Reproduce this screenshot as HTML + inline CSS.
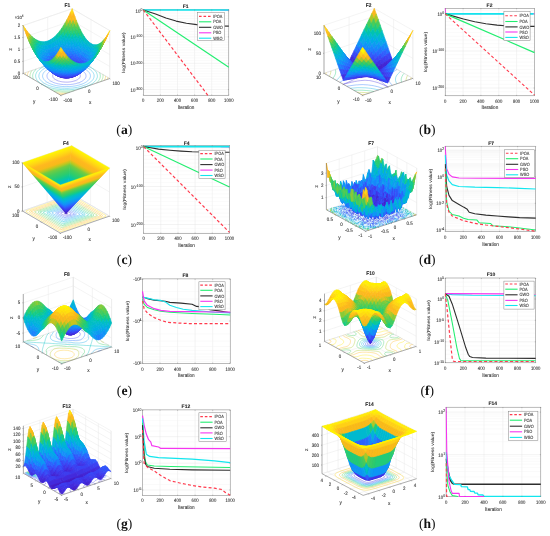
<!DOCTYPE html><html><head><meta charset="utf-8"><title>Figure</title><style>html,body{margin:0;padding:0;background:#fff}svg{display:block;text-rendering:geometricPrecision}.pl text{stroke:#444;stroke-width:.1px}.sf path{fill:currentColor;stroke:currentColor;stroke-width:7;stroke-linejoin:round}</style></head><body><svg width="550" height="536" viewBox="0 0 550 536" font-family="Liberation Sans, Arial, sans-serif"><rect width="550" height="536" fill="#fff"/><filter id="bl" x="-5%" y="-5%" width="110%" height="110%"><feGaussianBlur stdDeviation="6" result="b"/><feComponentTransfer in="b" result="c"><feFuncA type="linear" slope="30"/></feComponentTransfer><feComposite in="c" in2="SourceGraphic" operator="in"/><feGaussianBlur stdDeviation="3"/></filter><g class="pl"><path d="M60.8 95.3L23.2 73.4M23.2 73.4L23.2 25.5M85.3 86.9L47.7 65M47.7 65L47.7 17.1M109.8 78.5L72.2 56.6M72.2 56.6L72.2 8.7M60.8 95.3L23.2 73.4M23.2 73.4L23.2 25.5M109.8 78.5L72.2 56.6M72.2 56.6L72.2 8.7M60.8 95.3L109.8 78.5M109.8 78.5L109.8 30.6M42 84.3L91 67.5M91 67.5L91 19.7M23.2 73.4L72.2 56.6M72.2 56.6L72.2 8.7M60.8 95.3L109.8 78.5M109.8 78.5L109.8 30.6M23.2 73.4L72.2 56.6M72.2 56.6L72.2 8.7M23.2 73.4L72.2 56.6M72.2 56.6L109.8 78.5M23.2 61.4L72.2 44.6M72.2 44.6L109.8 66.5M23.2 49.4L72.2 32.6M72.2 32.6L109.8 54.6M23.2 37.5L72.2 20.7M72.2 20.7L109.8 42.6M23.2 25.5L72.2 8.7M72.2 8.7L109.8 30.6M23.2 73.4L72.2 56.6M72.2 56.6L109.8 78.5M23.2 25.5L72.2 8.7M72.2 8.7L109.8 30.6" stroke="#e2e2e2" stroke-width="0.4"/><g fill="none" stroke-width="4.5" transform="scale(.1)"><path stroke="#5d53ea" d="M722 815l-9 2-11 2-11 1-12 1-8 0-16 0-15-1-13-1-12-2-10-2-10-3-9-2-7-2-10-4-7-4-6-3-6-4-6-4-5-4-4-4-3-5-3-5-1-5-1-6 0-6 2-6 3-6 4-5 5-5 5-4 6-4 5-3 9-5 7-3 8-3 8-2 9-3 10-2 9-2 11-1 11-1 12-1 8 0 16 0 15 1 13 1 12 2 10 2 10 2 9 3 7 2 10 4 7 3 6 4 6 3 6 4 5 5 4 4 3 5 3 5 1 5 1 5 0 6-2 6-3 6-4 5-5 5-5 5-6 4-5 3-9 4-7 3-8 3-8 3-9 2-10 2"/><path stroke="#4f75fd" d="M729 842l-11 1-11 2-11 1-12 0-12 1-8 0-16-1-14 0-14-2-12-1-10-2-13-2-6-1-14-4-9-2-9-3-8-3-8-3-8-4-6-3-7-4-6-3-6-4-5-4-4-4-5-5-4-4-3-5-3-5-2-5-1-5-1-6 0-10 2-7 3-6 3-5 4-5 5-5 5-5 5-5 6-4 6-4 7-3 7-4 7-3 8-3 8-3 8-3 9-2 9-3 9-2 10-2 10-1 11-2 11-1 11-1 12-1 12 0 8 0 16 0 14 1 14 1 12 2 10 1 13 3 6 1 14 3 9 3 9 3 8 3 8 3 8 3 6 4 7 3 6 4 6 4 5 4 4 4 5 4 4 5 3 4 3 5 2 5 1 6 1 5 0 11-2 6-3 6-3 6-4 4-5 6-5 5-5 4-6 4-6 4-7 4-7 3-7 4-8 3-8 3-8 2-9 3-9 2-9 2-10 2-10 2"/><path stroke="#38a0fb" d="M785 852l-9 2-10 2-9 2-10 2-11 1-10 2-11 1-12 1-9 1-14 0-13 0-9 0-16 0-14-1-14-1-13-2-7-1-16-2-11-2-11-2-10-3-9-2-5-2-13-4-8-3-8-3-5-2-10-5-6-3-7-4-6-3-6-4-5-4-5-4-5-4-4-5-4-4-3-5-3-5-3-4-2-6-2-5-1-5 0-6 0-6 1-6 2-5 2-6 3-6 4-6 4-5 5-5 5-4 5-5 6-4 6-4 6-4 7-4 7-3 5-3 10-4 7-3 8-3 9-2 8-3 9-2 9-3 10-2 9-2 10-1 11-2 10-1 11-1 12-1 9-1 14-1 13 0 9 0 16 1 14 1 14 1 13 1 7 1 16 3 11 2 11 2 10 2 9 3 5 1 13 4 8 3 8 3 5 3 10 4 6 4 7 3 6 4 6 4 5 4 5 4 5 4 4 4 4 5 3 4 3 5 3 5 2 5 2 5 1 6 0 5 0 6-1 7-2 5-2 6-3 6-4 5-4 5-5 5-5 5-5 4-6 5-6 4-6 3-7 4-7 4-5 2-10 4-7 3-8 3-9 3-8 2-9 3"/><path stroke="#2bbae9" d="M780 872l-6 1-14 2-10 2-8 1-13 2-12 1-11 0-10 1-14 1-13 0-9 0-16-1-15 0-14-1-13-1-13-2-7-1-16-2-11-2-11-3-10-2-10-2-9-3-9-3-9-3-8-2-8-4-8-3-7-3-7-3-7-4-6-3-6-4-6-4-6-4-5-4-5-4-4-4-4-5-4-4-4-5-3-4-3-5-2-5-2-5-2-6-1-5 0-6 1-11 1-7 2-6 3-6 3-6 4-5 4-5 5-5 5-5 5-4 5-5 6-4 6-4 7-4 6-3 7-4 7-3 7-4 8-3 8-3 8-3 8-2 9-3 8-3 9-2 10-2 9-2 6-1 14-3 10-1 8-1 13-2 12-1 11-1 10 0 14-1 13 0 9 0 16 0 15 1 14 1 13 1 13 1 7 2 16 2 11 2 11 2 10 2 10 3 9 3 9 2 9 3 8 3 8 3 8 3 7 4 7 3 7 3 6 4 6 4 6 4 6 3 5 5 5 4 4 4 4 4 4 5 4 4 3 5 3 5 2 5 2 5 2 5 1 6 0 5-1 12-1 6-2 7-3 5-3 6-4 6-4 5-5 5-5 4-5 5-5 4-6 4-6 4-7 4-6 4-7 4-7 3-7 3-8 3-8 3-8 3-8 3-9 3-8 2-9 2-10 3-9 2"/><path stroke="#26c9cb" d="M853 869l-8 3-9 2-8 3-9 2-9 2-10 2-9 2-7 2-13 2-10 2-8 1-14 1-11 2-11 0-11 1-13 1-7 0-18 0-13 0-13 0-14-1-6 0-9-1-15-1-16-2-12-1-12-2-11-2-11-2-10-2-10-3-10-2-9-3-9-3-9-2-8-3-8-3-8-4-8-3-7-3-7-3-7-4-6-4M910 675l6 4 6 4 6 4 5 4 5 4 5 4 4 4 4 4 4 5 4 5 2 3 4 6 2 5 2 5 2 5 1 6 1 5 1 6 0 6-1 6-1 6-3 6-3 7-4 8-3 5-4 5-5 5-4 5-5 4-6 5-5 4-6 5-6 4-6 3-7 4-7 4-7 3-7 4-7 3-8 3-8 3-8 3M420 843l-6-3-6-4-6-4-5-4-5-4-5-4-4-5-4-4-4-4-4-5-2-4-4-5-2-5-2-5-2-6-1-5-1-6-1-5 0-6 1-6 1-6 3-7 3-7 4-7 3-5 4-6 5-5 4-4 5-5 6-5 5-4 6-4 6-4 6-4 7-4 7-3 7-4 7-3 7-3 8-3 8-3 8-3M477 650l8-3 9-3 8-2 9-3 9-2 10-2 9-2 7-1 13-2 10-2 8-1 14-2 11-1 11-1 11-1 13 0 7-1 18 0 13 0 13 1 14 0 6 1 9 0 15 1 16 2 12 2 12 2 11 2 11 2 10 2 10 2 10 3 9 2 9 3 9 3 8 3 8 3 8 3 8 3 7 4 7 3 7 4 6 3"/><path stroke="#49d486" d="M744 906l-7 1-11 1-12 1-12 1-12 0-9 0-16 1-13 0-14-1-6 0-8 0-7-1-7 0-6-1-10-1-15-1-14-2-12-2-9-1-13-3-6-1-15-3-6-2M994 724l4 8 2 5 1 6 1 5 1 6 0 6 0 7-1 7-2 7-2 6-3 6-3 5-4 6-4 5-3 4-5 6-5 5-5 5M336 794l-4-8-2-5-1-5-1-5-1-6 0-6 0-8 1-6 2-7 2-6 3-6 3-5 4-6 4-6 3-4 5-6 5-4 5-5M586 612l7-1 11-1 12 0 12-1 12-1 9 0 16 0 13 0 14 0 6 1 8 0 7 0 7 1 6 0 10 1 15 2 14 2 12 1 9 2 13 2 6 2 15 3 6 1"/><path stroke="#7cd464" d="M698 922l-13 0-12 1-11 0-15 0-14-1-14-1-15-1-15-1-14-1-12-2-7-1-5 0-12-2M1029 744l1 6 0 6 0 12-1 6-2 6-2 7-3 6-3 6-3 6-4 5-4 6M301 774l-1-6 0-5 0-12 1-6 2-6 2-7 3-7 3-6 3-5 4-6 4-5M632 596l13 0 12 0 11 0 15 0 14 0 14 1 15 1 15 1 14 2 12 1 7 1 5 1 12 2"/><path stroke="#f8c43c" d="M663 934l-10 0-6 0-7 0-9-1-15 0-14-1-13-1-7-1-7-1-9-1M1056 760l-1 7-1 7-1 7-2 6-3 6-3 6-2 5M274 758l1-7 1-7 1-6 2-7 3-6 3-6 2-4M667 585l10 0 6 0 7 0 9 0 15 1 14 1 13 1 7 1 7 0 9 1"/><path stroke="#ffd23b" d="M634 944l-15-1-15 0-14-1M1078 773l-1 7-2 6-2 7M252 745l1-6 2-7 2-6M696 574l15 1 15 1 14 1"/></g><g class="sf" filter="url(#bl)" transform="scale(.1)"><path color="#ffd815" d="M718 167l17-39-13-41-18 39z"/><path color="#ffb81e" d="M700 203l18-36-14-41-17 36z"/><path color="#f8ba1a" d="M683 237l17-34-13-41-18 35z"/><path color="#acc827" d="M665 269l18-32-14-40-17 31z"/><path color="#62cc4a" d="M648 298l17-29-13-41-18 29z"/><path color="#3fcc60" d="M630 325l18-27-14-41-17 27z"/><path color="#2ccc6d" d="M613 349l17-24-13-41-18 25z"/><path color="#19cb85" d="M595 371l18-22-14-40-17 21z"/><path color="#09c7a1" d="M578 391l17-20-13-41-18 20z"/><path color="#05c3b1" d="M560 408l18-17-14-41-17 17z"/><path color="#00bfc2" d="M543 422l17-14-13-41-18 14z"/><path color="#01bcc8" d="M525 434l18-12-14-41-17 12z"/><path color="#02b9cf" d="M508 444l17-10-13-41-18 10zM490 451l18-7-14-41-17 7zM473 456l17-5-13-41-18 5zM455 458l18-2-14-41-17 3z"/><path color="#01bcc8" d="M438 458l17 0-13-40-18-1z"/><path color="#00bfc2" d="M420 456l18 2-14-41-17-2z"/><path color="#05c3b1" d="M403 451l17 5-13-41-18-5z"/><path color="#09c7a1" d="M385 443l18 8-14-41-17-8z"/><path color="#19cb85" d="M368 433l17 10-13-41-18-9z"/><path color="#2ccc6d" d="M350 421l18 12-14-40-17-13z"/><path color="#3fcc60" d="M333 406l17 15-13-41-18-14z"/><path color="#62cc4a" d="M315 389l18 17-14-40-17-18z"/><path color="#acc827" d="M298 370l17 19-13-41-18-19z"/><path color="#f8ba1a" d="M280 347l18 23-14-41-17-22z"/><path color="#ffb81e" d="M263 323l17 24-13-40-18-25z"/><path color="#ffd815" d="M245 296l18 27-14-41-17-27z"/><path color="#ffb81e" d="M731 205l18-39-14-38-17 39z"/><path color="#f8ba1a" d="M714 242l17-37-13-38-18 36z"/><path color="#8aca36" d="M696 276l18-34-14-39-17 34z"/><path color="#55cc51" d="M679 307l17-31-13-39-18 32z"/><path color="#36cc67" d="M661 337l18-30-14-38-17 29z"/><path color="#23cb78" d="M644 363l17-26-13-39-18 27z"/><path color="#09c7a1" d="M626 388l18-25-14-38-17 24z"/><path color="#00bfc2" d="M609 410l17-22-13-39-18 22z"/><path color="#01bcc8" d="M591 429l18-19-14-39-17 20z"/><path color="#03b6d5" d="M574 446l17-17-13-38-18 17z"/><path color="#04b2db" d="M556 461l18-15-14-38-17 14z"/><path color="#05afe2" d="M539 473l17-12-13-39-18 12zM521 482l18-9-14-39-17 10z"/><path color="#06abe7" d="M504 490l17-8-13-38-18 7zM486 494l18-4-14-39-17 5z"/><path color="#05afe2" d="M469 497l17-3-13-38-18 2zM451 497l18 0-14-39-17 0z"/><path color="#04b2db" d="M434 494l17 3-13-39-18-2z"/><path color="#03b6d5" d="M416 489l18 5-14-38-17-5z"/><path color="#01bcc8" d="M399 482l17 7-13-38-18-8z"/><path color="#00bfc2" d="M381 472l18 10-14-39-17-10z"/><path color="#09c7a1" d="M364 459l17 13-13-39-18-12z"/><path color="#23cb78" d="M346 445l18 14-14-38-17-15z"/><path color="#36cc67" d="M329 428l17 17-13-39-18-17z"/><path color="#55cc51" d="M311 408l18 20-14-39-17-19z"/><path color="#8aca36" d="M294 386l17 22-13-38-18-23z"/><path color="#f8ba1a" d="M276 361l18 25-14-39-17-24z"/><path color="#ffb81e" d="M259 334l17 27-13-38-18-27z"/><path color="#f8ba1a" d="M745 241l17-39-13-36-18 39z"/><path color="#8aca36" d="M727 278l18-37-14-36-17 37z"/><path color="#55cc51" d="M710 312l17-34-13-36-18 34z"/><path color="#36cc67" d="M692 343l18-31-14-36-17 31z"/><path color="#19cb85" d="M675 372l17-29-13-36-18 30z"/><path color="#05c3b1" d="M657 399l18-27-14-35-17 26z"/><path color="#01bcc8" d="M640 424l17-25-13-36-18 25z"/><path color="#03b6d5" d="M622 445l18-21-14-36-17 22z"/><path color="#05afe2" d="M605 465l17-20-13-35-18 19z"/><path color="#06abe7" d="M587 482l18-17-14-36-17 17z"/><path color="#09a6eb" d="M570 496l17-14-13-36-18 15z"/><path color="#0ca0ee" d="M552 509l18-13-14-35-17 12z"/><path color="#0e9bf2" d="M535 518l17-9-13-36-18 9zM517 525l18-7-14-36-17 8zM500 530l17-5-13-35-18 4zM482 533l18-3-14-36-17 3z"/><path color="#0ca0ee" d="M465 532l17 1-13-36-18 0z"/><path color="#09a6eb" d="M447 530l18 2-14-35-17-3z"/><path color="#06abe7" d="M430 525l17 5-13-36-18-5z"/><path color="#05afe2" d="M412 518l18 7-14-36-17-7z"/><path color="#03b6d5" d="M395 508l17 10-13-36-18-10z"/><path color="#01bcc8" d="M377 495l18 13-14-36-17-13z"/><path color="#05c3b1" d="M360 481l17 14-13-36-18-14z"/><path color="#19cb85" d="M342 463l18 18-14-36-17-17z"/><path color="#36cc67" d="M325 444l17 19-13-35-18-20z"/><path color="#55cc51" d="M307 422l18 22-14-36-17-22z"/><path color="#8aca36" d="M290 397l17 25-13-36-18-25z"/><path color="#f8ba1a" d="M272 370l18 27-14-36-17-27z"/><path color="#acc827" d="M758 274l18-38-14-34-17 39z"/><path color="#55cc51" d="M741 311l17-37-13-33-18 37z"/><path color="#36cc67" d="M723 345l18-34-14-33-17 34z"/><path color="#19cb85" d="M706 377l17-32-13-33-18 31z"/><path color="#05c3b1" d="M688 406l18-29-14-34-17 29z"/><path color="#02b9cf" d="M671 433l17-27-13-34-18 27z"/><path color="#04b2db" d="M653 457l18-24-14-34-17 25z"/><path color="#06abe7" d="M636 479l17-22-13-33-18 21z"/><path color="#0ca0ee" d="M618 498l18-19-14-34-17 20z"/><path color="#0e9bf2" d="M601 515l17-17-13-33-18 17z"/><path color="#1195f6" d="M583 530l18-15-14-33-17 14z"/><path color="#1490f9" d="M566 542l17-12-13-34-18 13z"/><path color="#1888fb" d="M548 552l18-10-14-33-17 9zM531 559l17-7-13-34-18 7zM513 564l18-5-14-34-17 5zM496 566l17-2-13-34-18 3z"/><path color="#1490f9" d="M478 566l18 0-14-33-17-1z"/><path color="#1195f6" d="M461 563l17 3-13-34-18-2z"/><path color="#0e9bf2" d="M443 558l18 5-14-33-17-5z"/><path color="#0ca0ee" d="M426 551l17 7-13-33-18-7z"/><path color="#06abe7" d="M408 541l18 10-14-33-17-10z"/><path color="#04b2db" d="M391 529l17 12-13-33-18-13z"/><path color="#02b9cf" d="M373 514l18 15-14-34-17-14z"/><path color="#05c3b1" d="M356 497l17 17-13-33-18-18z"/><path color="#19cb85" d="M338 477l18 20-14-34-17-19z"/><path color="#36cc67" d="M321 455l17 22-13-33-18-22z"/><path color="#55cc51" d="M303 431l18 24-14-33-17-25z"/><path color="#acc827" d="M286 404l17 27-13-34-18-27z"/><path color="#62cc4a" d="M772 306l17-39-13-31-18 38z"/><path color="#36cc67" d="M754 342l18-36-14-32-17 37z"/><path color="#19cb85" d="M737 376l17-34-13-31-18 34z"/><path color="#05c3b1" d="M719 408l18-32-14-31-17 32z"/><path color="#02b9cf" d="M702 437l17-29-13-31-18 29z"/><path color="#05afe2" d="M684 464l18-27-14-31-17 27z"/><path color="#09a6eb" d="M667 488l17-24-13-31-18 24z"/><path color="#0e9bf2" d="M649 510l18-22-14-31-17 22z"/><path color="#1490f9" d="M632 529l17-19-13-31-18 19z"/><path color="#1888fb" d="M614 546l18-17-14-31-17 17z"/><path color="#1e7efc" d="M597 561l17-15-13-31-18 15z"/><path color="#2375fd" d="M579 573l18-12-14-31-17 12z"/><path color="#286cfe" d="M562 583l17-10-13-31-18 10zM544 590l18-7-14-31-17 7zM527 595l17-5-13-31-18 5zM509 597l18-2-14-31-17 2z"/><path color="#2375fd" d="M492 597l17 0-13-31-18 0z"/><path color="#1e7efc" d="M474 594l18 3-14-31-17-3z"/><path color="#1888fb" d="M457 589l17 5-13-31-18-5z"/><path color="#1490f9" d="M439 582l18 7-14-31-17-7z"/><path color="#0e9bf2" d="M422 572l17 10-13-31-18-10z"/><path color="#09a6eb" d="M404 560l18 12-14-31-17-12z"/><path color="#05afe2" d="M387 545l17 15-13-31-18-15z"/><path color="#02b9cf" d="M369 528l18 17-14-31-17-17z"/><path color="#05c3b1" d="M352 508l17 20-13-31-18-20z"/><path color="#19cb85" d="M334 486l18 22-14-31-17-22z"/><path color="#36cc67" d="M317 462l17 24-13-31-18-24z"/><path color="#62cc4a" d="M299 435l18 27-14-31-17-27z"/><path color="#3fcc60" d="M785 334l18-39-14-28-17 39z"/><path color="#23cb78" d="M768 371l17-37-13-28-18 36z"/><path color="#05c3b1" d="M750 405l18-34-14-29-17 34z"/><path color="#02b9cf" d="M733 436l17-31-13-29-18 32z"/><path color="#05afe2" d="M715 466l18-30-14-28-17 29z"/><path color="#09a6eb" d="M698 492l17-26-13-29-18 27z"/><path color="#1195f6" d="M680 517l18-25-14-28-17 24z"/><path color="#1888fb" d="M663 539l17-22-13-29-18 22z"/><path color="#1e7efc" d="M645 558l18-19-14-29-17 19z"/><path color="#286cfe" d="M628 575l17-17-13-29-18 17z"/><path color="#2d63fe" d="M610 590l18-15-14-29-17 15z"/><path color="#315bfc" d="M593 602l17-12-13-29-18 12zM575 611l18-9-14-29-17 10z"/><path color="#3452f9" d="M558 619l17-8-13-28-18 7zM540 623l18-4-14-29-17 5z"/><path color="#315bfc" d="M523 626l17-3-13-28-18 2zM505 626l18 0-14-29-17 0z"/><path color="#2d63fe" d="M488 623l17 3-13-29-18-3z"/><path color="#286cfe" d="M470 618l18 5-14-29-17-5z"/><path color="#1e7efc" d="M453 611l17 7-13-29-18-7z"/><path color="#1888fb" d="M435 601l18 10-14-29-17-10z"/><path color="#1195f6" d="M418 588l17 13-13-29-18-12z"/><path color="#09a6eb" d="M400 574l18 14-14-28-17-15z"/><path color="#05afe2" d="M383 557l17 17-13-29-18-17z"/><path color="#02b9cf" d="M365 537l18 20-14-29-17-20z"/><path color="#05c3b1" d="M348 515l17 22-13-29-18-22z"/><path color="#23cb78" d="M330 490l18 25-14-29-17-24z"/><path color="#3fcc60" d="M313 463l17 27-13-28-18-27z"/><path color="#2ccc6d" d="M798 360l18-39-13-26-18 39z"/><path color="#09c7a1" d="M781 397l17-37-13-26-17 37z"/><path color="#01bcc8" d="M763 431l18-34-13-26-18 34z"/><path color="#04b2db" d="M746 462l17-31-13-26-17 31z"/><path color="#09a6eb" d="M728 492l18-30-13-26-18 30z"/><path color="#1195f6" d="M711 518l17-26-13-26-17 26z"/><path color="#1888fb" d="M693 543l18-25-13-26-18 25z"/><path color="#2375fd" d="M676 565l17-22-13-26-17 22z"/><path color="#2d63fe" d="M658 584l18-19-13-26-18 19z"/><path color="#315bfc" d="M641 601l17-17-13-26-17 17z"/><path color="#3452f9" d="M623 616l18-15-13-26-18 15z"/><path color="#384af6" d="M606 628l17-12-13-26-17 12z"/><path color="#3b43f3" d="M588 637l18-9-13-26-18 9zM571 645l17-8-13-26-17 8zM553 649l18-4-13-26-18 4zM536 652l17-3-13-26-17 3z"/><path color="#384af6" d="M518 652l18 0-13-26-18 0z"/><path color="#3452f9" d="M501 649l17 3-13-26-17-3z"/><path color="#315bfc" d="M483 644l18 5-13-26-18-5z"/><path color="#2d63fe" d="M466 637l17 7-13-26-17-7z"/><path color="#2375fd" d="M448 627l18 10-13-26-18-10z"/><path color="#1888fb" d="M431 615l17 12-13-26-17-13z"/><path color="#1195f6" d="M414 600l17 15-13-27-18-14z"/><path color="#09a6eb" d="M396 583l18 17-14-26-17-17z"/><path color="#04b2db" d="M379 563l17 20-13-26-18-20z"/><path color="#01bcc8" d="M361 541l18 22-14-26-17-22z"/><path color="#09c7a1" d="M344 516l17 25-13-26-18-25z"/><path color="#2ccc6d" d="M326 489l18 27-14-26-17-27z"/><path color="#19cb85" d="M812 384l17-39-13-24-18 39z"/><path color="#00bfc2" d="M794 420l18-36-14-24-17 37z"/><path color="#03b6d5" d="M777 455l17-35-13-23-18 34z"/><path color="#06abe7" d="M759 486l18-31-14-24-17 31z"/><path color="#0e9bf2" d="M742 515l17-29-13-24-18 30z"/><path color="#1888fb" d="M724 542l18-27-14-23-17 26z"/><path color="#2375fd" d="M707 566l17-24-13-24-18 25z"/><path color="#2d63fe" d="M689 588l18-22-14-23-17 22z"/><path color="#3452f9" d="M672 608l17-20-13-23-18 19z"/><path color="#384af6" d="M654 625l18-17-14-24-17 17z"/><path color="#3b43f3" d="M637 639l17-14-13-24-18 15z"/><path color="#3d3dee" d="M619 651l18-12-14-23-17 12z"/><path color="#3f37e8" d="M602 661l17-10-13-23-18 9zM584 668l18-7-14-24-17 8zM567 673l17-5-13-23-18 4zM549 675l18-2-14-24-17 3z"/><path color="#3d3dee" d="M532 675l17 0-13-23-18 0z"/><path color="#3b43f3" d="M514 673l18 2-14-23-17-3z"/><path color="#384af6" d="M497 668l17 5-13-24-18-5z"/><path color="#3452f9" d="M479 660l18 8-14-24-17-7z"/><path color="#2d63fe" d="M462 651l17 9-13-23-18-10z"/><path color="#2375fd" d="M444 638l18 13-14-24-17-12z"/><path color="#1888fb" d="M427 624l17 14-13-23-17-15z"/><path color="#0e9bf2" d="M409 606l18 18-13-24-18-17z"/><path color="#06abe7" d="M392 587l17 19-13-23-17-20z"/><path color="#03b6d5" d="M374 565l18 22-13-24-18-22z"/><path color="#00bfc2" d="M357 540l17 25-13-24-17-25z"/><path color="#19cb85" d="M339 513l18 27-13-24-18-27z"/><path color="#09c7a1" d="M825 405l18-39-14-21-17 39z"/><path color="#01bcc8" d="M808 442l17-37-13-21-18 36z"/><path color="#05afe2" d="M790 476l18-34-14-22-17 35z"/><path color="#0ca0ee" d="M773 507l17-31-13-21-18 31z"/><path color="#1490f9" d="M755 537l18-30-14-21-17 29z"/><path color="#1e7efc" d="M738 563l17-26-13-22-18 27z"/><path color="#2d63fe" d="M720 588l18-25-14-21-17 24z"/><path color="#3452f9" d="M703 610l17-22-13-22-18 22z"/><path color="#384af6" d="M685 629l18-19-14-22-17 20z"/><path color="#3d3dee" d="M668 646l17-17-13-21-18 17z"/><path color="#3f37e8" d="M650 661l18-15-14-21-17 14z"/><path color="#4131e3" d="M633 673l17-12-13-22-18 12zM615 682l18-9-14-22-17 10z"/><path color="#432cdd" d="M598 690l17-8-13-21-18 7zM580 694l18-4-14-22-17 5z"/><path color="#4131e3" d="M563 697l17-3-13-21-18 2zM545 697l18 0-14-22-17 0z"/><path color="#3f37e8" d="M528 694l17 3-13-22-18-2z"/><path color="#3d3dee" d="M510 689l18 5-14-21-17-5z"/><path color="#384af6" d="M493 682l17 7-13-21-18-8z"/><path color="#3452f9" d="M475 672l18 10-14-22-17-9z"/><path color="#2d63fe" d="M458 660l17 12-13-21-18-13z"/><path color="#1e7efc" d="M440 645l18 15-14-22-17-14z"/><path color="#1490f9" d="M423 628l17 17-13-21-18-18z"/><path color="#0ca0ee" d="M405 608l18 20-14-22-17-19z"/><path color="#05afe2" d="M388 586l17 22-13-21-18-22z"/><path color="#01bcc8" d="M370 561l18 25-14-21-17-25z"/><path color="#09c7a1" d="M353 534l17 27-13-21-18-27z"/><path color="#05c3b1" d="M839 424l17-39-13-19-18 39z"/><path color="#03b6d5" d="M821 461l18-37-14-19-17 37z"/><path color="#06abe7" d="M804 495l17-34-13-19-18 34z"/><path color="#0e9bf2" d="M786 526l18-31-14-19-17 31z"/><path color="#1888fb" d="M769 555l17-29-13-19-18 30z"/><path color="#286cfe" d="M751 582l18-27-14-18-17 26z"/><path color="#315bfc" d="M734 607l17-25-13-19-18 25z"/><path color="#384af6" d="M716 628l18-21-14-19-17 22z"/><path color="#3d3dee" d="M699 648l17-20-13-18-18 19z"/><path color="#3f37e8" d="M681 665l18-17-14-19-17 17z"/><path color="#4131e3" d="M664 679l17-14-13-19-18 15z"/><path color="#432cdd" d="M646 692l18-13-14-18-17 12z"/><path color="#4327d5" d="M629 701l17-9-13-19-18 9zM611 708l18-7-14-19-17 8zM594 713l17-5-13-18-18 4zM576 716l18-3-14-19-17 3z"/><path color="#432cdd" d="M559 715l17 1-13-19-18 0z"/><path color="#4131e3" d="M541 713l18 2-14-18-17-3z"/><path color="#3f37e8" d="M524 708l17 5-13-19-18-5z"/><path color="#3d3dee" d="M506 701l18 7-14-19-17-7z"/><path color="#384af6" d="M489 691l17 10-13-19-18-10z"/><path color="#315bfc" d="M471 678l18 13-14-19-17-12z"/><path color="#286cfe" d="M454 664l17 14-13-18-18-15z"/><path color="#1888fb" d="M436 646l18 18-14-19-17-17z"/><path color="#0e9bf2" d="M419 627l17 19-13-18-18-20z"/><path color="#06abe7" d="M401 605l18 22-14-19-17-22z"/><path color="#03b6d5" d="M384 580l17 25-13-19-18-25z"/><path color="#05c3b1" d="M366 553l18 27-14-19-17-27z"/><path color="#00bfc2" d="M852 440l18-39-14-16-17 39z"/><path color="#04b2db" d="M835 477l17-37-13-16-18 37z"/><path color="#09a6eb" d="M817 511l18-34-14-16-17 34z"/><path color="#1195f6" d="M800 543l17-32-13-16-18 31z"/><path color="#1e7efc" d="M782 572l18-29-14-17-17 29z"/><path color="#2d63fe" d="M765 599l17-27-13-17-18 27z"/><path color="#3452f9" d="M747 623l18-24-14-17-17 25z"/><path color="#3b43f3" d="M730 645l17-22-13-16-18 21z"/><path color="#3f37e8" d="M712 664l18-19-14-17-17 20z"/><path color="#4131e3" d="M695 681l17-17-13-16-18 17z"/><path color="#432cdd" d="M677 696l18-15-14-16-17 14z"/><path color="#4327d5" d="M660 708l17-12-13-17-18 13z"/><path color="#4423ce" d="M642 718l18-10-14-16-17 9zM625 725l17-7-13-17-18 7zM607 730l18-5-14-17-17 5zM590 732l17-2-13-17-18 3z"/><path color="#4327d5" d="M572 732l18 0-14-16-17-1z"/><path color="#432cdd" d="M555 729l17 3-13-17-18-2z"/><path color="#4131e3" d="M537 724l18 5-14-16-17-5z"/><path color="#3f37e8" d="M520 717l17 7-13-16-18-7z"/><path color="#3b43f3" d="M502 707l18 10-14-16-17-10z"/><path color="#3452f9" d="M485 695l17 12-13-16-18-13z"/><path color="#2d63fe" d="M467 680l18 15-14-17-17-14z"/><path color="#1e7efc" d="M450 663l17 17-13-16-18-18z"/><path color="#1195f6" d="M432 643l18 20-14-17-17-19z"/><path color="#09a6eb" d="M415 621l17 22-13-16-18-22z"/><path color="#04b2db" d="M397 597l18 24-14-16-17-25z"/><path color="#00bfc2" d="M380 570l17 27-13-17-18-27z"/><path color="#01bcc8" d="M866 454l17-39-13-14-18 39z"/><path color="#05afe2" d="M848 491l18-37-14-14-17 37z"/><path color="#0ca0ee" d="M831 525l17-34-13-14-18 34z"/><path color="#1490f9" d="M813 557l18-32-14-14-17 32z"/><path color="#2375fd" d="M796 586l17-29-13-14-18 29z"/><path color="#315bfc" d="M778 613l18-27-14-14-17 27z"/><path color="#384af6" d="M761 637l17-24-13-14-18 24z"/><path color="#3d3dee" d="M743 659l18-22-14-14-17 22z"/><path color="#4131e3" d="M726 678l17-19-13-14-18 19z"/><path color="#432cdd" d="M708 695l18-17-14-14-17 17z"/><path color="#4327d5" d="M691 710l17-15-13-14-18 15z"/><path color="#4423ce" d="M673 722l18-12-14-14-17 12z"/><path color="#441ec7" d="M656 732l17-10-13-14-18 10zM638 739l18-7-14-14-17 7zM621 744l17-5-13-14-18 5zM603 746l18-2-14-14-17 2z"/><path color="#4423ce" d="M586 746l17 0-13-14-18 0z"/><path color="#4327d5" d="M568 743l18 3-14-14-17-3z"/><path color="#432cdd" d="M551 738l17 5-13-14-18-5z"/><path color="#4131e3" d="M533 731l18 7-14-14-17-7z"/><path color="#3d3dee" d="M516 721l17 10-13-14-18-10z"/><path color="#384af6" d="M498 709l18 12-14-14-17-12z"/><path color="#315bfc" d="M481 694l17 15-13-14-18-15z"/><path color="#2375fd" d="M463 677l18 17-14-14-17-17z"/><path color="#1490f9" d="M446 657l17 20-13-14-18-20z"/><path color="#0ca0ee" d="M428 635l18 22-14-14-17-22z"/><path color="#05afe2" d="M411 611l17 24-13-14-18-24z"/><path color="#01bcc8" d="M393 584l18 27-14-14-17-27z"/><path color="#02b9cf" d="M879 466l18-39-14-12-17 39z"/><path color="#05afe2" d="M862 502l17-36-13-12-18 37z"/><path color="#0e9bf2" d="M844 536l18-34-14-11-17 34z"/><path color="#1888fb" d="M827 568l17-32-13-11-18 32z"/><path color="#286cfe" d="M809 597l18-29-14-11-17 29z"/><path color="#315bfc" d="M792 624l17-27-13-11-18 27z"/><path color="#3b43f3" d="M774 648l18-24-14-11-17 24z"/><path color="#3f37e8" d="M757 670l17-22-13-11-18 22z"/><path color="#4131e3" d="M739 690l18-20-14-11-17 19z"/><path color="#4327d5" d="M722 707l17-17-13-12-18 17z"/><path color="#4423ce" d="M704 721l18-14-14-12-17 15z"/><path color="#441ec7" d="M687 733l17-12-13-11-18 12zM669 743l18-10-14-11-17 10z"/><path color="#451abf" d="M652 750l17-7-13-11-18 7zM634 755l18-5-14-11-17 5z"/><path color="#441ec7" d="M617 757l17-2-13-11-18 2zM599 757l18 0-14-11-17 0z"/><path color="#4423ce" d="M582 755l17 2-13-11-18-3z"/><path color="#4327d5" d="M564 750l18 5-14-12-17-5z"/><path color="#4131e3" d="M547 742l17 8-13-12-18-7z"/><path color="#3f37e8" d="M529 732l18 10-14-11-17-10z"/><path color="#3b43f3" d="M512 720l17 12-13-11-18-12z"/><path color="#315bfc" d="M494 705l18 15-14-11-17-15z"/><path color="#286cfe" d="M477 688l17 17-13-11-18-17z"/><path color="#1888fb" d="M459 669l18 19-14-11-17-20z"/><path color="#0e9bf2" d="M442 647l17 22-13-12-18-22z"/><path color="#05afe2" d="M424 622l18 25-14-12-17-24z"/><path color="#02b9cf" d="M407 595l17 27-13-11-18-27zM892 475l18-39-13-9-18 39z"/><path color="#06abe7" d="M875 511l17-36-13-9-17 36z"/><path color="#0e9bf2" d="M857 545l18-34-13-9-18 34z"/><path color="#1888fb" d="M840 577l17-32-13-9-17 32z"/><path color="#286cfe" d="M822 606l18-29-13-9-18 29z"/><path color="#3452f9" d="M805 633l17-27-13-9-17 27z"/><path color="#3b43f3" d="M787 657l18-24-13-9-18 24z"/><path color="#3f37e8" d="M770 679l17-22-13-9-17 22z"/><path color="#432cdd" d="M752 699l18-20-13-9-18 20z"/><path color="#4327d5" d="M735 716l17-17-13-9-17 17z"/><path color="#4423ce" d="M717 730l18-14-13-9-18 14z"/><path color="#441ec7" d="M700 742l17-12-13-9-17 12z"/><path color="#451abf" d="M682 752l18-10-13-9-18 10zM665 759l17-7-13-9-17 7zM648 764l17-5-13-9-18 5zM630 766l18-2-14-9-17 2z"/><path color="#441ec7" d="M613 766l17 0-13-9-18 0z"/><path color="#4423ce" d="M595 764l18 2-14-9-17-2z"/><path color="#4327d5" d="M578 759l17 5-13-9-18-5z"/><path color="#432cdd" d="M560 751l18 8-14-9-17-8z"/><path color="#3f37e8" d="M543 742l17 9-13-9-18-10z"/><path color="#3b43f3" d="M525 729l18 13-14-10-17-12z"/><path color="#3452f9" d="M508 714l17 15-13-9-18-15z"/><path color="#286cfe" d="M490 697l18 17-14-9-17-17z"/><path color="#1888fb" d="M473 678l17 19-13-9-18-19z"/><path color="#0e9bf2" d="M455 656l18 22-14-9-17-22z"/><path color="#06abe7" d="M438 631l17 25-13-9-18-25z"/><path color="#02b9cf" d="M420 604l18 27-14-9-17-27zM906 481l17-38-13-7-18 39z"/><path color="#06abe7" d="M888 518l18-37-14-6-17 36z"/><path color="#0e9bf2" d="M871 552l17-34-13-7-18 34z"/><path color="#1888fb" d="M853 584l18-32-14-7-17 32z"/><path color="#286cfe" d="M836 613l17-29-13-7-18 29z"/><path color="#3452f9" d="M818 640l18-27-14-7-17 27z"/><path color="#3b43f3" d="M801 664l17-24-13-7-18 24z"/><path color="#3f37e8" d="M783 686l18-22-14-7-17 22z"/><path color="#432cdd" d="M766 705l17-19-13-7-18 20z"/><path color="#4327d5" d="M748 722l18-17-14-6-17 17z"/><path color="#4423ce" d="M731 737l17-15-13-6-18 14z"/><path color="#441ec7" d="M713 749l18-12-14-7-17 12z"/><path color="#451abf" d="M696 759l17-10-13-7-18 10zM678 766l18-7-14-7-17 7zM661 771l17-5-13-7-17 5zM643 773l18-2-13-7-18 2z"/><path color="#441ec7" d="M626 773l17 0-13-7-17 0z"/><path color="#4423ce" d="M608 770l18 3-13-7-18-2z"/><path color="#4327d5" d="M591 765l17 5-13-6-17-5z"/><path color="#432cdd" d="M573 758l18 7-13-6-18-8z"/><path color="#3f37e8" d="M556 748l17 10-13-7-17-9z"/><path color="#3b43f3" d="M538 736l18 12-13-6-18-13z"/><path color="#3452f9" d="M521 721l17 15-13-7-17-15z"/><path color="#286cfe" d="M503 704l18 17-13-7-18-17z"/><path color="#1888fb" d="M486 684l17 20-13-7-17-19z"/><path color="#0e9bf2" d="M468 662l18 22-13-6-18-22z"/><path color="#06abe7" d="M451 638l17 24-13-6-17-25z"/><path color="#02b9cf" d="M433 611l18 27-13-7-18-27zM919 486l18-39-14-4-17 38z"/><path color="#05afe2" d="M902 522l17-36-13-5-18 37z"/><path color="#0e9bf2" d="M884 556l18-34-14-4-17 34z"/><path color="#1888fb" d="M867 588l17-32-13-4-18 32z"/><path color="#286cfe" d="M849 617l18-29-14-4-17 29z"/><path color="#315bfc" d="M832 644l17-27-13-4-18 27z"/><path color="#3b43f3" d="M814 668l18-24-14-4-17 24z"/><path color="#3f37e8" d="M797 690l17-22-13-4-18 22z"/><path color="#4131e3" d="M779 709l18-19-14-4-17 19z"/><path color="#4327d5" d="M762 726l17-17-13-4-18 17z"/><path color="#4423ce" d="M744 741l18-15-14-4-17 15z"/><path color="#441ec7" d="M727 753l17-12-13-4-18 12zM709 763l18-10-14-4-17 10z"/><path color="#451abf" d="M692 770l17-7-13-4-18 7zM674 775l18-5-14-4-17 5z"/><path color="#441ec7" d="M657 777l17-2-13-4-18 2zM639 777l18 0-14-4-17 0z"/><path color="#4423ce" d="M622 775l17 2-13-4-18-3z"/><path color="#4327d5" d="M604 770l18 5-14-5-17-5z"/><path color="#4131e3" d="M587 762l17 8-13-5-18-7z"/><path color="#3f37e8" d="M569 752l18 10-14-4-17-10z"/><path color="#3b43f3" d="M552 740l17 12-13-4-18-12z"/><path color="#315bfc" d="M534 725l18 15-14-4-17-15z"/><path color="#286cfe" d="M517 708l17 17-13-4-18-17z"/><path color="#1888fb" d="M499 688l18 20-14-4-17-20z"/><path color="#0e9bf2" d="M482 666l17 22-13-4-18-22z"/><path color="#05afe2" d="M464 642l18 24-14-4-17-24z"/><path color="#02b9cf" d="M447 615l17 27-13-4-18-27z"/><path color="#01bcc8" d="M933 487l17-39-13-1-18 39z"/><path color="#05afe2" d="M915 524l18-37-14-1-17 36z"/><path color="#0ca0ee" d="M898 558l17-34-13-2-18 34z"/><path color="#1490f9" d="M880 590l18-32-14-2-17 32z"/><path color="#2375fd" d="M863 619l17-29-13-2-18 29z"/><path color="#315bfc" d="M845 646l18-27-14-2-17 27z"/><path color="#384af6" d="M828 670l17-24-13-2-18 24z"/><path color="#3d3dee" d="M810 692l18-22-14-2-17 22z"/><path color="#4131e3" d="M793 711l17-19-13-2-18 19z"/><path color="#432cdd" d="M775 728l18-17-14-2-17 17z"/><path color="#4327d5" d="M758 743l17-15-13-2-18 15z"/><path color="#4423ce" d="M740 755l18-12-14-2-17 12z"/><path color="#441ec7" d="M723 765l17-10-13-2-18 10zM705 772l18-7-14-2-17 7zM688 777l17-5-13-2-18 5zM670 779l18-2-14-2-17 2z"/><path color="#4423ce" d="M653 779l17 0-13-2-18 0z"/><path color="#4327d5" d="M635 776l18 3-14-2-17-2z"/><path color="#432cdd" d="M618 771l17 5-13-1-18-5z"/><path color="#4131e3" d="M600 764l18 7-14-1-17-8z"/><path color="#3d3dee" d="M583 754l17 10-13-2-18-10z"/><path color="#384af6" d="M565 742l18 12-14-2-17-12z"/><path color="#315bfc" d="M548 727l17 15-13-2-18-15z"/><path color="#2375fd" d="M530 710l18 17-14-2-17-17z"/><path color="#1490f9" d="M513 690l17 20-13-2-18-20z"/><path color="#0ca0ee" d="M495 668l18 22-14-2-17-22z"/><path color="#05afe2" d="M478 644l17 24-13-2-18-24z"/><path color="#01bcc8" d="M460 617l18 27-14-2-17-27z"/><path color="#00bfc2" d="M946 487l18-39-14 0-17 39z"/><path color="#04b2db" d="M929 523l17-36-13 0-18 37z"/><path color="#09a6eb" d="M911 557l18-34-14 1-17 34z"/><path color="#1195f6" d="M894 589l17-32-13 1-18 32z"/><path color="#1e7efc" d="M876 618l18-29-14 1-17 29z"/><path color="#2d63fe" d="M859 645l17-27-13 1-18 27z"/><path color="#3452f9" d="M841 669l18-24-14 1-17 24z"/><path color="#3b43f3" d="M824 691l17-22-13 1-18 22z"/><path color="#3f37e8" d="M806 711l18-20-14 1-17 19z"/><path color="#4131e3" d="M789 728l17-17-13 0-18 17z"/><path color="#432cdd" d="M771 742l18-14-14 0-17 15z"/><path color="#4327d5" d="M754 754l17-12-13 1-18 12z"/><path color="#4423ce" d="M736 764l18-10-14 1-17 10zM719 771l17-7-13 1-18 7zM701 776l18-5-14 1-17 5zM684 778l17-2-13 1-18 2z"/><path color="#4327d5" d="M666 778l18 0-14 1-17 0z"/><path color="#432cdd" d="M649 776l17 2-13 1-18-3z"/><path color="#4131e3" d="M631 771l18 5-14 0-17-5z"/><path color="#3f37e8" d="M614 763l17 8-13 0-18-7z"/><path color="#3b43f3" d="M596 753l18 10-14 1-17-10z"/><path color="#3452f9" d="M579 741l17 12-13 1-18-12z"/><path color="#2d63fe" d="M561 726l18 15-14 1-17-15z"/><path color="#1e7efc" d="M544 709l17 17-13 1-18-17z"/><path color="#1195f6" d="M526 689l18 20-14 1-17-20z"/><path color="#09a6eb" d="M509 667l17 22-13 1-18-22z"/><path color="#04b2db" d="M491 643l18 24-14 1-17-24z"/><path color="#00bfc2" d="M474 616l17 27-13 1-18-27z"/><path color="#05c3b1" d="M960 483l17-38-13 3-18 39z"/><path color="#03b6d5" d="M942 520l18-37-14 4-17 36z"/><path color="#06abe7" d="M925 554l17-34-13 3-18 34z"/><path color="#0e9bf2" d="M907 586l18-32-14 3-17 32z"/><path color="#1888fb" d="M890 615l17-29-13 3-18 29z"/><path color="#286cfe" d="M872 642l18-27-14 3-17 27z"/><path color="#315bfc" d="M855 666l17-24-13 3-18 24z"/><path color="#384af6" d="M837 688l18-22-14 3-17 22z"/><path color="#3d3dee" d="M820 707l17-19-13 3-18 20z"/><path color="#3f37e8" d="M802 724l18-17-14 4-17 17z"/><path color="#4131e3" d="M785 739l17-15-13 4-18 14z"/><path color="#432cdd" d="M767 751l18-12-14 3-17 12z"/><path color="#4327d5" d="M750 761l17-10-13 3-18 10zM732 768l18-7-14 3-17 7zM715 773l17-5-13 3-18 5zM697 775l18-2-14 3-17 2z"/><path color="#432cdd" d="M680 775l17 0-13 3-18 0z"/><path color="#4131e3" d="M662 772l18 3-14 3-17-2z"/><path color="#3f37e8" d="M645 767l17 5-13 4-18-5z"/><path color="#3d3dee" d="M627 760l18 7-14 4-17-8z"/><path color="#384af6" d="M610 750l17 10-13 3-18-10z"/><path color="#315bfc" d="M592 738l18 12-14 3-17-12z"/><path color="#286cfe" d="M575 723l17 15-13 3-18-15z"/><path color="#1888fb" d="M557 706l18 17-14 3-17-17z"/><path color="#0e9bf2" d="M540 686l17 20-13 3-18-20z"/><path color="#06abe7" d="M522 664l18 22-14 3-17-22z"/><path color="#03b6d5" d="M505 640l17 24-13 3-18-24z"/><path color="#05c3b1" d="M487 613l18 27-14 3-17-27z"/><path color="#09c7a1" d="M973 478l18-39-14 6-17 38z"/><path color="#01bcc8" d="M956 514l17-36-13 5-18 37z"/><path color="#05afe2" d="M938 549l18-35-14 6-17 34z"/><path color="#0ca0ee" d="M921 580l17-31-13 5-18 32z"/><path color="#1490f9" d="M903 609l18-29-14 6-17 29z"/><path color="#1e7efc" d="M886 636l17-27-13 6-18 27z"/><path color="#2d63fe" d="M868 660l18-24-14 6-17 24z"/><path color="#3452f9" d="M851 682l17-22-13 6-18 22z"/><path color="#384af6" d="M833 702l18-20-14 6-17 19z"/><path color="#3d3dee" d="M816 719l17-17-13 5-18 17z"/><path color="#3f37e8" d="M798 733l18-14-14 5-17 15z"/><path color="#4131e3" d="M781 745l17-12-13 6-18 12zM763 755l18-10-14 6-17 10z"/><path color="#432cdd" d="M746 762l17-7-13 6-18 7zM728 767l18-5-14 6-17 5z"/><path color="#4131e3" d="M711 769l17-2-13 6-18 2zM693 769l18 0-14 6-17 0z"/><path color="#3f37e8" d="M676 767l17 2-13 6-18-3z"/><path color="#3d3dee" d="M658 762l18 5-14 5-17-5z"/><path color="#384af6" d="M641 754l17 8-13 5-18-7z"/><path color="#3452f9" d="M623 745l18 9-14 6-17-10z"/><path color="#2d63fe" d="M606 732l17 13-13 5-18-12z"/><path color="#1e7efc" d="M588 717l18 15-14 6-17-15z"/><path color="#1490f9" d="M571 700l17 17-13 6-18-17z"/><path color="#0ca0ee" d="M553 681l18 19-14 6-17-20z"/><path color="#05afe2" d="M536 659l17 22-13 5-18-22z"/><path color="#01bcc8" d="M518 634l18 25-14 5-17-24z"/><path color="#09c7a1" d="M501 607l17 27-13 6-18-27z"/><path color="#19cb85" d="M986 470l18-39-13 8-18 39z"/><path color="#00bfc2" d="M969 506l17-36-13 8-17 36z"/><path color="#03b6d5" d="M951 540l18-34-13 8-18 35z"/><path color="#06abe7" d="M934 572l17-32-13 9-17 31z"/><path color="#0e9bf2" d="M916 601l18-29-13 8-18 29z"/><path color="#1888fb" d="M899 628l17-27-13 8-17 27z"/><path color="#2375fd" d="M881 652l18-24-13 8-18 24z"/><path color="#2d63fe" d="M864 674l17-22-13 8-17 22z"/><path color="#3452f9" d="M847 694l17-20-13 8-18 20z"/><path color="#384af6" d="M829 711l18-17-14 8-17 17z"/><path color="#3b43f3" d="M812 725l17-14-13 8-18 14z"/><path color="#3d3dee" d="M794 737l18-12-14 8-17 12z"/><path color="#3f37e8" d="M777 747l17-10-13 8-18 10zM759 754l18-7-14 8-17 7zM742 759l17-5-13 8-18 5zM724 761l18-2-14 8-17 2z"/><path color="#3d3dee" d="M707 761l17 0-13 8-18 0z"/><path color="#3b43f3" d="M689 759l18 2-14 8-17-2z"/><path color="#384af6" d="M672 754l17 5-13 8-18-5z"/><path color="#3452f9" d="M654 746l18 8-14 8-17-8z"/><path color="#2d63fe" d="M637 736l17 10-13 8-18-9z"/><path color="#2375fd" d="M619 724l18 12-14 9-17-13z"/><path color="#1888fb" d="M602 709l17 15-13 8-18-15z"/><path color="#0e9bf2" d="M584 692l18 17-14 8-17-17z"/><path color="#06abe7" d="M567 673l17 19-13 8-18-19z"/><path color="#03b6d5" d="M549 651l18 22-14 8-17-22z"/><path color="#00bfc2" d="M532 626l17 25-13 8-18-25z"/><path color="#19cb85" d="M514 599l18 27-14 8-17-27z"/><path color="#2ccc6d" d="M1000 459l17-39-13 11-18 39z"/><path color="#09c7a1" d="M982 496l18-37-14 11-17 36z"/><path color="#01bcc8" d="M965 530l17-34-13 10-18 34z"/><path color="#04b2db" d="M947 562l18-32-14 10-17 32z"/><path color="#09a6eb" d="M930 591l17-29-13 10-18 29z"/><path color="#1195f6" d="M912 618l18-27-14 10-17 27z"/><path color="#1888fb" d="M895 642l17-24-13 10-18 24z"/><path color="#2375fd" d="M877 664l18-22-14 10-17 22z"/><path color="#2d63fe" d="M860 683l17-19-13 10-17 20z"/><path color="#315bfc" d="M842 700l18-17-13 11-18 17z"/><path color="#3452f9" d="M825 715l17-15-13 11-17 14z"/><path color="#384af6" d="M807 727l18-12-13 10-18 12z"/><path color="#3b43f3" d="M790 737l17-10-13 10-17 10zM772 744l18-7-13 10-18 7zM755 749l17-5-13 10-17 5zM737 751l18-2-13 10-18 2z"/><path color="#384af6" d="M720 751l17 0-13 10-17 0z"/><path color="#3452f9" d="M702 748l18 3-13 10-18-2z"/><path color="#315bfc" d="M685 743l17 5-13 11-17-5z"/><path color="#2d63fe" d="M667 736l18 7-13 11-18-8z"/><path color="#2375fd" d="M650 726l17 10-13 10-17-10z"/><path color="#1888fb" d="M632 714l18 12-13 10-18-12z"/><path color="#1195f6" d="M615 699l17 15-13 10-17-15z"/><path color="#09a6eb" d="M597 682l18 17-13 10-18-17z"/><path color="#04b2db" d="M580 662l17 20-13 10-17-19z"/><path color="#01bcc8" d="M562 640l18 22-13 11-18-22z"/><path color="#09c7a1" d="M545 616l17 24-13 11-17-25z"/><path color="#2ccc6d" d="M527 589l18 27-13 10-18-27z"/><path color="#3fcc60" d="M1013 446l18-39-14 13-17 39z"/><path color="#23cb78" d="M996 483l17-37-13 13-18 37z"/><path color="#05c3b1" d="M978 517l18-34-14 13-17 34z"/><path color="#02b9cf" d="M961 549l17-32-13 13-18 32z"/><path color="#05afe2" d="M943 578l18-29-14 13-17 29z"/><path color="#09a6eb" d="M926 605l17-27-13 13-18 27z"/><path color="#1195f6" d="M908 629l18-24-14 13-17 24z"/><path color="#1888fb" d="M891 651l17-22-13 13-18 22z"/><path color="#1e7efc" d="M873 670l18-19-14 13-17 19z"/><path color="#286cfe" d="M856 687l17-17-13 13-18 17z"/><path color="#2d63fe" d="M838 702l18-15-14 13-17 15z"/><path color="#315bfc" d="M821 714l17-12-13 13-18 12zM803 724l18-10-14 13-17 10z"/><path color="#3452f9" d="M786 731l17-7-13 13-18 7zM768 736l18-5-14 13-17 5z"/><path color="#315bfc" d="M751 738l17-2-13 13-18 2zM733 738l18 0-14 13-17 0z"/><path color="#2d63fe" d="M716 735l17 3-13 13-18-3z"/><path color="#286cfe" d="M698 730l18 5-14 13-17-5z"/><path color="#1e7efc" d="M681 723l17 7-13 13-18-7z"/><path color="#1888fb" d="M663 713l18 10-14 13-17-10z"/><path color="#1195f6" d="M646 701l17 12-13 13-18-12z"/><path color="#09a6eb" d="M628 686l18 15-14 13-17-15z"/><path color="#05afe2" d="M611 669l17 17-13 13-18-17z"/><path color="#02b9cf" d="M593 649l18 20-14 13-17-20z"/><path color="#05c3b1" d="M576 627l17 22-13 13-18-22z"/><path color="#23cb78" d="M558 603l18 24-14 13-17-24z"/><path color="#3fcc60" d="M541 576l17 27-13 13-18-27z"/><path color="#62cc4a" d="M1027 431l17-39-13 15-18 39z"/><path color="#36cc67" d="M1009 468l18-37-14 15-17 37z"/><path color="#19cb85" d="M992 502l17-34-13 15-18 34z"/><path color="#05c3b1" d="M974 533l18-31-14 15-17 32z"/><path color="#02b9cf" d="M957 563l17-30-13 16-18 29z"/><path color="#05afe2" d="M939 589l18-26-14 15-17 27z"/><path color="#09a6eb" d="M922 614l17-25-13 16-18 24z"/><path color="#0e9bf2" d="M904 635l18-21-14 15-17 22z"/><path color="#1490f9" d="M887 655l17-20-13 16-18 19z"/><path color="#1888fb" d="M869 672l18-17-14 15-17 17z"/><path color="#1e7efc" d="M852 686l17-14-13 15-18 15z"/><path color="#2375fd" d="M834 699l18-13-14 16-17 12z"/><path color="#286cfe" d="M817 708l17-9-13 15-18 10zM799 715l18-7-14 16-17 7zM782 720l17-5-13 16-18 5zM764 723l18-3-14 16-17 2z"/><path color="#2375fd" d="M747 723l17 0-13 15-18 0z"/><path color="#1e7efc" d="M729 720l18 3-14 15-17-3z"/><path color="#1888fb" d="M712 715l17 5-13 15-18-5z"/><path color="#1490f9" d="M694 708l18 7-14 15-17-7z"/><path color="#0e9bf2" d="M677 698l17 10-13 15-18-10z"/><path color="#09a6eb" d="M659 685l18 13-14 15-17-12z"/><path color="#05afe2" d="M642 671l17 14-13 16-18-15z"/><path color="#02b9cf" d="M624 653l18 18-14 15-17-17z"/><path color="#05c3b1" d="M607 634l17 19-13 16-18-20z"/><path color="#19cb85" d="M589 612l18 22-14 15-17-22z"/><path color="#36cc67" d="M572 587l17 25-13 15-18-24z"/><path color="#62cc4a" d="M554 560l18 27-14 16-17-27z"/><path color="#acc827" d="M1040 413l18-39-14 18-17 39z"/><path color="#55cc51" d="M1023 450l17-37-13 18-18 37z"/><path color="#36cc67" d="M1005 484l18-34-14 18-17 34z"/><path color="#19cb85" d="M988 516l17-32-13 18-18 31z"/><path color="#05c3b1" d="M970 545l18-29-14 17-17 30z"/><path color="#02b9cf" d="M953 571l17-26-13 18-18 26z"/><path color="#04b2db" d="M935 596l18-25-14 18-17 25z"/><path color="#06abe7" d="M918 618l17-22-13 18-18 21z"/><path color="#0ca0ee" d="M900 637l18-19-14 17-17 20z"/><path color="#0e9bf2" d="M883 654l17-17-13 18-18 17z"/><path color="#1195f6" d="M865 669l18-15-14 18-17 14z"/><path color="#1490f9" d="M848 681l17-12-13 17-18 13z"/><path color="#1888fb" d="M830 690l18-9-14 18-17 9zM813 698l17-8-13 18-18 7zM795 702l18-4-14 17-17 5zM778 705l17-3-13 18-18 3z"/><path color="#1490f9" d="M760 705l18 0-14 18-17 0z"/><path color="#1195f6" d="M743 702l17 3-13 18-18-3z"/><path color="#0e9bf2" d="M725 697l18 5-14 18-17-5z"/><path color="#0ca0ee" d="M708 690l17 7-13 18-18-7z"/><path color="#06abe7" d="M690 680l18 10-14 18-17-10z"/><path color="#04b2db" d="M673 668l17 12-13 18-18-13z"/><path color="#02b9cf" d="M655 653l18 15-14 17-17-14z"/><path color="#05c3b1" d="M638 636l17 17-13 18-18-18z"/><path color="#19cb85" d="M620 616l18 20-14 17-17-19z"/><path color="#36cc67" d="M603 594l17 22-13 18-18-22z"/><path color="#55cc51" d="M585 569l18 25-14 18-17-25z"/><path color="#acc827" d="M568 543l17 26-13 18-18-27z"/><path color="#f8ba1a" d="M1054 393l17-39-13 20-18 39z"/><path color="#8aca36" d="M1036 430l18-37-14 20-17 37z"/><path color="#55cc51" d="M1019 464l17-34-13 20-18 34z"/><path color="#36cc67" d="M1001 495l18-31-14 20-17 32z"/><path color="#19cb85" d="M984 524l17-29-13 21-18 29z"/><path color="#05c3b1" d="M966 551l18-27-14 21-17 26z"/><path color="#01bcc8" d="M949 576l17-25-13 20-18 25z"/><path color="#03b6d5" d="M931 597l18-21-14 20-17 22z"/><path color="#05afe2" d="M914 617l17-20-13 21-18 19z"/><path color="#06abe7" d="M896 634l18-17-14 20-17 17z"/><path color="#09a6eb" d="M879 648l17-14-13 20-18 15z"/><path color="#0ca0ee" d="M861 661l18-13-14 21-17 12z"/><path color="#0e9bf2" d="M844 670l17-9-13 20-18 9zM826 677l18-7-14 20-17 8zM809 682l17-5-13 21-18 4zM791 685l18-3-14 20-17 3z"/><path color="#0ca0ee" d="M774 684l17 1-13 20-18 0z"/><path color="#09a6eb" d="M756 682l18 2-14 21-17-3z"/><path color="#06abe7" d="M739 677l17 5-13 20-18-5z"/><path color="#05afe2" d="M721 670l18 7-14 20-17-7z"/><path color="#03b6d5" d="M704 660l17 10-13 20-18-10z"/><path color="#01bcc8" d="M686 647l18 13-14 20-17-12z"/><path color="#05c3b1" d="M669 633l17 14-13 21-18-15z"/><path color="#19cb85" d="M651 615l18 18-14 20-17-17z"/><path color="#36cc67" d="M634 596l17 19-13 21-18-20z"/><path color="#55cc51" d="M616 574l18 22-14 20-17-22z"/><path color="#8aca36" d="M599 549l17 25-13 20-18-25z"/><path color="#f8ba1a" d="M581 522l18 27-14 20-17-26z"/><path color="#ffb81e" d="M1067 370l18-39-14 23-17 39z"/><path color="#f8ba1a" d="M1050 407l17-37-13 23-18 37z"/><path color="#8aca36" d="M1032 441l18-34-14 23-17 34z"/><path color="#55cc51" d="M1015 473l17-32-13 23-18 31z"/><path color="#36cc67" d="M997 502l18-29-14 22-17 29z"/><path color="#23cb78" d="M980 529l17-27-13 22-18 27z"/><path color="#09c7a1" d="M962 553l18-24-14 22-17 25z"/><path color="#00bfc2" d="M945 575l17-22-13 23-18 21z"/><path color="#01bcc8" d="M927 594l18-19-14 22-17 20z"/><path color="#03b6d5" d="M910 611l17-17-13 23-18 17z"/><path color="#04b2db" d="M892 626l18-15-14 23-17 14z"/><path color="#05afe2" d="M875 638l17-12-13 22-18 13zM857 648l18-10-14 23-17 9z"/><path color="#06abe7" d="M840 655l17-7-13 22-18 7zM822 660l18-5-14 22-17 5z"/><path color="#05afe2" d="M805 662l17-2-13 22-18 3zM787 662l18 0-14 23-17-1z"/><path color="#04b2db" d="M770 659l17 3-13 22-18-2z"/><path color="#03b6d5" d="M752 654l18 5-14 23-17-5z"/><path color="#01bcc8" d="M735 647l17 7-13 23-18-7z"/><path color="#00bfc2" d="M717 637l18 10-14 23-17-10z"/><path color="#09c7a1" d="M700 625l17 12-13 23-18-13z"/><path color="#23cb78" d="M682 610l18 15-14 22-17-14z"/><path color="#36cc67" d="M665 593l17 17-13 23-18-18z"/><path color="#55cc51" d="M647 573l18 20-14 22-17-19z"/><path color="#8aca36" d="M630 551l17 22-13 23-18-22z"/><path color="#f8ba1a" d="M612 527l18 24-14 23-17-25z"/><path color="#ffb81e" d="M595 500l17 27-13 22-18-27z"/><path color="#ffd815" d="M1081 345l17-39-13 25-18 39z"/><path color="#ffb81e" d="M1063 382l18-37-14 25-17 37z"/><path color="#f8ba1a" d="M1046 416l17-34-13 25-18 34z"/><path color="#acc827" d="M1028 447l18-31-14 25-17 32z"/><path color="#62cc4a" d="M1011 477l17-30-13 26-18 29z"/><path color="#3fcc60" d="M993 503l18-26-14 25-17 27z"/><path color="#2ccc6d" d="M976 528l17-25-13 26-18 24z"/><path color="#19cb85" d="M958 550l18-22-14 25-17 22z"/><path color="#09c7a1" d="M941 569l17-19-13 25-18 19z"/><path color="#05c3b1" d="M923 586l18-17-14 25-17 17z"/><path color="#00bfc2" d="M906 601l17-15-13 25-18 15z"/><path color="#01bcc8" d="M888 613l18-12-14 25-17 12z"/><path color="#02b9cf" d="M871 622l17-9-13 25-18 10zM853 630l18-8-14 26-17 7zM836 634l17-4-13 25-18 5zM818 637l18-3-14 26-17 2z"/><path color="#01bcc8" d="M801 637l17 0-13 25-18 0z"/><path color="#00bfc2" d="M783 634l18 3-14 25-17-3z"/><path color="#05c3b1" d="M766 629l17 5-13 25-18-5z"/><path color="#09c7a1" d="M748 622l18 7-14 25-17-7z"/><path color="#19cb85" d="M731 612l17 10-13 25-18-10z"/><path color="#2ccc6d" d="M713 600l18 12-14 25-17-12z"/><path color="#3fcc60" d="M696 585l17 15-13 25-18-15z"/><path color="#62cc4a" d="M678 568l18 17-14 25-17-17z"/><path color="#acc827" d="M661 548l17 20-13 25-18-20z"/><path color="#f8ba1a" d="M643 526l18 22-14 25-17-22z"/><path color="#ffb81e" d="M626 501l17 25-13 25-18-24z"/><path color="#ffd815" d="M608 474l18 27-14 26-17-27z"/></g><path d="M60.8 95.3L109.8 78.5M60.8 95.3L23.2 73.4M23.2 73.4L23.2 25.5" stroke="#6a6a6a" stroke-width="0.5"/><path d="M60.8 95.3L61.3 96.2M85.3 86.9L85.8 87.8M109.8 78.5L110.3 79.4M60.8 95.3L60.2 96.2M42 84.3L41.4 85.2M23.2 73.4L22.6 74.3M23.2 73.4L22.2 73.4M23.2 61.4L22.2 61.4M23.2 49.4L22.2 49.4M23.2 37.5L22.2 37.5M23.2 25.5L22.2 25.5" stroke="#6a6a6a" stroke-width="0.4"/><text transform="matrix(.90 0 0 1 63.4 101.6)" font-size="4.9" fill="#303030">-100</text><text transform="matrix(.90 0 0 1 87.9 93.2)" font-size="4.9" fill="#303030">0</text><text transform="matrix(.90 0 0 1 112.4 84.8)" font-size="4.9" fill="#303030">100</text><text transform="matrix(.90 0 0 1 57.6 101.2)" font-size="4.9" text-anchor="end" fill="#303030">-100</text><text transform="matrix(.90 0 0 1 38.8 90.2)" font-size="4.9" text-anchor="end" fill="#303030">0</text><text transform="matrix(.90 0 0 1 20 79.3)" font-size="4.9" text-anchor="end" fill="#303030">100</text><text transform="matrix(.90 0 0 1 20.2 74.9)" font-size="4.9" text-anchor="end" fill="#303030">0</text><text transform="matrix(.90 0 0 1 20.2 62.9)" font-size="4.9" text-anchor="end" fill="#303030">0.5</text><text transform="matrix(.90 0 0 1 20.2 50.9)" font-size="4.9" text-anchor="end" fill="#303030">1</text><text transform="matrix(.90 0 0 1 20.2 39)" font-size="4.9" text-anchor="end" fill="#303030">1.5</text><text transform="matrix(.90 0 0 1 20.2 27)" font-size="4.9" text-anchor="end" fill="#303030">2</text><text transform="matrix(.90 0 0 1 90.2 103.5)" font-size="5.300000000000001" text-anchor="middle" fill="#303030">x</text><text transform="matrix(.90 0 0 1 34.2 102.5)" font-size="5.300000000000001" text-anchor="middle" fill="#303030">y</text><text font-size="5.300000000000001" fill="#303030" text-anchor="middle" transform="translate(11.7 49.4) rotate(-90) scale(1 0.9)">z</text><text transform="matrix(.90 0 0 1 67.4 7.2)" font-size="5.4" text-anchor="middle" fill="#222" font-weight="bold">F1</text><text transform="matrix(.90 0 0 1 14.7 18.5)" font-size="4.6000000000000005" fill="#303030">×10<tspan dy="-1.8" font-size="3.5000000000000004">4</tspan></text><path d="M362.6 95.3L324 73.3M324 73.3L324 25.3M387.8 86.9L349.1 64.9M349.1 64.9L349.1 16.8M412.9 78.4L374.3 56.4M374.3 56.4L374.3 8.4M362.6 95.3L324 73.3M324 73.3L324 25.3M412.9 78.4L374.3 56.4M374.3 56.4L374.3 8.4M362.6 95.3L412.9 78.4M412.9 78.4L412.9 30.4M343.3 84.3L393.6 67.4M393.6 67.4L393.6 19.4M324 73.3L374.3 56.4M374.3 56.4L374.3 8.4M362.6 95.3L412.9 78.4M412.9 78.4L412.9 30.4M324 73.3L374.3 56.4M374.3 56.4L374.3 8.4M324 73.3L374.3 56.4M374.3 56.4L412.9 78.4M324 53.3L374.3 36.4M374.3 36.4L412.9 58.4M324 33.3L374.3 16.4M374.3 16.4L412.9 38.4M324 73.3L374.3 56.4M374.3 56.4L412.9 78.4M324 25.3L374.3 8.4M374.3 8.4L412.9 30.4" stroke="#e2e2e2" stroke-width="0.4"/><g fill="none" stroke-width="4.5" transform="scale(.1)"><path stroke="#5e4ee6" d="M3878 869l-22-11-23-10-23-9-24-10-26-8-14-4-14-4-34-7-12-1-30-2-13 0-36 3-16 2-16 2-30 6-29 6-28 7-28 7-27 7M3936 674l-23 10-23 10-22 10-22 10-20 12-9 6-9 6-14 15-4 5-4 13 6 21 5 8 5 7 13 13 14 12 15 13 17 12 17 12M3433 843l23-10 23-9 22-10 22-11 20-11 9-6 9-7 14-14 4-6 4-13-6-21-5-7-5-7-13-14-14-12-15-13-17-12-17-11M3491 649l22 10 23 10 23 9 24 10 26 9 14 4 14 3 34 7 12 1 30 2 13 0 36-2 16-2 16-3 30-5 29-7 28-6 28-7 27-8"/><path stroke="#448afd" d="M3832 884l-18-6-9-3-28-8-30-7-8-2-25-4-30-4-8-1-37-2-8-1-31 1-27 2-9 0-34 4-31 5-11 1-20 4M3971 694l-13 8-7 4-18 12-17 13-4 4-10 11-10 13-6 19 1 18 3 12 10 18 11 14 4 4 8 9M3398 823l13-8 7-4 18-12 17-13 4-3 10-11 10-13 6-20-1-17-3-12-10-19-11-14-4-4-8-9M3537 633l18 6 9 3 28 8 30 7 8 2 25 5 30 4 8 0 37 3 8 0 31-1 27-1 9-1 34-4 31-4 11-2 20-4"/><path stroke="#2abce4" d="M3786 899l-25-5-6-2-33-6-18-3-20-2-29-3-13 0-30-1-20 0-19 0-36 3-7 0-27 3M4006 714l-13 11-17 17-6 8-6 9-6 13-1 5-2 13 0 9 1 8 5 16 8 15M3363 803l13-11 17-17 6-8 6-8 6-13 1-6 2-13 0-9-1-8-5-16-8-15M3583 618l25 6 6 1 33 6 18 3 20 2 29 3 13 1 30 0 20 0 19 0 36-2 7-1 27-3"/><path stroke="#41d390" d="M3740 915l-30-5-44-5-44-3-46 0-38 1M4041 734l-11 13-11 20-6 19-1 20 3 17M3328 783l11-13 11-20 6-19 1-20-3-16M3629 603l30 4 44 5 44 3 46 1 38-2"/><path stroke="#b9d047" d="M3695 930l-36-4-45-2-41-1M4076 754l-8 16-6 19-2 18M3293 763l8-15 6-20 2-18M3674 587l36 4 45 3 41 0"/><path stroke="#ffd939" d="M3649 945l-41-2M4111 774l-5 18M3258 743l5-18M3720 572l41 2"/></g><g class="sf" filter="url(#bl)" transform="scale(.1)"><path color="#fab91b" d="M3737 187l25-48-19-55-25 52z"/><path color="#acc827" d="M3712 236l25-49-19-51-25 53z"/><path color="#48cc59" d="M3687 284l25-48-19-47-25 52z"/><path color="#19cb85" d="M3662 333l25-49-19-43-26 53z"/><path color="#00bfc2" d="M3637 381l25-48-20-39-25 52z"/><path color="#05afe2" d="M3611 430l26-49-20-35-25 53z"/><path color="#1195f6" d="M3586 478l25-48-19-31-25 52z"/><path color="#2375fd" d="M3561 527l25-49-19-27-25 53z"/><path color="#384af6" d="M3536 575l25-48-19-23-25 52z"/><path color="#432cdd" d="M3511 624l25-49-19-19-26 53z"/><path color="#384af6" d="M3486 592l25 32-20-15-25-36z"/><path color="#2375fd" d="M3460 560l26 32-20-19-25-36z"/><path color="#1195f6" d="M3435 529l25 31-19-23-25-35z"/><path color="#05afe2" d="M3410 497l25 32-19-27-25-36z"/><path color="#00bfc2" d="M3385 466l25 31-19-31-25-35z"/><path color="#19cb85" d="M3360 434l25 32-19-35-25-36z"/><path color="#48cc59" d="M3335 403l25 31-19-39-26-35z"/><path color="#acc827" d="M3310 371l25 32-20-43-25-36z"/><path color="#fab91b" d="M3284 339l26 32-20-47-25-36z"/><path color="#ffd017" d="M3259 308l25 31-19-51-25-35z"/><path color="#acc827" d="M3756 238l26-44-20-55-25 48z"/><path color="#48cc59" d="M3731 283l25-45-19-51-25 49z"/><path color="#23cb78" d="M3706 327l25-44-19-47-25 48z"/><path color="#05c3b1" d="M3681 372l25-45-19-43-25 49z"/><path color="#03b6d5" d="M3656 416l25-44-19-39-25 48z"/><path color="#09a6eb" d="M3631 461l25-45-19-35-26 49z"/><path color="#1888fb" d="M3606 505l25-44-20-31-25 48z"/><path color="#2d63fe" d="M3580 550l26-45-20-27-25 49z"/><path color="#3b43f3" d="M3555 594l25-44-19-23-25 48z"/><path color="#432cdd" d="M3530 639l25-45-19-19-25 49z"/><path color="#3b43f3" d="M3505 611l25 28-19-15-25-32z"/><path color="#2d63fe" d="M3480 583l25 28-19-19-26-32z"/><path color="#1888fb" d="M3455 556l25 27-20-23-25-31z"/><path color="#09a6eb" d="M3429 528l26 28-20-27-25-32z"/><path color="#03b6d5" d="M3404 501l25 27-19-31-25-31z"/><path color="#05c3b1" d="M3379 473l25 28-19-35-25-32z"/><path color="#23cb78" d="M3354 446l25 27-19-39-25-31z"/><path color="#48cc59" d="M3329 418l25 28-19-43-25-32z"/><path color="#acc827" d="M3304 390l25 28-19-47-26-32z"/><path color="#fab91b" d="M3279 363l25 27-20-51-25-31z"/><path color="#48cc59" d="M3776 290l25-41-19-55-26 44z"/><path color="#23cb78" d="M3751 330l25-40-20-52-25 45z"/><path color="#05c3b1" d="M3725 370l26-40-20-47-25 44z"/><path color="#02b9cf" d="M3700 411l25-41-19-43-25 45z"/><path color="#06abe7" d="M3675 451l25-40-19-39-25 44z"/><path color="#1195f6" d="M3650 492l25-41-19-35-25 45z"/><path color="#2375fd" d="M3625 532l25-40-19-31-25 44z"/><path color="#315bfc" d="M3600 573l25-41-19-27-26 45z"/><path color="#3d3dee" d="M3575 613l25-40-20-23-25 44z"/><path color="#4327d5" d="M3549 654l26-41-20-19-25 45z"/><path color="#3d3dee" d="M3524 630l25 24-19-15-25-28z"/><path color="#315bfc" d="M3499 606l25 24-19-19-25-28z"/><path color="#2375fd" d="M3474 583l25 23-19-23-25-27z"/><path color="#1195f6" d="M3449 559l25 24-19-27-26-28z"/><path color="#06abe7" d="M3424 536l25 23-20-31-25-27z"/><path color="#02b9cf" d="M3398 512l26 24-20-35-25-28z"/><path color="#05c3b1" d="M3373 489l25 23-19-39-25-27z"/><path color="#23cb78" d="M3348 465l25 24-19-43-25-28z"/><path color="#48cc59" d="M3323 441l25 24-19-47-25-28z"/><path color="#8aca36" d="M3298 418l25 23-19-51-25-27z"/><path color="#19cb85" d="M3795 341l25-37-19-55-25 41z"/><path color="#05c3b1" d="M3770 377l25-36-19-51-25 40z"/><path color="#02b9cf" d="M3745 413l25-36-19-47-26 40z"/><path color="#06abe7" d="M3720 450l25-37-20-43-25 41z"/><path color="#0e9bf2" d="M3694 486l26-36-20-39-25 40z"/><path color="#1888fb" d="M3669 523l25-37-19-35-25 41z"/><path color="#286cfe" d="M3644 559l25-36-19-31-25 40z"/><path color="#384af6" d="M3619 596l25-37-19-27-25 41z"/><path color="#3f37e8" d="M3594 632l25-36-19-23-25 40z"/><path color="#4327d5" d="M3569 669l25-37-19-19-26 41z"/><path color="#3f37e8" d="M3544 649l25 20-20-15-25-24z"/><path color="#384af6" d="M3518 629l26 20-20-19-25-24z"/><path color="#286cfe" d="M3493 610l25 19-19-23-25-23z"/><path color="#1888fb" d="M3468 590l25 20-19-27-25-24z"/><path color="#0e9bf2" d="M3443 571l25 19-19-31-25-23z"/><path color="#06abe7" d="M3418 551l25 20-19-35-26-24z"/><path color="#02b9cf" d="M3393 532l25 19-20-39-25-23z"/><path color="#05c3b1" d="M3368 512l25 20-20-43-25-24z"/><path color="#19cb85" d="M3342 492l26 20-20-47-25-24z"/><path color="#36cc67" d="M3317 473l25 19-19-51-25-23z"/><path color="#00bfc2" d="M3814 392l25-33-19-55-25 37z"/><path color="#03b6d5" d="M3789 424l25-32-19-51-25 36z"/><path color="#06abe7" d="M3764 456l25-32-19-47-25 36z"/><path color="#0e9bf2" d="M3739 489l25-33-19-43-25 37z"/><path color="#1888fb" d="M3714 521l25-32-19-39-26 36z"/><path color="#2375fd" d="M3689 554l25-33-20-35-25 37z"/><path color="#315bfc" d="M3663 586l26-32-20-31-25 36z"/><path color="#3b43f3" d="M3638 619l25-33-19-27-25 37z"/><path color="#4131e3" d="M3613 651l25-32-19-23-25 36z"/><path color="#4423ce" d="M3588 684l25-33-19-19-25 37z"/><path color="#4131e3" d="M3563 668l25 16-19-15-25-20z"/><path color="#3b43f3" d="M3538 652l25 16-19-19-26-20z"/><path color="#315bfc" d="M3513 637l25 15-20-23-25-19z"/><path color="#2375fd" d="M3487 621l26 16-20-27-25-20z"/><path color="#1888fb" d="M3462 606l25 15-19-31-25-19z"/><path color="#0e9bf2" d="M3437 590l25 16-19-35-25-20z"/><path color="#06abe7" d="M3412 575l25 15-19-39-25-19z"/><path color="#03b6d5" d="M3387 559l25 16-19-43-25-20z"/><path color="#00bfc2" d="M3362 543l25 16-19-47-26-20z"/><path color="#09c7a1" d="M3337 528l25 15-20-51-25-19z"/><path color="#05afe2" d="M3834 443l25-29-20-55-25 33z"/><path color="#09a6eb" d="M3808 471l26-28-20-51-25 32z"/><path color="#1195f6" d="M3783 499l25-28-19-47-25 32z"/><path color="#1888fb" d="M3758 528l25-29-19-43-25 33z"/><path color="#2375fd" d="M3733 556l25-28-19-39-25 32z"/><path color="#315bfc" d="M3708 585l25-29-19-35-25 33z"/><path color="#384af6" d="M3683 613l25-28-19-31-26 32z"/><path color="#3d3dee" d="M3658 642l25-29-20-27-25 33z"/><path color="#432cdd" d="M3632 670l26-28-20-23-25 32z"/><path color="#4423ce" d="M3607 699l25-29-19-19-25 33z"/><path color="#432cdd" d="M3582 687l25 12-19-15-25-16z"/><path color="#3d3dee" d="M3557 675l25 12-19-19-25-16z"/><path color="#384af6" d="M3532 664l25 11-19-23-25-15z"/><path color="#315bfc" d="M3507 652l25 12-19-27-26-16z"/><path color="#2375fd" d="M3482 641l25 11-20-31-25-15z"/><path color="#1888fb" d="M3456 629l26 12-20-35-25-16z"/><path color="#1195f6" d="M3431 618l25 11-19-39-25-15z"/><path color="#09a6eb" d="M3406 606l25 12-19-43-25-16z"/><path color="#05afe2" d="M3381 594l25 12-19-47-25-16z"/><path color="#03b6d5" d="M3356 583l25 11-19-51-25-15z"/><path color="#1195f6" d="M3853 494l25-25-19-55-25 29z"/><path color="#1888fb" d="M3828 518l25-24-19-51-26 28z"/><path color="#2375fd" d="M3803 542l25-24-20-47-25 28z"/><path color="#286cfe" d="M3777 567l26-25-20-43-25 29z"/><path color="#315bfc" d="M3752 591l25-24-19-39-25 28z"/><path color="#384af6" d="M3727 616l25-25-19-35-25 29z"/><path color="#3d3dee" d="M3702 640l25-24-19-31-25 28z"/><path color="#4131e3" d="M3677 665l25-25-19-27-25 29z"/><path color="#4327d5" d="M3652 689l25-24-19-23-26 28z"/><path color="#441ec7" d="M3627 714l25-25-20-19-25 29z"/><path color="#4327d5" d="M3601 706l26 8-20-15-25-12z"/><path color="#4131e3" d="M3576 698l25 8-19-19-25-12z"/><path color="#3d3dee" d="M3551 691l25 7-19-23-25-11z"/><path color="#384af6" d="M3526 683l25 8-19-27-25-12z"/><path color="#315bfc" d="M3501 676l25 7-19-31-25-11z"/><path color="#286cfe" d="M3476 668l25 8-19-35-26-12z"/><path color="#2375fd" d="M3451 661l25 7-20-39-25-11z"/><path color="#1888fb" d="M3425 653l26 8-20-43-25-12z"/><path color="#1195f6" d="M3400 646l25 7-19-47-25-12z"/><path color="#0ca0ee" d="M3375 638l25 8-19-52-25-11z"/><path color="#2375fd" d="M3872 545l25-21-19-55-25 25z"/><path color="#2d63fe" d="M3847 565l25-20-19-51-25 24z"/><path color="#315bfc" d="M3822 585l25-20-19-47-25 24z"/><path color="#384af6" d="M3797 606l25-21-19-43-26 25z"/><path color="#3b43f3" d="M3772 626l25-20-20-39-25 24z"/><path color="#3d3dee" d="M3746 647l26-21-20-35-25 25z"/><path color="#4131e3" d="M3721 667l25-20-19-31-25 24z"/><path color="#432cdd" d="M3696 688l25-21-19-27-25 25z"/><path color="#4423ce" d="M3671 708l25-20-19-23-25 24z"/><path color="#441ec7" d="M3646 729l25-21-19-19-25 25z"/><path color="#4423ce" d="M3621 725l25 4-19-15-26-8z"/><path color="#432cdd" d="M3596 721l25 4-20-19-25-8z"/><path color="#4131e3" d="M3570 718l26 3-20-23-25-7z"/><path color="#3d3dee" d="M3545 714l25 4-19-27-25-8z"/><path color="#3b43f3" d="M3520 711l25 3-19-31-25-7z"/><path color="#384af6" d="M3495 707l25 4-19-35-25-8z"/><path color="#315bfc" d="M3470 704l25 3-19-39-25-7z"/><path color="#2d63fe" d="M3445 700l25 4-19-43-26-8z"/><path color="#2375fd" d="M3420 697l25 3-20-47-25-7z"/><path color="#1e7efc" d="M3394 693l26 4-20-51-25-8z"/><path color="#384af6" d="M3892 596l25-17-20-55-25 21z"/><path color="#3b43f3" d="M3866 612l26-16-20-51-25 20z"/><path color="#3d3dee" d="M3841 629l25-17-19-47-25 20z"/><path color="#3f37e8" d="M3816 645l25-16-19-44-25 21z"/><path color="#4131e3" d="M3791 661l25-16-19-39-25 20z"/><path color="#432cdd" d="M3766 678l25-17-19-35-26 21z"/><path color="#4327d5" d="M3741 694l25-16-20-31-25 20z"/><path color="#4423ce" d="M3715 711l26-17-20-27-25 21z"/><path color="#441ec7" d="M3690 727l25-16-19-23-25 20z"/><path color="#451abf" d="M3665 744l25-17-19-19-25 21z"/><path color="#441ec7" d="M3640 744l25 0-19-15-25-4z"/><path color="#4423ce" d="M3615 744l25 0-19-19-25-4z"/><path color="#4327d5" d="M3590 745l25-1-19-23-26-3z"/><path color="#432cdd" d="M3565 745l25 0-20-27-25-4z"/><path color="#4131e3" d="M3539 746l26-1-20-31-25-3z"/><path color="#3f37e8" d="M3514 746l25 0-19-35-25-4z"/><path color="#3d3dee" d="M3489 747l25-1-19-39-25-3z"/><path color="#3b43f3" d="M3464 747l25 0-19-43-25-4z"/><path color="#384af6" d="M3439 748l25-1-19-47-25-3z"/><path color="#3452f9" d="M3414 748l25 0-19-51-26-4z"/><path color="#432cdd" d="M3911 647l25-13-19-55-25 17zM3886 659l25-12-19-51-26 16z"/><path color="#4327d5" d="M3861 672l25-13-20-47-25 17zM3835 684l26-12-20-43-25 16z"/><path color="#4423ce" d="M3810 696l25-12-19-39-25 16zM3785 709l25-13-19-35-25 17z"/><path color="#441ec7" d="M3760 721l25-12-19-31-25 16zM3735 734l25-13-19-27-26 17z"/><path color="#451abf" d="M3710 746l25-12-20-23-25 16zM3684 759l26-13-20-19-25 17zM3659 763l25-4-19-15-25 0z"/><path color="#441ec7" d="M3634 767l25-4-19-19-25 0zM3609 772l25-5-19-23-25 1z"/><path color="#4423ce" d="M3584 776l25-4-19-27-25 0zM3559 781l25-5-19-31-26 1z"/><path color="#4327d5" d="M3534 785l25-4-20-35-25 0zM3508 790l26-5-20-39-25 1z"/><path color="#432cdd" d="M3483 794l25-4-19-43-25 0zM3458 799l25-5-19-47-25 1z"/><path color="#4131e3" d="M3433 803l25-4-19-51-25 0z"/><path color="#384af6" d="M3930 618l25-17-19 33-25 13z"/><path color="#3b43f3" d="M3905 634l25-16-19 29-25 12z"/><path color="#3d3dee" d="M3880 651l25-17-19 25-25 13z"/><path color="#3f37e8" d="M3855 667l25-16-19 21-26 12z"/><path color="#4131e3" d="M3830 683l25-16-20 17-25 12z"/><path color="#432cdd" d="M3804 700l26-17-20 13-25 13z"/><path color="#4327d5" d="M3779 716l25-16-19 9-25 12z"/><path color="#4423ce" d="M3754 733l25-17-19 5-25 13z"/><path color="#441ec7" d="M3729 749l25-16-19 1-25 12z"/><path color="#451abf" d="M3704 766l25-17-19-3-26 13z"/><path color="#441ec7" d="M3679 766l25 0-20-7-25 4z"/><path color="#4423ce" d="M3654 766l25 0-20-3-25 4z"/><path color="#4327d5" d="M3628 767l26-1-20 1-25 5z"/><path color="#432cdd" d="M3603 767l25 0-19 5-25 4z"/><path color="#4131e3" d="M3578 768l25-1-19 9-25 5z"/><path color="#3f37e8" d="M3553 768l25 0-19 13-25 4z"/><path color="#3d3dee" d="M3528 769l25-1-19 17-26 5z"/><path color="#3b43f3" d="M3503 769l25 0-20 21-25 4z"/><path color="#384af6" d="M3477 770l26-1-20 25-25 5z"/><path color="#3452f9" d="M3452 770l25 0-19 29-25 4z"/><path color="#2375fd" d="M3949 589l26-21-20 33-25 17z"/><path color="#2d63fe" d="M3924 609l25-20-19 29-25 16z"/><path color="#315bfc" d="M3899 629l25-20-19 25-25 17z"/><path color="#384af6" d="M3874 650l25-21-19 22-25 16z"/><path color="#3b43f3" d="M3849 670l25-20-19 17-25 16z"/><path color="#3d3dee" d="M3824 691l25-21-19 13-26 17z"/><path color="#4131e3" d="M3799 711l25-20-20 9-25 16z"/><path color="#432cdd" d="M3773 732l26-21-20 5-25 17z"/><path color="#4423ce" d="M3748 752l25-20-19 1-25 16z"/><path color="#441ec7" d="M3723 773l25-21-19-3-25 17z"/><path color="#4423ce" d="M3698 769l25 4-19-7-25 0z"/><path color="#432cdd" d="M3673 765l25 4-19-3-25 0z"/><path color="#4131e3" d="M3648 762l25 3-19 1-26 1z"/><path color="#3d3dee" d="M3623 758l25 4-20 5-25 0z"/><path color="#3b43f3" d="M3597 755l26 3-20 9-25 1z"/><path color="#384af6" d="M3572 751l25 4-19 13-25 0z"/><path color="#315bfc" d="M3547 748l25 3-19 17-25 1z"/><path color="#2d63fe" d="M3522 744l25 4-19 21-25 0z"/><path color="#2375fd" d="M3497 741l25 3-19 25-26 1z"/><path color="#1e7efc" d="M3472 737l25 4-20 29-25 0z"/><path color="#1195f6" d="M3969 560l25-25-19 33-26 21z"/><path color="#1888fb" d="M3944 584l25-24-20 29-25 20z"/><path color="#2375fd" d="M3918 608l26-24-20 25-25 20z"/><path color="#286cfe" d="M3893 633l25-25-19 21-25 21z"/><path color="#315bfc" d="M3868 657l25-24-19 17-25 20z"/><path color="#384af6" d="M3843 682l25-25-19 13-25 21z"/><path color="#3d3dee" d="M3818 706l25-24-19 9-25 20z"/><path color="#4131e3" d="M3793 731l25-25-19 5-26 21z"/><path color="#4327d5" d="M3768 755l25-24-20 1-25 20z"/><path color="#441ec7" d="M3742 780l26-25-20-3-25 21z"/><path color="#4327d5" d="M3717 772l25 8-19-7-25-4z"/><path color="#4131e3" d="M3692 764l25 8-19-3-25-4z"/><path color="#3d3dee" d="M3667 757l25 7-19 1-25-3z"/><path color="#384af6" d="M3642 749l25 8-19 5-25-4z"/><path color="#315bfc" d="M3617 742l25 7-19 9-26-3z"/><path color="#286cfe" d="M3592 734l25 8-20 13-25-4z"/><path color="#2375fd" d="M3566 727l26 7-20 17-25-3z"/><path color="#1888fb" d="M3541 719l25 8-19 21-25-4z"/><path color="#1195f6" d="M3516 711l25 8-19 25-25-3z"/><path color="#0ca0ee" d="M3491 704l25 7-19 30-25-4z"/><path color="#05afe2" d="M3988 531l25-29-19 33-25 25z"/><path color="#09a6eb" d="M3963 559l25-28-19 29-25 24z"/><path color="#1195f6" d="M3938 587l25-28-19 25-26 24z"/><path color="#1888fb" d="M3913 616l25-29-20 21-25 25z"/><path color="#2375fd" d="M3887 644l26-28-20 17-25 24z"/><path color="#315bfc" d="M3862 673l25-29-19 13-25 25z"/><path color="#384af6" d="M3837 701l25-28-19 9-25 24z"/><path color="#3d3dee" d="M3812 730l25-29-19 5-25 25z"/><path color="#432cdd" d="M3787 758l25-28-19 1-25 24z"/><path color="#4423ce" d="M3762 787l25-29-19-3-26 25z"/><path color="#432cdd" d="M3737 775l25 12-20-7-25-8z"/><path color="#3d3dee" d="M3711 763l26 12-20-3-25-8z"/><path color="#384af6" d="M3686 752l25 11-19 1-25-7z"/><path color="#315bfc" d="M3661 740l25 12-19 5-25-8z"/><path color="#2375fd" d="M3636 729l25 11-19 9-25-7z"/><path color="#1888fb" d="M3611 717l25 12-19 13-25-8z"/><path color="#1195f6" d="M3586 706l25 11-19 17-26-7z"/><path color="#09a6eb" d="M3561 694l25 12-20 21-25-8z"/><path color="#05afe2" d="M3535 682l26 12-20 25-25-8z"/><path color="#03b6d5" d="M3510 671l25 11-19 29-25-7z"/><path color="#00bfc2" d="M4007 502l25-33-19 33-25 29z"/><path color="#03b6d5" d="M3982 534l25-32-19 29-25 28z"/><path color="#06abe7" d="M3957 566l25-32-19 25-25 28z"/><path color="#0e9bf2" d="M3932 599l25-33-19 21-25 29z"/><path color="#1888fb" d="M3907 631l25-32-19 17-26 28z"/><path color="#2375fd" d="M3882 664l25-33-20 13-25 29z"/><path color="#315bfc" d="M3856 696l26-32-20 9-25 28z"/><path color="#3b43f3" d="M3831 729l25-33-19 5-25 29z"/><path color="#4131e3" d="M3806 761l25-32-19 1-25 28z"/><path color="#4423ce" d="M3781 794l25-33-19-3-25 29z"/><path color="#4131e3" d="M3756 778l25 16-19-7-25-12z"/><path color="#3b43f3" d="M3731 762l25 16-19-3-26-12z"/><path color="#315bfc" d="M3706 747l25 15-20 1-25-11z"/><path color="#2375fd" d="M3680 731l26 16-20 5-25-12z"/><path color="#1888fb" d="M3655 716l25 15-19 9-25-11z"/><path color="#0e9bf2" d="M3630 700l25 16-19 13-25-12z"/><path color="#06abe7" d="M3605 685l25 15-19 17-25-11z"/><path color="#03b6d5" d="M3580 669l25 16-19 21-25-12z"/><path color="#00bfc2" d="M3555 653l25 16-19 25-26-12z"/><path color="#09c7a1" d="M3530 638l25 15-20 29-25-11z"/><path color="#19cb85" d="M4027 473l25-37-20 33-25 33z"/><path color="#05c3b1" d="M4001 509l26-36-20 29-25 32z"/><path color="#02b9cf" d="M3976 545l25-36-19 25-25 32z"/><path color="#06abe7" d="M3951 582l25-37-19 21-25 33z"/><path color="#0e9bf2" d="M3926 618l25-36-19 17-25 32z"/><path color="#1888fb" d="M3901 655l25-37-19 13-25 33z"/><path color="#286cfe" d="M3876 691l25-36-19 9-26 32z"/><path color="#384af6" d="M3851 728l25-37-20 5-25 33z"/><path color="#3f37e8" d="M3825 764l26-36-20 1-25 32z"/><path color="#4327d5" d="M3800 801l25-37-19-3-25 33z"/><path color="#3f37e8" d="M3775 781l25 20-19-7-25-16z"/><path color="#384af6" d="M3750 761l25 20-19-3-25-16z"/><path color="#286cfe" d="M3725 742l25 19-19 1-25-15z"/><path color="#1888fb" d="M3700 722l25 20-19 5-26-16z"/><path color="#0e9bf2" d="M3675 703l25 19-20 9-25-15z"/><path color="#06abe7" d="M3649 683l26 20-20 13-25-16z"/><path color="#02b9cf" d="M3624 664l25 19-19 17-25-15z"/><path color="#05c3b1" d="M3599 644l25 20-19 21-25-16z"/><path color="#19cb85" d="M3574 624l25 20-19 25-25-16z"/><path color="#36cc67" d="M3549 605l25 19-19 29-25-15z"/><path color="#48cc59" d="M4046 443l25-40-19 33-25 37z"/><path color="#23cb78" d="M4021 484l25-41-19 30-26 36z"/><path color="#05c3b1" d="M3996 524l25-40-20 25-25 36z"/><path color="#02b9cf" d="M3971 565l25-41-20 21-25 37z"/><path color="#06abe7" d="M3945 605l26-40-20 17-25 36z"/><path color="#1195f6" d="M3920 646l25-41-19 13-25 37z"/><path color="#2375fd" d="M3895 686l25-40-19 9-25 36z"/><path color="#315bfc" d="M3870 727l25-41-19 5-25 37z"/><path color="#3d3dee" d="M3845 767l25-40-19 1-26 36z"/><path color="#4327d5" d="M3820 808l25-41-20-3-25 37z"/><path color="#3d3dee" d="M3794 784l26 24-20-7-25-20z"/><path color="#315bfc" d="M3769 760l25 24-19-3-25-20z"/><path color="#2375fd" d="M3744 737l25 23-19 1-25-19z"/><path color="#1195f6" d="M3719 713l25 24-19 5-25-20z"/><path color="#06abe7" d="M3694 690l25 23-19 9-25-19z"/><path color="#02b9cf" d="M3669 666l25 24-19 13-26-20z"/><path color="#05c3b1" d="M3644 643l25 23-20 17-25-19z"/><path color="#23cb78" d="M3618 619l26 24-20 21-25-20z"/><path color="#48cc59" d="M3593 595l25 24-19 25-25-20z"/><path color="#8aca36" d="M3568 572l25 23-19 29-25-19z"/><path color="#acc827" d="M4065 414l25-44-19 33-25 40z"/><path color="#48cc59" d="M4040 459l25-45-19 29-25 41z"/><path color="#23cb78" d="M4015 503l25-44-19 25-25 40z"/><path color="#05c3b1" d="M3990 548l25-45-19 21-25 41z"/><path color="#03b6d5" d="M3965 592l25-44-19 17-26 40z"/><path color="#09a6eb" d="M3940 637l25-45-20 13-25 41z"/><path color="#1888fb" d="M3914 681l26-44-20 9-25 40z"/><path color="#2d63fe" d="M3889 726l25-45-19 5-25 41z"/><path color="#3b43f3" d="M3864 770l25-44-19 1-25 40z"/><path color="#432cdd" d="M3839 815l25-45-19-3-25 41z"/><path color="#3b43f3" d="M3814 787l25 28-19-7-26-24z"/><path color="#2d63fe" d="M3789 759l25 28-20-3-25-24z"/><path color="#1888fb" d="M3763 732l26 27-20 1-25-23z"/><path color="#09a6eb" d="M3738 704l25 28-19 5-25-24z"/><path color="#03b6d5" d="M3713 677l25 27-19 9-25-23z"/><path color="#05c3b1" d="M3688 649l25 28-19 13-25-24z"/><path color="#23cb78" d="M3663 622l25 27-19 17-25-23z"/><path color="#48cc59" d="M3638 594l25 28-19 21-26-24z"/><path color="#acc827" d="M3613 566l25 28-20 25-25-24z"/><path color="#fab91b" d="M3587 539l26 27-20 29-25-23zM4085 385l25-48-20 33-25 44z"/><path color="#acc827" d="M4059 434l26-49-20 29-25 45z"/><path color="#48cc59" d="M4034 482l25-48-19 25-25 44z"/><path color="#19cb85" d="M4009 531l25-49-19 21-25 45z"/><path color="#00bfc2" d="M3984 579l25-48-19 17-25 44z"/><path color="#05afe2" d="M3959 628l25-49-19 13-25 45z"/><path color="#1195f6" d="M3934 676l25-48-19 9-26 44z"/><path color="#2375fd" d="M3909 725l25-49-20 5-25 45z"/><path color="#384af6" d="M3883 773l26-48-20 1-25 44z"/><path color="#432cdd" d="M3858 822l25-49-19-3-25 45z"/><path color="#384af6" d="M3833 790l25 32-19-7-25-28z"/><path color="#2375fd" d="M3808 758l25 32-19-3-25-28z"/><path color="#1195f6" d="M3783 727l25 31-19 1-26-27z"/><path color="#05afe2" d="M3758 695l25 32-20 5-25-28z"/><path color="#00bfc2" d="M3732 664l26 31-20 9-25-27z"/><path color="#19cb85" d="M3707 632l25 32-19 13-25-28z"/><path color="#48cc59" d="M3682 601l25 31-19 17-25-27z"/><path color="#acc827" d="M3657 569l25 32-19 21-25-28z"/><path color="#fab91b" d="M3632 537l25 32-19 25-25-28z"/><path color="#ffd017" d="M3607 506l25 31-19 29-26-27zM4104 356l25-52-19 33-25 48z"/><path color="#fab91b" d="M4079 409l25-53-19 29-26 49z"/><path color="#8aca36" d="M4054 461l25-52-20 25-25 48z"/><path color="#36cc67" d="M4028 514l26-53-20 21-25 49z"/><path color="#09c7a1" d="M4003 566l25-52-19 17-25 48z"/><path color="#03b6d5" d="M3978 619l25-53-19 13-25 49z"/><path color="#0ca0ee" d="M3953 671l25-52-19 9-25 48z"/><path color="#1e7efc" d="M3928 724l25-53-19 5-25 49z"/><path color="#3452f9" d="M3903 776l25-52-19 1-26 48z"/><path color="#4131e3" d="M3878 829l25-53-20-3-25 49z"/><path color="#3452f9" d="M3852 793l26 36-20-7-25-32z"/><path color="#1e7efc" d="M3827 757l25 36-19-3-25-32z"/><path color="#0ca0ee" d="M3802 722l25 35-19 1-25-31z"/><path color="#03b6d5" d="M3777 686l25 36-19 5-25-32z"/><path color="#09c7a1" d="M3752 651l25 35-19 9-26-31z"/><path color="#36cc67" d="M3727 615l25 36-20 13-25-32z"/><path color="#8aca36" d="M3701 580l26 35-20 17-25-31z"/><path color="#fab91b" d="M3676 544l25 36-19 21-25-32z"/><path color="#ffd017" d="M3651 508l25 36-19 25-25-32z"/><path color="#fff700" d="M3626 473l25 35-19 29-25-31z"/></g><path d="M362.6 95.3L412.9 78.4M362.6 95.3L324 73.3M324 73.3L324 25.3" stroke="#6a6a6a" stroke-width="0.5"/><path d="M362.6 95.3L363.1 96.2M387.8 86.9L388.3 87.8M412.9 78.4L413.4 79.3M362.6 95.3L362 96.2M343.3 84.3L342.7 85.2M324 73.3L323.4 74.2M324 73.3L323 73.3M324 53.3L323 53.3M324 33.3L323 33.3" stroke="#6a6a6a" stroke-width="0.4"/><text transform="matrix(.90 0 0 1 365.2 101.6)" font-size="4.9" fill="#303030">-10</text><text transform="matrix(.90 0 0 1 390.4 93.2)" font-size="4.9" fill="#303030">0</text><text transform="matrix(.90 0 0 1 415.5 84.7)" font-size="4.9" fill="#303030">10</text><text transform="matrix(.90 0 0 1 359.4 101.2)" font-size="4.9" text-anchor="end" fill="#303030">-10</text><text transform="matrix(.90 0 0 1 340.1 90.2)" font-size="4.9" text-anchor="end" fill="#303030">0</text><text transform="matrix(.90 0 0 1 320.8 79.2)" font-size="4.9" text-anchor="end" fill="#303030">10</text><text transform="matrix(.90 0 0 1 321 74.8)" font-size="4.9" text-anchor="end" fill="#303030">0</text><text transform="matrix(.90 0 0 1 321 54.8)" font-size="4.9" text-anchor="end" fill="#303030">50</text><text transform="matrix(.90 0 0 1 321 34.8)" font-size="4.9" text-anchor="end" fill="#303030">100</text><text transform="matrix(.90 0 0 1 389.7 103.5)" font-size="5.300000000000001" text-anchor="middle" fill="#303030">x</text><text transform="matrix(.90 0 0 1 338.5 102.5)" font-size="5.300000000000001" text-anchor="middle" fill="#303030">y</text><text font-size="5.300000000000001" fill="#303030" text-anchor="middle" transform="translate(310.9 49.3) rotate(-90) scale(1 0.9)">z</text><text transform="matrix(.90 0 0 1 368.5 6.7)" font-size="5.4" text-anchor="middle" fill="#222" font-weight="bold">F2</text><defs><linearGradient id="p4a" gradientUnits="userSpaceOnUse" x1="66" y1="213.6" x2="45.7" y2="154.8"><stop offset="0%" stop-color="#451abf"/><stop offset="8%" stop-color="#422ee0"/><stop offset="15%" stop-color="#3b45f5"/><stop offset="22%" stop-color="#2b66ff"/><stop offset="30%" stop-color="#148ffa"/><stop offset="40%" stop-color="#05ade6"/><stop offset="50%" stop-color="#00bfc2"/><stop offset="55%" stop-color="#0dc994"/><stop offset="60%" stop-color="#29cc70"/><stop offset="66%" stop-color="#47cc59"/><stop offset="72%" stop-color="#73cc40"/><stop offset="76%" stop-color="#bfc71f"/><stop offset="80%" stop-color="#f7ba1a"/><stop offset="86%" stop-color="#ffb81f"/><stop offset="93%" stop-color="#ffd914"/><stop offset="100%" stop-color="#fff700"/></linearGradient><linearGradient id="p4b" gradientUnits="userSpaceOnUse" x1="66" y1="213.6" x2="97" y2="160.6"><stop offset="0%" stop-color="#451abf"/><stop offset="8%" stop-color="#422ee0"/><stop offset="15%" stop-color="#3b45f5"/><stop offset="22%" stop-color="#2b66ff"/><stop offset="30%" stop-color="#148ffa"/><stop offset="40%" stop-color="#05ade6"/><stop offset="50%" stop-color="#00bfc2"/><stop offset="55%" stop-color="#0dc994"/><stop offset="60%" stop-color="#29cc70"/><stop offset="66%" stop-color="#47cc59"/><stop offset="72%" stop-color="#73cc40"/><stop offset="76%" stop-color="#bfc71f"/><stop offset="80%" stop-color="#f7ba1a"/><stop offset="86%" stop-color="#ffb81f"/><stop offset="93%" stop-color="#ffd914"/><stop offset="100%" stop-color="#fff700"/></linearGradient><linearGradient id="p4c" gradientUnits="userSpaceOnUse" x1="66" y1="213.6" x2="77.1" y2="194.7"><stop offset="0%" stop-color="#451abf"/><stop offset="8%" stop-color="#422ee0"/><stop offset="15%" stop-color="#3b45f5"/><stop offset="22%" stop-color="#2b66ff"/><stop offset="30%" stop-color="#148ffa"/><stop offset="40%" stop-color="#05ade6"/><stop offset="50%" stop-color="#00bfc2"/><stop offset="55%" stop-color="#0dc994"/><stop offset="60%" stop-color="#29cc70"/><stop offset="66%" stop-color="#47cc59"/><stop offset="72%" stop-color="#73cc40"/><stop offset="76%" stop-color="#bfc71f"/><stop offset="80%" stop-color="#f7ba1a"/><stop offset="86%" stop-color="#ffb81f"/><stop offset="93%" stop-color="#ffd914"/><stop offset="100%" stop-color="#fff700"/></linearGradient><linearGradient id="p4d" gradientUnits="userSpaceOnUse" x1="66" y1="213.6" x2="56.6" y2="186.1"><stop offset="0%" stop-color="#451abf"/><stop offset="8%" stop-color="#422ee0"/><stop offset="15%" stop-color="#3b45f5"/><stop offset="22%" stop-color="#2b66ff"/><stop offset="30%" stop-color="#148ffa"/><stop offset="40%" stop-color="#05ade6"/><stop offset="50%" stop-color="#00bfc2"/><stop offset="55%" stop-color="#0dc994"/><stop offset="60%" stop-color="#29cc70"/><stop offset="66%" stop-color="#47cc59"/><stop offset="72%" stop-color="#73cc40"/><stop offset="76%" stop-color="#bfc71f"/><stop offset="80%" stop-color="#f7ba1a"/><stop offset="86%" stop-color="#ffb81f"/><stop offset="93%" stop-color="#ffd914"/><stop offset="100%" stop-color="#fff700"/></linearGradient></defs><path d="M60.3 233.1L22.5 211M22.5 211L22.5 162.8M84.9 224.6L47.1 202.5M47.1 202.5L47.1 154.3M109.5 216.1L71.7 194M71.7 194L71.7 145.8M60.3 233.1L22.5 211M22.5 211L22.5 162.8M109.5 216.1L71.7 194M71.7 194L71.7 145.8M60.3 233.1L109.5 216.1M109.5 216.1L109.5 167.9M41.4 222.1L90.6 205.1M90.6 205.1L90.6 156.8M22.5 211L71.7 194M71.7 194L71.7 145.8M60.3 233.1L109.5 216.1M109.5 216.1L109.5 167.9M22.5 211L71.7 194M71.7 194L71.7 145.8M22.5 211L71.7 194M71.7 194L109.5 216.1M22.5 186.9L71.7 169.9M71.7 169.9L109.5 192M22.5 162.8L71.7 145.8M71.7 145.8L109.5 167.9M22.5 211L71.7 194M71.7 194L109.5 216.1M22.5 162.8L71.7 145.8M71.7 145.8L109.5 167.9" stroke="#e2e2e2" stroke-width="0.4"/><g fill="none" stroke-width="4.5" transform="scale(.1)"><path stroke="#5f4ae0" d="M673 2143l-29-2 3-13 29 2-3 13"/><path stroke="#5a5cf2" d="M661 2159l-15-1-19-11-19-11 2-7 25-8 24-8 15 0 19 11 19 11-2 7-25 8-24 9"/><path stroke="#4f75fd" d="M649 2175l-19-11-19-11-19-11-19-11 25-9 24-8 25-9 24-8 19 11 19 11 19 11 19 11-25 8-24 9-25 8-24 9"/><path stroke="#4091fc" d="M661 2182l-29-2-19-11-19-11-19-11-18-11 3-13 25-8 25-9 24-8 25-9 29 2 19 11 19 11 19 11 18 11-3 13-25 9-25 8-24 9-25 8"/><path stroke="#33a8f5" d="M649 2198l-14-1-19-11-19-11-19-11-19-11-19-11-19-11 2-7 25-8 24-9 25-8 25-9 24-8 25-9 14 1 19 11 19 11 19 11 19 12 19 11 19 11-2 6-25 9-24 8-25 9-25 8-24 9-25 8"/><path stroke="#2bbae9" d="M637 2214l-19-11-19-11-19-11-18-11-19-11-19-11-19-12-19-11 25-8 24-9 25-8 24-8 25-9 25-8 24-9 25-8 19 11 19 11 19 11 18 11 19 11 19 11 19 11 19 11-25 8-24 9-25 8-24 9-25 8-25 9-24 8-25 9"/><path stroke="#28c4d5" d="M650 2221l-29-2-19-11-19-11-19-11-19-11-19-11-19-11-19-11-18-11 3-13 25-8 25-9 24-8 25-9 24-8 25-9 25-8 24-9 29 2 19 11 19 11 19 11 19 11 19 11 19 11 19 11 18 11-3 13-25 9-25 8-24 9-25 8-24 9-25 8-25 9-24 8"/><path stroke="#2dcfb1" d="M638 2237l-15-1-19-11-19-11-18-11-19-11-19-11-19-11-19-11-19-11-19-11-19-11 2-7 25-8 24-9 25-8 25-9 24-8 25-9 24-8 25-9 25-8 24-9 15 1 19 11 19 11 18 11 19 11 19 11 19 12 19 11 19 11 19 11 19 11-2 6-25 9-24 8-25 9-25 8-24 9-25 8-24 9-25 8-25 9-24 8"/><path stroke="#49d486" d="M626 2253l-19-11-19-11-19-11-19-11-19-11-19-11-19-11-18-12-19-11-19-11-19-11-19-11 25-8 24-9 25-8 24-9 25-8 25-9 24-8 25-9 25-8 24-8 25-9 24-8 19 11 19 11 19 11 19 11 19 11 19 11 19 11 18 11 19 11 19 11 19 11 19 11-25 9-24 8-25 9-24 8-25 9-25 8-24 8-25 9-25 8-24 9-25 8-24 9"/><path stroke="#67d470" d="M638 2260l-29-1-19-12-19-11-18-11-19-11-19-11-19-11-19-11-19-11-19-11-19-11-19-11-18-11 3-13 25-9 25-8 24-9 25-8 24-8 25-9 25-8 24-9 25-8 25-9 24-8 25-9 29 2 19 11 19 11 18 11 19 11 19 11 19 11 19 11 19 11 19 11 19 11 19 11 18 11-3 14-25 8-25 8-24 9-25 8-24 9-25 8-25 9-24 8-25 9-25 8-24 9-25 8"/><path stroke="#9dd253" d="M626 2276l-14-1-19-11-19-11-19-11-19-11-19-11-19-11-18-11-19-11-19-11-19-11-19-11-19-11-19-11-19-11 2-7 25-8 24-9 25-8 25-9 24-8 25-9 24-8 25-9 25-8 24-9 25-8 25-9 24-8 25-9 14 1 19 11 19 11 19 11 19 11 19 11 19 11 18 12 19 11 19 11 19 11 19 11 19 11 19 11 19 11-2 6-25 9-24 8-25 9-25 8-24 9-25 8-24 9-25 8-25 9-24 8-25 9-25 8-24 9-25 8"/><path stroke="#f8c43c" d="M614 2292l-19-11-19-11-18-11-19-11-19-11-19-11-19-11-19-11-19-12-19-11-19-11-18-11-19-11-19-11-19-11-19-11 25-8 24-9 25-8 24-9 25-8 25-9 24-8 25-9 25-8 24-9 25-8 24-9 25-8 25-9 24-8 25-9 19 12 19 11 18 11 19 11 19 11 19 11 19 11 19 11 19 11 19 11 19 11 18 11 19 11 19 11 19 11 19 11-25 9-24 8-25 9-24 8-25 9-25 8-24 9-25 8-25 9-24 8-25 9-24 8-25 9-25 8-24 8-25 9"/><path stroke="#ffc53f" d="M627 2299l-29-1-19-11-19-12-19-11-19-11-19-11-19-11-18-11-19-11-19-11-19-11-19-11-19-11-19-11-19-11-19-11-18-11 3-13 25-9 25-8 24-9 25-8 24-9 25-8 25-9 24-8 25-9 25-8 24-8 25-9 24-8 25-9 25-8 24-9 29 2 19 11 19 11 19 11 19 11 19 11 19 11 18 11 19 11 19 11 19 11 19 11 19 11 19 11 19 12 19 11 18 11-3 13-25 8-25 9-24 8-25 9-24 8-25 9-25 8-24 8-25 9-25 8-24 9-25 8-24 9-25 8-25 9-24 8"/><path stroke="#ffe037" d="M615 2315l-15-1-19-11-19-11-18-11-19-11-19-11-19-11-19-11-19-11-19-11-19-11-18-11-19-11-19-11-19-11-19-11-19-11-19-12-19-11 2-6 25-9 24-8 25-9 25-8 24-8 25-9 24-8 25-9 25-8 24-9 25-8 25-9 24-8 25-9 24-8 25-9 25-8 24-9 15 1 19 11 19 11 18 11 19 11 19 11 19 11 19 11 19 12 19 11 19 11 18 11 19 11 19 11 19 11 19 11 19 11 19 11 19 11-2 7-25 8-24 8-25 9-25 8-24 9-25 8-24 9-25 8-25 9-24 8-25 9-25 8-24 9-25 8-24 9-25 8-25 9-24 8"/></g><path fill="url(#p4a)" stroke="url(#p4a)" stroke-width="0.3" d="M66 213.6L71.7 145.8L22.5 162.8z"/><path fill="url(#p4b)" stroke="url(#p4b)" stroke-width="0.3" d="M66 213.6L109.5 167.9L71.7 145.8z"/><path d="M66 213.6L71.7 145.8" stroke="url(#p4a)" stroke-width="0.8"/><path fill="url(#p4c)" stroke="url(#p4c)" stroke-width="0.3" d="M66 213.6L22.5 162.8L60.3 184.9z"/><path fill="url(#p4d)" stroke="url(#p4d)" stroke-width="0.3" d="M66 213.6L60.3 184.9L109.5 167.9z"/><path d="M66 213.6L60.3 184.9" stroke="url(#p4d)" stroke-width="0.8"/><path d="M60.3 233.1L109.5 216.1M60.3 233.1L22.5 211M22.5 211L22.5 162.8" stroke="#6a6a6a" stroke-width="0.5"/><path d="M60.3 233.1L60.8 234M84.9 224.6L85.4 225.5M109.5 216.1L110 217M60.3 233.1L59.7 234M41.4 222.1L40.8 223M22.5 211L21.9 211.9M22.5 211L21.5 211M22.5 186.9L21.5 186.9M22.5 162.8L21.5 162.8" stroke="#6a6a6a" stroke-width="0.4"/><text transform="matrix(.90 0 0 1 62.9 239.4)" font-size="4.9" fill="#303030">-100</text><text transform="matrix(.90 0 0 1 87.5 230.9)" font-size="4.9" fill="#303030">0</text><text transform="matrix(.90 0 0 1 112.1 222.4)" font-size="4.9" fill="#303030">100</text><text transform="matrix(.90 0 0 1 57.1 239)" font-size="4.9" text-anchor="end" fill="#303030">-100</text><text transform="matrix(.90 0 0 1 38.2 228)" font-size="4.9" text-anchor="end" fill="#303030">0</text><text transform="matrix(.90 0 0 1 19.3 216.9)" font-size="4.9" text-anchor="end" fill="#303030">100</text><text transform="matrix(.90 0 0 1 19.5 212.5)" font-size="4.9" text-anchor="end" fill="#303030">0</text><text transform="matrix(.90 0 0 1 19.5 188.4)" font-size="4.9" text-anchor="end" fill="#303030">50</text><text transform="matrix(.90 0 0 1 19.5 164.3)" font-size="4.9" text-anchor="end" fill="#303030">100</text><text transform="matrix(.90 0 0 1 89.8 241.2)" font-size="5.300000000000001" text-anchor="middle" fill="#303030">x</text><text transform="matrix(.90 0 0 1 33.6 240.3)" font-size="5.300000000000001" text-anchor="middle" fill="#303030">y</text><text font-size="5.300000000000001" fill="#303030" text-anchor="middle" transform="translate(11 186.9) rotate(-90) scale(1 0.9)">z</text><text transform="matrix(.90 0 0 1 65.8 145.2)" font-size="5.4" text-anchor="middle" fill="#222" font-weight="bold">F4</text><path d="M365.6 231.2L326.4 209.8M326.4 209.8L326.4 163.1M378.4 227.1L339.2 205.7M339.2 205.7L339.2 159M391.2 223L351.9 201.6M351.9 201.6L351.9 154.9M403.9 218.9L364.7 197.5M364.7 197.5L364.7 150.8M365.6 231.2L326.4 209.8M326.4 209.8L326.4 163.1M416.7 214.8L377.5 193.4M377.5 193.4L377.5 146.7M365.6 231.2L416.7 214.8M416.7 214.8L416.7 168.1M355.8 225.9L406.9 209.4M406.9 209.4L406.9 162.7M346 220.5L397.1 204.1M397.1 204.1L397.1 157.4M336.2 215.2L387.3 198.7M387.3 198.7L387.3 152M365.6 231.2L416.7 214.8M416.7 214.8L416.7 168.1M326.4 209.8L377.5 193.4M377.5 193.4L377.5 146.7M326.4 197.6L377.5 181.2M377.5 181.2L416.7 202.6M326.4 185.4L377.5 169M377.5 169L416.7 190.4M326.4 173.2L377.5 156.8M377.5 156.8L416.7 178.2M326.4 209.8L377.5 193.4M377.5 193.4L416.7 214.8M326.4 163.1L377.5 146.7M377.5 146.7L416.7 168.1" stroke="#e2e2e2" stroke-width="0.4"/><path d="M365.6 231.2L416.7 214.8L377.5 193.4L326.4 209.8z" fill="#c4e9f6" opacity=".55"/><g transform="scale(.1)" stroke-width="6" stroke-linecap="round" fill="none"><path stroke="#27a3f4" d="M3911 2084h0M3892 2209h0M3940 2075h0M3797 1993h0M3703 2278h0M3357 2116h0M4003 2156h0M3748 2019h0M3865 2242h0M3761 2229h0M3456 2165h0M3611 1989h0M3974 2116h0M3659 1984h0M3564 2203h0M3492 2069h0M3614 1994h0M3812 2240h0M3892 2213h0M3512 2203h0M3874 2207h0M3447 2061h0M3855 2017h0M3624 2224h0M3660 2013h0M3351 2074h0M3765 2238h0M3454 2159h0M3787 2009h0M3968 2207h0M3689 2263h0M3469 2180h0M3363 2086h0M3985 2124h0M3505 2119h0M3544 2185h0M3856 2016h0M3733 2209h0M3857 2188h0M3886 2059h0M3996 2099h0M3438 2067h0M3644 2220h0M3384 2088h0M3840 1999h0M3657 2232h0M3732 2014h0M3932 2059h0M3434 2158h0M3593 2221h0M3827 2251h0M3993 2108h0M3704 2242h0M3608 1996h0M3710 2276h0M3440 2173h0M3621 1987h0M3811 2257h0M3369 2085h0M3494 2098h0M3975 2193h0M3444 2067h0M3872 2180h0M3734 1997h0M3651 2007h0M3890 2230h0M3756 1981h0M3649 2278h0M3964 2075h0M3786 2206h0M3643 2000h0M3746 2234h0M3753 2269h0M3453 2164h0M3527 2197h0M3431 2137h0M3941 2201h0M3938 2079h0M3897 2196h0M3742 1998h0M3445 2165h0M3754 2269h0M4055 2112h0M3917 2221h0M3853 2222h0M3640 2264h0M3968 2210h0M3413 2060h0M3768 2243h0M3465 2133h0M3655 1990h0M3904 2171h0M3587 2226h0M3799 2213h0M3976 2067h0M3537 2199h0M3737 2226h0M4047 2160h0M3739 2265h0M3803 1984h0M3793 2255h0M3686 2266h0M3726 2002h0M3689 1970h0M3409 2064h0M3944 2182h0M4060 2155h0M3580 2227h0M3902 2203h0M3626 2252h0M3948 2079h0M3657 2219h0M3749 1972h0M3706 2254h0M3512 2046h0M3729 2271h0M3720 2270h0M3634 2215h0M3771 2018h0M3414 2098h0M3677 1989h0M3606 2193h0M3957 2188h0M4024 2174h0M3662 1990h0M3519 2023h0M3561 2017h0M3407 2112h0M3426 2088h0M3366 2111h0M3554 2197h0M3745 1977h0M3868 2059h0M3346 2104h0M3536 2170h0M3892 2212h0M3855 2071h0M3902 2061h0M3403 2140h0M3662 2010h0M3607 2241h0M3586 2023h0M3876 2035h0M4032 2141h0M3371 2065h0M3949 2075h0M3469 2033h0M3840 2040h0M3439 2075h0M3633 2251h0M3698 1971h0M3890 2218h0M3464 2053h0M3951 2185h0M3701 1975h0M3488 2155h0M3893 2209h0M3756 2273h0M4064 2161h0M3497 2046h0M3421 2063h0M3746 1982h0M3662 1979h0M3724 2259h0M3989 2119h0M3495 2068h0M3628 2001h0M3534 2029h0M3406 2065h0M4060 2134h0M3434 2083h0M3502 2029h0M3587 2225h0M3555 2168h0M4044 2175h0M3944 2124h0M3527 2161h0M3660 1986h0M3947 2119h0M3520 2021h0M3878 2038h0M3674 1973h0M3787 2261h0M3528 2019h0M3816 2005h0M3935 2171h0M3550 2051h0M3827 2013h0M3619 2246h0M4049 2149h0M3640 2004h0M3461 2058h0M3449 2129h0M3879 2222h0M3953 2072h0M3949 2218h0M3628 2244h0M3765 1968h0M3549 2165h0M3438 2159h0M3680 2261h0M3611 2221h0M3909 2057h0M3799 2238h0M3416 2135h0M3962 2187h0M3696 2017h0M3405 2084h0M3411 2102h0M3754 2273h0M3444 2163h0M3782 2235h0M3817 2060h0M3569 2028h0M3670 1988h0M3512 2033h0M3355 2076h0M3911 2227h0M3907 2093h0M3709 1982h0M3892 2190h0M3417 2068h0M3931 2060h0M4008 2162h0M3566 2032h0M3953 2187h0M3832 1988h0M3403 2063h0M3418 2050h0M3800 2255h0M3838 2014h0M3858 2066h0M3959 2213h0M4022 2112h0M3507 2210h0M3457 2047h0M3497 2042h0M3934 2119h0M3960 2203h0M3808 2001h0M3782 1980h0M3850 2052h0M3731 1998h0M3612 2210h0M3442 2145h0M3786 2221h0M3701 1973h0M4080 2136h0M4032 2146h0M3987 2149h0M3708 2268h0M3750 2018h0M3596 2188h0M4043 2178h0M3715 2264h0M3513 2201h0M3977 2079h0M3546 2076h0M4061 2147h0M3646 2236h0M3980 2115h0M3439 2066h0M3424 2072h0M3707 2262h0M3848 2213h0M3524 2170h0M3529 2045h0M4011 2164h0M4004 2124h0M3363 2103h0M3947 2168h0M4032 2184h0M3734 2262h0M3723 1986h0M3601 2253h0M3855 2011h0M3789 2006h0M3596 2004h0M3499 2156h0M3772 2263h0M3666 1972h0M4050 2100h0M3833 2017h0M3864 2238h0M3398 2122h0M3933 2066h0M3642 2013h0M3966 2197h0M3774 2266h0M3817 2007h0M3581 2240h0M3704 2260h0M4013 2119h0M3734 2280h0M3445 2160h0M3869 2034h0M3991 2134h0M3545 2023h0M3798 1984h0M3436 2140h0M3789 2223h0M3632 2243h0M3828 2238h0M3408 2081h0M3728 1984h0M3680 1978h0M3815 2032h0M4058 2166h0M3627 2234h0M3949 2092h0M3999 2079h0M3560 2235h0M3936 2054h0M3370 2083h0M3655 2268h0M3886 2027h0M3979 2076h0M3619 2016h0M3629 2254h0M4011 2120h0M4006 2147h0M3767 2271h0M3409 2119h0M3504 2181h0M3915 2223h0M3926 2046h0M3528 2030h0M3629 2219h0M3861 2236h0M3873 2212h0M3448 2126h0M3472 2134h0M3623 1996h0M3745 1973h0M3370 2120h0M3676 2217h0M3959 2065h0M3635 2265h0M4049 2130h0M3925 2054h0M3543 2018h0M3470 2144h0M3976 2122h0M3672 2261h0M3432 2064h0M3703 1996h0M3385 2065h0M3670 1997h0M4063 2155h0M3826 2047h0M3674 1969h0M3400 2137h0M3796 2245h0M3456 2054h0M3695 1976h0M3791 2226h0M3611 2007h0M3441 2069h0M3665 1992h0M3909 2227h0M3843 2001h0M3855 2223h0M3600 2055h0M3870 2032h0M3749 1971h0M3578 2186h0M3487 2056h0M3515 2176h0M4089 2134h0M4029 2116h0M4030 2182h0M3958 2065h0M4055 2113h0M3428 2146h0M3810 2231h0M3967 2102h0M3360 2092h0M3492 2077h0M3850 2068h0M3406 2096h0M3693 1991h0M3919 2217h0M4001 2156h0M3699 1960h0M3622 2241h0M3537 2025h0M3828 2010h0M3569 2239h0M3752 2267h0M3771 2234h0M3562 2057h0M3988 2085h0M3994 2079h0M3783 1991h0M3624 2231h0M3379 2120h0M3393 2093h0M3423 2124h0M3678 1981h0M3738 2225h0M3940 2195h0M3944 2093h0M3884 2024h0M3566 2023h0M3926 2176h0M3438 2111h0M3974 2073h0M3537 2197h0M3668 2263h0M3925 2114h0M3969 2089h0M3928 2074h0M3777 1974h0M3994 2129h0M3507 2129h0M3513 2190h0M3905 2217h0M4018 2098h0M3648 2266h0M3994 2109h0M3493 2168h0M3654 1996h0M3851 2031h0M3601 2019h0M3973 2200h0M3616 2185h0M3707 1987h0M3797 1988h0M3490 2185h0M3600 2215h0M3791 2239h0M3469 2168h0M3353 2122h0M3709 1960h0M3419 2085h0M3748 1980h0M3765 2236h0M3788 2264h0M3608 2016h0M3515 2191h0M3467 2121h0M3455 2147h0M3671 1989h0M3619 2226h0M3951 2084h0M3916 2168h0M3420 2059h0M3744 1962h0M3601 2215h0M3480 2050h0M4014 2122h0M4012 2122h0M3582 2229h0M3469 2084h0M4014 2142h0M3619 2003h0M3410 2142h0M3961 2071h0M3896 2233h0M3737 1996h0M3882 2082h0M3713 1988h0M3702 2274h0M3874 2210h0M3803 2246h0M3641 2235h0M3366 2080h0M3719 2000h0M3362 2097h0M3386 2108h0M3424 2160h0M3397 2138h0M3590 2188h0M3562 2010h0M3559 2029h0M3503 2162h0M3921 2075h0M3890 2196h0M3934 2063h0M3777 2044h0M4024 2154h0M3558 2065h0M3442 2109h0M3960 2183h0M3847 2044h0M3952 2214h0M3498 2032h0M3393 2072h0M3886 2056h0M3808 2008h0M3813 2216h0M3612 2266h0M3926 2216h0M3557 2011h0M3534 2071h0M3606 2015h0M3804 1997h0M3904 2216h0M3452 2175h0M3959 2123h0M3753 2263h0M3941 2064h0M3710 2234h0M3343 2079h0M3949 2112h0M3579 2174h0M3724 2241h0M3699 2264h0M3860 2246h0M3869 2025h0M3562 2232h0M3521 2175h0M3401 2131h0M3846 1994h0M3850 2233h0M3675 2210h0M3440 2076h0M3400 2120h0M3955 2058h0M3412 2081h0M3457 2067h0M3742 2253h0M3808 2216h0M3416 2108h0M3957 2201h0M3886 2228h0M3739 2266h0M3775 1988h0M3702 2257h0M4011 2102h0M3589 2026h0M4050 2136h0M3463 2062h0M4036 2173h0M3624 2198h0M3874 2036h0M3539 2212h0M3945 2092h0M4085 2138h0M3555 2074h0M3728 2242h0M3453 2093h0M3706 2274h0M3822 2248h0M3615 2233h0M4001 2121h0M3628 2229h0M3511 2195h0M3455 2162h0M3537 2033h0"/><path stroke="#4b5ff8" d="M3885 2058h0M3676 2180h0M3713 2194h0M3911 2080h0M3582 2178h0M3562 2024h0M3833 2109h0M3679 2029h0M3801 2048h0M3686 2017h0M3577 2013h0M3448 2149h0M3729 2193h0M3640 2116h0M3695 2091h0M3770 2192h0M3523 2131h0M3757 2012h0M3829 2039h0M3881 2064h0M3966 2140h0M3935 2155h0M3482 2080h0M3800 2024h0M3508 2156h0M3980 2185h0M3608 2038h0M3833 2101h0M3578 2132h0M3999 2104h0M3973 2114h0M3687 2204h0M3629 2033h0M3715 2163h0M3635 2112h0M3840 2078h0M3809 2075h0M3623 2124h0M3475 2071h0M3656 2011h0M3854 2045h0M3736 2146h0M3751 2185h0M3493 2147h0M3543 2096h0M3566 2121h0M3762 2037h0M3715 2234h0M3655 2231h0M3459 2072h0M3554 2202h0M3737 2261h0M3820 2203h0M3594 2076h0M3662 2007h0M3501 2154h0M3808 2138h0M3634 2125h0M3546 2122h0M3846 2153h0M3919 2106h0M3710 2184h0M3716 2120h0M3842 2089h0M3940 2095h0M3719 2135h0M3699 2079h0M3750 2091h0M3936 2191h0M3590 2004h0M3972 2166h0M3826 2165h0M3592 2061h0M3669 2213h0M3478 2109h0M3939 2185h0M3666 2223h0M3637 2202h0M3969 2146h0M3470 2129h0M3742 2113h0M3611 2019h0M3845 2140h0M3705 2201h0M3773 2147h0M3753 2077h0M3772 2046h0M3643 2066h0M3943 2190h0M3979 2126h0M3829 2218h0M3651 2083h0M3491 2111h0M3939 2124h0M3845 2159h0M3741 2189h0M3468 2126h0M3945 2152h0M3697 2130h0M3552 2080h0M3510 2144h0M3835 2123h0M3876 2222h0M3505 2084h0M3986 2170h0M3929 2070h0M3396 2093h0M3730 2215h0M3686 2149h0M3866 2156h0M3731 2239h0M3431 2141h0M3508 2081h0M3745 2139h0M3819 2230h0M3870 2178h0M3681 2239h0M3494 2159h0M3808 2141h0M3850 2170h0M3610 2240h0M3811 2121h0M3812 2011h0M3881 2210h0M3853 2070h0M3814 2070h0M3713 2067h0M3706 2119h0M3688 2191h0M3945 2080h0M3953 2145h0M3851 2162h0M3741 2238h0M3736 2108h0M3661 2162h0M3679 2044h0M3564 2051h0M3996 2176h0M3604 2193h0M3810 2172h0M3835 2011h0M3545 2090h0M3831 2209h0M3526 2086h0M3738 2000h0M3719 2009h0M3451 2050h0M3666 2108h0M3610 2219h0M3758 2032h0M3622 2247h0M3586 2099h0M3753 2118h0M3815 2131h0M3760 2037h0M3882 2159h0M3683 2214h0M3701 2202h0M3657 2011h0M3886 2082h0M3651 2008h0M3780 2178h0M3802 2211h0M3782 2081h0M3714 2012h0M3601 2136h0M3716 2168h0M3792 2025h0M3755 2132h0M3567 2130h0M3465 2110h0M3823 2173h0M3982 2197h0M3795 2109h0M3462 2044h0M3678 2088h0M3476 2126h0M3782 2068h0M3672 2094h0M3462 2128h0M3460 2094h0M3897 2134h0M3568 2057h0M3666 2044h0M3813 2086h0M3786 2153h0M3682 2073h0M3696 2017h0M3534 2162h0M3729 2155h0M3645 2056h0M3700 2208h0M3593 2025h0M3502 2073h0M3851 2069h0M3544 2040h0M3586 2171h0M3729 2190h0M3658 2221h0M3762 2221h0M3951 2157h0M3726 2235h0M3584 2169h0M3566 2186h0M3571 2050h0M3749 2061h0M3699 2073h0M3543 2187h0M3683 2047h0M3778 2094h0M3696 2018h0M3909 2105h0M3708 2198h0M3790 2179h0M3816 2033h0M3633 2003h0M3793 2098h0M3635 2240h0M3934 2092h0M3981 2161h0M3802 2148h0M3908 2183h0M3893 2094h0M3685 2065h0M3664 2202h0M3394 2093h0M3483 2077h0M3928 2114h0M3814 2045h0M3509 2102h0M3627 2188h0M3593 2076h0M3969 2087h0M3890 2104h0M3648 2010h0M3852 2176h0M3834 2072h0M3532 2136h0M3985 2166h0M3824 2129h0M3785 2207h0M3866 2138h0M3708 2038h0M3588 2130h0M3838 2087h0M3614 2132h0M3718 2031h0M3678 2097h0M3445 2095h0M3764 2187h0M3517 2150h0M3589 2152h0M3731 2175h0M3747 2203h0M3968 2148h0M3613 2077h0M3701 2061h0M3878 2178h0M3686 2188h0M3798 2132h0M3824 2139h0M3755 2066h0M3566 2154h0M3833 2028h0M3545 2124h0M3766 2019h0M3524 2156h0M3861 2195h0M3621 2246h0M3690 2037h0M3911 2188h0M3452 2157h0M3582 2052h0M3619 2203h0M3922 2052h0M3516 2161h0M3562 2118h0M3646 2193h0M3752 2019h0M3675 2085h0M3637 1985h0M3892 2120h0M3753 2235h0M3873 2094h0M3700 2130h0M3888 2056h0M3892 2177h0M3927 2160h0M3870 2168h0M3961 2154h0M3802 2138h0M3701 2146h0M3529 2142h0M3774 2210h0M3728 2118h0M3815 2065h0M3714 2180h0M3780 2150h0M3793 2095h0M3484 2074h0M3728 2215h0M3934 2168h0M3547 2089h0M3604 2191h0M3898 2152h0M3463 2112h0M3678 2127h0M4015 2181h0M3617 2069h0M3439 2112h0M3663 2168h0M3431 2054h0M3418 2128h0M3532 2051h0M3785 2014h0M4000 2165h0M3766 2200h0M3536 2131h0M3969 2139h0M3914 2143h0M3905 2085h0M3721 2232h0M3553 2144h0M3994 2146h0M3808 2078h0M3894 2069h0M3714 2108h0M3517 2166h0M3910 2205h0M3811 2180h0M3751 2158h0M3506 2181h0M3499 2105h0M3522 2028h0M3584 2134h0M3633 2227h0M3756 2201h0M3819 2181h0M3795 2053h0M3962 2159h0M3778 2168h0M3591 2066h0M3846 2044h0M3439 2066h0M3779 2222h0M3874 2160h0M3630 2195h0M3875 2125h0M3624 2045h0M3972 2121h0M3729 2234h0M3853 2189h0M3912 2197h0M3968 2156h0M3967 2134h0M3661 2224h0M3789 2061h0M3589 2089h0M3806 2043h0M3677 2204h0M3737 2132h0M3735 2245h0M3489 2060h0M3489 2111h0M3638 2177h0M3648 2231h0M3768 2160h0M3512 2023h0M3938 2139h0M3604 2103h0M3672 2132h0M3727 2234h0M3967 2147h0M3471 2153h0M3576 2110h0M3767 2173h0M3839 2217h0M3867 2043h0M3660 2141h0M3927 2208h0M3480 2139h0M3643 2082h0M3741 2033h0M3866 2104h0M3587 2090h0M3874 2185h0M3662 2236h0M3869 2128h0M3928 2211h0M3863 2180h0M3613 2123h0M3702 2199h0M3715 2158h0M3735 2205h0M3918 2177h0M3485 2140h0M3674 2242h0M3652 2057h0M3574 2096h0M3606 2082h0M3571 2147h0M3736 2162h0M4009 2146h0M3575 2076h0M3679 1995h0M3592 2090h0M3762 2024h0M3867 2092h0M3758 2089h0M3594 2161h0M3816 2041h0M3652 2123h0M3791 2189h0M3481 2093h0M3943 2090h0M3585 2050h0M3659 2186h0M3424 2064h0M3815 2139h0M3784 2110h0M3961 2152h0M3619 2150h0M3600 2058h0M3862 2077h0M3522 2132h0M3718 2128h0M3710 2163h0M3756 2117h0M3688 2165h0M3719 2042h0M3829 2155h0M3411 2106h0M3535 2110h0M3760 2241h0M3643 2130h0M3629 2209h0M3704 2151h0M3515 2146h0M3696 2150h0M3814 2096h0M3835 2132h0M3878 2177h0M3995 2099h0M3460 2131h0M3449 2087h0M3842 2060h0M3914 2200h0M3841 2072h0M3871 2137h0M3787 2133h0M3470 2105h0M3670 2193h0M3596 2023h0M3804 2096h0M3848 2188h0M3845 2044h0M3506 2123h0M3689 2001h0M3635 2007h0M3489 2105h0M3614 2152h0M4019 2164h0M3774 2096h0M3526 2082h0M3630 2156h0M3771 2063h0M3859 2211h0M3716 2161h0M3674 2095h0M3975 2100h0M3416 2120h0M3691 2236h0M3930 2177h0M3812 2073h0M4031 2144h0M3512 2108h0M3618 2134h0M3534 2124h0M3855 2198h0M3801 2091h0M3804 2100h0M3777 2104h0M3665 1994h0M3564 2090h0M3855 2186h0M3677 2214h0M3775 2044h0M3629 2042h0M3775 2239h0M3827 2045h0M3541 2128h0M3860 2032h0M3664 2136h0M3703 2213h0M3718 2005h0M3910 2183h0M3455 2096h0M3678 2047h0M3832 2028h0M3491 2108h0M3729 2258h0M3563 2192h0M3574 2079h0M3502 2088h0M3759 2007h0M3693 2228h0M3769 2216h0M3569 2119h0M3527 2177h0M4005 2156h0M3528 2097h0M3686 2242h0M3694 2037h0M3658 2036h0M3837 2225h0M3978 2134h0M3824 2179h0M3817 2083h0M3862 2047h0M3608 2053h0M3569 2101h0M3444 2123h0M3725 2240h0M3938 2153h0M3873 2180h0M3613 2184h0M3873 2106h0M3834 2200h0M3894 2093h0M3709 2085h0M3514 2150h0M3491 2124h0M3715 2150h0M3823 2053h0M3734 2228h0M3808 2121h0M3828 2034h0M3928 2195h0M3703 2094h0M3518 2111h0M3471 2125h0M3847 2181h0M3847 2099h0M3877 2218h0M3773 2102h0M3637 2137h0M3925 2188h0M3914 2073h0M3686 2136h0M4000 2133h0M3508 2047h0M3644 2161h0M3562 2073h0M3905 2087h0M3809 2099h0M3958 2104h0M3567 2074h0M3603 2171h0M3730 1993h0M3659 1995h0M3839 2077h0M3748 2179h0M4024 2129h0M3983 2131h0M3730 2212h0M3632 2150h0M3728 2137h0M3783 2202h0M3703 2238h0M3696 2199h0M3643 2223h0M3665 2074h0M3558 2087h0M3624 2052h0M3758 2028h0M3780 2166h0M3512 2128h0M3784 2007h0M3630 2156h0M3604 2147h0M3628 2136h0M3729 2216h0M3458 2131h0M3716 2168h0M3973 2157h0M3705 2248h0M3833 2163h0M3433 2138h0M3604 2098h0M3761 2235h0M4009 2159h0M3852 2041h0M3464 2079h0M3850 2049h0M3446 2088h0M3804 2185h0M3739 2095h0M3714 2062h0M4029 2154h0M3758 2112h0M3423 2092h0M3862 2144h0M3697 2152h0M3860 2141h0M3740 2259h0M3688 2243h0M3431 2115h0M3490 2087h0M3625 2155h0M3512 2135h0M3859 2100h0M4025 2165h0M3710 2058h0M3820 2040h0M3549 2193h0M3983 2125h0M3690 2150h0M4019 2132h0M3877 2115h0M3771 2046h0M3581 2057h0M3700 2029h0M3891 2124h0M3737 2196h0M3465 2051h0M3822 2215h0M3638 2217h0M3844 2194h0M3769 2151h0M3520 2079h0M3628 2125h0M3676 2177h0M3717 2042h0M3755 2206h0M3885 2144h0M3556 2082h0M3597 2059h0M3591 2196h0M3832 2246h0M3503 2130h0M3847 2131h0M3446 2089h0M3461 2075h0M3562 2112h0M3607 2038h0M3974 2107h0M3973 2113h0M3662 2185h0M3805 2227h0M3673 2205h0M3579 2021h0M3903 2105h0M3702 2249h0M3648 2227h0M3982 2181h0M3727 2146h0M3712 2107h0M3543 2057h0M3924 2160h0M3823 2137h0M3905 2204h0M3584 2146h0M3740 2049h0M3942 2180h0M3702 2041h0M3755 2109h0M3473 2130h0M3491 2104h0M3900 2060h0M3820 2204h0M3810 2107h0M3935 2165h0M3827 2097h0M3645 2124h0M3704 2139h0M3711 2212h0M3711 2268h0M3604 2155h0M3667 2010h0M3439 2057h0M3903 2166h0M3433 2124h0M3760 2144h0M3679 2101h0M3791 2190h0M3887 2071h0M3638 2000h0M3763 1993h0M3963 2201h0M3678 2231h0M3742 2216h0M3520 2136h0M3832 2124h0M3669 2206h0M3826 2081h0M3847 2024h0M3454 2112h0M3587 2199h0M3467 2083h0M3707 2139h0M3717 2098h0M3490 2104h0M3597 2113h0M3546 2193h0M3822 2033h0M3897 2169h0M3627 2164h0M3552 2169h0M3853 2201h0M3582 2152h0M3707 2023h0M3720 2220h0M3487 2146h0M3779 2125h0M3673 2018h0M3668 2074h0M3676 1987h0M3508 2087h0M3716 2122h0M3914 2109h0M3910 2104h0M3462 2055h0M3829 2081h0M3984 2176h0M3628 2208h0M3650 1995h0M3512 2132h0M3636 2064h0M3645 2067h0M3665 2006h0M3836 2033h0M3917 2184h0M3874 2073h0M3730 2117h0M3676 2117h0M3891 2053h0M3851 2032h0M3900 2056h0M3734 2235h0M3728 2195h0M3500 2080h0M3528 2166h0M3851 2096h0M3634 2205h0M3425 2077h0M3464 2169h0M3593 2105h0M3867 2099h0M3662 2145h0M3578 2089h0M3890 2100h0M3888 2202h0M3952 2095h0M3977 2148h0M3580 2135h0M3907 2165h0M3525 2132h0M3434 2095h0M3665 2191h0M3930 2107h0M3650 2185h0M3500 2096h0M3800 2216h0M3755 2244h0M3614 2062h0M3443 2127h0M3925 2185h0M3873 2222h0M3608 2051h0M3527 2140h0M3857 2162h0M3595 2165h0M3651 2003h0M3903 2194h0M3710 2048h0M3398 2067h0M3832 2246h0M3733 2191h0M3899 2179h0M3472 2091h0M3749 2036h0M3494 2105h0M3617 2017h0M3755 2069h0M3898 2119h0M3597 2030h0M3731 2145h0M3688 2049h0M3494 2130h0M3709 2255h0M4034 2163h0M3925 2115h0M3722 2174h0M3820 2068h0M3832 2168h0M3658 2100h0M3825 2062h0M3862 2108h0M3980 2180h0M3771 2203h0M3560 2128h0M3720 2010h0M3635 1987h0M3705 2253h0M3559 2174h0M3851 2166h0M3528 2058h0"/><path stroke="#1ac6c8" d="M3394 2158h0M3591 2256h0M4035 2081h0M4089 2140h0M3776 1954h0M4037 2101h0M3593 2263h0M3681 2270h0M3838 1993h0M3732 1956h0M3720 1963h0M3597 2273h0M3896 2025h0M4071 2129h0M4070 2148h0M3965 2059h0M3419 2163h0M3715 1959h0M3511 2228h0M3382 2121h0M3364 2117h0M3776 1981h0M4058 2107h0M3798 1969h0M3769 1988h0M3741 1963h0M3340 2094h0M3453 2184h0M3711 1965h0M3916 2030h0M3970 2055h0M3336 2078h0M3681 1981h0M3727 2284h0M3737 1970h0M3988 2203h0M3549 2231h0M3619 2285h0M4080 2114h0M3470 2177h0M3629 2277h0M4002 2076h0M3334 2100h0M3306 2089h0M3862 1986h0M4059 2117h0M4101 2127h0M3774 1969h0M3785 2269h0M3474 2200h0M3868 2237h0M4081 2133h0M3887 2237h0M3590 2001h0M4034 2174h0M3822 1987h0M3597 1994h0M3655 2285h0M3690 2286h0M3398 2131h0M3528 2239h0M4082 2112h0M3828 1976h0M3708 1982h0M3679 2280h0M3640 2284h0M3920 2053h0M3925 2215h0M3489 2176h0M3531 2210h0M3560 2233h0M3523 2218h0M4077 2145h0M3923 2044h0M3922 2022h0M3600 2263h0M3750 2276h0M3316 2100h0M3524 2211h0M4010 2092h0M3500 2199h0M3803 1975h0M4047 2186h0M3752 1975h0M3914 2015h0M3953 2053h0M3360 2087h0M3405 2151h0M3596 2271h0M3971 2079h0M3612 2249h0M3351 2116h0M3834 1982h0M3811 1990h0M3759 2275h0M3470 2202h0M3857 2000h0M3719 1960h0M4023 2096h0M3363 2119h0M4064 2124h0M3964 2044h0M3454 2152h0M4009 2185h0M3683 2281h0M3733 2278h0M4097 2123h0M3377 2151h0M3323 2119h0M4053 2179h0M3925 2029h0M3742 1956h0M3933 2034h0M3443 2165h0M3713 1959h0M3753 1961h0M3339 2100h0M3716 1956h0M3971 2050h0M3726 1966h0M3362 2078h0M3639 2275h0M4064 2100h0M3739 1953h0M3745 1984h0M3363 2138h0M3784 1973h0M4028 2124h0M3385 2156h0M3970 2062h0M3672 2288h0M4100 2133h0M3779 1970h0M4081 2141h0M3600 2269h0M3487 2216h0M3419 2162h0M3964 2038h0M4023 2186h0M3610 2244h0M4057 2093h0M3865 2245h0M3738 2278h0M3455 2042h0M3843 1990h0M3684 2288h0M3430 2184h0M3767 1950h0M3439 2170h0M4078 2132h0M3406 2147h0M3944 2047h0M4114 2135h0M3620 2262h0M3869 2020h0M3557 2224h0M3941 2044h0M3369 2083h0M3376 2122h0M3341 2117h0M3785 1983h0M4114 2152h0M3330 2100h0M3675 2285h0M3765 1976h0M4105 2145h0M4120 2163h0M3342 2117h0M3807 1970h0M3935 2046h0M3407 2145h0M3658 1972h0M3317 2115h0M3710 1955h0M3955 2045h0M3346 2112h0M3545 2010h0M4037 2082h0M3424 2156h0M3948 2038h0M3950 2214h0M3760 1968h0M3574 2233h0M3899 2017h0M4037 2109h0M3546 2219h0M3587 1997h0M3636 2266h0M3386 2068h0M3736 1965h0M3773 1962h0M4101 2166h0M4073 2105h0M4061 2096h0M3707 1979h0M3632 2271h0M3531 2226h0M3968 2069h0M3894 2009h0M4001 2090h0M3571 2237h0M4006 2087h0M3497 2198h0M3718 1953h0M3316 2082h0M3933 2044h0M3749 2282h0M4113 2160h0M3639 2284h0M3342 2078h0M3530 2238h0M3751 1954h0M3737 1969h0M3635 2262h0M3603 2266h0M3697 1966h0M3767 1961h0M3743 2275h0M3494 2188h0M4025 2121h0M3946 2054h0M3964 2047h0M3866 2004h0M4069 2097h0M3544 2233h0M4089 2134h0M3994 2089h0M3985 2061h0M4051 2129h0M3740 2274h0M4072 2150h0M3690 2279h0M3761 1975h0M3720 2275h0M4064 2132h0M4046 2159h0M3810 1975h0M4076 2115h0M3514 2207h0M3961 2052h0M3987 2087h0M3637 2275h0M4008 2090h0M3383 2139h0"/><path stroke="#5730c6" d="M3739 2083h0M3732 2081h0M3541 2126h0M3589 2118h0M3713 2059h0M3695 2169h0M3696 2125h0M3832 2099h0M3870 2108h0M3628 2198h0M3643 2188h0M3600 2131h0M3856 2180h0M3576 2137h0M3773 2165h0M3899 2131h0M3654 2128h0M3557 2106h0M3802 2199h0M3622 2140h0M3658 2170h0M3803 2160h0M3874 2077h0M3642 2194h0M3686 2127h0M3563 2069h0M3598 2124h0M3801 2163h0M3715 2150h0M3789 2128h0M3598 2130h0M3644 2151h0M3521 2083h0M3758 2056h0M3717 2118h0M3622 2123h0M3834 2097h0M3598 2115h0M3756 2108h0M3819 2120h0M3739 2183h0M3738 2024h0M3784 2076h0M3586 2113h0M3660 2172h0M3493 2116h0M3582 2128h0M3659 2127h0M3595 2088h0M3742 2081h0M3826 2174h0M3653 2092h0M3687 2142h0M3671 2118h0M3657 2145h0M3749 2148h0M3745 2079h0M3746 2196h0M3682 2076h0M3797 2117h0M3705 2176h0M3575 2071h0M3552 2063h0M3650 2166h0M3727 2097h0M3818 2133h0M3661 2065h0M3546 2092h0M3769 2117h0M3827 2119h0M3619 2059h0M3631 2098h0M3754 2145h0M3570 2106h0M3538 2135h0M3634 2056h0M3533 2084h0M3804 2080h0M3659 2194h0M3922 2099h0M3802 2066h0M3736 2103h0M3843 2198h0M3757 2167h0M3868 2180h0M3557 2123h0M3716 2186h0M3626 2031h0M3780 2211h0M3758 2066h0M3641 2151h0M3524 2104h0M3831 2188h0M3557 2147h0M3657 2085h0M3767 2065h0M3537 2145h0M3583 2161h0M3878 2166h0M3702 2020h0M3787 2165h0M3680 2098h0M3865 2172h0M3716 2160h0M3800 2134h0M3575 2184h0M3818 2158h0M3640 2068h0M3753 2226h0M3795 2192h0M3519 2105h0M3726 2075h0M3771 2175h0M3871 2190h0M3875 2122h0M3576 2157h0M3831 2117h0M3761 2172h0M3620 2086h0M3808 2069h0M3706 2049h0M3608 2170h0M3583 2181h0M3865 2156h0M3636 2081h0M3816 2207h0M3736 2061h0M3704 2120h0M3847 2175h0M3697 2068h0M3691 2061h0M3694 2149h0M3663 2119h0M3605 2152h0M3579 2178h0M3634 2184h0M3921 2162h0M3712 2150h0M3714 2038h0M3836 2111h0M3583 2077h0M3677 2174h0M3750 2119h0M3694 2105h0M3627 2090h0M3817 2049h0M3710 2157h0M3744 2116h0M3714 2127h0M3674 2072h0M3883 2180h0M3700 2049h0M3724 2132h0M3891 2150h0M3767 2100h0M3528 2125h0M3778 2107h0M3836 2180h0M3833 2094h0M3561 2121h0M3672 2136h0M3814 2125h0M3813 2062h0M3677 2124h0M3821 2119h0M3559 2068h0M3703 2166h0M3699 2156h0M3665 2160h0M3863 2122h0M3789 2120h0M3495 2107h0M3503 2109h0M3919 2114h0M3664 2109h0M3499 2078h0M3843 2141h0M3686 2076h0M3743 2173h0M3651 2133h0M3500 2091h0M3606 2125h0M3800 2061h0M3785 2091h0M3700 2162h0M3674 2167h0M3680 2217h0M3694 2125h0M3607 2120h0M3819 2099h0M3554 2103h0M3661 2166h0M3758 2159h0M3586 2177h0M3725 2141h0M3691 2058h0M3815 2108h0M3723 2017h0M3933 2131h0"/><path stroke="#5ed167" d="M4054 2096h0M3304 2116h0M3895 2004h0M3774 1951h0M3540 2245h0M4119 2149h0M3743 1952h0M3560 2249h0M3993 2071h0M3348 2140h0M3322 2125h0M3666 2289h0M3777 1964h0M3979 2051h0M3902 2009h0M3652 2290h0M3566 2261h0M3672 2297h0M4074 2114h0M3331 2123h0M3793 1959h0M3944 2028h0M3424 2174h0M3609 2284h0M3962 2045h0M3589 2263h0M3580 2267h0M4133 2134h0M3409 2157h0M3892 2000h0M3865 1994h0M3567 2257h0M3463 2194h0M3986 2057h0M3506 2223h0M3332 2123h0M4103 2118h0M3460 2197h0M3528 2241h0M3324 2116h0M3832 1966h0M4135 2137h0M3315 2083h0M4027 2078h0M4150 2144h0M3310 2102h0M3341 2122h0M3316 2093h0M3614 2266h0M3850 1982h0M3778 1956h0M3276 2100h0M3604 2277h0M3486 2218h0M3650 2289h0M3340 2080h0M3311 2108h0M3673 2295h0M3544 2235h0M3512 2233h0M3353 2146h0M3881 2008h0M3938 2029h0M3331 2109h0M3688 2300h0M3456 2200h0M3314 2106h0M3678 2288h0M3623 2293h0M3767 1944h0M3906 2013h0M3907 2018h0M4107 2123h0M3889 2010h0M3326 2126h0M3816 1971h0M3562 2259h0M3304 2092h0M3680 2289h0M3776 1958h0M3946 2031h0M3843 1990h0M3316 2091h0M3480 2207h0M3304 2105h0M3516 2222h0"/><path stroke="#fcc033" d="M4157 2146h0M3780 1939h0M3304 2109h0M3683 2303h0M3782 1941h0M3355 2146h0M3274 2097h0M4150 2153h0M3772 1939h0M3346 2142h0M3306 2101h0M4144 2149h0M4139 2154h0"/><path stroke="#fff81a" d="M3780 1939h0"/></g><g class="sf" filter="url(#bl)" transform="scale(.1)"><path color="#62cc4a" d="M3772 1617l14-55-11-8-14 38z"/><path color="#36cc67" d="M3757 1655l15-38-11-25-14 29z"/><path color="#05c3b1" d="M3743 1715l14-60-10-34-15-21z"/><path color="#04b2db" d="M3729 1758l14-43-11-115-14 127z"/><path color="#09a6eb" d="M3715 1796l14-38-11-31-14 16z"/><path color="#01bcc8" d="M3701 1737l14 59-11-53-14-48z"/><path color="#0e9bf2" d="M3686 1814l15-77-11-42-14 37z"/><path color="#05afe2" d="M3672 1786l14 28-10-82-15 61z"/><path color="#1888fb" d="M3658 1850l14-64-11 7-14 4z"/><path color="#09a6eb" d="M3644 1811l14 39-11-53-14-51z"/><path color="#0e9bf2" d="M3630 1828l14-17-11-65-14 93z"/><path color="#05afe2" d="M3616 1800l14 28-11 11-14-20z"/><path color="#2375fd" d="M3601 1883l15-83-11 19-15-10z"/><path color="#0e9bf2" d="M3587 1841l14 42-11-74-14 63zM3573 1846l14-5-11 31-14-67z"/><path color="#09a6eb" d="M3559 1839l14 7-11-41-14 49z"/><path color="#06abe7" d="M3545 1826l14 13-11 15-14 9z"/><path color="#286cfe" d="M3530 1918l15-92-11 37-15-48z"/><path color="#09a6eb" d="M3516 1852l14 66-11-103-14 73z"/><path color="#0e9bf2" d="M3502 1871l14-19-11 36-14 14z"/><path color="#05afe2" d="M3488 1837l14 34-11 31-14-1z"/><path color="#06abe7" d="M3474 1850l14-13-11 64-14-96z"/><path color="#1e7efc" d="M3459 1927l15-77-11-45-15 92z"/><path color="#03b6d5" d="M3445 1838l14 89-11-30-14-89z"/><path color="#1195f6" d="M3431 1904l14-66-11-30-14 84z"/><path color="#04b2db" d="M3417 1850l14 54-11-12-14-80z"/><path color="#03b6d5" d="M3403 1853l14-3-11-38-14 80z"/><path color="#0ca0ee" d="M3388 1906l15-53-11 39-14-44zM3374 1905l14 1-10-58-15 33z"/><path color="#01bcc8" d="M3360 1850l14 55-11-24-14-19z"/><path color="#00bfc2" d="M3346 1845l14 5-11 12-14-29z"/><path color="#09c7a1" d="M3332 1836l14 9-11-12-14 17z"/><path color="#0fca91" d="M3317 1831l15 5-11 14-14-39z"/><path color="#2ccc6d" d="M3303 1817l14 14-10-20-15-39z"/><path color="#fab91b" d="M3289 1711l14 106-11-45-14 2z"/><path color="#ffb81e" d="M3275 1702l14 9-11 63-14-143z"/><path color="#2ccc6d" d="M3783 1673l14-66-11-45-14 55z"/><path color="#23cb78" d="M3768 1678l15-5-11-56-15 38z"/><path color="#3fcc60" d="M3754 1654l14 24-11-23-14 60z"/><path color="#06abe7" d="M3740 1786l14-132-11 61-14 43z"/><path color="#03b6d5" d="M3726 1754l14 32-11-28-14 38z"/><path color="#1490f9" d="M3712 1831l14-77-11 42-14-59z"/><path color="#2375fd" d="M3697 1863l15-32-11-94-15 77z"/><path color="#04b2db" d="M3683 1776l14 87-11-49-14-28z"/><path color="#2d63fe" d="M3669 1893l14-117-11 10-14 64z"/><path color="#0ca0ee" d="M3655 1823l14 70-11-43-14-39z"/><path color="#2375fd" d="M3641 1885l14-62-11-12-14 17z"/><path color="#286cfe" d="M3626 1898l15-13-11-57-14-28z"/><path color="#1490f9" d="M3612 1860l14 38-10-98-15 83z"/><path color="#1195f6" d="M3598 1853l14 7-11 23-14-42z"/><path color="#315bfc" d="M3584 1926l14-73-11-12-14 5z"/><path color="#0ca0ee" d="M3570 1848l14 78-11-80-14-7z"/><path color="#3452f9" d="M3555 1941l15-93-11-9-14-13z"/><path color="#315bfc" d="M3541 1943l14-2-10-115-15 92z"/><path color="#0ca0ee" d="M3527 1860l14 83-11-25-14-66z"/><path color="#1888fb" d="M3513 1902l14-42-11-8-14 19z"/><path color="#0e9bf2" d="M3499 1883l14 19-11-31-14-34z"/><path color="#286cfe" d="M3484 1940l15-57-11-46-14 13zM3470 1948l14-8-10-90-15 77zM3456 1953l14-5-11-21-14-89z"/><path color="#0ca0ee" d="M3442 1885l14 68-11-115-14 66z"/><path color="#286cfe" d="M3428 1955l14-70-11 19-14-54z"/><path color="#2d63fe" d="M3414 1969l14-14-11-105-14 3z"/><path color="#286cfe" d="M3399 1967l15 2-11-116-15 53z"/><path color="#04b2db" d="M3385 1876l14 91-11-61-14-1z"/><path color="#01bcc8" d="M3371 1853l14 23-11 29-14-55z"/><path color="#09c7a1" d="M3357 1834l14 19-11-3-14-5z"/><path color="#04b2db" d="M3343 1890l14-56-11 11-14-9zM3328 1897l15-7-11-54-15-5z"/><path color="#2ccc6d" d="M3314 1814l14 83-11-66-14-14z"/><path color="#6fcc42" d="M3300 1768l14 46-11 3-14-106z"/><path color="#fcb81d" d="M3286 1719l14 49-11-57-14-9z"/><path color="#19cb85" d="M3793 1696l15-81-11-8-14 66z"/><path color="#23cb78" d="M3779 1682l14 14-10-23-15 5z"/><path color="#02b9cf" d="M3765 1747l14-65-11-4-14-24zM3751 1754l14-7-11-93-14 132z"/><path color="#05afe2" d="M3737 1780l14-26-11 32-14-32z"/><path color="#04b2db" d="M3722 1770l15 10-11-26-14 77z"/><path color="#286cfe" d="M3708 1877l14-107-10 61-15 32z"/><path color="#1490f9" d="M3694 1847l14 30-11-14-14-87zM3680 1850l14-3-11-71-14 117z"/><path color="#315bfc" d="M3666 1907l14-57-11 43-14-70z"/><path color="#3452f9" d="M3651 1921l15-14-11-84-14 62z"/><path color="#0e9bf2" d="M3637 1846l14 75-10-36-15 13z"/><path color="#286cfe" d="M3623 1901l14-55-11 52-14-38z"/><path color="#1888fb" d="M3609 1878l14 23-11-41-14-7zM3595 1883l14-5-11-25-14 73z"/><path color="#3b43f3" d="M3581 1959l14-76-11 43-14-78z"/><path color="#3452f9" d="M3566 1952l15 7-11-111-15 93z"/><path color="#3b43f3" d="M3552 1972l14-20-11-11-14 2z"/><path color="#3452f9" d="M3538 1955l14 17-11-29-14-83z"/><path color="#384af6" d="M3524 1973l14-18-11-95-14 42z"/><path color="#2375fd" d="M3510 1930l14 43-11-71-14-19z"/><path color="#1195f6" d="M3495 1896l15 34-11-47-15 57zM3481 1905l14-9-11 44-14 8z"/><path color="#2375fd" d="M3467 1945l14-40-11 43-14 5z"/><path color="#3452f9" d="M3453 1984l14-39-11 8-14-68z"/><path color="#1195f6" d="M3439 1915l14 69-11-99-14 70z"/><path color="#09a6eb" d="M3424 1896l15 19-11 40-14 14z"/><path color="#2375fd" d="M3410 1962l14-66-10 73-15-2z"/><path color="#286cfe" d="M3396 1977l14-15-11 5-14-91z"/><path color="#05afe2" d="M3382 1895l14 82-11-101-14-23z"/><path color="#03b6d5" d="M3368 1879l14 16-11-42-14-19z"/><path color="#02b9cf" d="M3353 1875l15 4-11-45-14 56z"/><path color="#03b6d5" d="M3339 1901l14-26-10 15-15 7z"/><path color="#3fcc60" d="M3325 1800l14 101-11-4-14-83z"/><path color="#55cc51" d="M3311 1796l14 4-11 14-14-46z"/><path color="#f8ba1a" d="M3297 1738l14 58-11-28-14-49z"/><path color="#6fcc42" d="M3804 1627l14-43-10 31-15 81z"/><path color="#2ccc6d" d="M3790 1683l14-56-11 69-14-14z"/><path color="#09c7a1" d="M3776 1717l14-34-11-1-14 65z"/><path color="#0ca0ee" d="M3762 1813l14-96-11 30-14 7z"/><path color="#05afe2" d="M3748 1788l14 25-11-59-14 26z"/><path color="#0e9bf2" d="M3733 1826l15-38-11-8-15-10z"/><path color="#1490f9" d="M3719 1846l14-20-11-56-14 107z"/><path color="#384af6" d="M3705 1922l14-76-11 31-14-30z"/><path color="#2d63fe" d="M3691 1903l14 19-11-75-14 3z"/><path color="#1490f9" d="M3677 1860l14 43-11-53-14 57z"/><path color="#1e7efc" d="M3662 1879l15-19-11 47-15 14z"/><path color="#2d63fe" d="M3648 1915l14-36-11 42-14-75z"/><path color="#3452f9" d="M3634 1940l14-25-11-69-14 55z"/><path color="#1195f6" d="M3620 1865l14 75-11-39-14-23z"/><path color="#384af6" d="M3606 1951l14-86-11 13-14 5z"/><path color="#2d63fe" d="M3591 1932l15 19-11-68-14 76z"/><path color="#1195f6" d="M3577 1883l14 49-10 27-15-7z"/><path color="#315bfc" d="M3563 1953l14-70-11 69-14 20z"/><path color="#1e7efc" d="M3549 1914l14 39-11 19-14-17z"/><path color="#2375fd" d="M3535 1928l14-14-11 41-14 18zM3520 1931l15-3-11 45-14-43z"/><path color="#1e7efc" d="M3506 1934l14-3-10-1-15-34zM3492 1938l14-4-11-38-14 9z"/><path color="#2375fd" d="M3478 1945l14-7-11-33-14 40z"/><path color="#3d3dee" d="M3464 2017l14-72-11 0-14 39z"/><path color="#286cfe" d="M3449 1963l15 54-11-33-14-69z"/><path color="#1490f9" d="M3435 1931l14 32-10-48-15-19z"/><path color="#384af6" d="M3421 2017l14-86-11-35-14 66z"/><path color="#06abe7" d="M3407 1900l14 117-11-55-14 15z"/><path color="#1e7efc" d="M3393 1969l14-69-11 77-14-82z"/><path color="#03b6d5" d="M3379 1887l14 82-11-74-14-16z"/><path color="#1490f9" d="M3364 1962l15-75-11-8-15-4z"/><path color="#05afe2" d="M3350 1916l14 46-11-87-14 26z"/><path color="#01bcc8" d="M3336 1886l14 30-11-15-14-101z"/><path color="#48cc59" d="M3322 1805l14 81-11-86-14-4z"/><path color="#acc827" d="M3308 1767l14 38-11-9-14-58z"/><path color="#62cc4a" d="M3815 1640l14-48-11-8-14 43z"/><path color="#00bfc2" d="M3801 1740l14-100-11-13-14 56z"/><path color="#0ca0ee" d="M3787 1818l14-78-11-57-14 34z"/><path color="#02b9cf" d="M3773 1761l14 57-11-101-14 96z"/><path color="#06abe7" d="M3758 1796l15-35-11 52-14-25zM3744 1805l14-9-10-8-15 38z"/><path color="#1490f9" d="M3730 1851l14-46-11 21-14 20z"/><path color="#384af6" d="M3716 1932l14-81-11-5-14 76z"/><path color="#286cfe" d="M3702 1899l14 33-11-10-14-19z"/><path color="#3b43f3" d="M3687 1943l15-44-11 4-14-43zM3673 1948l14-5-10-83-15 19z"/><path color="#1e7efc" d="M3659 1892l14 56-11-69-14 36z"/><path color="#3452f9" d="M3645 1940l14-48-11 23-14 25z"/><path color="#2d63fe" d="M3631 1930l14 10-11 0-14-75z"/><path color="#286cfe" d="M3616 1924l15 6-11-65-14 86z"/><path color="#3f37e8" d="M3602 1989l14-65-10 27-15-19z"/><path color="#4131e3" d="M3588 2006l14-17-11-57-14-49z"/><path color="#2375fd" d="M3574 1921l14 85-11-123-14 70z"/><path color="#3f37e8" d="M3560 2004l14-83-11 32-14-39z"/><path color="#3d3dee" d="M3546 2002l14 2-11-90-14 14z"/><path color="#3452f9" d="M3531 1979l15 23-11-74-15 3z"/><path color="#4131e3" d="M3517 2028l14-49-11-48-14 3z"/><path color="#3452f9" d="M3503 1985l14 43-11-94-14 4zM3489 1991l14-6-11-47-14 7z"/><path color="#1888fb" d="M3475 1936l14 55-11-46-14 72z"/><path color="#1490f9" d="M3460 1931l15 5-11 81-15-54z"/><path color="#1e7efc" d="M3446 1958l14-27-11 32-14-32z"/><path color="#1888fb" d="M3432 1959l14-1-11-27-14 86zM3418 1959l14 0-11 58-14-117z"/><path color="#286cfe" d="M3404 1994l14-35-11-59-14 69z"/><path color="#0e9bf2" d="M3389 1944l15 50-11-25-14-82z"/><path color="#02b9cf" d="M3375 1886l14 58-10-57-15 75z"/><path color="#06abe7" d="M3361 1931l14-45-11 76-14-46z"/><path color="#19cb85" d="M3347 1847l14 84-11-15-14-30z"/><path color="#48cc59" d="M3333 1811l14 36-11 39-14-81z"/><path color="#36cc67" d="M3318 1843l15-32-11-6-14-38z"/><path color="#09c7a1" d="M3826 1728l14-73-11-63-14 48z"/><path color="#05afe2" d="M3812 1788l14-60-11-88-14 100z"/><path color="#00bfc2" d="M3798 1747l14 41-11-48-14 78z"/><path color="#02b9cf" d="M3783 1765l15-18-11 71-14-57z"/><path color="#1490f9" d="M3769 1849l14-84-10-4-15 35z"/><path color="#1888fb" d="M3755 1862l14-13-11-53-14 9zM3741 1865l14-3-11-57-14 46z"/><path color="#3452f9" d="M3727 1921l14-56-11-14-14 81zM3713 1929l14-8-11 11-14-33z"/><path color="#4131e3" d="M3698 1976l15-47-11-30-15 44z"/><path color="#3d3dee" d="M3684 1966l14 10-11-33-14 5z"/><path color="#286cfe" d="M3670 1912l14 54-11-18-14-56z"/><path color="#3d3dee" d="M3656 1971l14-59-11-20-14 48z"/><path color="#4131e3" d="M3642 1995l14-24-11-31-14-10z"/><path color="#3d3dee" d="M3627 1981l15 14-11-65-15-6z"/><path color="#3452f9" d="M3613 1956l14 25-11-57-14 65z"/><path color="#286cfe" d="M3599 1931l14 25-11 33-14 17z"/><path color="#432cdd" d="M3585 2020l14-89-11 75-14-85z"/><path color="#3f37e8" d="M3571 2005l14 15-11-99-14 83z"/><path color="#3b43f3" d="M3556 1998l15 7-11-1-14-2z"/><path color="#315bfc" d="M3542 1974l14 24-10 4-15-23z"/><path color="#2d63fe" d="M3528 1965l14 9-11 5-14 49z"/><path color="#2375fd" d="M3514 1949l14 16-11 63-14-43z"/><path color="#286cfe" d="M3500 1967l14-18-11 36-14 6z"/><path color="#2d63fe" d="M3485 1981l15-14-11 24-14-55z"/><path color="#4131e3" d="M3471 2054l14-73-10-45-15-5z"/><path color="#3452f9" d="M3457 2013l14 41-11-123-14 27z"/><path color="#1888fb" d="M3443 1962l14 51-11-55-14 1z"/><path color="#1e7efc" d="M3429 1971l14-9-11-3-14 0z"/><path color="#315bfc" d="M3414 2021l15-50-11-12-14 35z"/><path color="#1888fb" d="M3400 1975l14 46-10-27-15-50z"/><path color="#04b2db" d="M3386 1915l14 60-11-31-14-58z"/><path color="#0e9bf2" d="M3372 1964l14-49-11-29-14 45z"/><path color="#02b9cf" d="M3358 1907l14 57-11-33-14-84z"/><path color="#00bfc2" d="M3344 1897l14 10-11-60-14-36z"/><path color="#2ccc6d" d="M3329 1852l15 45-11-86-15 32z"/><path color="#05c3b1" d="M3837 1741l14-47-11-39-14 73z"/><path color="#06abe7" d="M3823 1806l14-65-11-13-14 60z"/><path color="#0e9bf2" d="M3809 1834l14-28-11-18-14-41z"/><path color="#286cfe" d="M3794 1887l15-53-11-87-15 18z"/><path color="#1195f6" d="M3780 1849l14 38-11-122-14 84z"/><path color="#2375fd" d="M3766 1883l14-34-11 0-14 13z"/><path color="#3d3dee" d="M3752 1951l14-68-11-21-14 3z"/><path color="#3f37e8" d="M3738 1970l14-19-11-86-14 56z"/><path color="#1888fb" d="M3723 1875l15 95-11-49-14 8z"/><path color="#3b43f3" d="M3709 1956l14-81-10 54-15 47z"/><path color="#3452f9" d="M3695 1942l14 14-11 20-14-10z"/><path color="#2375fd" d="M3681 1904l14 38-11 24-14-54z"/><path color="#1e7efc" d="M3667 1906l14-2-11 8-14 59z"/><path color="#3d3dee" d="M3652 1984l15-78-11 65-14 24zM3638 1986l14-2-10 11-15-14z"/><path color="#3452f9" d="M3624 1967l14 19-11-5-14-25z"/><path color="#286cfe" d="M3610 1938l14 29-11-11-14-25z"/><path color="#4131e3" d="M3596 2017l14-79-11-7-14 89z"/><path color="#286cfe" d="M3582 1949l14 68-11 3-14-15z"/><path color="#3452f9" d="M3567 1978l15-29-11 56-15-7z"/><path color="#384af6" d="M3553 1993l14-15-11 20-14-24z"/><path color="#3b43f3" d="M3539 2011l14-18-11-19-14-9z"/><path color="#2375fd" d="M3525 1962l14 49-11-46-14-16z"/><path color="#3d3dee" d="M3511 2030l14-68-11-13-14 18z"/><path color="#3452f9" d="M3496 2007l15 23-11-63-15 14z"/><path color="#1888fb" d="M3482 1959l14 48-11-26-14 73z"/><path color="#3452f9" d="M3468 2017l14-58-11 95-14-41z"/><path color="#1e7efc" d="M3454 1978l14 39-11-4-14-51z"/><path color="#2d63fe" d="M3440 2010l14-32-11-16-14 9z"/><path color="#384af6" d="M3425 2037l15-27-11-39-15 50z"/><path color="#0e9bf2" d="M3411 1955l14 82-11-16-14-46z"/><path color="#0ca0ee" d="M3397 1953l14 2-11 20-14-60z"/><path color="#03b6d5" d="M3383 1917l14 36-11-38-14 49z"/><path color="#00bfc2" d="M3369 1897l14 20-11 47-14-57z"/><path color="#0fca91" d="M3354 1875l15 22-11 10-14-10z"/><path color="#55cc51" d="M3340 1823l14 52-10 22-15-45z"/><path color="#48cc59" d="M3848 1676l14-37-11 55-14 47z"/><path color="#06abe7" d="M3834 1810l14-134-11 65-14 65z"/><path color="#03b6d5" d="M3819 1781l15 29-11-4-14 28z"/><path color="#1e7efc" d="M3805 1876l14-95-10 53-15 53z"/><path color="#0ca0ee" d="M3791 1832l14 44-11 11-14-38z"/><path color="#3452f9" d="M3777 1924l14-92-11 17-14 34z"/><path color="#2d63fe" d="M3763 1911l14 13-11-41-14 68z"/><path color="#2375fd" d="M3749 1898l14 13-11 40-14 19z"/><path color="#2d63fe" d="M3734 1918l15-20-11 72-15-95z"/><path color="#3d3dee" d="M3720 1974l14-56-11-43-14 81z"/><path color="#432cdd" d="M3706 2006l14-32-11-18-14-14z"/><path color="#3d3dee" d="M3692 1980l14 26-11-64-14-38z"/><path color="#3452f9" d="M3678 1957l14 23-11-76-14 2z"/><path color="#4423ce" d="M3663 2030l15-73-11-51-15 78z"/><path color="#4327d5" d="M3649 2030l14 0-11-46-14 2z"/><path color="#384af6" d="M3635 1980l14 50-11-44-14-19z"/><path color="#3f37e8" d="M3621 2006l14-26-11-13-14-29zM3607 2018l14-12-11-68-14 79z"/><path color="#286cfe" d="M3592 1954l15 64-11-1-14-68z"/><path color="#3b43f3" d="M3578 2005l14-51-10-5-15 29z"/><path color="#3f37e8" d="M3564 2032l14-27-11-27-14 15z"/><path color="#2375fd" d="M3550 1959l14 73-11-39-14 18z"/><path color="#432cdd" d="M3536 2057l14-98-11 52-14-49z"/><path color="#4131e3" d="M3521 2055l15 2-11-95-14 68z"/><path color="#384af6" d="M3507 2017l14 38-10-25-15-23z"/><path color="#3b43f3" d="M3493 2037l14-20-11-10-14-48z"/><path color="#384af6" d="M3479 2028l14 9-11-78-14 58z"/><path color="#3d3dee" d="M3465 2057l14-29-11-11-14-39z"/><path color="#1490f9" d="M3450 1965l15 92-11-79-14 32z"/><path color="#286cfe" d="M3436 2010l14-45-10 45-15 27z"/><path color="#0e9bf2" d="M3422 1960l14 50-11 27-14-82z"/><path color="#06abe7" d="M3408 1941l14 19-11-5-14-2z"/><path color="#04b2db" d="M3394 1932l14 9-11 12-14-36z"/><path color="#09a6eb" d="M3380 1962l14-30-11-15-14-20z"/><path color="#01bcc8" d="M3365 1921l15 41-11-65-15-22z"/><path color="#8aca36" d="M3351 1804l14 117-11-46-14-52z"/><path color="#02b9cf" d="M3859 1776l14-59-11-78-14 37z"/><path color="#06abe7" d="M3845 1819l14-43-11-100-14 134z"/><path color="#02b9cf" d="M3830 1781l15 38-11-9-15-29z"/><path color="#1888fb" d="M3816 1874l14-93-11 0-14 95z"/><path color="#315bfc" d="M3802 1920l14-46-11 2-14-44z"/><path color="#0e9bf2" d="M3788 1849l14 71-11-88-14 92z"/><path color="#286cfe" d="M3774 1910l14-61-11 75-14-13z"/><path color="#3d3dee" d="M3759 1966l15-56-11 1-14-13z"/><path color="#3452f9" d="M3745 1941l14 25-10-68-15 20zM3731 1949l14-8-11-23-14 56z"/><path color="#4327d5" d="M3717 2020l14-71-11 25-14 32z"/><path color="#3f37e8" d="M3703 1995l14 25-11-14-14-26z"/><path color="#2d63fe" d="M3688 1941l15 54-11-15-14-23z"/><path color="#286cfe" d="M3674 1936l14 5-10 16-15 73z"/><path color="#3b43f3" d="M3660 1990l14-54-11 94-14 0z"/><path color="#4131e3" d="M3646 2025l14-35-11 40-14-50z"/><path color="#4327d5" d="M3632 2044l14-19-11-45-14 26zM3617 2046l15-2-11-38-14 12z"/><path color="#2d63fe" d="M3603 1967l14 79-10-28-15-64z"/><path color="#315bfc" d="M3589 1983l14-16-11-13-14 51z"/><path color="#4327d5" d="M3575 2061l14-78-11 22-14 27z"/><path color="#3b43f3" d="M3561 2022l14 39-11-29-14-73z"/><path color="#2d63fe" d="M3547 1984l14 38-11-63-14 98z"/><path color="#432cdd" d="M3532 2068l15-84-11 73-15-2z"/><path color="#2d63fe" d="M3518 2000l14 68-11-13-14-38z"/><path color="#3f37e8" d="M3504 2059l14-59-11 17-14 20z"/><path color="#1e7efc" d="M3490 1981l14 78-11-22-14-9z"/><path color="#3452f9" d="M3476 2028l14-47-11 47-14 29z"/><path color="#3d3dee" d="M3461 2065l15-37-11 29-15-92z"/><path color="#2d63fe" d="M3447 2024l14 41-11-100-14 45z"/><path color="#286cfe" d="M3433 2023l14 1-11-14-14-50z"/><path color="#06abe7" d="M3419 1945l14 78-11-63-14-19z"/><path color="#0ca0ee" d="M3405 1970l14-25-11-4-14-9z"/><path color="#02b9cf" d="M3390 1924l15 46-11-38-14 30zM3376 1936l14-12-10 38-15-41z"/><path color="#0fca91" d="M3362 1898l14 38-11-15-14-117z"/><path color="#19cb85" d="M3870 1732l14-58-11 43-14 59z"/><path color="#09c7a1" d="M3855 1746l15-14-11 44-14 43z"/><path color="#1e7efc" d="M3841 1883l14-137-10 73-15-38z"/><path color="#0ca0ee" d="M3827 1841l14 42-11-102-14 93z"/><path color="#3452f9" d="M3813 1939l14-98-11 33-14 46z"/><path color="#1888fb" d="M3799 1885l14 54-11-19-14-71z"/><path color="#1490f9" d="M3784 1878l15 7-11-36-14 61z"/><path color="#3b43f3" d="M3770 1963l14-85-10 32-15 56z"/><path color="#3f37e8" d="M3756 1983l14-20-11 3-14-25z"/><path color="#3452f9" d="M3742 1956l14 27-11-42-14 8z"/><path color="#4423ce" d="M3728 2033l14-77-11-7-14 71z"/><path color="#3b43f3" d="M3714 1978l14 55-11-13-14-25z"/><path color="#315bfc" d="M3699 1959l15 19-11 17-15-54z"/><path color="#4423ce" d="M3685 2040l14-81-11-18-14-5z"/><path color="#286cfe" d="M3671 1945l14 95-11-104-14 54z"/><path color="#2d63fe" d="M3657 1961l14-16-11 45-14 35z"/><path color="#4131e3" d="M3643 2027l14-66-11 64-14 19zM3628 2039l15-12-11 17-15 2z"/><path color="#3452f9" d="M3614 1990l14 49-11 7-14-79z"/><path color="#3d3dee" d="M3600 2025l14-35-11-23-14 16z"/><path color="#3452f9" d="M3586 2001l14 24-11-42-14 78z"/><path color="#4423ce" d="M3572 2083l14-82-11 60-14-39zM3557 2085l15-2-11-61-14-38z"/><path color="#432cdd" d="M3543 2070l14 15-10-101-15 84zM3529 2074l14-4-11-2-14-68z"/><path color="#315bfc" d="M3515 2017l14 57-11-74-14 59z"/><path color="#286cfe" d="M3501 2000l14 17-11 42-14-78z"/><path color="#2375fd" d="M3486 2001l15-1-11-19-14 47z"/><path color="#3b43f3" d="M3472 2063l14-62-10 27-15 37z"/><path color="#1490f9" d="M3458 1987l14 76-11 2-14-41z"/><path color="#2375fd" d="M3444 2016l14-29-11 37-14-1z"/><path color="#09a6eb" d="M3430 1962l14 54-11 7-14-78z"/><path color="#0e9bf2" d="M3415 1988l15-26-11-17-14 25z"/><path color="#09a6eb" d="M3401 1981l14 7-10-18-15-46z"/><path color="#05c3b1" d="M3387 1912l14 69-11-57-14 12z"/><path color="#62cc4a" d="M3373 1832l14 80-11 24-14-38z"/><path color="#3fcc60" d="M3881 1697l14-39-11 16-14 58z"/><path color="#09a6eb" d="M3866 1832l15-135-11 35-15 14z"/><path color="#02b9cf" d="M3852 1792l14 40-11-86-14 137z"/><path color="#1490f9" d="M3838 1879l14-87-11 91-14-42z"/><path color="#315bfc" d="M3824 1937l14-58-11-38-14 98z"/><path color="#1e7efc" d="M3810 1902l14 35-11 2-14-54z"/><path color="#315bfc" d="M3795 1937l15-35-11-17-15-7z"/><path color="#286cfe" d="M3781 1920l14 17-11-59-14 85z"/><path color="#2375fd" d="M3767 1915l14 5-11 43-14 20z"/><path color="#3d3dee" d="M3753 1986l14-71-11 68-14-27z"/><path color="#432cdd" d="M3739 2019l14-33-11-30-14 77z"/><path color="#3b43f3" d="M3724 1989l15 30-11 14-14-55z"/><path color="#384af6" d="M3710 1981l14 8-10-11-15-19z"/><path color="#3f37e8" d="M3696 2017l14-36-11-22-14 81z"/><path color="#3d3dee" d="M3682 2012l14 5-11 23-14-95z"/><path color="#3452f9" d="M3668 1986l14 26-11-67-14 16z"/><path color="#432cdd" d="M3653 2044l15-58-11-25-14 66z"/><path color="#3d3dee" d="M3639 2018l14 26-10-17-15 12z"/><path color="#432cdd" d="M3625 2055l14-37-11 21-14-49z"/><path color="#2d63fe" d="M3611 1985l14 70-11-65-14 35z"/><path color="#3b43f3" d="M3597 2027l14-42-11 40-14-24z"/><path color="#4327d5" d="M3582 2077l15-50-11-26-14 82z"/><path color="#432cdd" d="M3568 2073l14 4-10 6-15 2z"/><path color="#3452f9" d="M3554 2020l14 53-11 12-14-15zM3540 2026l14-6-11 50-14 4z"/><path color="#4327d5" d="M3526 2101l14-75-11 48-14-57z"/><path color="#4131e3" d="M3512 2082l14 19-11-84-14-17z"/><path color="#286cfe" d="M3497 2015l15 67-11-82-15 1z"/><path color="#3b43f3" d="M3483 2068l14-53-11-14-14 62z"/><path color="#2d63fe" d="M3469 2036l14 32-11-5-14-76z"/><path color="#2375fd" d="M3455 2026l14 10-11-49-14 29z"/><path color="#1490f9" d="M3441 2000l14 26-11-10-14-54zM3426 2011l15-11-11-38-15 26z"/><path color="#04b2db" d="M3412 1953l14 58-11-23-14-7z"/><path color="#2ccc6d" d="M3398 1873l14 80-11 28-14-69z"/><path color="#55cc51" d="M3384 1843l14 30-11 39-14-80z"/><path color="#00bfc2" d="M3891 1781l15-51-11-72-14 39z"/><path color="#03b6d5" d="M3877 1803l14-22-10-84-15 135z"/><path color="#0e9bf2" d="M3863 1865l14-62-11 29-14-40z"/><path color="#1490f9" d="M3849 1882l14-17-11-73-14 87z"/><path color="#0ca0ee" d="M3835 1855l14 27-11-3-14 58z"/><path color="#384af6" d="M3820 1958l15-103-11 82-14-35z"/><path color="#3452f9" d="M3806 1950l14 8-10-56-15 35z"/><path color="#286cfe" d="M3792 1930l14 20-11-13-14-17z"/><path color="#3d3dee" d="M3778 1985l14-55-11-10-14-5z"/><path color="#4131e3" d="M3764 2016l14-31-11-70-14 71z"/><path color="#3452f9" d="M3749 1968l15 48-11-30-14 33z"/><path color="#315bfc" d="M3735 1965l14 3-10 51-15-30z"/><path color="#3b43f3" d="M3721 2000l14-35-11 24-14-8zM3707 2001l14-1-11-19-14 36z"/><path color="#432cdd" d="M3693 2040l14-39-11 16-14-5z"/><path color="#4327d5" d="M3679 2056l14-16-11-28-14-26z"/><path color="#3d3dee" d="M3664 2020l15 36-11-70-15 58z"/><path color="#315bfc" d="M3650 1994l14 26-11 24-14-26z"/><path color="#3f37e8" d="M3636 2041l14-47-11 24-14 37z"/><path color="#3452f9" d="M3622 2006l14 35-11 14-14-70z"/><path color="#315bfc" d="M3608 2008l14-2-11-21-14 42z"/><path color="#384af6" d="M3593 2028l15-20-11 19-15 50z"/><path color="#4423ce" d="M3579 2101l14-73-11 49-14-4z"/><path color="#3452f9" d="M3565 2027l14 74-11-28-14-53z"/><path color="#384af6" d="M3551 2045l14-18-11-7-14 6z"/><path color="#3f37e8" d="M3537 2073l14-28-11-19-14 75zM3522 2076l15-3-11 28-14-19z"/><path color="#1e7efc" d="M3508 2005l14 71-10 6-15-67z"/><path color="#2375fd" d="M3494 2015l14-10-11 10-14 53z"/><path color="#3b43f3" d="M3480 2077l14-62-11 53-14-32z"/><path color="#1e7efc" d="M3466 2018l14 59-11-41-14-10z"/><path color="#2375fd" d="M3451 2034l15-16-11 8-14-26z"/><path color="#0ca0ee" d="M3437 1986l14 48-10-34-15 11zM3423 1995l14-9-11 25-14-58z"/><path color="#19cb85" d="M3409 1894l14 101-11-42-14-80z"/><path color="#23cb78" d="M3395 1895l14-1-11-21-14-30z"/><path color="#01bcc8" d="M3902 1792l15-42-11-20-15 51z"/><path color="#00bfc2" d="M3888 1780l14 12-11-11-14 22z"/><path color="#0e9bf2" d="M3874 1869l14-89-11 23-14 62z"/><path color="#1490f9" d="M3860 1887l14-18-11-4-14 17z"/><path color="#0ca0ee" d="M3846 1860l14 27-11-5-14-27z"/><path color="#3b43f3" d="M3831 1978l15-118-11-5-15 103z"/><path color="#1e7efc" d="M3817 1918l14 60-11-20-14-8z"/><path color="#384af6" d="M3803 1969l14-51-11 32-14-20z"/><path color="#3b43f3" d="M3789 1985l14-16-11-39-14 55z"/><path color="#2d63fe" d="M3775 1950l14 35-11 0-14 31z"/><path color="#384af6" d="M3760 1985l15-35-11 66-15-48z"/><path color="#4131e3" d="M3746 2027l14-42-11-17-14-3z"/><path color="#4327d5" d="M3732 2044l14-17-11-62-14 35z"/><path color="#3d3dee" d="M3718 2013l14 31-11-44-14 1z"/><path color="#2d63fe" d="M3704 1970l14 43-11-12-14 39z"/><path color="#3d3dee" d="M3689 2025l15-55-11 70-14 16z"/><path color="#4423ce" d="M3675 2075l14-50-10 31-15-36z"/><path color="#3d3dee" d="M3661 2039l14 36-11-55-14-26z"/><path color="#432cdd" d="M3647 2066l14-27-11-45-14 47z"/><path color="#286cfe" d="M3633 1992l14 74-11-25-14-35z"/><path color="#3b43f3" d="M3618 2037l15-45-11 14-14 2z"/><path color="#4423ce" d="M3604 2094l14-57-10-29-15 20z"/><path color="#3b43f3" d="M3590 2050l14 44-11-66-14 73z"/><path color="#3f37e8" d="M3576 2073l14-23-11 51-14-74z"/><path color="#4131e3" d="M3562 2089l14-16-11-46-14 18z"/><path color="#286cfe" d="M3548 2012l14 77-11-44-14 28z"/><path color="#3452f9" d="M3533 2046l15-34-11 61-15 3z"/><path color="#384af6" d="M3519 2066l14-20-11 30-14-71z"/><path color="#3d3dee" d="M3505 2088l14-22-11-61-14 10z"/><path color="#1888fb" d="M3491 2015l14 73-11-73-14 62z"/><path color="#1e7efc" d="M3477 2023l14-8-11 62-14-59zM3462 2034l15-11-11-5-15 16z"/><path color="#0e9bf2" d="M3448 2008l14 26-11 0-14-48z"/><path color="#03b6d5" d="M3434 1953l14 55-11-22-14 9z"/><path color="#09c7a1" d="M3420 1925l14 28-11 42-14-101z"/><path color="#6fcc42" d="M3406 1840l14 85-11-31-14 1z"/><path color="#02b9cf" d="M3913 1809l14-63-10 4-15 42z"/><path color="#0e9bf2" d="M3899 1870l14-61-11-17-14-12z"/><path color="#1e7efc" d="M3885 1907l14-37-11-90-14 89z"/><path color="#2375fd" d="M3871 1920l14-13-11-38-14 18z"/><path color="#1195f6" d="M3856 1888l15 32-11-33-14-27z"/><path color="#286cfe" d="M3842 1938l14-50-10-28-15 118z"/><path color="#3f37e8" d="M3828 2007l14-69-11 40-14-60z"/><path color="#315bfc" d="M3814 1959l14 48-11-89-14 51z"/><path color="#3b43f3" d="M3800 1987l14-28-11 10-14 16z"/><path color="#2d63fe" d="M3785 1960l15 27-11-2-14-35z"/><path color="#286cfe" d="M3771 1956l14 4-10-10-15 35z"/><path color="#3f37e8" d="M3757 2024l14-68-11 29-14 42z"/><path color="#286cfe" d="M3743 1964l14 60-11 3-14 17z"/><path color="#3d3dee" d="M3729 2026l14-62-11 80-14-31z"/><path color="#4327d5" d="M3715 2060l14-34-11-13-14-43z"/><path color="#315bfc" d="M3700 1996l15 64-11-90-15 55z"/><path color="#3b43f3" d="M3686 2030l14-34-11 29-14 50z"/><path color="#441ec7" d="M3672 2099l14-69-11 45-14-36z"/><path color="#432cdd" d="M3658 2074l14 25-11-60-14 27zM3644 2075l14-1-11-8-14-74z"/><path color="#3b43f3" d="M3629 2045l15 30-11-83-15 45z"/><path color="#2d63fe" d="M3615 2016l14 29-11-8-14 57z"/><path color="#3f37e8" d="M3601 2073l14-57-11 78-14-44z"/><path color="#2d63fe" d="M3587 2025l14 48-11-23-14 23z"/><path color="#3f37e8" d="M3573 2081l14-56-11 48-14 16z"/><path color="#4131e3" d="M3558 2099l15-18-11 8-14-77z"/><path color="#315bfc" d="M3544 2049l14 50-10-87-15 34z"/><path color="#3f37e8" d="M3530 2099l14-50-11-3-14 20z"/><path color="#1e7efc" d="M3516 2020l14 79-11-33-14 22z"/><path color="#2d63fe" d="M3502 2054l14-34-11 68-14-73z"/><path color="#0e9bf2" d="M3487 2000l15 54-11-39-14 8z"/><path color="#05afe2" d="M3473 1964l14 36-10 23-15 11z"/><path color="#03b6d5" d="M3459 1956l14 8-11 70-14-26z"/><path color="#0fca91" d="M3445 1908l14 48-11 52-14-55z"/><path color="#04b2db" d="M3431 1979l14-71-11 45-14-28z"/><path color="#2ccc6d" d="M3416 1898l15 81-11-54-14-85z"/><path color="#19cb85" d="M3924 1762l14-24-11 8-14 63z"/><path color="#00bfc2" d="M3910 1797l14-35-11 47-14 61z"/><path color="#1e7efc" d="M3896 1913l14-116-11 73-14 37z"/><path color="#286cfe" d="M3882 1938l14-25-11-6-14 13z"/><path color="#1490f9" d="M3867 1902l15 36-11-18-15-32z"/><path color="#1888fb" d="M3853 1916l14-14-11-14-14 50z"/><path color="#1e7efc" d="M3839 1929l14-13-11 22-14 69z"/><path color="#4327d5" d="M3825 2036l14-107-11 78-14-48z"/><path color="#286cfe" d="M3811 1947l14 89-11-77-14 28z"/><path color="#384af6" d="M3796 1988l15-41-11 40-15-27z"/><path color="#4131e3" d="M3782 2037l14-49-11-28-14-4z"/><path color="#4423ce" d="M3768 2067l14-30-11-81-14 68z"/><path color="#432cdd" d="M3754 2055l14 12-11-43-14-60z"/><path color="#3f37e8" d="M3740 2035l14 20-11-91-14 62z"/><path color="#2d63fe" d="M3725 1986l15 49-11-9-14 34z"/><path color="#286cfe" d="M3711 1985l14 1-10 74-15-64z"/><path color="#3452f9" d="M3697 2014l14-29-11 11-14 34z"/><path color="#2d63fe" d="M3683 2000l14 14-11 16-14 69z"/><path color="#3b43f3" d="M3669 2040l14-40-11 99-14-25z"/><path color="#441ec7" d="M3654 2109l15-69-11 34-14 1z"/><path color="#4131e3" d="M3640 2077l14 32-10-34-15-30z"/><path color="#2d63fe" d="M3626 2018l14 59-11-32-14-29z"/><path color="#4423ce" d="M3612 2117l14-99-11-2-14 57z"/><path color="#4327d5" d="M3598 2107l14 10-11-44-14-48z"/><path color="#3452f9" d="M3583 2053l15 54-11-82-14 56z"/><path color="#3d3dee" d="M3569 2086l14-33-10 28-15 18z"/><path color="#286cfe" d="M3555 2032l14 54-11 13-14-50z"/><path color="#3452f9" d="M3541 2063l14-31-11 17-14 50z"/><path color="#1e7efc" d="M3527 2026l14 37-11 36-14-79z"/><path color="#2d63fe" d="M3513 2060l14-34-11-6-14 34z"/><path color="#1195f6" d="M3498 2015l15 45-11-6-15-54z"/><path color="#0e9bf2" d="M3484 2008l14 7-11-15-14-36z"/><path color="#05afe2" d="M3470 1980l14 28-11-44-14-8z"/><path color="#02b9cf" d="M3456 1956l14 24-11-24-14-48zM3442 1967l14-11-11-48-14 71z"/><path color="#36cc67" d="M3427 1895l15 72-11 12-15-81z"/><path color="#09c7a1" d="M3935 1783l14-47-11 2-14 24z"/><path color="#09a6eb" d="M3921 1870l14-87-11-21-14 35z"/><path color="#05afe2" d="M3907 1847l14 23-11-73-14 116z"/><path color="#1490f9" d="M3892 1905l15-58-11 66-14 25z"/><path color="#0e9bf2" d="M3878 1886l14 19-10 33-15-36z"/><path color="#1e7efc" d="M3864 1926l14-40-11 16-14 14z"/><path color="#3b43f3" d="M3850 1994l14-68-11-10-14 13z"/><path color="#3f37e8" d="M3836 2018l14-24-11-65-14 107zM3821 2019l15-1-11 18-14-89z"/><path color="#2d63fe" d="M3807 1967l14 52-10-72-15 41z"/><path color="#3d3dee" d="M3793 2018l14-51-11 21-14 49z"/><path color="#2d63fe" d="M3779 1983l14 35-11 19-14 30z"/><path color="#384af6" d="M3765 2006l14-23-11 84-14-12z"/><path color="#3b43f3" d="M3750 2028l15-22-11 49-14-20z"/><path color="#4131e3" d="M3736 2057l14-29-10 7-15-49z"/><path color="#3452f9" d="M3722 2013l14 44-11-71-14-1z"/><path color="#315bfc" d="M3708 2015l14-2-11-28-14 29z"/><path color="#3b43f3" d="M3694 2046l14-31-11-1-14-14z"/><path color="#441ec7" d="M3680 2111l14-65-11-46-14 40z"/><path color="#4327d5" d="M3665 2102l15 9-11-71-15 69z"/><path color="#384af6" d="M3651 2052l14 50-11 7-14-32z"/><path color="#3b43f3" d="M3637 2065l14-13-11 25-14-59z"/><path color="#3f37e8" d="M3623 2089l14-24-11-47-14 99z"/><path color="#4423ce" d="M3609 2130l14-41-11 28-14-10z"/><path color="#3b43f3" d="M3594 2072l15 58-11-23-15-54z"/><path color="#4327d5" d="M3580 2130l14-58-11-19-14 33z"/><path color="#3452f9" d="M3566 2065l14 65-11-44-14-54z"/><path color="#286cfe" d="M3552 2048l14 17-11-33-14 31z"/><path color="#3d3dee" d="M3538 2108l14-60-11 15-14-37z"/><path color="#3452f9" d="M3523 2089l15 19-11-82-14 34z"/><path color="#1e7efc" d="M3509 2046l14 43-10-29-15-45z"/><path color="#09a6eb" d="M3495 1993l14 53-11-31-14-7z"/><path color="#0e9bf2" d="M3481 2025l14-32-11 15-14-28z"/><path color="#09c7a1" d="M3467 1932l14 93-11-45-14-24z"/><path color="#2ccc6d" d="M3452 1904l15 28-11 24-14 11z"/><path color="#55cc51" d="M3438 1871l14 33-10 63-15-72z"/><path color="#23cb78" d="M3946 1765l14-63-11 34-14 47z"/><path color="#02b9cf" d="M3932 1825l14-60-11 18-14 87z"/><path color="#09a6eb" d="M3917 1873l15-48-11 45-14-23z"/><path color="#1490f9" d="M3903 1912l14-39-10-26-15 58z"/><path color="#315bfc" d="M3889 1969l14-57-11-7-14-19z"/><path color="#1888fb" d="M3875 1926l14 43-11-83-14 40z"/><path color="#384af6" d="M3861 1997l14-71-11 0-14 68z"/><path color="#1888fb" d="M3847 1936l14 61-11-3-14 24z"/><path color="#3d3dee" d="M3832 2015l15-79-11 82-15 1z"/><path color="#432cdd" d="M3818 2054l14-39-11 4-14-52z"/><path color="#3b43f3" d="M3804 2013l14 41-11-87-14 51zM3790 2025l14-12-11 5-14-35z"/><path color="#4131e3" d="M3776 2056l14-31-11-42-14 23z"/><path color="#4327d5" d="M3761 2075l15-19-11-50-15 22z"/><path color="#384af6" d="M3747 2029l14 46-11-47-14 29z"/><path color="#3d3dee" d="M3733 2048l14-19-11 28-14-44z"/><path color="#4423ce" d="M3719 2103l14-55-11-35-14 2z"/><path color="#384af6" d="M3705 2035l14 68-11-88-14 31z"/><path color="#432cdd" d="M3690 2095l15-60-11 11-14 65z"/><path color="#2d63fe" d="M3676 2021l14 74-10 16-15-9z"/><path color="#4131e3" d="M3662 2094l14-73-11 81-14-50z"/><path color="#4423ce" d="M3648 2119l14-25-11-42-14 13z"/><path color="#315bfc" d="M3634 2045l14 74-11-54-14 24z"/><path color="#4131e3" d="M3619 2108l15-63-11 44-14 41z"/><path color="#3b43f3" d="M3605 2083l14 25-10 22-15-58z"/><path color="#2375fd" d="M3591 2033l14 50-11-11-14 58z"/><path color="#4327d5" d="M3577 2136l14-103-11 97-14-65z"/><path color="#315bfc" d="M3563 2069l14 67-11-71-14-17z"/><path color="#3b43f3" d="M3548 2099l15-30-11-21-14 60z"/><path color="#3d3dee" d="M3534 2118l14-19-10 9-15-19z"/><path color="#286cfe" d="M3520 2067l14 51-11-29-14-43zM3506 2076l14-9-11-21-14-53z"/><path color="#0e9bf2" d="M3492 2024l14 52-11-83-14 32z"/><path color="#05c3b1" d="M3478 1946l14 78-11 1-14-93z"/><path color="#09c7a1" d="M3463 1943l15 3-11-14-15-28z"/><path color="#48cc59" d="M3449 1893l14 50-11-39-14-33z"/><path color="#2ccc6d" d="M3957 1754l14 26-11-78-14 63z"/><path color="#0ca0ee" d="M3943 1891l14-137-11 11-14 60z"/><path color="#0e9bf2" d="M3928 1899l15-8-11-66-15 48z"/><path color="#1e7efc" d="M3914 1938l14-39-11-26-14 39z"/><path color="#0ca0ee" d="M3900 1895l14 43-11-26-14 57z"/><path color="#1e7efc" d="M3886 1942l14-47-11 74-14-43z"/><path color="#1888fb" d="M3872 1935l14 7-11-16-14 71z"/><path color="#2d63fe" d="M3857 1970l15-35-11 62-14-61zM3843 1979l14-9-10-34-15 79z"/><path color="#3d3dee" d="M3829 2033l14-54-11 36-14 39z"/><path color="#384af6" d="M3815 2015l14 18-11 21-14-41z"/><path color="#441ec7" d="M3801 2091l14-76-11-2-14 12z"/><path color="#3b43f3" d="M3786 2036l15 55-11-66-14 31z"/><path color="#3452f9" d="M3772 2016l14 20-10 20-15 19z"/><path color="#432cdd" d="M3758 2082l14-66-11 59-14-46z"/><path color="#4327d5" d="M3744 2088l14-6-11-53-14 19z"/><path color="#315bfc" d="M3730 2026l14 62-11-40-14 55z"/><path color="#2d63fe" d="M3715 2020l15 6-11 77-14-68z"/><path color="#4131e3" d="M3701 2083l14-63-10 15-15 60z"/><path color="#3b43f3" d="M3687 2061l14 22-11 12-14-74z"/><path color="#4423ce" d="M3673 2120l14-59-11-40-14 73z"/><path color="#4131e3" d="M3659 2097l14 23-11-26-14 25zM3645 2106l14-9-11 22-14-74zM3630 2113l15-7-11-61-15 63z"/><path color="#3452f9" d="M3616 2064l14 49-11-5-14-25z"/><path color="#3d3dee" d="M3602 2098l14-34-11 19-14-50z"/><path color="#3b43f3" d="M3588 2102l14-4-11-65-14 103zM3574 2102l14 0-11 34-14-67z"/><path color="#3452f9" d="M3559 2092l15 10-11-33-15 30zM3545 2092l14 0-11 7-14 19zM3531 2103l14-11-11 26-14-51z"/><path color="#06abe7" d="M3517 1999l14 104-11-36-14 9z"/><path color="#03b6d5" d="M3503 1982l14 17-11 77-14-52zM3488 1983l15-1-11 42-14-78z"/><path color="#02b9cf" d="M3474 1985l14-2-10-37-15-3z"/><path color="#48cc59" d="M3460 1897l14 88-11-42-14-50z"/><path color="#02b9cf" d="M3968 1840l14-44-11-16-14-26z"/><path color="#09a6eb" d="M3953 1886l15-46-11-86-14 137z"/><path color="#05afe2" d="M3939 1865l14 21-10 5-15 8z"/><path color="#06abe7" d="M3925 1877l14-12-11 34-14 39z"/><path color="#2d63fe" d="M3911 1976l14-99-11 61-14-43z"/><path color="#286cfe" d="M3897 1962l14 14-11-81-14 47z"/><path color="#3452f9" d="M3883 1999l14-37-11-20-14-7z"/><path color="#432cdd" d="M3868 2052l15-53-11-64-15 35z"/><path color="#2d63fe" d="M3854 1983l14 69-11-82-14 9z"/><path color="#432cdd" d="M3840 2063l14-80-11-4-14 54z"/><path color="#3b43f3" d="M3826 2028l14 35-11-30-14-18z"/><path color="#286cfe" d="M3812 1987l14 41-11-13-14 76z"/><path color="#441ec7" d="M3797 2105l15-118-11 104-15-55z"/><path color="#315bfc" d="M3783 2014l14 91-11-69-14-20z"/><path color="#3f37e8" d="M3769 2065l14-51-11 2-14 66z"/><path color="#432cdd" d="M3755 2090l14-25-11 17-14 6z"/><path color="#3b43f3" d="M3741 2055l14 35-11-2-14-62z"/><path color="#315bfc" d="M3726 2036l15 19-11-29-15-6z"/><path color="#4131e3" d="M3712 2095l14-59-11-16-14 63z"/><path color="#432cdd" d="M3698 2110l14-15-11-12-14-22z"/><path color="#3452f9" d="M3684 2052l14 58-11-49-14 59z"/><path color="#2d63fe" d="M3670 2042l14 10-11 68-14-23z"/><path color="#441ec7" d="M3655 2144l15-102-11 55-14 9z"/><path color="#4423ce" d="M3641 2146l14-2-10-38-15 7z"/><path color="#3452f9" d="M3627 2076l14 70-11-33-14-49z"/><path color="#4423ce" d="M3613 2150l14-74-11-12-14 34z"/><path color="#3d3dee" d="M3599 2111l14 39-11-52-14 4zM3584 2122l15-11-11-9-14 0z"/><path color="#3f37e8" d="M3570 2129l14-7-10-20-15-10z"/><path color="#315bfc" d="M3556 2089l14 40-11-37-14 0z"/><path color="#0e9bf2" d="M3542 2024l14 65-11 3-14 11z"/><path color="#0ca0ee" d="M3528 2021l14 3-11 79-14-104z"/><path color="#05afe2" d="M3514 2002l14 19-11-22-14-17z"/><path color="#01bcc8" d="M3499 1977l15 25-11-20-15 1z"/><path color="#02b9cf" d="M3485 1995l14-18-11 6-14 2z"/><path color="#55cc51" d="M3471 1891l14 104-11-10-14-88z"/><path color="#04b2db" d="M3979 1860l14-87-11 23-14 44z"/><path color="#05c3b1" d="M3964 1816l15 44-11-20-15 46z"/><path color="#1195f6" d="M3950 1920l14-104-11 70-14-21z"/><path color="#0e9bf2" d="M3936 1907l14 13-11-55-14 12z"/><path color="#384af6" d="M3922 2001l14-94-11-30-14 99z"/><path color="#2375fd" d="M3908 1961l14 40-11-25-14-14z"/><path color="#1888fb" d="M3893 1944l15 17-11 1-14 37z"/><path color="#315bfc" d="M3879 1999l14-55-10 55-15 53zM3865 2002l14-3-11 53-14-69z"/><path color="#4423ce" d="M3851 2084l14-82-11-19-14 80z"/><path color="#315bfc" d="M3837 2007l14 77-11-21-14-35z"/><path color="#441ec7" d="M3822 2104l15-97-11 21-14-41z"/><path color="#2d63fe" d="M3808 2009l14 95-10-117-15 118z"/><path color="#3452f9" d="M3794 2027l14-18-11 96-14-91z"/><path color="#3d3dee" d="M3780 2059l14-32-11-13-14 51z"/><path color="#4423ce" d="M3766 2116l14-57-11 6-14 25z"/><path color="#384af6" d="M3751 2054l15 62-11-26-14-35z"/><path color="#3452f9" d="M3737 2048l14 6-10 1-15-19z"/><path color="#432cdd" d="M3723 2107l14-59-11-12-14 59z"/><path color="#4131e3" d="M3709 2104l14 3-11-12-14 15z"/><path color="#3d3dee" d="M3695 2092l14 12-11 6-14-58z"/><path color="#441ec7" d="M3681 2151l14-59-11-40-14-10z"/><path color="#4327d5" d="M3666 2138l15 13-11-109-15 102z"/><path color="#315bfc" d="M3652 2065l14 73-11 6-14 2z"/><path color="#3b43f3" d="M3638 2103l14-38-11 81-14-70zM3624 2108l14-5-11-27-14 74z"/><path color="#4131e3" d="M3610 2135l14-27-11 42-14-39z"/><path color="#286cfe" d="M3595 2068l15 67-11-24-15 11z"/><path color="#3452f9" d="M3581 2102l14-34-11 54-14 7z"/><path color="#3d3dee" d="M3567 2134l14-32-11 27-14-40z"/><path color="#384af6" d="M3553 2122l14 12-11-45-14-65z"/><path color="#286cfe" d="M3539 2092l14 30-11-98-14-3z"/><path color="#02b9cf" d="M3524 1978l15 114-11-71-14-19z"/><path color="#00bfc2" d="M3510 1974l14 4-10 24-15-25zM3496 1983l14-9-11 3-14 18z"/><path color="#19cb85" d="M3482 1951l14 32-11 12-14-104z"/><path color="#05c3b1" d="M3989 1819l15-62-11 16-14 87zM3975 1819l14 0-10 41-15-44z"/><path color="#05afe2" d="M3961 1876l14-57-11-3-14 104z"/><path color="#06abe7" d="M3947 1890l14-14-11 44-14-13z"/><path color="#2d63fe" d="M3933 1988l14-98-11 17-14 94z"/><path color="#2375fd" d="M3918 1968l15 20-11 13-14-40z"/><path color="#3452f9" d="M3904 2006l14-38-10-7-15-17z"/><path color="#3d3dee" d="M3890 2038l14-32-11-62-14 55z"/><path color="#286cfe" d="M3876 1988l14 50-11-39-14 3z"/><path color="#315bfc" d="M3862 2006l14-18-11 14-14 82z"/><path color="#4327d5" d="M3848 2088l14-82-11 78-14-77z"/><path color="#2d63fe" d="M3833 2011l15 77-11-81-15 97z"/><path color="#3452f9" d="M3819 2034l14-23-11 93-14-95z"/><path color="#384af6" d="M3805 2043l14-9-11-25-14 18z"/><path color="#4327d5" d="M3791 2109l14-66-11-16-14 32z"/><path color="#3f37e8" d="M3777 2086l14 23-11-50-14 57z"/><path color="#2d63fe" d="M3762 2029l15 57-11 30-15-62z"/><path color="#432cdd" d="M3748 2109l14-80-11 25-14-6z"/><path color="#3452f9" d="M3734 2058l14 51-11-61-14 59z"/><path color="#4423ce" d="M3720 2136l14-78-11 49-14-3z"/><path color="#432cdd" d="M3706 2121l14 15-11-32-14-12z"/><path color="#4327d5" d="M3691 2135l15-14-11-29-14 59z"/><path color="#3d3dee" d="M3677 2106l14 29-10 16-15-13z"/><path color="#4327d5" d="M3663 2147l14-41-11 32-14-73z"/><path color="#3f37e8" d="M3649 2123l14 24-11-82-14 38z"/><path color="#3452f9" d="M3635 2094l14 29-11-20-14 5z"/><path color="#432cdd" d="M3620 2155l15-61-11 14-14 27z"/><path color="#3b43f3" d="M3606 2120l14 35-10-20-15-67zM3592 2129l14-9-11-52-14 34z"/><path color="#286cfe" d="M3578 2090l14 39-11-27-14 32z"/><path color="#2375fd" d="M3564 2085l14 5-11 44-14-12z"/><path color="#2d63fe" d="M3549 2112l15-27-11 37-14-30z"/><path color="#1e7efc" d="M3535 2091l14 21-10-20-15-114z"/><path color="#06abe7" d="M3521 2031l14 60-11-113-14-4z"/><path color="#03b6d5" d="M3507 2010l14 21-11-57-14 9z"/><path color="#36cc67" d="M3493 1930l14 80-11-27-14-32z"/><path color="#05c3b1" d="M4000 1831l15-113-11 39-15 62z"/><path color="#06abe7" d="M3986 1888l14-57-11-12-14 0z"/><path color="#1888fb" d="M3972 1948l14-60-11-69-14 57z"/><path color="#286cfe" d="M3958 1978l14-30-11-72-14 14z"/><path color="#384af6" d="M3944 2019l14-41-11-88-14 98z"/><path color="#1888fb" d="M3929 1957l15 62-11-31-15-20z"/><path color="#3f37e8" d="M3915 2054l14-97-11 11-14 38z"/><path color="#2375fd" d="M3901 1976l14 78-11-48-14 32z"/><path color="#286cfe" d="M3887 1988l14-12-11 62-14-50z"/><path color="#432cdd" d="M3873 2080l14-92-11 0-14 18z"/><path color="#4423ce" d="M3858 2101l15-21-11-74-14 82z"/><path color="#2d63fe" d="M3844 2016l14 85-10-13-15-77z"/><path color="#384af6" d="M3830 2049l14-33-11-5-14 23zM3816 2049l14 0-11-15-14 9z"/><path color="#315bfc" d="M3802 2036l14 13-11-6-14 66z"/><path color="#432cdd" d="M3787 2106l15-70-11 73-14-23z"/><path color="#3452f9" d="M3773 2058l14 48-10-20-15-57z"/><path color="#4131e3" d="M3759 2105l14-47-11-29-14 80z"/><path color="#441ec7" d="M3745 2148l14-43-11 4-14-51z"/><path color="#4327d5" d="M3731 2130l14 18-11-90-14 78z"/><path color="#3d3dee" d="M3716 2101l15 29-11 6-14-15z"/><path color="#432cdd" d="M3702 2137l14-36-10 20-15 14zM3688 2142l14-5-11-2-14-29z"/><path color="#3b43f3" d="M3674 2105l14 37-11-36-14 41z"/><path color="#3d3dee" d="M3660 2120l14-15-11 42-14-24z"/><path color="#286cfe" d="M3646 2069l14 51-11 3-14-29z"/><path color="#315bfc" d="M3631 2097l15-28-11 25-15 61zM3617 2099l14-2-11 58-14-35zM3603 2102l14-3-11 21-14 9z"/><path color="#1195f6" d="M3589 2044l14 58-11 27-14-39z"/><path color="#0ca0ee" d="M3575 2029l14 15-11 46-14-5z"/><path color="#315bfc" d="M3560 2120l15-91-11 56-15 27z"/><path color="#0e9bf2" d="M3546 2061l14 59-11-8-14-21z"/><path color="#02b9cf" d="M3532 1999l14 62-11 30-14-60z"/><path color="#03b6d5" d="M3518 2017l14-18-11 32-14-21z"/><path color="#2ccc6d" d="M3504 1943l14 74-11-7-14-80z"/><path color="#36cc67" d="M4011 1776l14-47-10-11-15 113z"/><path color="#02b9cf" d="M3997 1861l14-85-11 55-14 57zM3983 1863l14-2-11 27-14 60z"/><path color="#05afe2" d="M3969 1892l14-29-11 85-14 30z"/><path color="#286cfe" d="M3954 1986l15-94-11 86-14 41z"/><path color="#3452f9" d="M3940 2014l14-28-10 33-15-62z"/><path color="#4131e3" d="M3926 2063l14-49-11-57-14 97z"/><path color="#384af6" d="M3912 2030l14 33-11-9-14-78z"/><path color="#3b43f3" d="M3898 2041l14-11-11-54-14 12z"/><path color="#3f37e8" d="M3883 2063l15-22-11-53-14 92z"/><path color="#4327d5" d="M3869 2100l14-37-10 17-15 21z"/><path color="#2d63fe" d="M3855 2024l14 76-11 1-14-85z"/><path color="#441ec7" d="M3841 2126l14-102-11-8-14 33z"/><path color="#2d63fe" d="M3827 2032l14 94-11-77-14 0z"/><path color="#3d3dee" d="M3813 2084l14-52-11 17-14-13zM3798 2088l15-4-11-48-15 70z"/><path color="#2d63fe" d="M3784 2039l14 49-11 18-14-48z"/><path color="#4131e3" d="M3770 2114l14-75-11 19-14 47z"/><path color="#3b43f3" d="M3756 2086l14 28-11-9-14 43z"/><path color="#3d3dee" d="M3742 2106l14-20-11 62-14-18z"/><path color="#4327d5" d="M3727 2149l15-43-11 24-15-29z"/><path color="#286cfe" d="M3713 2059l14 90-11-48-14 36z"/><path color="#3b43f3" d="M3699 2106l14-47-11 78-14 5z"/><path color="#4423ce" d="M3685 2164l14-58-11 36-14-37z"/><path color="#315bfc" d="M3671 2086l14 78-11-59-14 15z"/><path color="#3b43f3" d="M3656 2121l15-35-11 34-14-51z"/><path color="#315bfc" d="M3642 2096l14 25-10-52-15 28zM3628 2109l14-13-11 1-14 2z"/><path color="#3b43f3" d="M3614 2138l14-29-11-10-14 3z"/><path color="#2d63fe" d="M3600 2106l14 32-11-36-14-58z"/><path color="#286cfe" d="M3585 2104l15 2-11-62-14-15z"/><path color="#1195f6" d="M3571 2063l14 41-10-75-15 91z"/><path color="#02b9cf" d="M3557 1995l14 68-11 57-14-59z"/><path color="#06abe7" d="M3543 2044l14-49-11 66-14-62z"/><path color="#02b9cf" d="M3529 2013l14 31-11-45-14 18z"/><path color="#8aca36" d="M3514 1890l15 123-11 4-14-74z"/><path color="#03b6d5" d="M4022 1874l14-150-11 5-14 47z"/><path color="#0ca0ee" d="M4008 1921l14-47-11-98-14 85z"/><path color="#1e7efc" d="M3994 1969l14-48-11-60-14 2z"/><path color="#286cfe" d="M3980 1986l14-17-11-106-14 29z"/><path color="#3452f9" d="M3965 2023l15-37-11-94-15 94z"/><path color="#1e7efc" d="M3951 1976l14 47-11-37-14 28z"/><path color="#286cfe" d="M3937 1996l14-20-11 38-14 49zM3923 1999l14-3-11 67-14-33z"/><path color="#4131e3" d="M3909 2075l14-76-11 31-14 11z"/><path color="#4327d5" d="M3894 2103l15-28-11-34-15 22z"/><path color="#3f37e8" d="M3880 2075l14 28-11-40-14 37z"/><path color="#4423ce" d="M3866 2117l14-42-11 25-14-76z"/><path color="#4131e3" d="M3852 2092l14 25-11-93-14 102z"/><path color="#3d3dee" d="M3838 2082l14 10-11 34-14-94z"/><path color="#4423ce" d="M3823 2129l15-47-11-50-14 52z"/><path color="#315bfc" d="M3809 2055l14 74-10-45-15 4z"/><path color="#3452f9" d="M3795 2065l14-10-11 33-14-49z"/><path color="#286cfe" d="M3781 2047l14 18-11-26-14 75z"/><path color="#3d3dee" d="M3767 2107l14-60-11 67-14-28z"/><path color="#4131e3" d="M3752 2125l15-18-11-21-14 20z"/><path color="#3d3dee" d="M3738 2112l14 13-10-19-15 43zM3724 2116l14-4-11 37-14-90z"/><path color="#384af6" d="M3710 2100l14 16-11-57-14 47z"/><path color="#3f37e8" d="M3696 2135l14-35-11 6-14 58z"/><path color="#3452f9" d="M3682 2105l14 30-11 29-14-78z"/><path color="#2d63fe" d="M3667 2087l15 18-11-19-15 35z"/><path color="#4131e3" d="M3653 2160l14-73-11 34-14-25z"/><path color="#3b43f3" d="M3639 2141l14 19-11-64-14 13zM3625 2145l14-4-11-32-14 29z"/><path color="#315bfc" d="M3611 2120l14 25-11-7-14-32z"/><path color="#1490f9" d="M3596 2078l15 42-11-14-15-2z"/><path color="#1888fb" d="M3582 2085l14-7-11 26-14-41z"/><path color="#1490f9" d="M3568 2085l14 0-11-22-14-68z"/><path color="#0ca0ee" d="M3554 2067l14 18-11-90-14 49z"/><path color="#2ccc6d" d="M3540 1945l14 122-11-23-14-31z"/><path color="#8aca36" d="M3525 1890l15 55-11 68-15-123z"/><path color="#01bcc8" d="M4033 1865l14-94-11-47-14 150z"/><path color="#02b9cf" d="M4019 1873l14-8-11 9-14 47z"/><path color="#1195f6" d="M4005 1951l14-78-11 48-14 48z"/><path color="#1888fb" d="M3990 1967l15-16-11 18-14 17z"/><path color="#2d63fe" d="M3976 2008l14-41-10 19-15 37z"/><path color="#3b43f3" d="M3962 2043l14-35-11 15-14-47z"/><path color="#1e7efc" d="M3948 1985l14 58-11-67-14 20zM3934 1991l14-6-11 11-14 3z"/><path color="#3d3dee" d="M3919 2064l15-73-11 8-14 76z"/><path color="#3f37e8" d="M3905 2076l14-12-10 11-15 28z"/><path color="#384af6" d="M3891 2056l14 20-11 27-14-28z"/><path color="#286cfe" d="M3877 2024l14 32-11 19-14 42z"/><path color="#3d3dee" d="M3863 2086l14-62-11 93-14-25z"/><path color="#4131e3" d="M3849 2107l14-21-11 6-14-10z"/><path color="#432cdd" d="M3834 2117l15-10-11-25-15 47z"/><path color="#2d63fe" d="M3820 2050l14 67-11 12-14-74z"/><path color="#4423ce" d="M3806 2152l14-102-11 5-14 10z"/><path color="#286cfe" d="M3792 2054l14 98-11-87-14-18z"/><path color="#2d63fe" d="M3778 2063l14-9-11-7-14 60zM3763 2065l15-2-11 44-15 18zM3749 2073l14-8-11 60-14-13zM3735 2076l14-3-11 39-14 4z"/><path color="#384af6" d="M3721 2111l14-35-11 40-14-16z"/><path color="#4327d5" d="M3707 2174l14-63-11-11-14 35z"/><path color="#3452f9" d="M3692 2114l15 60-11-39-14-30z"/><path color="#384af6" d="M3678 2126l14-12-10-9-15-18zM3664 2133l14-7-11-39-14 73z"/><path color="#3f37e8" d="M3650 2163l14-30-11 27-14-19z"/><path color="#3b43f3" d="M3636 2146l14 17-11-22-14 4z"/><path color="#0e9bf2" d="M3621 2057l15 89-11-1-14-25z"/><path color="#0ca0ee" d="M3607 2048l14 9-10 63-15-42z"/><path color="#09a6eb" d="M3593 2046l14 2-11 30-14 7z"/><path color="#06abe7" d="M3579 2049l14-3-11 39-14 0z"/><path color="#05afe2" d="M3565 2043l14 6-11 36-14-18z"/><path color="#01bcc8" d="M3550 2020l15 23-11 24-14-122z"/><path color="#8aca36" d="M3536 1904l14 116-10-75-15-55z"/><path color="#02b9cf" d="M4044 1882l14-142-11 31-14 94z"/><path color="#0fca91" d="M4030 1831l14 51-11-17-14 8z"/><path color="#0ca0ee" d="M4016 1938l14-107-11 42-14 78z"/><path color="#1888fb" d="M4001 1973l15-35-11 13-15 16z"/><path color="#1e7efc" d="M3987 1986l14-13-11-6-14 41z"/><path color="#1490f9" d="M3973 1972l14 14-11 22-14 35z"/><path color="#1888fb" d="M3959 1981l14-9-11 71-14-58z"/><path color="#384af6" d="M3945 2048l14-67-11 4-14 6z"/><path color="#3f37e8" d="M3930 2082l15-34-11-57-15 73z"/><path color="#384af6" d="M3916 2059l14 23-11-18-14 12z"/><path color="#286cfe" d="M3902 2024l14 35-11 17-14-20z"/><path color="#4131e3" d="M3888 2105l14-81-11 32-14-32z"/><path color="#3452f9" d="M3874 2062l14 43-11-81-14 62z"/><path color="#3f37e8" d="M3859 2099l15-37-11 24-14 21z"/><path color="#3452f9" d="M3845 2072l14 27-10 8-15 10z"/><path color="#3d3dee" d="M3831 2100l14-28-11 45-14-67z"/><path color="#384af6" d="M3817 2091l14 9-11-50-14 102z"/><path color="#286cfe" d="M3803 2055l14 36-11 61-14-98z"/><path color="#3f37e8" d="M3788 2130l15-75-11-1-14 9z"/><path color="#315bfc" d="M3774 2081l14 49-10-67-15 2z"/><path color="#3452f9" d="M3760 2099l14-18-11-16-14 8z"/><path color="#4131e3" d="M3746 2145l14-46-11-26-14 3z"/><path color="#286cfe" d="M3732 2078l14 67-11-69-14 35z"/><path color="#3d3dee" d="M3717 2137l15-59-11 33-14 63z"/><path color="#4131e3" d="M3703 2161l14-24-10 37-15-60z"/><path color="#3452f9" d="M3689 2120l14 41-11-47-14 12z"/><path color="#315bfc" d="M3675 2120l14 0-11 6-14 7z"/><path color="#3f37e8" d="M3661 2168l14-48-11 13-14 30z"/><path color="#1490f9" d="M3647 2078l14 90-11-5-14-17z"/><path color="#2d63fe" d="M3632 2122l15-44-11 68-15-89zM3618 2128l14-6-11-65-14-9z"/><path color="#1195f6" d="M3604 2087l14 41-11-80-14-2z"/><path color="#1e7efc" d="M3590 2116l14-29-11-41-14 3z"/><path color="#05afe2" d="M3576 2056l14 60-11-67-14-6z"/><path color="#09c7a1" d="M3561 1998l15 58-11-13-15-23z"/><path color="#36cc67" d="M3547 1964l14 34-11 22-14-116z"/><path color="#0fca91" d="M4055 1837l14-39-11-58-14 142z"/><path color="#06abe7" d="M4041 1927l14-90-11 45-14-51z"/><path color="#1195f6" d="M4026 1956l15-29-11-96-14 107z"/><path color="#1e7efc" d="M4012 1987l14-31-10-18-15 35z"/><path color="#09a6eb" d="M3998 1935l14 52-11-14-14 13z"/><path color="#1888fb" d="M3984 1988l14-53-11 51-14-14z"/><path color="#1e7efc" d="M3970 1994l14-6-11-16-14 9z"/><path color="#286cfe" d="M3955 2018l15-24-11-13-14 67z"/><path color="#4131e3" d="M3941 2095l14-77-10 30-15 34z"/><path color="#384af6" d="M3927 2067l14 28-11-13-14-23z"/><path color="#2d63fe" d="M3913 2041l14 26-11-8-14-35z"/><path color="#4131e3" d="M3899 2112l14-71-11-17-14 81z"/><path color="#2d63fe" d="M3884 2051l15 61-11-7-14-43z"/><path color="#4327d5" d="M3870 2138l14-87-10 11-15 37z"/><path color="#3452f9" d="M3856 2073l14 65-11-39-14-27z"/><path color="#315bfc" d="M3842 2071l14 2-11-1-14 28z"/><path color="#3b43f3" d="M3828 2107l14-36-11 29-14-9z"/><path color="#4423ce" d="M3814 2166l14-59-11-16-14-36z"/><path color="#3452f9" d="M3799 2090l15 76-11-111-15 75z"/><path color="#4131e3" d="M3785 2146l14-56-11 40-14-49z"/><path color="#3b43f3" d="M3771 2121l14 25-11-65-14 18z"/><path color="#4327d5" d="M3757 2169l14-48-11-22-14 46z"/><path color="#286cfe" d="M3743 2088l14 81-11-24-14-67z"/><path color="#2d63fe" d="M3728 2099l15-11-11-10-15 59z"/><path color="#432cdd" d="M3714 2183l14-84-11 38-14 24z"/><path color="#2d63fe" d="M3700 2113l14 70-11-22-14-41z"/><path color="#315bfc" d="M3686 2121l14-8-11 7-14 0z"/><path color="#3452f9" d="M3672 2137l14-16-11-1-14 48z"/><path color="#1490f9" d="M3657 2078l15 59-11 31-14-90z"/><path color="#315bfc" d="M3643 2137l14-59-10 0-15 44zM3629 2143l14-6-11-15-14 6z"/><path color="#0ca0ee" d="M3615 2068l14 75-11-15-14-41z"/><path color="#1888fb" d="M3601 2119l14-51-11 19-14 29z"/><path color="#09c7a1" d="M3586 1997l15 122-11-3-14-60z"/><path color="#03b6d5" d="M3572 2047l14-50-10 59-15-58z"/><path color="#6fcc42" d="M3558 1918l14 129-11-49-14-34z"/><path color="#19cb85" d="M4066 1840l14 0-11-42-14 39z"/><path color="#0fca91" d="M4051 1845l15-5-11-3-14 90z"/><path color="#0ca0ee" d="M4037 1949l14-104-10 82-15 29z"/><path color="#04b2db" d="M4023 1913l14 36-11 7-14 31z"/><path color="#286cfe" d="M4009 2021l14-108-11 74-14-52z"/><path color="#384af6" d="M3995 2056l14-35-11-86-14 53z"/><path color="#2d63fe" d="M3981 2033l14 23-11-68-14 6z"/><path color="#3d3dee" d="M3966 2080l15-47-11-39-15 24z"/><path color="#286cfe" d="M3952 2028l14 52-11-62-14 77z"/><path color="#3b43f3" d="M3938 2083l14-55-11 67-14-28z"/><path color="#315bfc" d="M3924 2059l14 24-11-16-14-26z"/><path color="#4131e3" d="M3910 2114l14-55-11-18-14 71z"/><path color="#2d63fe" d="M3895 2053l15 61-11-2-15-61z"/><path color="#3b43f3" d="M3881 2095l14-42-11-2-14 87zM3867 2102l14-7-11 43-14-65z"/><path color="#3f37e8" d="M3853 2128l14-26-11-29-14-2z"/><path color="#4327d5" d="M3839 2155l14-27-11-57-14 36z"/><path color="#315bfc" d="M3824 2090l15 65-11-48-14 59z"/><path color="#286cfe" d="M3810 2078l14 12-10 76-15-76zM3796 2082l14-4-11 12-14 56z"/><path color="#2d63fe" d="M3782 2091l14-9-11 64-14-25z"/><path color="#3d3dee" d="M3768 2144l14-53-11 30-14 48z"/><path color="#3452f9" d="M3753 2124l15 20-11 25-14-81z"/><path color="#2d63fe" d="M3739 2103l14 21-10-36-15 11z"/><path color="#286cfe" d="M3725 2097l14 6-11-4-14 84z"/><path color="#3452f9" d="M3711 2137l14-40-11 86-14-70z"/><path color="#384af6" d="M3697 2153l14-16-11-24-14 8z"/><path color="#4131e3" d="M3682 2188l15-35-11-32-14 16z"/><path color="#1195f6" d="M3668 2075l14 113-10-51-15-59z"/><path color="#3b43f3" d="M3654 2177l14-102-11 3-14 59z"/><path color="#1888fb" d="M3640 2111l14 66-11-40-14 6z"/><path color="#04b2db" d="M3626 2040l14 71-11 32-14-75z"/><path color="#03b6d5" d="M3612 2036l14 4-11 28-14 51z"/><path color="#05afe2" d="M3597 2067l15-31-11 83-15-122z"/><path color="#01bcc8" d="M3583 2041l14 26-11-70-14 50z"/><path color="#48cc59" d="M3569 1952l14 89-11 6-14-129zM4077 1793l14 42-11 5-14 0z"/><path color="#09a6eb" d="M4062 1941l15-148-11 47-15 5z"/><path color="#1490f9" d="M4048 1979l14-38-11-96-14 104z"/><path color="#1e7efc" d="M4034 2000l14-21-11-30-14-36z"/><path color="#2d63fe" d="M4020 2029l14-29-11-87-14 108z"/><path color="#3452f9" d="M4006 2057l14-28-11-8-14 35z"/><path color="#3b43f3" d="M3991 2077l15-20-11-1-14-23z"/><path color="#2d63fe" d="M3977 2044l14 33-10-44-15 47z"/><path color="#286cfe" d="M3963 2033l14 11-11 36-14-52z"/><path color="#3b43f3" d="M3949 2085l14-52-11-5-14 55z"/><path color="#1e7efc" d="M3935 2029l14 56-11-2-14-24z"/><path color="#432cdd" d="M3920 2136l15-107-11 30-14 55z"/><path color="#384af6" d="M3906 2088l14 48-10-22-15-61z"/><path color="#2375fd" d="M3892 2045l14 43-11-35-14 42z"/><path color="#432cdd" d="M3878 2142l14-97-11 50-14 7z"/><path color="#2d63fe" d="M3864 2075l14 67-11-40-14 26z"/><path color="#4131e3" d="M3849 2148l15-73-11 53-14 27z"/><path color="#2375fd" d="M3835 2070l14 78-10 7-15-65z"/><path color="#3f37e8" d="M3821 2142l14-72-11 20-14-12z"/><path color="#4131e3" d="M3807 2162l14-20-11-64-14 4z"/><path color="#3b43f3" d="M3793 2139l14 23-11-80-14 9z"/><path color="#2375fd" d="M3779 2080l14 59-11-48-14 53z"/><path color="#3f37e8" d="M3764 2165l15-85-11 64-15-20z"/><path color="#432cdd" d="M3750 2189l14-24-11-41-14-21z"/><path color="#3d3dee" d="M3736 2161l14 28-11-86-14-6z"/><path color="#2d63fe" d="M3722 2126l14 35-11-64-14 40z"/><path color="#1e7efc" d="M3708 2097l14 29-11 11-14 16z"/><path color="#384af6" d="M3693 2157l15-60-11 56-15 35z"/><path color="#1490f9" d="M3679 2089l14 68-11 31-14-113z"/><path color="#286cfe" d="M3665 2137l14-48-11-14-14 102z"/><path color="#1e7efc" d="M3651 2123l14 14-11 40-14-66z"/><path color="#06abe7" d="M3637 2064l14 59-11-12-14-71z"/><path color="#1490f9" d="M3622 2116l15-52-11-24-14-4z"/><path color="#06abe7" d="M3608 2079l14 37-10-80-15 31z"/><path color="#55cc51" d="M3594 1944l14 135-11-12-14-26z"/><path color="#3fcc60" d="M3580 1972l14-28-11 97-14-89z"/><path color="#55cc51" d="M4087 1798l15-21-11 58-14-42z"/><path color="#05c3b1" d="M4073 1882l14-84-10-5-15 148z"/><path color="#01bcc8" d="M4059 1900l14-18-11 59-14 38z"/><path color="#1e7efc" d="M4045 2013l14-113-11 79-14 21zM4031 2008l14 5-11-13-14 29z"/><path color="#1888fb" d="M4016 2005l15 3-11 21-14 28z"/><path color="#3b43f3" d="M4002 2080l14-75-10 52-15 20z"/><path color="#1490f9" d="M3988 2001l14 79-11-3-14-33z"/><path color="#315bfc" d="M3974 2063l14-62-11 43-14-11zM3960 2063l14 0-11-30-14 52z"/><path color="#286cfe" d="M3946 2048l14 15-11 22-14-56z"/><path color="#3b43f3" d="M3931 2105l15-57-11-19-15 107z"/><path color="#2d63fe" d="M3917 2073l14 32-11 31-14-48z"/><path color="#4131e3" d="M3903 2140l14-67-11 15-14-43z"/><path color="#2375fd" d="M3889 2063l14 77-11-95-14 97zM3875 2061l14 2-11 79-14-67z"/><path color="#384af6" d="M3860 2118l15-57-11 14-15 73z"/><path color="#2375fd" d="M3846 2075l14 43-11 30-14-78z"/><path color="#3d3dee" d="M3832 2146l14-71-11-5-14 72z"/><path color="#315bfc" d="M3818 2109l14 37-11-4-14 20z"/><path color="#3452f9" d="M3804 2126l14-17-11 53-14-23z"/><path color="#3d3dee" d="M3789 2155l15-29-11 13-14-59z"/><path color="#315bfc" d="M3775 2126l14 29-10-75-15 85z"/><path color="#2375fd" d="M3761 2102l14 24-11 39-14 24z"/><path color="#3f37e8" d="M3747 2180l14-78-11 87-14-28z"/><path color="#2375fd" d="M3733 2109l14 71-11-19-14-35z"/><path color="#3b43f3" d="M3718 2169l15-60-11 17-14-29z"/><path color="#2375fd" d="M3704 2122l14 47-10-72-15 60z"/><path color="#1490f9" d="M3690 2095l14 27-11 35-14-68z"/><path color="#1195f6" d="M3676 2100l14-5-11-6-14 48z"/><path color="#286cfe" d="M3662 2151l14-51-11 37-14-14z"/><path color="#0ca0ee" d="M3648 2095l14 56-11-28-14-59z"/><path color="#05afe2" d="M3633 2069l15 26-11-31-15 52z"/><path color="#23cb78" d="M3619 1990l14 79-11 47-14-37z"/><path color="#00bfc2" d="M3605 2043l14-53-11 89-14-135z"/><path color="#6fcc42" d="M3591 1942l14 101-11-99-14 28z"/><path color="#19cb85" d="M4098 1861l15-47-11-37-15 21z"/><path color="#03b6d5" d="M4084 1921l14-60-11-63-14 84z"/><path color="#00bfc2" d="M4070 1896l14 25-11-39-14 18z"/><path color="#05afe2" d="M4056 1943l14-47-11 4-14 113z"/><path color="#06abe7" d="M4042 1950l14-7-11 70-14-5zM4027 1953l15-3-11 58-15-3z"/><path color="#384af6" d="M4013 2078l14-125-11 52-14 75z"/><path color="#1e7efc" d="M3999 2032l14 46-11 2-14-79z"/><path color="#2d63fe" d="M3985 2063l14-31-11-31-14 62z"/><path color="#1490f9" d="M3971 2014l14 49-11 0-14 0zM3956 2020l15-6-11 49-14-15z"/><path color="#3d3dee" d="M3942 2120l14-100-10 28-15 57z"/><path color="#286cfe" d="M3928 2069l14 51-11-15-14-32zM3914 2068l14 1-11 4-14 67zM3900 2078l14-10-11 72-14-77z"/><path color="#3b43f3" d="M3885 2126l15-48-11-15-14-2z"/><path color="#2d63fe" d="M3871 2095l14 31-10-65-15 57z"/><path color="#1888fb" d="M3857 2061l14 34-11 23-14-43z"/><path color="#2375fd" d="M3843 2088l14-27-11 14-14 71z"/><path color="#4131e3" d="M3829 2169l14-81-11 58-14-37z"/><path color="#2375fd" d="M3815 2096l14 73-11-60-14 17z"/><path color="#2d63fe" d="M3800 2118l15-22-11 30-15 29z"/><path color="#286cfe" d="M3786 2115l14 3-11 37-14-29z"/><path color="#3452f9" d="M3772 2148l14-33-11 11-14-24z"/><path color="#1888fb" d="M3758 2090l14 58-11-46-14 78z"/><path color="#2d63fe" d="M3744 2138l14-48-11 90-14-71z"/><path color="#3452f9" d="M3729 2162l15-24-11-29-15 60z"/><path color="#286cfe" d="M3715 2139l14 23-11 7-14-47z"/><path color="#315bfc" d="M3701 2157l14-18-11-17-14-27z"/><path color="#1e7efc" d="M3687 2132l14 25-11-62-14 5z"/><path color="#2375fd" d="M3673 2148l14-16-11-32-14 51z"/><path color="#03b6d5" d="M3658 2049l15 99-11 3-14-56z"/><path color="#09c7a1" d="M3644 2015l14 34-10 46-15-26z"/><path color="#03b6d5" d="M3630 2065l14-50-11 54-14-79z"/><path color="#19cb85" d="M3616 2008l14 57-11-75-14 53z"/><path color="#55cc51" d="M3602 1966l14 42-11 35-14-101z"/><path color="#0fca91" d="M4109 1872l14-58-10 0-15 47z"/><path color="#23cb78" d="M4095 1854l14 18-11-11-14 60z"/><path color="#04b2db" d="M4081 1940l14-86-11 67-14-25z"/><path color="#05afe2" d="M4067 1948l14-8-11-44-14 47z"/><path color="#0ca0ee" d="M4052 1977l15-29-11-5-14 7z"/><path color="#2375fd" d="M4038 2038l14-61-10-27-15 3z"/><path color="#1e7efc" d="M4024 2030l14 8-11-85-14 125z"/><path color="#286cfe" d="M4010 2052l14-22-11 48-14-46z"/><path color="#384af6" d="M3996 2097l14-45-11-20-14 31z"/><path color="#1e7efc" d="M3982 2040l14 57-11-34-14-49z"/><path color="#3d3dee" d="M3967 2121l15-81-11-26-15 6z"/><path color="#1490f9" d="M3953 2029l14 92-11-101-14 100z"/><path color="#3b43f3" d="M3939 2124l14-95-11 91-14-51z"/><path color="#384af6" d="M3925 2112l14 12-11-55-14-1zM3911 2117l14-5-11-44-14 10z"/><path color="#3f37e8" d="M3896 2150l15-33-11-39-15 48z"/><path color="#1490f9" d="M3882 2059l14 91-11-24-14-31z"/><path color="#286cfe" d="M3868 2093l14-34-11 36-14-34z"/><path color="#1888fb" d="M3854 2069l14 24-11-32-14 27z"/><path color="#1e7efc" d="M3840 2084l14-15-11 19-14 81z"/><path color="#2d63fe" d="M3825 2124l15-40-11 85-14-73z"/><path color="#1490f9" d="M3811 2075l14 49-10-28-15 22z"/><path color="#1888fb" d="M3797 2090l14-15-11 43-14-3z"/><path color="#3f37e8" d="M3783 2185l14-95-11 25-14 33z"/><path color="#3452f9" d="M3769 2161l14 24-11-37-14-58z"/><path color="#0e9bf2" d="M3754 2077l15 84-11-71-14 48zM3740 2082l14-5-10 61-15 24z"/><path color="#1888fb" d="M3726 2118l14-36-11 80-14-23z"/><path color="#2375fd" d="M3712 2141l14-23-11 21-14 18z"/><path color="#286cfe" d="M3698 2153l14-12-11 16-14-25z"/><path color="#0e9bf2" d="M3683 2107l15 46-11-21-14 16z"/><path color="#03b6d5" d="M3669 2058l14 49-10 41-15-99z"/><path color="#02b9cf" d="M3655 2053l14 5-11-9-14-34z"/><path color="#03b6d5" d="M3641 2080l14-27-11-38-14 50z"/><path color="#0fca91" d="M3627 2028l14 52-11-15-14-57z"/><path color="#3fcc60" d="M3613 1993l14 35-11-20-14-42z"/><path color="#0fca91" d="M4120 1881l14-94-11 27-14 58z"/><path color="#02b9cf" d="M4106 1923l14-42-11-9-14-18z"/><path color="#19cb85" d="M4092 1877l14 46-11-69-14 86z"/><path color="#06abe7" d="M4078 1969l14-92-11 63-14 8z"/><path color="#1888fb" d="M4063 2024l15-55-11-21-15 29z"/><path color="#1e7efc" d="M4049 2032l14-8-11-47-14 61z"/><path color="#1195f6" d="M4035 2007l14 25-11 6-14-8z"/><path color="#0ca0ee" d="M4021 1994l14 13-11 23-14 22z"/><path color="#1195f6" d="M4007 2022l14-28-11 58-14 45z"/><path color="#315bfc" d="M3992 2088l15-66-11 75-14-57z"/><path color="#0e9bf2" d="M3978 2021l14 67-10-48-15 81z"/><path color="#1490f9" d="M3964 2042l14-21-11 100-14-92z"/><path color="#286cfe" d="M3950 2080l14-38-11-13-14 95z"/><path color="#3452f9" d="M3936 2112l14-32-11 44-14-12z"/><path color="#0e9bf2" d="M3921 2037l15 75-11 0-14 5z"/><path color="#1195f6" d="M3907 2046l14-9-10 80-15 33z"/><path color="#3452f9" d="M3893 2130l14-84-11 104-14-91z"/><path color="#315bfc" d="M3879 2123l14 7-11-71-14 34z"/><path color="#0e9bf2" d="M3865 2048l14 75-11-30-14-24z"/><path color="#1490f9" d="M3850 2073l15-25-11 21-14 15z"/><path color="#2375fd" d="M3836 2107l14-34-10 11-15 40z"/><path color="#3b43f3" d="M3822 2167l14-60-11 17-14-49z"/><path color="#1195f6" d="M3808 2079l14 88-11-92-14 15z"/><path color="#1490f9" d="M3794 2090l14-11-11 11-14 95z"/><path color="#3452f9" d="M3780 2161l14-71-11 95-14-24z"/><path color="#1888fb" d="M3765 2116l15 45-11 0-15-84z"/><path color="#2d63fe" d="M3751 2154l14-38-11-39-14 5zM3737 2161l14-7-11-72-14 36z"/><path color="#0ca0ee" d="M3723 2096l14 65-11-43-14 23z"/><path color="#1888fb" d="M3709 2134l14-38-11 45-14 12z"/><path color="#1490f9" d="M3694 2132l15 2-11 19-15-46z"/><path color="#09c7a1" d="M3680 2022l14 110-11-25-14-49z"/><path color="#19cb85" d="M3666 2011l14 11-11 36-14-5z"/><path color="#23cb78" d="M3652 2006l14 5-11 42-14 27z"/><path color="#48cc59" d="M3638 1976l14 30-11 74-14-52z"/><path color="#55cc51" d="M3623 1985l15-9-11 52-14-35zM4131 1823l14-59-11 23-14 94z"/><path color="#00bfc2" d="M4117 1916l14-93-11 58-14 42z"/><path color="#23cb78" d="M4103 1871l14 45-11 7-14-46z"/><path color="#09c7a1" d="M4088 1897l15-26-11 6-14 92z"/><path color="#01bcc8" d="M4074 1935l14-38-10 72-15 55z"/><path color="#05afe2" d="M4060 1972l14-37-11 89-14 8z"/><path color="#0e9bf2" d="M4046 2010l14-38-11 60-14-25z"/><path color="#06abe7" d="M4032 1982l14 28-11-3-14-13z"/><path color="#1888fb" d="M4017 2046l15-64-11 12-14 28z"/><path color="#2d63fe" d="M4003 2088l14-42-10-24-15 66z"/><path color="#1195f6" d="M3989 2031l14 57-11 0-14-67z"/><path color="#2d63fe" d="M3975 2095l14-64-11-10-14 21z"/><path color="#0e9bf2" d="M3961 2037l14 58-11-53-14 38zM3947 2034l14 3-11 43-14 32z"/><path color="#1888fb" d="M3932 2075l15-41-11 78-15-75z"/><path color="#286cfe" d="M3918 2102l14-27-11-38-14 9z"/><path color="#0ca0ee" d="M3904 2039l14 63-11-56-14 84z"/><path color="#3452f9" d="M3890 2137l14-98-11 91-14-7z"/><path color="#09a6eb" d="M3876 2041l14 96-11-14-14-75z"/><path color="#0e9bf2" d="M3861 2061l15-20-11 7-15 25z"/><path color="#1195f6" d="M3847 2080l14-19-11 12-14 34z"/><path color="#09a6eb" d="M3833 2060l14 20-11 27-14 60z"/><path color="#0e9bf2" d="M3819 2076l14-16-11 107-14-88z"/><path color="#1888fb" d="M3805 2115l14-39-11 3-14 11z"/><path color="#1490f9" d="M3790 2110l15 5-11-25-14 71z"/><path color="#09a6eb" d="M3776 2080l14 30-10 51-15-45zM3762 2081l14-1-11 36-14 38z"/><path color="#1195f6" d="M3748 2114l14-33-11 73-14 7z"/><path color="#0e9bf2" d="M3734 2112l14 2-11 47-14-65z"/><path color="#1195f6" d="M3719 2130l15-18-11-16-14 38z"/><path color="#09a6eb" d="M3705 2101l14 29-10 4-15-2z"/><path color="#04b2db" d="M3691 2080l14 21-11 31-14-110z"/><path color="#00bfc2" d="M3677 2054l14 26-11-58-14-11z"/><path color="#09c7a1" d="M3663 2047l14 7-11-43-14-5z"/><path color="#62cc4a" d="M3648 1971l15 76-11-41-14-30z"/><path color="#ffb81e" d="M3634 1897l14 74-10 5-15 9z"/><path color="#62cc4a" d="M4142 1821l14-72-11 15-14 59z"/><path color="#19cb85" d="M4128 1887l14-66-11 2-14 93z"/><path color="#48cc59" d="M4114 1847l14 40-11 29-14-45z"/><path color="#05c3b1" d="M4099 1921l15-74-11 24-15 26z"/><path color="#09c7a1" d="M4085 1906l14 15-11-24-14 38z"/><path color="#05c3b1" d="M4071 1918l14-12-11 29-14 37z"/><path color="#00bfc2" d="M4057 1935l14-17-11 54-14 38z"/><path color="#1195f6" d="M4043 2032l14-97-11 75-14-28z"/><path color="#09a6eb" d="M4028 2004l15 28-11-50-15 64z"/><path color="#1490f9" d="M4014 2046l14-42-11 42-14 42z"/><path color="#2375fd" d="M4000 2084l14-38-11 42-14-57z"/><path color="#09a6eb" d="M3986 2020l14 64-11-53-14 64z"/><path color="#04b2db" d="M3972 1996l14 24-11 75-14-58z"/><path color="#09a6eb" d="M3957 2030l15-34-11 41-14-3z"/><path color="#0e9bf2" d="M3943 2054l14-24-10 4-15 41z"/><path color="#09a6eb" d="M3929 2038l14 16-11 21-14 27z"/><path color="#286cfe" d="M3915 2112l14-74-11 64-14-63z"/><path color="#2d63fe" d="M3901 2127l14-15-11-73-14 98z"/><path color="#1490f9" d="M3886 2085l15 42-11 10-14-96z"/><path color="#0e9bf2" d="M3872 2077l14 8-10-44-15 20z"/><path color="#0ca0ee" d="M3858 2069l14 8-11-16-14 19z"/><path color="#1490f9" d="M3844 2097l14-28-11 11-14-20z"/><path color="#1195f6" d="M3830 2101l14-4-11-37-14 16z"/><path color="#06abe7" d="M3815 2068l15 33-11-25-14 39z"/><path color="#1e7efc" d="M3801 2133l14-65-10 47-15-5z"/><path color="#04b2db" d="M3787 2052l14 81-11-23-14-30z"/><path color="#0e9bf2" d="M3773 2106l14-54-11 28-14 1z"/><path color="#04b2db" d="M3759 2069l14 37-11-25-14 33z"/><path color="#06abe7" d="M3745 2092l14-23-11 45-14-2z"/><path color="#05afe2" d="M3730 2092l15 0-11 20-15 18z"/><path color="#00bfc2" d="M3716 2046l14 46-11 38-14-29z"/><path color="#01bcc8" d="M3702 2062l14-16-11 55-14-21z"/><path color="#19cb85" d="M3688 2027l14 35-11 18-14-26z"/><path color="#2ccc6d" d="M3674 2017l14 10-11 27-14-7z"/><path color="#acc827" d="M3659 1946l15 71-11 30-15-76z"/><path color="#f8ba1a" d="M3645 1930l14 16-11 25-14-74z"/><path color="#ffbf1c" d="M4153 1743l14-24-11 30-14 72z"/><path color="#55cc51" d="M4139 1842l14-99-11 78-14 66z"/><path color="#36cc67" d="M4124 1868l15-26-11 45-14-40z"/><path color="#09c7a1" d="M4110 1913l14-45-10-21-15 74z"/><path color="#05c3b1" d="M4096 1927l14-14-11 8-14-15z"/><path color="#05afe2" d="M4082 1982l14-55-11-21-14 12z"/><path color="#03b6d5" d="M4068 1971l14 11-11-64-14 17z"/><path color="#02b9cf" d="M4053 1964l15 7-11-36-14 97zM4039 1968l14-4-10 68-15-28z"/><path color="#05afe2" d="M4025 2003l14-35-11 36-14 42z"/><path color="#1195f6" d="M4011 2056l14-53-11 43-14 38z"/><path color="#01bcc8" d="M3997 1976l14 80-11 28-14-64z"/><path color="#06abe7" d="M3983 2022l14-46-11 44-14-24z"/><path color="#1195f6" d="M3968 2063l15-41-11-26-15 34z"/><path color="#01bcc8" d="M3954 1988l14 75-11-33-14 24z"/><path color="#05afe2" d="M3940 2031l14-43-11 66-14-16z"/><path color="#1888fb" d="M3926 2101l14-70-11 7-14 74z"/><path color="#01bcc8" d="M3912 2004l14 97-11 11-14 15z"/><path color="#09a6eb" d="M3897 2062l15-58-11 123-15-42z"/><path color="#1195f6" d="M3883 2093l14-31-11 23-14-8z"/><path color="#02b9cf" d="M3869 2019l14 74-11-16-14-8z"/><path color="#0e9bf2" d="M3855 2093l14-74-11 50-14 28z"/><path color="#1888fb" d="M3841 2122l14-29-11 4-14 4z"/><path color="#0ca0ee" d="M3826 2090l15 32-11-21-15-33z"/><path color="#02b9cf" d="M3812 2044l14 46-11-22-14 65z"/><path color="#03b6d5" d="M3798 2059l14-15-11 89-14-81z"/><path color="#05afe2" d="M3784 2078l14-19-11-7-14 54z"/><path color="#09a6eb" d="M3770 2100l14-22-11 28-14-37z"/><path color="#0ca0ee" d="M3755 2116l15-16-11-31-14 23z"/><path color="#01bcc8" d="M3741 2058l14 58-10-24-15 0z"/><path color="#09c7a1" d="M3727 2041l14 17-11 34-14-46z"/><path color="#55cc51" d="M3713 1973l14 68-11 5-14 16zM3699 1978l14-5-11 89-14-35z"/><path color="#62cc4a" d="M3684 1980l15-2-11 49-14-10z"/><path color="#ffb81e" d="M3670 1904l14 76-10 37-15-71z"/><path color="#ffd815" d="M3656 1873l14 31-11 42-14-16z"/></g><path d="M365.6 231.2L416.7 214.8M365.6 231.2L326.4 209.8M326.4 209.8L326.4 163.1" stroke="#6a6a6a" stroke-width="0.5"/><path d="M365.6 231.2L366.1 232.1M378.4 227.1L378.9 228M391.2 223L391.7 223.9M403.9 218.9L404.4 219.8M365.6 231.2L365 232.1M355.8 225.9L355.2 226.8M346 220.5L345.4 221.4M336.2 215.2L335.6 216.1M326.4 197.6L325.4 197.6M326.4 185.4L325.4 185.4M326.4 173.2L325.4 173.2" stroke="#6a6a6a" stroke-width="0.4"/><text transform="matrix(.90 0 0 1 368.2 237.5)" font-size="4.9" fill="#303030">-1</text><text transform="matrix(.90 0 0 1 381 233.4)" font-size="4.9" fill="#303030">-0.5</text><text transform="matrix(.90 0 0 1 393.8 229.3)" font-size="4.9" fill="#303030">0</text><text transform="matrix(.90 0 0 1 406.5 225.2)" font-size="4.9" fill="#303030">0.5</text><text transform="matrix(.90 0 0 1 362.4 237.1)" font-size="4.9" text-anchor="end" fill="#303030">-1</text><text transform="matrix(.90 0 0 1 352.6 231.8)" font-size="4.9" text-anchor="end" fill="#303030">-0.5</text><text transform="matrix(.90 0 0 1 342.8 226.4)" font-size="4.9" text-anchor="end" fill="#303030">0</text><text transform="matrix(.90 0 0 1 333 221.1)" font-size="4.9" text-anchor="end" fill="#303030">0.5</text><text transform="matrix(.90 0 0 1 323.4 199.1)" font-size="4.9" text-anchor="end" fill="#303030">1</text><text transform="matrix(.90 0 0 1 323.4 186.9)" font-size="4.9" text-anchor="end" fill="#303030">2</text><text transform="matrix(.90 0 0 1 323.4 174.7)" font-size="4.9" text-anchor="end" fill="#303030">3</text><text transform="matrix(.90 0 0 1 393.7 239.6)" font-size="5.300000000000001" text-anchor="middle" fill="#303030">x</text><text transform="matrix(.90 0 0 1 339.5 238.7)" font-size="5.300000000000001" text-anchor="middle" fill="#303030">y</text><text font-size="5.300000000000001" fill="#303030" text-anchor="middle" transform="translate(318.4 186.5) rotate(-90) scale(1 0.9)">z</text><text transform="matrix(.90 0 0 1 371 145.2)" font-size="5.4" text-anchor="middle" fill="#222" font-weight="bold">F7</text><path d="M61.6 363.7L23.3 341.8M23.3 341.8L23.3 294M86.6 355.3L48.3 333.4M48.3 333.4L48.3 285.6M111.6 346.9L73.3 325M73.3 325L73.3 277.2M61.6 363.7L23.3 341.8M23.3 341.8L23.3 294M111.6 346.9L73.3 325M73.3 325L73.3 277.2M61.6 363.7L111.6 346.9M111.6 346.9L111.6 299.1M42.5 352.8L92.4 335.9M92.4 335.9L92.4 288.1M23.3 341.8L73.3 325M73.3 325L73.3 277.2M61.6 363.7L111.6 346.9M111.6 346.9L111.6 299.1M23.3 341.8L73.3 325M73.3 325L73.3 277.2M23.3 333.1L73.3 316.3M73.3 316.3L111.6 338.1M23.3 317.9L73.3 301.1M73.3 301.1L111.6 323M23.3 302.8L73.3 285.9M73.3 285.9L111.6 307.8M23.3 341.8L73.3 325M73.3 325L111.6 346.9M23.3 294L73.3 277.2M73.3 277.2L111.6 299.1" stroke="#e2e2e2" stroke-width="0.4"/><g fill="none" stroke-width="4.5" transform="scale(.1)"><path stroke="#5b58ef" d="M740 3383l-8 1-15 1-6 0-7 0-10 0-14-1-6-1-6-1-11-2-10-3-9-3-7-3-7-3-5-4-5-5-3-4-3-5-1-5 1-7 2-6 4-6 5-5 6-4 7-4 7-3 8-3 9-2 10-2 10-2 12-1 12-1 6 0 8 1 8 0 7 1 6 0 11 2 11 3 9 2 7 3 8 4 7 4 5 4 4 4 3 5 2 5 1 5-2 7-3 6-4 6-4 3-7 5-7 4-8 3-9 3-9 2-10 2"/><path stroke="#4588fe" d="M976 3516l6-3 7-3 9-3 8-2 10-3M787 3402l-7 0-16 2-8 0-16 1-13 0-8 0-16 0-16-1-14-1-14-1-13-1-9-1-15-3-11-2-10-2-10-2-9-3-7-4-5-4-3-5-2-5-2-5-2-5 0-6 0-6 0-6 2-6 3-7 4-6 4-5 4-4 6-5 6-5 6-3 7-4 8-3 8-3 9-2 9-3 10-2 11-1 11-2 6 0 18-1 13 0 6 0 8 0 7 1 8 0 6 1 10 1 14 2 11 3 10 2 8 3 9 3 8 3 7 4 6 3 6 4 4 4 4 5 4 4 2 5 2 6 1 5 0 6-1 6-2 7-3 6-4 6-4 6-4 4-5 5-5 4-6 5-7 4-9 2-10 2M308 3461l10 4 7 3 6 4 6 4 4 4"/><path stroke="#2eb3ee" d="M912 3538l6-8 4-6 4-5 5-5 5-4 6-5 6-4 6-3 8-4 8-3 9-2 9-2 11-2 11-1 11-1 12-1 12-1 13 0 13 0 10 0M882 3335l1 8 0 7-1 6 0 6 0 6 3 5 2 5 0 5-3 7-3 5-4 5-5 5-6 5-6 4-7 3-7 3-9 3-9 2-10 2-11 1-11 2-13 0-12 0-14 0-8 0-7-1-6 0-11-2-10-3-10-1-15-1-15-1-14-1-14 0-10 1-13 1-7 0-7 0-7-1-8 0-18-3-11-2-9-2-11-3-9-3-7-3-7-3-6-4-4-4-4-5-3-5-1-5-1-6 1-11 3-6 5-5 6-4 3-6 2-4 4-7 4-6 4-5 2-4M260 3433l10 2 7 1 17 2 12 2 8 2 13 2 9 3 10 3 8 3 7 3 6 4 5 4 5 4 3 5 3 5 2 5 2 5 1 6 1 5 0 6M689 3265l16 0 14 0 15 1 16 1 13 2"/><path stroke="#26c9cb" d="M611 3634l12 1M857 3556l7-4 6-5 4-5 4-4 3-7 3-6 2-6 2-6 3-7 2-6 2-6 2-7 1-6 2-7 2-6 1-7 7-4-15-1-14-1-15 0-15-1-15-1-14-1-15-1-15-1-14-1-15 0-15-1-15-1-14-1-15-1-15-1-15 0-14-1-15-1-15-1-14-1-15-1-15-1-15 0-14-1-15-1-15-1-14-1-15-1-15-1-15 0-14-1-15-1 4 4-3 4-2 7-1 6-2 7-2 6-2 7-2 6-2 7-1 6-2 7-1 7 0 7 0 5 2 6 3 4 3 5M917 3356l4 5 3 4 2 6 0 5 0 6-1 6-1 7-2 6-2 6-1 7-2 6-2 6-2 7-2 6-2 7-3 7 4 4 15 1 14 1 15 1 15 0 15 1 14 1 15 1 15 1 14 1 15 1 15 0 15 1 14 1 15 1M233 3418l15 1 14 1 15 1 15 0 15 1 14 1 15 1 15 1 14 1 15 1 15 0 15 1 14 1 15 1 7-4 1-7 2-6 2-7 1-6 2-7 2-6 2-6 3-7 2-6 1-5 4-6 3-7 4-5 4-5 6-5 6-4M726 3252l12 1"/><path stroke="#55d47d" d="M811 3572l2-4 3-4 4-7 4-6 3-5 3-6 6-4 5-5 3-5 1-7 0-8-2-8-3-5-4-5-4-4-6-4-7-3-7-3-9-3-9-3-11-2-11-2-12-2-14-1-7-1-7 0-7 0-12 1-11 1-10 0-15-1-15-1-14-1-14-1-9-2-12-3-6 0-7-1-8 0-8 0-18 0-13 0-9 1-13 2-10 2-9 2-9 3-7 3-7 3-6 4-4 3-7 7-4 5-3 4-3 7 0 6 2 5 3 5 0 6 0 6-1 6 0 7 1 8M583 3618l16 2 14 1 14 1 16 0 14 0M960 3380l0 8 1 5 1 6 2 5 2 5 3 5 3 5 5 4 5 4 6 4 7 3 8 3 9 3 10 3 10 2 11 2 11 2 13 2 12 1 10 2M268 3406l10 0 8 0 18 0 12-1 9-1 14-1 11-1 11-2 9-2 9-2 8-3 8-4 6-3 6-4 6-5 4-3 6-6 4-5 4-6 4-5"/><path stroke="#bed045" d="M701 3603l11-2 9-2 9-3 8-3 8-3 7-4 4-2 8-6 6-4 4-5 4-4 4-7 3-6 1-6 1-7 0-6 0-6-2-5-2-5-2-5-3-5-5-4-7-4-9-3-6-1-14-3-8-2-15-2-12-2-8-1-16-1-15-1-15-1-14 0-13 0-9 0-16 0-12 1-12 1-11 1-10 2-9 2-7 4-5 4-6 5-5 5-4 4-3 4-5 7-3 6-2 7-1 7 0 6 1 5 1 5 3 6 4 4 4 5 4 4 6 4 6 3 7 4 8 3 8 3 9 3 10 2 6 2 17 2 12 2 6 1 8 0 7 1 8 0 6 0 11 0 15-1 11 0 11-2 10-1M1008 3407l4 4 6 4 6 4 7 3 8 3M331 3385l12-3 8-2 9-3 7-3 6-3"/><path stroke="#ffcb3e" d="M692 3583l10-3 8-3 5-2 9-5 6-4 5-5 4-5 2-6 1-7-1-6-3-5-3-4-5-5-5-4-7-3-7-3-9-3-8-2-13-3-6-1-6-1-10 0-14-1-7 0-6 0-12 1-11 1-10 2-9 2-9 3-8 3-7 4-6 4-5 4-4 5-3 6-2 7 1 6 2 5 3 5 4 4 5 4 7 4 7 4 8 3 9 2 10 3 12 2 6 0 7 1 8 0 8 1 6 0 12-1 12-1 10-2 9-1"/></g><g class="sf" filter="url(#bl)" transform="scale(.1)"><path color="#03b6d5" d="M728 3084l19-42-14-44-20 42z"/><path color="#06abe7" d="M709 3120l19-36-15-44-19 37z"/><path color="#1195f6" d="M690 3152l19-32-15-43-19 31z"/><path color="#1888fb" d="M670 3177l20-25-15-44-19 25z"/><path color="#2375fd" d="M651 3195l19-18-14-44-19 19z"/><path color="#286cfe" d="M632 3206l19-11-14-43-20 11zM613 3211l19-5-15-43-19 4zM594 3208l19 3-15-44-19-3z"/><path color="#1e7efc" d="M574 3198l20 10-15-44-19-9z"/><path color="#1490f9" d="M555 3183l19 15-14-43-20-16z"/><path color="#0ca0ee" d="M536 3163l19 20-15-44-19-19z"/><path color="#05afe2" d="M517 3144l19 19-15-43-19-20z"/><path color="#02b9cf" d="M498 3132l19 12-15-44-19-11z"/><path color="#00bfc2" d="M478 3121l20 11-15-43-19-12z"/><path color="#09c7a1" d="M459 3101l19 20-14-44-20-19z"/><path color="#23cb78" d="M440 3082l19 19-15-43-19-20z"/><path color="#3fcc60" d="M421 3066l19 16-15-44-19-15z"/><path color="#55cc51" d="M401 3057l20 9-15-43-19-10z"/><path color="#6fcc42" d="M382 3054l19 3-14-44-19-3z"/><path color="#8aca36" d="M363 3058l19-4-14-44-20 5z"/><path color="#6fcc42" d="M344 3070l19-12-15-43-19 11z"/><path color="#62cc4a" d="M325 3088l19-18-15-44-19 18z"/><path color="#55cc51" d="M305 3113l20-25-15-44-19 25z"/><path color="#36cc67" d="M286 3144l19-31-14-44-20 32z"/><path color="#19cb85" d="M267 3181l19-37-15-43-19 36z"/><path color="#00bfc2" d="M248 3223l19-42-15-44-19 42z"/><path color="#06abe7" d="M743 3122l19-41-15-39-19 42z"/><path color="#1195f6" d="M724 3159l19-37-15-38-19 36z"/><path color="#2375fd" d="M704 3190l20-31-15-39-19 32z"/><path color="#2d63fe" d="M685 3215l19-25-14-38-20 25z"/><path color="#3452f9" d="M666 3234l19-19-15-38-19 18z"/><path color="#384af6" d="M647 3245l19-11-15-39-19 11zM628 3249l19-4-15-39-19 5z"/><path color="#3452f9" d="M608 3246l20 3-15-38-19-3z"/><path color="#315bfc" d="M589 3237l19 9-14-38-20-10z"/><path color="#286cfe" d="M570 3221l19 16-15-39-19-15z"/><path color="#1888fb" d="M551 3202l19 19-15-38-19-20z"/><path color="#0e9bf2" d="M532 3182l19 20-15-39-19-19z"/><path color="#06abe7" d="M512 3171l20 11-15-38-19-12z"/><path color="#04b2db" d="M493 3160l19 11-14-39-20-11z"/><path color="#02b9cf" d="M474 3140l19 20-15-39-19-20z"/><path color="#09c7a1" d="M455 3121l19 19-15-39-19-19z"/><path color="#19cb85" d="M435 3105l20 16-15-39-19-16z"/><path color="#36cc67" d="M416 3096l19 9-14-39-20-9z"/><path color="#3fcc60" d="M397 3093l19 3-15-39-19-3z"/><path color="#48cc59" d="M378 3097l19-4-15-39-19 4zM359 3108l19-11-15-39-19 12z"/><path color="#3fcc60" d="M339 3127l20-19-15-38-19 18z"/><path color="#2ccc6d" d="M320 3152l19-25-14-39-20 25z"/><path color="#0fca91" d="M301 3183l19-31-15-39-19 31z"/><path color="#00bfc2" d="M282 3220l19-37-15-39-19 37z"/><path color="#04b2db" d="M262 3261l20-41-15-39-19 42z"/><path color="#1195f6" d="M758 3155l19-41-15-33-19 41z"/><path color="#2375fd" d="M738 3192l20-37-15-33-19 37z"/><path color="#315bfc" d="M719 3223l19-31-14-33-20 31z"/><path color="#384af6" d="M700 3248l19-25-15-33-19 25z"/><path color="#3d3dee" d="M681 3267l19-19-15-33-19 19z"/><path color="#3f37e8" d="M662 3278l19-11-15-33-19 11zM642 3283l20-5-15-33-19 4zM623 3280l19 3-14-34-20-3z"/><path color="#3b43f3" d="M604 3270l19 10-15-34-19-9z"/><path color="#3452f9" d="M585 3255l19 15-15-33-19-16z"/><path color="#286cfe" d="M565 3235l20 20-15-34-19-19z"/><path color="#1888fb" d="M546 3216l19 19-14-33-19-20z"/><path color="#0e9bf2" d="M527 3204l19 12-14-34-20-11z"/><path color="#09a6eb" d="M508 3193l19 11-15-33-19-11z"/><path color="#05afe2" d="M489 3173l19 20-15-33-19-20z"/><path color="#02b9cf" d="M469 3154l20 19-15-33-19-19z"/><path color="#05c3b1" d="M450 3138l19 16-14-33-20-16z"/><path color="#0fca91" d="M431 3129l19 9-15-33-19-9z"/><path color="#23cb78" d="M412 3126l19 3-15-33-19-3zM393 3130l19-4-15-33-19 4zM373 3141l20-11-15-33-19 11z"/><path color="#19cb85" d="M354 3160l19-19-14-33-20 19z"/><path color="#0fca91" d="M335 3185l19-25-15-33-19 25z"/><path color="#00bfc2" d="M316 3216l19-31-15-33-19 31z"/><path color="#03b6d5" d="M296 3253l20-37-15-33-19 37z"/><path color="#09a6eb" d="M277 3294l19-41-14-33-20 41z"/><path color="#1888fb" d="M772 3183l20-42-15-27-19 41z"/><path color="#2d63fe" d="M753 3219l19-36-14-28-20 37z"/><path color="#384af6" d="M734 3250l19-31-15-27-19 31z"/><path color="#3f37e8" d="M715 3276l19-26-15-27-19 25z"/><path color="#432cdd" d="M696 3294l19-18-15-28-19 19z"/><path color="#4327d5" d="M676 3305l20-11-15-27-19 11zM657 3310l19-5-14-27-20 5z"/><path color="#432cdd" d="M638 3307l19 3-15-27-19-3z"/><path color="#4131e3" d="M619 3297l19 10-15-27-19-10z"/><path color="#3b43f3" d="M599 3282l20 15-15-27-19-15z"/><path color="#3452f9" d="M580 3262l19 20-14-27-20-20z"/><path color="#286cfe" d="M561 3243l19 19-15-27-19-19z"/><path color="#1888fb" d="M542 3231l19 12-15-27-19-12z"/><path color="#1195f6" d="M523 3220l19 11-15-27-19-11z"/><path color="#09a6eb" d="M503 3200l20 20-15-27-19-20z"/><path color="#04b2db" d="M484 3181l19 19-14-27-20-19z"/><path color="#01bcc8" d="M465 3165l19 16-15-27-19-16z"/><path color="#05c3b1" d="M446 3156l19 9-15-27-19-9z"/><path color="#09c7a1" d="M426 3153l20 3-15-27-19-3z"/><path color="#0fca91" d="M407 3157l19-4-14-27-19 4zM388 3168l19-11-14-27-20 11z"/><path color="#09c7a1" d="M369 3187l19-19-15-27-19 19z"/><path color="#00bfc2" d="M350 3212l19-25-15-27-19 25z"/><path color="#03b6d5" d="M330 3243l20-31-15-27-19 31z"/><path color="#06abe7" d="M311 3280l19-37-14-27-20 37z"/><path color="#1195f6" d="M292 3321l19-41-15-27-19 41z"/><path color="#2375fd" d="M787 3203l19-42-14-20-20 42z"/><path color="#3452f9" d="M768 3240l19-37-15-20-19 36z"/><path color="#3d3dee" d="M749 3271l19-31-15-21-19 31z"/><path color="#432cdd" d="M729 3296l20-25-15-21-19 26z"/><path color="#4327d5" d="M710 3314l19-18-14-20-19 18z"/><path color="#4423ce" d="M691 3326l19-12-14-20-20 11z"/><path color="#441ec7" d="M672 3330l19-4-15-21-19 5z"/><path color="#4423ce" d="M653 3327l19 3-15-20-19-3z"/><path color="#432cdd" d="M633 3317l20 10-15-20-19-10z"/><path color="#3f37e8" d="M614 3302l19 15-14-20-20-15z"/><path color="#384af6" d="M595 3283l19 19-15-20-19-20z"/><path color="#2d63fe" d="M576 3263l19 20-15-21-19-19z"/><path color="#2375fd" d="M557 3252l19 11-15-20-19-12z"/><path color="#1888fb" d="M537 3240l20 12-15-21-19-11z"/><path color="#0e9bf2" d="M518 3220l19 20-14-20-20-20z"/><path color="#06abe7" d="M499 3201l19 19-15-20-19-19z"/><path color="#03b6d5" d="M480 3186l19 15-15-20-19-16z"/><path color="#01bcc8" d="M460 3176l20 10-15-21-19-9z"/><path color="#00bfc2" d="M441 3173l19 3-14-20-20-3z"/><path color="#05c3b1" d="M422 3177l19-4-15-20-19 4zM403 3189l19-12-15-20-19 11z"/><path color="#00bfc2" d="M384 3207l19-18-15-21-19 19z"/><path color="#02b9cf" d="M364 3232l20-25-15-20-19 25z"/><path color="#04b2db" d="M345 3264l19-32-14-20-20 31z"/><path color="#0ca0ee" d="M326 3300l19-36-15-21-19 37z"/><path color="#1490f9" d="M307 3342l19-42-15-20-19 41z"/><path color="#286cfe" d="M802 3216l19-41-15-14-19 42z"/><path color="#384af6" d="M783 3253l19-37-15-13-19 37z"/><path color="#3f37e8" d="M763 3284l20-31-15-13-19 31z"/><path color="#4327d5" d="M744 3309l19-25-14-13-20 25z"/><path color="#4423ce" d="M725 3328l19-19-15-13-19 18z"/><path color="#441ec7" d="M706 3339l19-11-15-14-19 12z"/><path color="#451abf" d="M687 3343l19-4-15-13-19 4z"/><path color="#441ec7" d="M667 3340l20 3-15-13-19-3z"/><path color="#4327d5" d="M648 3331l19 9-14-13-20-10z"/><path color="#4131e3" d="M629 3315l19 16-15-14-19-15z"/><path color="#3b43f3" d="M610 3296l19 19-15-13-19-19z"/><path color="#315bfc" d="M590 3276l20 20-15-13-19-20z"/><path color="#286cfe" d="M571 3265l19 11-14-13-19-11z"/><path color="#1e7efc" d="M552 3254l19 11-14-13-20-12z"/><path color="#1195f6" d="M533 3234l19 20-15-14-19-20z"/><path color="#09a6eb" d="M514 3215l19 19-15-14-19-19z"/><path color="#04b2db" d="M494 3199l20 16-15-14-19-15z"/><path color="#02b9cf" d="M475 3190l19 9-14-13-20-10z"/><path color="#01bcc8" d="M456 3187l19 3-15-14-19-3z"/><path color="#00bfc2" d="M437 3191l19-4-15-14-19 4zM418 3202l19-11-15-14-19 12z"/><path color="#01bcc8" d="M398 3221l20-19-15-13-19 18z"/><path color="#03b6d5" d="M379 3246l19-25-14-14-20 25z"/><path color="#05afe2" d="M360 3277l19-31-15-14-19 32z"/><path color="#0e9bf2" d="M341 3314l19-37-15-13-19 36z"/><path color="#1888fb" d="M321 3355l20-41-15-14-19 42z"/><path color="#286cfe" d="M817 3222l19-41-15-6-19 41z"/><path color="#384af6" d="M797 3259l20-37-15-6-19 37z"/><path color="#3f37e8" d="M778 3290l19-31-14-6-20 31z"/><path color="#4327d5" d="M759 3315l19-25-15-6-19 25z"/><path color="#441ec7" d="M740 3334l19-19-15-6-19 19z"/><path color="#451abf" d="M721 3345l19-11-15-6-19 11zM701 3350l20-5-15-6-19 4z"/><path color="#441ec7" d="M682 3347l19 3-14-7-20-3z"/><path color="#4423ce" d="M663 3337l19 10-15-7-19-9z"/><path color="#4131e3" d="M644 3322l19 15-15-6-19-16z"/><path color="#3d3dee" d="M624 3302l20 20-15-7-19-19z"/><path color="#315bfc" d="M605 3283l19 19-14-6-20-20z"/><path color="#286cfe" d="M586 3271l19 12-15-7-19-11z"/><path color="#1e7efc" d="M567 3260l19 11-15-6-19-11z"/><path color="#1195f6" d="M548 3240l19 20-15-6-19-20z"/><path color="#09a6eb" d="M528 3221l20 19-15-6-19-19z"/><path color="#04b2db" d="M509 3205l19 16-14-6-20-16z"/><path color="#02b9cf" d="M490 3196l19 9-15-6-19-9z"/><path color="#01bcc8" d="M471 3193l19 3-15-6-19-3z"/><path color="#00bfc2" d="M452 3197l19-4-15-6-19 4zM432 3208l20-11-15-6-19 11z"/><path color="#01bcc8" d="M413 3227l19-19-14-6-20 19z"/><path color="#03b6d5" d="M394 3252l19-25-15-6-19 25z"/><path color="#05afe2" d="M375 3283l19-31-15-6-19 31z"/><path color="#0e9bf2" d="M355 3320l20-37-15-6-19 37z"/><path color="#1e7efc" d="M336 3361l19-41-14-6-20 41z"/><path color="#286cfe" d="M831 3221l20-41-15 1-19 41z"/><path color="#3452f9" d="M812 3258l19-37-14 1-20 37z"/><path color="#3f37e8" d="M793 3289l19-31-15 1-19 31z"/><path color="#432cdd" d="M774 3315l19-26-15 1-19 25z"/><path color="#4423ce" d="M754 3333l20-18-15 0-19 19z"/><path color="#441ec7" d="M735 3344l19-11-14 1-19 11zM716 3349l19-5-14 1-20 5z"/><path color="#4423ce" d="M697 3346l19 3-15 1-19-3z"/><path color="#4327d5" d="M678 3336l19 10-15 1-19-10z"/><path color="#4131e3" d="M658 3321l20 15-15 1-19-15z"/><path color="#3b43f3" d="M639 3301l19 20-14 1-20-20z"/><path color="#315bfc" d="M620 3282l19 19-15 1-19-19z"/><path color="#2375fd" d="M601 3270l19 12-15 1-19-12z"/><path color="#1888fb" d="M582 3259l19 11-15 1-19-11z"/><path color="#1195f6" d="M562 3239l20 20-15 1-19-20z"/><path color="#09a6eb" d="M543 3220l19 19-14 1-20-19z"/><path color="#04b2db" d="M524 3204l19 16-15 1-19-16z"/><path color="#01bcc8" d="M505 3195l19 9-15 1-19-9z"/><path color="#00bfc2" d="M485 3192l20 3-15 1-19-3z"/><path color="#05c3b1" d="M466 3196l19-4-14 1-19 4zM447 3207l19-11-14 1-20 11z"/><path color="#00bfc2" d="M428 3226l19-19-15 1-19 19z"/><path color="#02b9cf" d="M409 3251l19-25-15 1-19 25z"/><path color="#05afe2" d="M389 3282l20-31-15 1-19 31z"/><path color="#0ca0ee" d="M370 3319l19-37-14 1-20 37z"/><path color="#1888fb" d="M351 3360l19-41-15 1-19 41z"/><path color="#1e7efc" d="M846 3214l19-42-14 8-20 41z"/><path color="#315bfc" d="M827 3251l19-37-15 7-19 37z"/><path color="#3b43f3" d="M808 3282l19-31-15 7-19 31z"/><path color="#4131e3" d="M788 3307l20-25-15 7-19 26z"/><path color="#432cdd" d="M769 3325l19-18-14 8-20 18z"/><path color="#4327d5" d="M750 3337l19-12-15 8-19 11z"/><path color="#4423ce" d="M731 3341l19-4-15 7-19 5z"/><path color="#4327d5" d="M712 3338l19 3-15 8-19-3z"/><path color="#4131e3" d="M692 3328l20 10-15 8-19-10z"/><path color="#3d3dee" d="M673 3313l19 15-14 8-20-15z"/><path color="#3452f9" d="M654 3294l19 19-15 8-19-20z"/><path color="#286cfe" d="M635 3274l19 20-15 7-19-19z"/><path color="#1e7efc" d="M616 3262l19 12-15 8-19-12z"/><path color="#1490f9" d="M596 3251l20 11-15 8-19-11z"/><path color="#0ca0ee" d="M577 3231l19 20-14 8-20-20z"/><path color="#05afe2" d="M558 3212l19 19-15 8-19-19z"/><path color="#02b9cf" d="M539 3197l19 15-15 8-19-16z"/><path color="#00bfc2" d="M519 3187l20 10-15 7-19-9z"/><path color="#05c3b1" d="M500 3184l19 3-14 8-20-3z"/><path color="#09c7a1" d="M481 3188l19-4-15 8-19 4zM462 3200l19-12-15 8-19 11z"/><path color="#05c3b1" d="M443 3218l19-18-15 7-19 19z"/><path color="#01bcc8" d="M423 3243l20-25-15 8-19 25z"/><path color="#03b6d5" d="M404 3274l19-31-14 8-20 31z"/><path color="#09a6eb" d="M385 3311l19-37-15 8-19 37z"/><path color="#1195f6" d="M366 3353l19-42-15 8-19 41z"/><path color="#1490f9" d="M861 3200l19-41-15 13-19 42z"/><path color="#286cfe" d="M842 3237l19-37-15 14-19 37z"/><path color="#3452f9" d="M822 3268l20-31-15 14-19 31z"/><path color="#3b43f3" d="M803 3293l19-25-14 14-20 25z"/><path color="#3f37e8" d="M784 3312l19-19-15 14-19 18z"/><path color="#4131e3" d="M765 3323l19-11-15 13-19 12zM746 3327l19-4-15 14-19 4zM726 3325l20 2-15 14-19-3z"/><path color="#3d3dee" d="M707 3315l19 10-14 13-20-10z"/><path color="#384af6" d="M688 3300l19 15-15 13-19-15z"/><path color="#2d63fe" d="M669 3280l19 20-15 13-19-19z"/><path color="#1e7efc" d="M649 3261l20 19-15 14-19-20z"/><path color="#1490f9" d="M630 3249l19 12-14 13-19-12z"/><path color="#0ca0ee" d="M611 3238l19 11-14 13-20-11z"/><path color="#06abe7" d="M592 3218l19 20-15 13-19-20z"/><path color="#03b6d5" d="M573 3199l19 19-15 13-19-19z"/><path color="#00bfc2" d="M553 3183l20 16-15 13-19-15z"/><path color="#09c7a1" d="M534 3174l19 9-14 14-20-10z"/><path color="#19cb85" d="M515 3171l19 3-15 13-19-3zM496 3175l19-4-15 13-19 4zM477 3186l19-11-15 13-19 12z"/><path color="#0fca91" d="M457 3205l20-19-15 14-19 18z"/><path color="#05c3b1" d="M438 3230l19-25-14 13-20 25z"/><path color="#01bcc8" d="M419 3261l19-31-15 13-19 31z"/><path color="#04b2db" d="M400 3298l19-37-15 13-19 37z"/><path color="#0ca0ee" d="M380 3339l20-41-15 13-19 42zM876 3183l19-42-15 18-19 41z"/><path color="#1888fb" d="M856 3220l20-37-15 17-19 37z"/><path color="#286cfe" d="M837 3251l19-31-14 17-20 31z"/><path color="#3452f9" d="M818 3276l19-25-15 17-19 25z"/><path color="#384af6" d="M799 3295l19-19-15 17-19 19z"/><path color="#3b43f3" d="M780 3306l19-11-15 17-19 11z"/><path color="#3d3dee" d="M760 3310l20-4-15 17-19 4z"/><path color="#3b43f3" d="M741 3307l19 3-14 17-20-2z"/><path color="#3452f9" d="M722 3298l19 9-15 18-19-10z"/><path color="#2d63fe" d="M703 3282l19 16-15 17-19-15z"/><path color="#1e7efc" d="M683 3263l20 19-15 18-19-20z"/><path color="#1195f6" d="M664 3243l19 20-14 17-20-19z"/><path color="#0ca0ee" d="M645 3232l19 11-15 18-19-12z"/><path color="#06abe7" d="M626 3220l19 12-15 17-19-11z"/><path color="#03b6d5" d="M607 3201l19 19-15 18-19-20z"/><path color="#00bfc2" d="M587 3181l20 20-15 17-19-19z"/><path color="#0fca91" d="M568 3166l19 15-14 18-20-16z"/><path color="#23cb78" d="M549 3156l19 10-15 17-19-9z"/><path color="#36cc67" d="M530 3153l19 3-15 18-19-3zM510 3158l20-5-15 18-19 4zM491 3169l19-11-14 17-19 11z"/><path color="#2ccc6d" d="M472 3187l19-18-14 17-20 19z"/><path color="#19cb85" d="M453 3212l19-25-15 18-19 25z"/><path color="#09c7a1" d="M434 3244l19-32-15 18-19 31z"/><path color="#02b9cf" d="M414 3280l20-36-15 17-19 37z"/><path color="#05afe2" d="M395 3322l19-42-14 18-20 41zM890 3165l20-41-15 17-19 42z"/><path color="#0e9bf2" d="M871 3202l19-37-14 18-20 37z"/><path color="#1888fb" d="M852 3233l19-31-15 18-19 31z"/><path color="#286cfe" d="M833 3258l19-25-15 18-19 25z"/><path color="#2d63fe" d="M813 3277l20-19-15 18-19 19z"/><path color="#315bfc" d="M794 3288l19-11-14 18-19 11zM775 3292l19-4-14 18-20 4zM756 3289l19 3-15 18-19-3z"/><path color="#286cfe" d="M737 3280l19 9-15 18-19-9z"/><path color="#1e7efc" d="M717 3264l20 16-15 18-19-16z"/><path color="#1195f6" d="M698 3245l19 19-14 18-20-19z"/><path color="#09a6eb" d="M679 3225l19 20-15 18-19-20z"/><path color="#05afe2" d="M660 3214l19 11-15 18-19-11z"/><path color="#03b6d5" d="M641 3203l19 11-15 18-19-12z"/><path color="#00bfc2" d="M621 3183l20 20-15 17-19-19z"/><path color="#0fca91" d="M602 3164l19 19-14 18-20-20z"/><path color="#2ccc6d" d="M583 3148l19 16-15 17-19-15z"/><path color="#3fcc60" d="M564 3139l19 9-15 18-19-10z"/><path color="#55cc51" d="M544 3136l20 3-15 17-19-3zM525 3140l19-4-14 17-20 5zM506 3151l19-11-15 18-19 11z"/><path color="#48cc59" d="M487 3170l19-19-15 18-19 18z"/><path color="#36cc67" d="M468 3195l19-25-15 17-19 25z"/><path color="#23cb78" d="M448 3226l20-31-15 17-19 32z"/><path color="#09c7a1" d="M429 3263l19-37-14 18-20 36z"/><path color="#02b9cf" d="M410 3304l19-41-15 17-19 42zM905 3156l19-42-14 10-20 41z"/><path color="#06abe7" d="M886 3193l19-37-15 9-19 37z"/><path color="#0e9bf2" d="M867 3224l19-31-15 9-19 31z"/><path color="#1888fb" d="M847 3249l20-25-15 9-19 25z"/><path color="#2375fd" d="M828 3267l19-18-14 9-20 19z"/><path color="#286cfe" d="M809 3279l19-12-15 10-19 11zM790 3283l19-4-15 9-19 4z"/><path color="#2375fd" d="M771 3280l19 3-15 9-19-3z"/><path color="#1e7efc" d="M751 3270l20 10-15 9-19-9z"/><path color="#1490f9" d="M732 3255l19 15-14 10-20-16z"/><path color="#0ca0ee" d="M713 3236l19 19-15 9-19-19z"/><path color="#05afe2" d="M694 3216l19 20-15 9-19-20z"/><path color="#02b9cf" d="M674 3204l20 12-15 9-19-11z"/><path color="#00bfc2" d="M655 3193l19 11-14 10-19-11z"/><path color="#0fca91" d="M636 3173l19 20-14 10-20-20z"/><path color="#2ccc6d" d="M617 3154l19 19-15 10-19-19z"/><path color="#3fcc60" d="M598 3139l19 15-15 10-19-16z"/><path color="#62cc4a" d="M578 3129l20 10-15 9-19-9z"/><path color="#6fcc42" d="M559 3126l19 3-14 10-20-3z"/><path color="#8aca36" d="M540 3130l19-4-15 10-19 4zM521 3142l19-12-15 10-19 11z"/><path color="#6fcc42" d="M502 3160l19-18-15 9-19 19z"/><path color="#55cc51" d="M482 3185l20-25-15 10-19 25z"/><path color="#36cc67" d="M463 3216l19-31-14 10-20 31z"/><path color="#19cb85" d="M444 3253l19-37-15 10-19 37z"/><path color="#00bfc2" d="M425 3295l19-42-15 10-19 41zM920 3146l19-41-15 9-19 42z"/><path color="#04b2db" d="M901 3183l19-37-15 10-19 37z"/><path color="#09a6eb" d="M881 3214l20-31-15 10-19 31z"/><path color="#1195f6" d="M862 3239l19-25-14 10-20 25z"/><path color="#1888fb" d="M843 3258l19-19-15 10-19 18z"/><path color="#1e7efc" d="M824 3269l19-11-15 9-19 12zM805 3273l19-4-15 10-19 4z"/><path color="#1888fb" d="M785 3270l20 3-15 10-19-3z"/><path color="#1490f9" d="M766 3261l19 9-14 10-20-10z"/><path color="#0ca0ee" d="M747 3245l19 16-15 9-19-15z"/><path color="#06abe7" d="M728 3226l19 19-15 10-19-19z"/><path color="#03b6d5" d="M708 3206l20 20-15 10-19-20z"/><path color="#00bfc2" d="M689 3195l19 11-14 10-20-12z"/><path color="#09c7a1" d="M670 3184l19 11-15 9-19-11z"/><path color="#23cb78" d="M651 3164l19 20-15 9-19-20z"/><path color="#3fcc60" d="M632 3145l19 19-15 9-19-19z"/><path color="#62cc4a" d="M612 3129l20 16-15 9-19-15z"/><path color="#8aca36" d="M593 3120l19 9-14 10-20-10z"/><path color="#acc827" d="M574 3117l19 3-15 9-19-3z"/><path color="#cac41e" d="M555 3121l19-4-15 9-19 4zM536 3132l19-11-15 9-19 12z"/><path color="#acc827" d="M516 3151l20-19-15 10-19 18z"/><path color="#6fcc42" d="M497 3176l19-25-14 9-20 25z"/><path color="#48cc59" d="M478 3207l19-31-15 9-19 31z"/><path color="#2ccc6d" d="M459 3244l19-37-15 9-19 37z"/><path color="#09c7a1" d="M439 3285l20-41-15 9-19 42zM935 3129l19-42-15 18-19 41z"/><path color="#02b9cf" d="M915 3165l20-36-15 17-19 37z"/><path color="#05afe2" d="M896 3197l19-32-14 18-20 31z"/><path color="#09a6eb" d="M877 3222l19-25-15 17-19 25z"/><path color="#0e9bf2" d="M858 3240l19-18-15 17-19 19z"/><path color="#1195f6" d="M839 3251l19-11-15 18-19 11zM819 3256l20-5-15 18-19 4zM800 3253l19 3-14 17-20-3z"/><path color="#0ca0ee" d="M781 3243l19 10-15 17-19-9z"/><path color="#06abe7" d="M762 3228l19 15-15 18-19-16z"/><path color="#03b6d5" d="M742 3208l20 20-15 17-19-19z"/><path color="#00bfc2" d="M723 3189l19 19-14 18-20-20z"/><path color="#0fca91" d="M704 3177l19 12-15 17-19-11z"/><path color="#23cb78" d="M685 3166l19 11-15 18-19-11z"/><path color="#36cc67" d="M666 3146l19 20-15 18-19-20z"/><path color="#55cc51" d="M646 3127l20 19-15 18-19-19z"/><path color="#8aca36" d="M627 3111l19 16-14 18-20-16z"/><path color="#cac41e" d="M608 3102l19 9-15 18-19-9z"/><path color="#f8ba1a" d="M589 3099l19 3-15 18-19-3zM569 3103l20-4-15 18-19 4zM550 3114l19-11-14 18-19 11z"/><path color="#e3bf1b" d="M531 3133l19-19-14 18-20 19z"/><path color="#cac41e" d="M512 3158l19-25-15 18-19 25z"/><path color="#6fcc42" d="M493 3189l19-31-15 18-19 31z"/><path color="#48cc59" d="M473 3226l20-37-15 18-19 37z"/><path color="#23cb78" d="M454 3268l19-42-14 18-20 41zM949 3111l20-41-15 17-19 42z"/><path color="#09c7a1" d="M930 3148l19-37-14 18-20 36z"/><path color="#02b9cf" d="M911 3179l19-31-15 17-19 32z"/><path color="#04b2db" d="M892 3204l19-25-15 18-19 25z"/><path color="#06abe7" d="M872 3223l20-19-15 18-19 18z"/><path color="#09a6eb" d="M853 3234l19-11-14 17-19 11zM834 3238l19-4-14 17-20 5zM815 3235l19 3-15 18-19-3z"/><path color="#05afe2" d="M796 3226l19 9-15 18-19-10z"/><path color="#03b6d5" d="M776 3210l20 16-15 17-19-15z"/><path color="#00bfc2" d="M757 3191l19 19-14 18-20-20z"/><path color="#0fca91" d="M738 3171l19 20-15 17-19-19z"/><path color="#2ccc6d" d="M719 3160l19 11-15 18-19-12z"/><path color="#3fcc60" d="M700 3148l19 12-15 17-19-11z"/><path color="#55cc51" d="M680 3129l20 19-15 18-19-20z"/><path color="#8aca36" d="M661 3109l19 20-14 17-20-19z"/><path color="#e3bf1b" d="M642 3094l19 15-15 18-19-16z"/><path color="#fab91b" d="M623 3084l19 10-15 17-19-9z"/><path color="#ffb81e" d="M603 3082l20 2-15 18-19-3z"/><path color="#ffbf1c" d="M584 3086l19-4-14 17-20 4z"/><path color="#ffb81e" d="M565 3097l19-11-15 17-19 11z"/><path color="#fcb81d" d="M546 3116l19-19-15 17-19 19z"/><path color="#fab91b" d="M527 3141l19-25-15 17-19 25z"/><path color="#cac41e" d="M507 3172l20-31-15 17-19 31z"/><path color="#6fcc42" d="M488 3209l19-37-14 17-20 37z"/><path color="#3fcc60" d="M469 3250l19-41-15 17-19 42zM964 3098l19-42-14 14-20 41z"/><path color="#19cb85" d="M945 3135l19-37-15 13-19 37z"/><path color="#05c3b1" d="M926 3166l19-31-15 13-19 31z"/><path color="#01bcc8" d="M906 3191l20-25-15 13-19 25z"/><path color="#03b6d5" d="M887 3209l19-18-14 13-20 19z"/><path color="#04b2db" d="M868 3221l19-12-15 14-19 11zM849 3225l19-4-15 13-19 4zM830 3222l19 3-15 13-19-3z"/><path color="#02b9cf" d="M810 3212l20 10-15 13-19-9z"/><path color="#00bfc2" d="M791 3197l19 15-14 14-20-16z"/><path color="#0fca91" d="M772 3178l19 19-15 13-19-19z"/><path color="#2ccc6d" d="M753 3158l19 20-15 13-19-20z"/><path color="#3fcc60" d="M733 3147l20 11-15 13-19-11z"/><path color="#62cc4a" d="M714 3135l19 12-14 13-19-12z"/><path color="#8aca36" d="M695 3115l19 20-14 13-20-19z"/><path color="#e3bf1b" d="M676 3096l19 19-15 14-19-20z"/><path color="#fcb81d" d="M657 3081l19 15-15 13-19-15z"/><path color="#ffbf1c" d="M637 3071l20 10-15 13-19-10z"/><path color="#ffd017" d="M618 3068l19 3-14 13-20-2zM599 3072l19-4-15 14-19 4zM580 3084l19-12-15 14-19 11z"/><path color="#ffc71a" d="M561 3102l19-18-15 13-19 19z"/><path color="#ffb81e" d="M541 3127l20-25-15 14-19 25z"/><path color="#fab91b" d="M522 3158l19-31-14 14-20 31z"/><path color="#cac41e" d="M503 3195l19-37-15 14-19 37z"/><path color="#62cc4a" d="M484 3237l19-42-15 14-19 41z"/><path color="#55cc51" d="M979 3090l19-41-15 7-19 42z"/><path color="#36cc67" d="M960 3127l19-37-15 8-19 37z"/><path color="#0fca91" d="M940 3158l20-31-15 8-19 31z"/><path color="#05c3b1" d="M921 3183l19-25-14 8-20 25z"/><path color="#01bcc8" d="M902 3202l19-19-15 8-19 18z"/><path color="#02b9cf" d="M883 3213l19-11-15 7-19 12zM864 3217l19-4-15 8-19 4z"/><path color="#01bcc8" d="M844 3214l20 3-15 8-19-3z"/><path color="#00bfc2" d="M825 3205l19 9-14 8-20-10z"/><path color="#09c7a1" d="M806 3189l19 16-15 7-19-15z"/><path color="#23cb78" d="M787 3170l19 19-15 8-19-19z"/><path color="#3fcc60" d="M767 3150l20 20-15 8-19-20z"/><path color="#62cc4a" d="M748 3139l19 11-14 8-20-11z"/><path color="#8aca36" d="M729 3127l19 12-15 8-19-12z"/><path color="#cac41e" d="M710 3108l19 19-15 8-19-20z"/><path color="#fab91b" d="M691 3088l19 20-15 7-19-19z"/><path color="#ffbf1c" d="M671 3073l20 15-15 8-19-15z"/><path color="#ffd017" d="M652 3063l19 10-14 8-20-10z"/><path color="#ffe010" d="M633 3060l19 3-15 8-19-3z"/><path color="#ffe80a" d="M614 3065l19-5-15 8-19 4z"/><path color="#ffe010" d="M595 3076l19-11-15 7-19 12z"/><path color="#ffd815" d="M575 3094l20-18-15 8-19 18z"/><path color="#ffd017" d="M556 3120l19-26-14 8-20 25z"/><path color="#ffb81e" d="M537 3151l19-31-15 7-19 31z"/><path color="#f8ba1a" d="M518 3188l19-37-15 7-19 37z"/><path color="#8aca36" d="M498 3229l20-41-15 7-19 42z"/><path color="#6fcc42" d="M994 3089l19-41-15 1-19 41z"/><path color="#3fcc60" d="M974 3126l20-37-15 1-19 37z"/><path color="#23cb78" d="M955 3157l19-31-14 1-20 31z"/><path color="#09c7a1" d="M936 3182l19-25-15 1-19 25z"/><path color="#00bfc2" d="M917 3201l19-19-15 1-19 19z"/><path color="#01bcc8" d="M897 3212l20-11-15 1-19 11zM878 3216l19-4-14 1-19 4z"/><path color="#00bfc2" d="M859 3213l19 3-14 1-20-3z"/><path color="#05c3b1" d="M840 3204l19 9-15 1-19-9z"/><path color="#19cb85" d="M821 3188l19 16-15 1-19-16z"/><path color="#36cc67" d="M801 3169l20 19-15 1-19-19z"/><path color="#55cc51" d="M782 3149l19 20-14 1-20-20z"/><path color="#6fcc42" d="M763 3138l19 11-15 1-19-11z"/><path color="#acc827" d="M744 3126l19 12-15 1-19-12z"/><path color="#f8ba1a" d="M725 3107l19 19-15 1-19-19z"/><path color="#ffb81e" d="M705 3087l20 20-15 1-19-20z"/><path color="#ffd017" d="M686 3072l19 15-14 1-20-15z"/><path color="#ffe010" d="M667 3062l19 10-15 1-19-10z"/><path color="#ffe80a" d="M648 3059l19 3-15 1-19-3z"/><path color="#fff005" d="M628 3064l20-5-15 1-19 5zM609 3075l19-11-14 1-19 11z"/><path color="#ffe80a" d="M590 3094l19-19-14 1-20 18z"/><path color="#ffd815" d="M571 3119l19-25-15 0-19 26z"/><path color="#ffc71a" d="M552 3150l19-31-15 1-19 31z"/><path color="#fab91b" d="M532 3187l20-37-15 1-19 37z"/><path color="#cac41e" d="M513 3228l19-41-14 1-20 41z"/><path color="#8aca36" d="M1008 3095l20-41-15-6-19 41z"/><path color="#48cc59" d="M989 3132l19-37-14-6-20 37z"/><path color="#23cb78" d="M970 3163l19-31-15-6-19 31z"/><path color="#0fca91" d="M951 3188l19-25-15-6-19 25z"/><path color="#05c3b1" d="M931 3207l20-19-15-6-19 19z"/><path color="#00bfc2" d="M912 3218l19-11-14-6-20 11zM893 3222l19-4-15-6-19 4z"/><path color="#05c3b1" d="M874 3219l19 3-15-6-19-3z"/><path color="#09c7a1" d="M855 3210l19 9-15-6-19-9z"/><path color="#19cb85" d="M835 3194l20 16-15-6-19-16z"/><path color="#36cc67" d="M816 3175l19 19-14-6-20-19z"/><path color="#55cc51" d="M797 3155l19 20-15-6-19-20z"/><path color="#8aca36" d="M778 3144l19 11-15-6-19-11z"/><path color="#cac41e" d="M759 3133l19 11-15-6-19-12z"/><path color="#f8ba1a" d="M739 3113l20 20-15-7-19-19z"/><path color="#ffbf1c" d="M720 3094l19 19-14-6-20-20z"/><path color="#ffd017" d="M701 3078l19 16-15-7-19-15z"/><path color="#ffe80a" d="M682 3069l19 9-15-6-19-10z"/><path color="#fff005" d="M662 3066l20 3-15-7-19-3z"/><path color="#fff700" d="M643 3070l19-4-14-7-20 5zM624 3081l19-11-15-6-19 11z"/><path color="#fff005" d="M605 3100l19-19-15-6-19 19z"/><path color="#ffe010" d="M586 3125l19-25-15-6-19 25z"/><path color="#ffc71a" d="M566 3156l20-31-15-6-19 31z"/><path color="#fcb81d" d="M547 3193l19-37-14-6-20 37z"/><path color="#cac41e" d="M528 3234l19-41-15-6-19 41z"/><path color="#6fcc42" d="M1023 3109l19-42-14-13-20 41z"/><path color="#48cc59" d="M1004 3145l19-36-15-14-19 37z"/><path color="#23cb78" d="M985 3177l19-32-15-13-19 31z"/><path color="#0fca91" d="M965 3202l20-25-15-14-19 25z"/><path color="#05c3b1" d="M946 3220l19-18-14-14-20 19z"/><path color="#00bfc2" d="M927 3232l19-12-15-13-19 11zM908 3236l19-4-15-14-19 4z"/><path color="#05c3b1" d="M889 3233l19 3-15-14-19-3z"/><path color="#09c7a1" d="M869 3223l20 10-15-14-19-9z"/><path color="#19cb85" d="M850 3208l19 15-14-13-20-16z"/><path color="#36cc67" d="M831 3189l19 19-15-14-19-19z"/><path color="#55cc51" d="M812 3169l19 20-15-14-19-20z"/><path color="#8aca36" d="M792 3157l20 12-15-14-19-11z"/><path color="#cac41e" d="M773 3146l19 11-14-13-19-11z"/><path color="#f8ba1a" d="M754 3126l19 20-14-13-20-20z"/><path color="#ffb81e" d="M735 3107l19 19-15-13-19-19z"/><path color="#ffd017" d="M716 3092l19 15-15-13-19-16z"/><path color="#ffe010" d="M696 3082l20 10-15-14-19-9z"/><path color="#fff005" d="M677 3079l19 3-14-13-20-3z"/><path color="#fff700" d="M658 3083l19-4-15-13-19 4z"/><path color="#fff005" d="M639 3095l19-12-15-13-19 11z"/><path color="#ffe80a" d="M620 3113l19-18-15-14-19 19z"/><path color="#ffe010" d="M600 3138l20-25-15-13-19 25z"/><path color="#ffc71a" d="M581 3169l19-31-14-13-20 31z"/><path color="#fcb81d" d="M562 3206l19-37-15-13-19 37z"/><path color="#cac41e" d="M543 3248l19-42-15-13-19 41z"/><path color="#62cc4a" d="M1038 3129l19-41-15-21-19 42z"/><path color="#3fcc60" d="M1019 3166l19-37-15-20-19 36z"/><path color="#19cb85" d="M999 3197l20-31-15-21-19 32z"/><path color="#09c7a1" d="M980 3222l19-25-14-20-20 25z"/><path color="#00bfc2" d="M961 3241l19-19-15-20-19 18z"/><path color="#01bcc8" d="M942 3252l19-11-15-21-19 12zM923 3256l19-4-15-20-19 4z"/><path color="#00bfc2" d="M903 3253l20 3-15-20-19-3z"/><path color="#05c3b1" d="M884 3244l19 9-14-20-20-10z"/><path color="#0fca91" d="M865 3228l19 16-15-21-19-15z"/><path color="#2ccc6d" d="M846 3209l19 19-15-20-19-19z"/><path color="#48cc59" d="M826 3189l20 20-15-20-19-20z"/><path color="#6fcc42" d="M807 3178l19 11-14-20-20-12z"/><path color="#acc827" d="M788 3166l19 12-15-21-19-11z"/><path color="#e3bf1b" d="M769 3147l19 19-15-20-19-20z"/><path color="#fcb81d" d="M750 3127l19 20-15-21-19-19z"/><path color="#ffc71a" d="M730 3112l20 15-15-20-19-15z"/><path color="#ffd815" d="M711 3102l19 10-14-20-20-10z"/><path color="#ffe80a" d="M692 3099l19 3-15-20-19-3z"/><path color="#fff005" d="M673 3104l19-5-15-20-19 4z"/><path color="#ffe80a" d="M653 3115l20-11-15-21-19 12z"/><path color="#ffe010" d="M634 3133l19-18-14-20-19 18z"/><path color="#ffd815" d="M615 3159l19-26-14-20-20 25z"/><path color="#ffbf1c" d="M596 3190l19-31-15-21-19 31z"/><path color="#fab91b" d="M577 3226l19-36-15-21-19 37z"/><path color="#acc827" d="M557 3268l20-42-15-20-19 42z"/><path color="#55cc51" d="M1053 3156l19-41-15-27-19 41z"/><path color="#2ccc6d" d="M1033 3193l20-37-15-27-19 37z"/><path color="#0fca91" d="M1014 3224l19-31-14-27-20 31z"/><path color="#00bfc2" d="M995 3249l19-25-15-27-19 25z"/><path color="#02b9cf" d="M976 3268l19-19-15-27-19 19z"/><path color="#03b6d5" d="M956 3279l20-11-15-27-19 11zM937 3283l19-4-14-27-19 4z"/><path color="#02b9cf" d="M918 3280l19 3-14-27-20-3z"/><path color="#01bcc8" d="M899 3271l19 9-15-27-19-9z"/><path color="#05c3b1" d="M880 3255l19 16-15-27-19-16z"/><path color="#19cb85" d="M860 3236l20 19-15-27-19-19z"/><path color="#36cc67" d="M841 3216l19 20-14-27-20-20z"/><path color="#55cc51" d="M822 3205l19 11-15-27-19-11z"/><path color="#6fcc42" d="M803 3193l19 12-15-27-19-12z"/><path color="#cac41e" d="M784 3174l19 19-15-27-19-19z"/><path color="#fab91b" d="M764 3154l20 20-15-27-19-20z"/><path color="#ffb81e" d="M745 3139l19 15-14-27-20-15z"/><path color="#ffd017" d="M726 3129l19 10-15-27-19-10z"/><path color="#ffd815" d="M707 3126l19 3-15-27-19-3z"/><path color="#ffe010" d="M687 3131l20-5-15-27-19 5zM668 3142l19-11-14-27-20 11z"/><path color="#ffd815" d="M649 3161l19-19-15-27-19 18z"/><path color="#ffc71a" d="M630 3186l19-25-15-28-19 26z"/><path color="#fcb81d" d="M611 3217l19-31-15-27-19 31z"/><path color="#e3bf1b" d="M591 3254l20-37-15-27-19 36z"/><path color="#6fcc42" d="M572 3295l19-41-14-28-20 42z"/><path color="#36cc67" d="M1067 3189l20-41-15-33-19 41z"/><path color="#0fca91" d="M1048 3226l19-37-14-33-20 37z"/><path color="#00bfc2" d="M1029 3257l19-31-15-33-19 31z"/><path color="#03b6d5" d="M1010 3282l19-25-15-33-19 25z"/><path color="#04b2db" d="M990 3301l20-19-15-33-19 19z"/><path color="#05afe2" d="M971 3312l19-11-14-33-20 11zM952 3316l19-4-15-33-19 4zM933 3313l19 3-15-33-19-3z"/><path color="#03b6d5" d="M914 3304l19 9-15-33-19-9z"/><path color="#01bcc8" d="M894 3288l20 16-15-33-19-16z"/><path color="#09c7a1" d="M875 3269l19 19-14-33-20-19z"/><path color="#23cb78" d="M856 3249l19 20-15-33-19-20z"/><path color="#36cc67" d="M837 3238l19 11-15-33-19-11z"/><path color="#48cc59" d="M817 3227l20 11-15-33-19-12z"/><path color="#6fcc42" d="M798 3207l19 20-14-34-19-19z"/><path color="#cac41e" d="M779 3188l19 19-14-33-20-20z"/><path color="#fab91b" d="M760 3172l19 16-15-34-19-15z"/><path color="#ffb81e" d="M741 3163l19 9-15-33-19-10z"/><path color="#ffc71a" d="M721 3160l20 3-15-34-19-3zM702 3164l19-4-14-34-20 5zM683 3175l19-11-15-33-19 11z"/><path color="#ffbf1c" d="M664 3194l19-19-15-33-19 19z"/><path color="#fcb81d" d="M645 3219l19-25-15-33-19 25z"/><path color="#f8ba1a" d="M625 3250l20-31-15-33-19 31z"/><path color="#acc827" d="M606 3287l19-37-14-33-20 37z"/><path color="#55cc51" d="M587 3328l19-41-15-33-19 41z"/><path color="#19cb85" d="M1082 3228l19-42-14-38-20 41z"/><path color="#00bfc2" d="M1063 3265l19-37-15-39-19 37z"/><path color="#03b6d5" d="M1044 3296l19-31-15-39-19 31z"/><path color="#06abe7" d="M1024 3321l20-25-15-39-19 25z"/><path color="#0ca0ee" d="M1005 3339l19-18-14-39-20 19z"/><path color="#0e9bf2" d="M986 3351l19-12-15-38-19 11zM967 3355l19-4-15-39-19 4z"/><path color="#0ca0ee" d="M948 3352l19 3-15-39-19-3z"/><path color="#09a6eb" d="M928 3343l20 9-15-39-19-9z"/><path color="#04b2db" d="M909 3327l19 16-14-39-20-16z"/><path color="#02b9cf" d="M890 3308l19 19-15-39-19-19z"/><path color="#09c7a1" d="M871 3288l19 20-15-39-19-20z"/><path color="#19cb85" d="M851 3277l20 11-15-39-19-11z"/><path color="#2ccc6d" d="M832 3265l19 12-14-39-20-11z"/><path color="#48cc59" d="M813 3246l19 19-15-38-19-20z"/><path color="#6fcc42" d="M794 3226l19 20-15-39-19-19z"/><path color="#cac41e" d="M775 3211l19 15-15-38-19-16z"/><path color="#f8ba1a" d="M755 3201l20 10-15-39-19-9z"/><path color="#fab91b" d="M736 3198l19 3-14-38-20-3z"/><path color="#fcb81d" d="M717 3203l19-5-15-38-19 4zM698 3214l19-11-15-39-19 11z"/><path color="#fab91b" d="M679 3232l19-18-15-39-19 19z"/><path color="#e3bf1b" d="M659 3257l20-25-15-38-19 25z"/><path color="#acc827" d="M640 3289l19-32-14-38-20 31z"/><path color="#55cc51" d="M621 3325l19-36-15-39-19 37z"/><path color="#2ccc6d" d="M602 3367l19-42-15-38-19 41z"/><path color="#00bfc2" d="M1097 3272l19-42-15-44-19 42z"/><path color="#04b2db" d="M1078 3308l19-36-15-44-19 37z"/><path color="#09a6eb" d="M1058 3340l20-32-15-43-19 31z"/><path color="#1195f6" d="M1039 3365l19-25-14-44-20 25z"/><path color="#1490f9" d="M1020 3383l19-18-15-44-19 18z"/><path color="#1888fb" d="M1001 3394l19-11-15-44-19 12z"/><path color="#1e7efc" d="M981 3399l20-5-15-43-19 4z"/><path color="#1888fb" d="M962 3396l19 3-14-44-19-3z"/><path color="#1195f6" d="M943 3386l19 10-14-44-20-9z"/><path color="#0ca0ee" d="M924 3371l19 15-15-43-19-16z"/><path color="#05afe2" d="M905 3351l19 20-15-44-19-19z"/><path color="#02b9cf" d="M885 3332l20 19-15-43-19-20z"/><path color="#00bfc2" d="M866 3320l19 12-14-44-20-11z"/><path color="#09c7a1" d="M847 3309l19 11-15-43-19-12z"/><path color="#23cb78" d="M828 3289l19 20-15-44-19-19z"/><path color="#3fcc60" d="M809 3270l19 19-15-43-19-20z"/><path color="#62cc4a" d="M789 3254l20 16-15-44-19-15z"/><path color="#8aca36" d="M770 3245l19 9-14-43-20-10z"/><path color="#cac41e" d="M751 3242l19 3-15-44-19-3zM732 3246l19-4-15-44-19 5zM712 3257l20-11-15-43-19 11z"/><path color="#acc827" d="M693 3276l19-19-14-43-19 18z"/><path color="#6fcc42" d="M674 3301l19-25-14-44-20 25z"/><path color="#55cc51" d="M655 3332l19-31-15-44-19 32z"/><path color="#2ccc6d" d="M636 3369l19-37-15-43-19 36z"/><path color="#0fca91" d="M616 3411l20-42-15-44-19 42z"/></g><path d="M61.6 363.7L111.6 346.9M61.6 363.7L23.3 341.8M23.3 341.8L23.3 294" stroke="#6a6a6a" stroke-width="0.5"/><path d="M61.6 363.7L62.1 364.6M86.6 355.3L87.1 356.2M111.6 346.9L112.1 347.8M61.6 363.7L61 364.6M42.5 352.8L41.9 353.7M23.3 341.8L22.7 342.7M23.3 333.1L22.3 333.1M23.3 317.9L22.3 317.9M23.3 302.8L22.3 302.8" stroke="#6a6a6a" stroke-width="0.4"/><text transform="matrix(.90 0 0 1 64.2 370)" font-size="4.9" fill="#303030">-10</text><text transform="matrix(.90 0 0 1 89.2 361.6)" font-size="4.9" fill="#303030">0</text><text transform="matrix(.90 0 0 1 114.2 353.2)" font-size="4.9" fill="#303030">10</text><text transform="matrix(.90 0 0 1 58.4 369.6)" font-size="4.9" text-anchor="end" fill="#303030">-10</text><text transform="matrix(.90 0 0 1 39.3 358.7)" font-size="4.9" text-anchor="end" fill="#303030">0</text><text transform="matrix(.90 0 0 1 20.1 347.7)" font-size="4.9" text-anchor="end" fill="#303030">10</text><text transform="matrix(.90 0 0 1 20.3 334.6)" font-size="4.9" text-anchor="end" fill="#303030">-5</text><text transform="matrix(.90 0 0 1 20.3 319.4)" font-size="4.9" text-anchor="end" fill="#303030">0</text><text transform="matrix(.90 0 0 1 20.3 304.3)" font-size="4.9" text-anchor="end" fill="#303030">5</text><text transform="matrix(.90 0 0 1 88.4 371.9)" font-size="5.300000000000001" text-anchor="middle" fill="#303030">x</text><text transform="matrix(.90 0 0 1 38 371)" font-size="5.300000000000001" text-anchor="middle" fill="#303030">y</text><text font-size="5.300000000000001" fill="#303030" text-anchor="middle" transform="translate(13.4 317.9) rotate(-90) scale(1 0.9)">z</text><text transform="matrix(.90 0 0 1 66.8 276.2)" font-size="5.4" text-anchor="middle" fill="#222" font-weight="bold">F8</text><path d="M364.3 363.1L324.5 341.3M324.5 341.3L324.5 293.7M390.3 354.7L350.4 332.9M350.4 332.9L350.4 285.4M416.2 346.4L376.4 324.6M376.4 324.6L376.4 277M364.3 363.1L324.5 341.3M324.5 341.3L324.5 293.7M416.2 346.4L376.4 324.6M376.4 324.6L376.4 277M364.3 363.1L416.2 346.4M416.2 346.4L416.2 298.8M344.4 352.2L396.3 335.5M396.3 335.5L396.3 287.9M324.5 341.3L376.4 324.6M376.4 324.6L376.4 277M364.3 363.1L416.2 346.4M416.2 346.4L416.2 298.8M324.5 341.3L376.4 324.6M376.4 324.6L376.4 277M324.5 331.1L376.4 314.4M376.4 314.4L416.2 336.2M324.5 320.9L376.4 304.2M376.4 304.2L416.2 326M324.5 310.8L376.4 294M376.4 294L416.2 315.8M324.5 300.6L376.4 283.9M376.4 283.9L416.2 305.7M324.5 341.3L376.4 324.6M376.4 324.6L416.2 346.4M324.5 293.7L376.4 277M376.4 277L416.2 298.8" stroke="#e2e2e2" stroke-width="0.4"/><g fill="none" stroke-width="4.5" transform="scale(.1)"><path stroke="#5c55ec" d="M3700 3451l-13-2-8-3-5-4-1-5 4-6 7-3 10-2 13-1 13 2 8 3 5 5 1 5-4 5-7 4-10 2-13 0"/><path stroke="#4c7bfe" d="M3715 3459l-14 1-9-1-7-1-5 0-10-3-8-3-5-4-4-5 0-5 3-7 8-7 8-3 9-2 11-2 14 0 9 0 7 1 5 1 10 3 8 3 5 4 4 5 0 5-3 7-8 6-8 4-9 2-11 1"/><path stroke="#35a5f7" d="M3727 3466l-12 1-12 0-15 0-13-2-8-2-13-3-7-3-6-4-4-5-2-5-1-5 2-6 4-6 4-3 8-5 8-3 9-3 11-1 12-1 12-1 15 1 13 2 8 1 13 4 7 3 6 4 4 5 2 5 1 5-2 6-4 6-4 3-8 5-8 3-9 3-11 1"/><path stroke="#29bee1" d="M3740 3473l-12 2-12 0-14 0-15-1-17-1-13-2-8-2-11-4-7-3-6-4-5-4-3-5-1-6 1-7 2-6 3-6 5-5 5-4 7-4 9-3 9-3 10-2 12-1 12 0 14 0 15 0 17 2 13 2 8 2 11 3 7 4 6 4 5 4 3 5 1 5-1 8-2 6-3 6-5 5-5 3-7 5-9 3-9 3-10 1"/><path stroke="#2ecfb0" d="M3755 3482l-10 1-14 1-7 0-6 0-12 0-16-1-14-1-14-1-6-1-7-1-12-2-10-2-9-3-7-4-6-4-5-4-2-4-2-6-1-6 1-6 1-5 3-6 3-6 4-6 5-4 5-5 7-4 8-3 9-2 11-2 10-1 14-1 7 0 6 0 12 0 16 1 14 1 14 1 6 1 7 1 12 2 10 2 9 3 7 3 6 4 5 5 2 4 2 6 1 5-1 6-1 6-3 6-3 6-4 5-5 5-5 5-7 3-8 3-9 3-11 2"/><path stroke="#5bd478" d="M3872 3557l-10-2-7-4-5-4-3-5-1-5 2-7 3-3 7-4 11-2 8 0 16 1 12 1 10 3 8 3 7 4 4 4M3788 3492l-11 2-13 0-13 1-7 0-6 0-11-1-17 0-15-1-16-1-15-1-14-1-14-1-6-1-7 0-11-2-13-2-10-3-8-3-5-4-4-5-2-5-1-5 1-11 1-7 2-6 2-7 2-6 3-6 3-6 3-6 4-4 6-6 6-4 8-3 9-2 11-2 13-1 13 0 7 0 6 0 11 0 17 1 15 1 16 0 15 1 14 2 14 1 6 0 7 1 11 2 13 2 10 3 8 3 5 4 4 5 2 5 1 5-1 11-1 7-2 6-2 7-2 6-3 6-3 6-3 5-4 5-6 5-6 4-8 4-9 2M3987 3368l-7 4-8 3-10 2-11 1-8 1-17-1-12-2-9-3-4-4-1-5 2-5 4-5 6-5 7-3 9-3 11-1M3420 3509l7-4 8-3 10-2 11-1 8-1 17 1 12 1 9 3 4 5 1 5-2 5-4 5-6 4-7 4-9 2-11 2M3535 3319l10 3 7 4 5 4 3 5 1 5-2 7-3 3-7 4-11 2-8 0-16-1-12-2-10-2-8-3-7-4-4-5"/><path stroke="#b6d148" d="M3850 3564l-9-2-8-4-6-4-5-4-4-4-4-5-3-4-4-5-3-5-5-4-7-4-8-3-10-2-12-2-9-1-17-2-15-1-15-1-15-1-15-1-16-1-15 0-16-1-14 0-13 0-11 1-13 1-10 2-9 3-7 3-6 4-7 5-6 4-6 4-7 4-7 3-8 3-10 2-10 2M4003 3377l-6 4-8 3-9 3-10 2-10 1-12 2-11 1-7 1-15 2-10 2-9 3-7 4-6 4-5 5-2 4-4 7-3 6-3 6-2 7-2 6-2 7-1 6-2 7 0 6 0 5 2 5 3 5 5 4 7 4 8 3 10 3 9 2 10 3 10 3 9 2 8 3 8 4 5 4 4 4M3404 3500l6-4 8-3 9-3 10-2 10-2 12-1 11-2 7 0 15-3 10-2 9-2 7-4 6-4 5-5 2-4 4-7 3-6 3-6 2-7 2-6 2-7 1-6 2-7 0-6 0-5-2-6-3-4-5-5-7-3-8-3-10-3-9-3-10-2-10-3-9-3-8-3-8-3-5-4-4-5M3557 3312l9 3 8 4 6 3 5 4 4 5 4 5 3 4 4 5 3 4 5 5 7 3 8 3 10 3 12 2 9 1 17 2 15 1 15 1 15 1 15 1 16 1 15 0 16 1 14 0 13 0 11-1 13-1 10-2 9-3 7-4 6-4 7-4 6-4 6-4 7-4 7-3 8-3 10-3 10-1"/><path stroke="#ffc240" d="M3827 3572l-8-2-10-4-7-3-7-4-5-4-5-4-6-4-5-4-7-4-7-3-6-2-13-4-11-2-13-2-5 0-8-1-9-1-16-1-15-1-14 0-8 0-6 0-13 0-12 1-12 1-10 2-9 3-8 3-8 3-6 2-10 5-7 3-9 3-9 2-10 2-11 2M4117 3478l-9-2-7-4-4-5 0-5 3-7 8-6 9-3 10-1M3608 3612l7-4 9-3 11-1 13 0 8 0 9 1 12 3 7 4 5 4M4021 3386l-5 4-9 4-8 3-9 3-9 2-10 2-10 3-9 2-9 3-8 3-5 2-8 6-5 4-4 6-4 5-3 6-2 6-1 7-1 7 1 8 2 5 3 5 5 4 6 4 6 4 8 3 6 2 10 5 8 3 7 3 6 4 4 4 4 5M3386 3490l5-3 9-4 8-3 9-3 9-2 10-3 10-2 9-2 9-3 8-3 5-2 8-6 5-5 4-5 4-5 3-6 2-7 1-6 1-7-1-8-2-6-3-4-5-5-6-3-6-4-8-3-6-3-10-4-8-3-7-4-6-3-4-5-4-4M3799 3265l-7 4-9 2-11 2-13 0-8 0-9-1-12-4-7-3-5-5M3290 3398l9 3 7 4 4 5 0 5-3 7-8 5-9 3-10 2M3580 3305l8 2 10 4 7 3 7 4 5 4 5 4 6 4 5 4 7 4 7 3 6 2 13 4 11 2 13 2 5 0 8 1 9 1 16 1 15 1 14 0 8 0 6 0 13 0 12-1 12-2 10-2 9-2 8-3 8-3 6-2 10-5 7-3 9-3 9-2 10-2 11-2"/><path stroke="#ffeb30" d="M3793 3583l-6-1-8-1-10-1-13-3-8-3-7-3-7-4-6-4-8-3-9-3-10-2-7-2-18-2-15-1-14 0-12 1-12 1-9 2-11 2-9 3-8 3-9 3-10 2-12 1-13 0-7 0-7 0M4082 3490l-12-2-10-3-8-3-4-5-2-5 1-11 2-6 3-7 3-5 4-4 8-5 9-2 8-1 16-1M3582 3597l4-5 6-4 8-3 11-2 12-1 10 0 17 1 15 1 15 1 13 1 9 2 11 3 6 4 3 5 1 5M4047 3401l-3 6-4 4-6 5-7 4-9 3-9 2-8 3-8 3-7 4-6 5-4 5-4 5-2 6 1 8 4 8 3 4 7 5 6 3 7 4 6 4 5 4 2 5 1 5 0 6M3360 3476l3-6 4-4 6-5 7-4 9-3 9-3 8-2 8-4 7-3 6-5 4-5 4-5 2-7-1-7-4-8-3-4-7-5-6-3-7-4-6-4-5-4-2-5-1-5 0-6M3825 3280l-4 5-6 4-8 3-11 2-12 1-10 0-17-1-15-1-15-1-13-1-9-2-11-3-6-4-3-5-1-5M3325 3387l12 2 10 3 8 3 4 4 2 5-1 12-2 6-3 6-3 6-4 4-8 4-9 3-8 1-16 1M3614 3294l6 1 8 0 10 2 13 3 8 3 7 3 7 4 6 3 8 4 9 3 10 2 7 1 18 2 15 1 14 0 12 0 12-1 9-2 11-3 9-2 8-3 9-3 10-2 12-1 13 0 7 0 7 0"/></g><g class="sf" filter="url(#bl)" transform="scale(.1)"><path color="#e3bf1b" d="M3759 2888l20-6-15-5-20 3z"/><path color="#f8ba1a" d="M3739 2871l20 17-15-8-20-19z"/><path color="#ffbf1c" d="M3719 2847l20 24-15-10-20-27z"/><path color="#ffd815" d="M3699 2829l20 18-15-13-20-20z"/><path color="#ffe80a" d="M3679 2823l20 6-15-15-20-9z"/><path color="#fff005" d="M3659 2828l20-5-15-18-20 4zM3639 2844l20-16-15-19-20 15z"/><path color="#ffe010" d="M3620 2870l19-26-15-20-20 26z"/><path color="#ffc71a" d="M3600 2906l20-36-16-20-20 38z"/><path color="#fab91b" d="M3580 2954l20-48-16-18-20 49z"/><path color="#8aca36" d="M3560 3006l20-52-16-17-20 54z"/><path color="#3fcc60" d="M3540 3051l20-45-16-15-20 47z"/><path color="#19cb85" d="M3520 3073l20-22-16-13-20 23zM3500 3064l20 9-16-12-20-10z"/><path color="#3fcc60" d="M3480 3032l20 32-16-13-19-34z"/><path color="#8aca36" d="M3460 2992l20 40-15-15-20-42z"/><path color="#fab91b" d="M3440 2958l20 34-15-17-20-36z"/><path color="#ffc71a" d="M3420 2934l20 24-15-19-20-25z"/><path color="#ffe010" d="M3400 2921l20 13-15-20-20-13z"/><path color="#fff005" d="M3380 2918l20 3-15-20-20-2zM3360 2926l20-8-15-19-20 9z"/><path color="#ffe80a" d="M3340 2945l20-19-15-18-20 21z"/><path color="#ffd815" d="M3320 2976l20-31-15-16-20 34z"/><path color="#ffbf1c" d="M3300 3012l20-36-15-13-20 39z"/><path color="#f8ba1a" d="M3280 3042l20-30-15-10-20 33z"/><path color="#e3bf1b" d="M3260 3050l20-8-15-7-20 9z"/><path color="#f8ba1a" d="M3775 2872l19-7-15 17-20 6z"/><path color="#fab91b" d="M3755 2861l20 11-16 16-20-17z"/><path color="#ffbf1c" d="M3735 2845l20 16-16 10-20-24z"/><path color="#ffd815" d="M3715 2833l20 12-16 2-20-18z"/><path color="#ffe80a" d="M3695 2831l20 2-16-4-20-6z"/><path color="#fff005" d="M3675 2839l20-8-16-8-20 5z"/><path color="#ffe80a" d="M3655 2855l20-16-16-11-20 16z"/><path color="#ffd815" d="M3635 2880l20-25-16-11-19 26z"/><path color="#ffc71a" d="M3615 2914l20-34-15-10-20 36z"/><path color="#fab91b" d="M3595 2956l20-42-15-8-20 48z"/><path color="#8aca36" d="M3575 3003l20-47-15-2-20 52z"/><path color="#3fcc60" d="M3555 3043l20-40-15 3-20 45z"/><path color="#23cb78" d="M3535 3063l20-20-15 8-20 22zM3515 3056l20 7-15 10-20-9z"/><path color="#3fcc60" d="M3495 3029l20 27-15 8-20-32z"/><path color="#8aca36" d="M3475 2995l20 34-15 3-20-40z"/><path color="#fab91b" d="M3455 2965l20 30-15-3-20-34z"/><path color="#ffc71a" d="M3435 2944l20 21-15-7-20-24z"/><path color="#ffd815" d="M3415 2932l20 12-15-10-20-13z"/><path color="#ffe80a" d="M3395 2929l20 3-15-11-20-3z"/><path color="#fff005" d="M3375 2934l20-5-15-11-20 8z"/><path color="#ffe80a" d="M3355 2949l20-15-15-8-20 19z"/><path color="#ffd815" d="M3335 2973l20-24-15-4-20 31z"/><path color="#ffbf1c" d="M3316 3003l19-30-15 3-20 36z"/><path color="#fab91b" d="M3296 3027l20-24-16 9-20 30z"/><path color="#f8ba1a" d="M3276 3032l20-5-16 15-20 8z"/><path color="#ffbf1c" d="M3790 2851l20-11-16 25-19 7zM3770 2847l20 4-15 21-20-11z"/><path color="#ffd017" d="M3750 2838l20 9-15 14-20-16z"/><path color="#ffe010" d="M3730 2833l20 5-15 7-20-12z"/><path color="#ffe80a" d="M3710 2836l20-3-15 0-20-2z"/><path color="#fff005" d="M3690 2846l20-10-15-5-20 8z"/><path color="#ffe80a" d="M3670 2863l20-17-15-7-20 16z"/><path color="#ffd815" d="M3650 2887l20-24-15-8-20 25z"/><path color="#ffc71a" d="M3630 2918l20-31-15-7-20 34z"/><path color="#fab91b" d="M3610 2955l20-37-15-4-20 42z"/><path color="#acc827" d="M3590 2995l20-40-15 1-20 47z"/><path color="#55cc51" d="M3570 3029l20-34-15 8-20 40z"/><path color="#3fcc60" d="M3550 3046l20-17-15 14-20 20zM3530 3042l20 4-15 17-20-7z"/><path color="#55cc51" d="M3510 3021l20 21-15 14-20-27z"/><path color="#acc827" d="M3490 2993l20 28-15 8-20-34z"/><path color="#fab91b" d="M3471 2969l19 24-15 2-20-30z"/><path color="#ffc71a" d="M3451 2951l20 18-16-4-20-21z"/><path color="#ffd815" d="M3431 2940l20 11-16-7-20-12z"/><path color="#ffe80a" d="M3411 2936l20 4-16-8-20-3z"/><path color="#fff005" d="M3391 2939l20-3-16-7-20 5z"/><path color="#ffe80a" d="M3371 2949l20-10-16-5-20 15z"/><path color="#ffe010" d="M3351 2967l20-18-16 0-20 24z"/><path color="#ffd017" d="M3331 2988l20-21-16 6-19 30z"/><path color="#ffbf1c" d="M3311 3005l20-17-15 15-20 24zM3291 3007l20-2-15 22-20 5z"/><path color="#ffd815" d="M3805 2835l20-13-15 18-20 11zM3785 2837l20-2-15 16-20-4z"/><path color="#ffe010" d="M3765 2835l20 2-15 10-20-9z"/><path color="#ffe80a" d="M3745 2837l20-2-15 3-20-5z"/><path color="#fff005" d="M3725 2844l20-7-15-4-20 3zM3705 2856l20-12-15-8-20 10z"/><path color="#ffe80a" d="M3685 2874l20-18-15-10-20 17z"/><path color="#ffd815" d="M3665 2897l20-23-15-11-20 24z"/><path color="#ffc71a" d="M3645 2925l20-28-15-10-20 31z"/><path color="#fcb81d" d="M3626 2958l19-33-15-7-20 37z"/><path color="#cac41e" d="M3606 2992l20-34-16-3-20 40z"/><path color="#6fcc42" d="M3586 3022l20-30-16 3-20 34z"/><path color="#55cc51" d="M3566 3037l20-15-16 7-20 17zM3546 3034l20 3-16 9-20-4z"/><path color="#6fcc42" d="M3526 3018l20 16-16 8-20-21z"/><path color="#cac41e" d="M3506 2997l20 21-16 3-20-28z"/><path color="#fcb81d" d="M3486 2977l20 20-16-4-19-24z"/><path color="#ffc71a" d="M3466 2961l20 16-15-8-20-18z"/><path color="#ffd815" d="M3446 2951l20 10-15-10-20-11z"/><path color="#ffe80a" d="M3426 2946l20 5-15-11-20-4z"/><path color="#fff005" d="M3406 2946l20 0-15-10-20 3zM3386 2952l20-6-15-7-20 10z"/><path color="#ffe80a" d="M3366 2964l20-12-15-3-20 18z"/><path color="#ffe010" d="M3346 2979l20-15-15 3-20 21z"/><path color="#ffd815" d="M3326 2990l20-11-15 9-20 17zM3306 2989l20 1-15 15-20 2z"/><path color="#ffe80a" d="M3820 2831l20-16-15 7-20 13zM3800 2837l20-6-15 4-20 2zM3781 2840l19-3-15 0-20-2z"/><path color="#fff005" d="M3761 2845l20-5-16-5-20 2zM3741 2856l20-11-16-8-20 7z"/><path color="#ffe80a" d="M3721 2870l20-14-16-12-20 12z"/><path color="#ffe010" d="M3701 2889l20-19-16-14-20 18z"/><path color="#ffd815" d="M3681 2912l20-23-16-15-20 23z"/><path color="#ffbf1c" d="M3661 2939l20-27-16-15-20 28z"/><path color="#fcb81d" d="M3641 2969l20-30-16-14-19 33z"/><path color="#e3bf1b" d="M3621 3000l20-31-15-11-20 34z"/><path color="#8aca36" d="M3601 3026l20-26-15-8-20 30z"/><path color="#62cc4a" d="M3581 3040l20-14-15-4-20 15zM3561 3039l20 1-15-3-20-3z"/><path color="#8aca36" d="M3541 3026l20 13-15-5-20-16z"/><path color="#e3bf1b" d="M3521 3008l20 18-15-8-20-21z"/><path color="#fcb81d" d="M3501 2990l20 18-15-11-20-20z"/><path color="#ffbf1c" d="M3481 2976l20 14-15-13-20-16z"/><path color="#ffd815" d="M3461 2967l20 9-15-15-20-10z"/><path color="#ffe010" d="M3441 2960l20 7-15-16-20-5z"/><path color="#ffe80a" d="M3421 2959l20 1-15-14-20 0z"/><path color="#fff005" d="M3401 2961l20-2-15-13-20 6zM3381 2969l20-8-15-9-20 12z"/><path color="#ffe80a" d="M3361 2978l20-9-15-5-20 15zM3342 2985l19-7-15 1-20 11zM3322 2982l20 3-16 5-20-1z"/><path color="#fff005" d="M3836 2838l20-17-16-6-20 16zM3816 2846l20-8-16-7-20 6zM3796 2852l20-6-16-9-19 3zM3776 2860l20-8-15-12-20 5z"/><path color="#ffe80a" d="M3756 2872l20-12-15-15-20 11zM3736 2889l20-17-15-16-20 14z"/><path color="#ffd815" d="M3716 2909l20-20-15-19-20 19z"/><path color="#ffd017" d="M3696 2932l20-23-15-20-20 23z"/><path color="#ffb81e" d="M3676 2959l20-27-15-20-20 27z"/><path color="#fab91b" d="M3656 2988l20-29-15-20-20 30z"/><path color="#cac41e" d="M3636 3018l20-30-15-19-20 31z"/><path color="#6fcc42" d="M3616 3043l20-25-15-18-20 26z"/><path color="#62cc4a" d="M3596 3057l20-14-15-17-20 14zM3576 3056l20 1-15-17-20-1z"/><path color="#6fcc42" d="M3556 3044l20 12-15-17-20-13z"/><path color="#cac41e" d="M3536 3027l20 17-15-18-20-18z"/><path color="#fab91b" d="M3516 3010l20 17-15-19-20-18z"/><path color="#ffb81e" d="M3497 2996l19 14-15-20-20-14z"/><path color="#ffd017" d="M3477 2986l20 10-16-20-20-9z"/><path color="#ffd815" d="M3457 2979l20 7-16-19-20-7z"/><path color="#ffe80a" d="M3437 2975l20 4-16-19-20-1zM3417 2976l20-1-16-16-20 2z"/><path color="#fff005" d="M3397 2981l20-5-16-15-20 8zM3377 2988l20-7-16-12-20 9zM3357 2992l20-4-16-10-19 7zM3337 2988l20 4-15-7-20-3zM3851 2855l20-18-15-16-20 17z"/><path color="#ffe80a" d="M3831 2864l20-9-15-17-20 8zM3811 2871l20-7-15-18-20 6zM3791 2880l20-9-15-19-20 8z"/><path color="#ffe010" d="M3771 2893l20-13-15-20-20 12z"/><path color="#ffd815" d="M3751 2911l20-18-15-21-20 17z"/><path color="#ffd017" d="M3731 2932l20-21-15-22-20 20z"/><path color="#ffbf1c" d="M3711 2957l20-25-15-23-20 23z"/><path color="#fcb81d" d="M3691 2985l20-28-15-25-20 27z"/><path color="#e3bf1b" d="M3671 3015l20-30-15-26-20 29z"/><path color="#8aca36" d="M3652 3046l19-31-15-27-20 30z"/><path color="#62cc4a" d="M3632 3072l20-26-16-28-20 25z"/><path color="#48cc59" d="M3612 3086l20-14-16-29-20 14zM3592 3085l20 1-16-29-20-1z"/><path color="#62cc4a" d="M3572 3072l20 13-16-29-20-12z"/><path color="#8aca36" d="M3552 3054l20 18-16-28-20-17z"/><path color="#e3bf1b" d="M3532 3036l20 18-16-27-20-17z"/><path color="#fcb81d" d="M3512 3021l20 15-16-26-19-14z"/><path color="#ffbf1c" d="M3492 3009l20 12-15-25-20-10z"/><path color="#ffd017" d="M3472 3001l20 8-15-23-20-7z"/><path color="#ffd815" d="M3452 2996l20 5-15-22-20-4z"/><path color="#ffe010" d="M3432 2996l20 0-15-21-20 1z"/><path color="#ffe80a" d="M3412 3000l20-4-15-20-20 5zM3392 3006l20-6-15-19-20 7zM3372 3010l20-4-15-18-20 4z"/><path color="#fff005" d="M3352 3005l20 5-15-18-20-4z"/><path color="#ffe010" d="M3866 2883l20-18-15-28-20 18z"/><path color="#ffd815" d="M3846 2891l20-8-15-28-20 9zM3826 2897l20-6-15-27-20 7zM3807 2905l19-8-15-26-20 9zM3787 2918l20-13-16-25-20 13z"/><path color="#ffd017" d="M3767 2936l20-18-16-25-20 18z"/><path color="#ffbf1c" d="M3747 2958l20-22-16-25-20 21z"/><path color="#fcb81d" d="M3727 2985l20-27-16-26-20 25z"/><path color="#e3bf1b" d="M3707 3016l20-31-16-28-20 28z"/><path color="#acc827" d="M3687 3050l20-34-16-31-20 30z"/><path color="#62cc4a" d="M3667 3084l20-34-16-35-19 31z"/><path color="#3fcc60" d="M3647 3113l20-29-15-38-20 26z"/><path color="#2ccc6d" d="M3627 3127l20-14-15-41-20 14zM3607 3125l20 2-15-41-20-1z"/><path color="#3fcc60" d="M3587 3110l20 15-15-40-20-13z"/><path color="#62cc4a" d="M3567 3088l20 22-15-38-20-18z"/><path color="#acc827" d="M3547 3067l20 21-15-34-20-18z"/><path color="#e3bf1b" d="M3527 3049l20 18-15-31-20-15z"/><path color="#fcb81d" d="M3507 3036l20 13-15-28-20-12z"/><path color="#ffbf1c" d="M3487 3026l20 10-15-27-20-8z"/><path color="#ffd017" d="M3467 3021l20 5-15-25-20-5z"/><path color="#ffd815" d="M3447 3021l20 0-15-25-20 0zM3427 3025l20-4-15-25-20 4zM3407 3033l20-8-15-25-20 6zM3387 3038l20-5-15-27-20 4z"/><path color="#ffe010" d="M3368 3033l19 5-15-28-20-5z"/><path color="#ffc71a" d="M3882 2922l20-17-16-40-20 18zM3862 2927l20-5-16-39-20 8zM3842 2929l20-2-16-36-20 6zM3822 2935l20-6-16-32-19 8z"/><path color="#ffbf1c" d="M3802 2947l20-12-15-30-20 13z"/><path color="#ffb81e" d="M3782 2965l20-18-15-29-20 18z"/><path color="#fcb81d" d="M3762 2988l20-23-15-29-20 22z"/><path color="#e3bf1b" d="M3742 3018l20-30-15-30-20 27z"/><path color="#acc827" d="M3722 3052l20-34-15-33-20 31z"/><path color="#55cc51" d="M3702 3092l20-40-15-36-20 34z"/><path color="#36cc67" d="M3682 3132l20-40-15-42-20 34z"/><path color="#0fca91" d="M3662 3165l20-33-15-48-20 29z"/><path color="#09c7a1" d="M3642 3182l20-17-15-52-20 14zM3622 3178l20 4-15-55-20-2z"/><path color="#0fca91" d="M3602 3158l20 20-15-53-20-15z"/><path color="#36cc67" d="M3582 3130l20 28-15-48-20-22z"/><path color="#55cc51" d="M3562 3104l20 26-15-42-20-21z"/><path color="#acc827" d="M3542 3082l20 22-15-37-20-18z"/><path color="#e3bf1b" d="M3523 3066l19 16-15-33-20-13z"/><path color="#fcb81d" d="M3503 3055l20 11-16-30-20-10z"/><path color="#ffb81e" d="M3483 3050l20 5-16-29-20-5z"/><path color="#ffbf1c" d="M3463 3051l20-1-16-29-20 0z"/><path color="#ffc71a" d="M3443 3058l20-7-16-30-20 4zM3423 3069l20-11-16-33-20 8zM3403 3076l20-7-16-36-20 5zM3383 3072l20 4-16-38-19-5z"/><path color="#fab91b" d="M3897 2971l20-15-15-51-20 17zM3877 2972l20-1-15-49-20 5zM3857 2969l20 3-15-45-20 2z"/><path color="#fcb81d" d="M3837 2970l20-1-15-40-20 6zM3817 2979l20-9-15-35-20 12z"/><path color="#fab91b" d="M3797 2996l20-17-15-32-20 18z"/><path color="#e3bf1b" d="M3777 3021l20-25-15-31-20 23z"/><path color="#acc827" d="M3757 3054l20-33-15-33-20 30z"/><path color="#55cc51" d="M3737 3094l20-40-15-36-20 34z"/><path color="#2ccc6d" d="M3717 3140l20-46-15-42-20 40z"/><path color="#09c7a1" d="M3697 3189l20-49-15-48-20 40z"/><path color="#02b9cf" d="M3678 3230l19-41-15-57-20 33z"/><path color="#05afe2" d="M3658 3249l20-19-16-65-20 17zM3638 3242l20 7-16-67-20-4z"/><path color="#02b9cf" d="M3618 3215l20 27-16-64-20-20z"/><path color="#09c7a1" d="M3598 3179l20 36-16-57-20-28z"/><path color="#2ccc6d" d="M3578 3145l20 34-16-49-20-26z"/><path color="#55cc51" d="M3558 3118l20 27-16-41-20-22z"/><path color="#acc827" d="M3538 3098l20 20-16-36-19-16z"/><path color="#e3bf1b" d="M3518 3086l20 12-15-32-20-11z"/><path color="#fab91b" d="M3498 3082l20 4-15-31-20-5z"/><path color="#fcb81d" d="M3478 3085l20-3-15-32-20 1zM3458 3097l20-12-15-34-20 7z"/><path color="#fab91b" d="M3438 3113l20-16-15-39-20 11zM3418 3126l20-13-15-44-20 7zM3398 3123l20 3-15-50-20-4z"/><path color="#8aca36" d="M3912 3026l20-13-15-57-20 15zM3892 3021l20 5-15-55-20 1z"/><path color="#acc827" d="M3872 3010l20 11-15-49-20-3z"/><path color="#cac41e" d="M3852 3006l20 4-15-41-20 1z"/><path color="#e3bf1b" d="M3833 3012l19-6-15-36-20 9z"/><path color="#cac41e" d="M3813 3028l20-16-16-33-20 17z"/><path color="#8aca36" d="M3793 3054l20-26-16-32-20 25z"/><path color="#62cc4a" d="M3773 3090l20-36-16-33-20 33z"/><path color="#36cc67" d="M3753 3136l20-46-16-36-20 40z"/><path color="#09c7a1" d="M3733 3191l20-55-16-42-20 46z"/><path color="#03b6d5" d="M3713 3250l20-59-16-51-20 49z"/><path color="#0e9bf2" d="M3693 3300l20-50-16-61-19 41z"/><path color="#1888fb" d="M3673 3324l20-24-15-70-20 19zM3653 3313l20 11-15-75-20-7z"/><path color="#0e9bf2" d="M3633 3276l20 37-15-71-20-27z"/><path color="#03b6d5" d="M3613 3230l20 46-15-61-20-36z"/><path color="#09c7a1" d="M3593 3187l20 43-15-51-20-34z"/><path color="#36cc67" d="M3573 3154l20 33-15-42-20-27z"/><path color="#62cc4a" d="M3553 3131l20 23-15-36-20-20z"/><path color="#8aca36" d="M3533 3118l20 13-15-33-20-12z"/><path color="#cac41e" d="M3513 3115l20 3-15-32-20-4z"/><path color="#e3bf1b" d="M3493 3122l20-7-15-33-20 3z"/><path color="#cac41e" d="M3473 3139l20-17-15-37-20 12z"/><path color="#acc827" d="M3453 3162l20-23-15-42-20 16z"/><path color="#8aca36" d="M3433 3180l20-18-15-49-20 13zM3413 3180l20 0-15-54-20-3z"/><path color="#3fcc60" d="M3928 3073l20-11-16-49-20 13zM3908 3063l20 10-16-47-20-5z"/><path color="#55cc51" d="M3888 3047l20 16-16-42-20-11z"/><path color="#6fcc42" d="M3868 3037l20 10-16-37-20-4z"/><path color="#8aca36" d="M3848 3040l20-3-16-31-19 6z"/><path color="#6fcc42" d="M3828 3055l20-15-15-28-20 16z"/><path color="#62cc4a" d="M3808 3082l20-27-15-27-20 26z"/><path color="#3fcc60" d="M3788 3120l20-38-15-28-20 36z"/><path color="#0fca91" d="M3768 3171l20-51-15-30-20 46z"/><path color="#02b9cf" d="M3748 3234l20-63-15-35-20 55z"/><path color="#0e9bf2" d="M3728 3302l20-68-15-43-20 59z"/><path color="#286cfe" d="M3708 3363l20-61-15-52-20 50z"/><path color="#384af6" d="M3688 3393l20-30-15-63-20 24zM3668 3375l20 18-15-69-20-11z"/><path color="#286cfe" d="M3648 3328l20 47-15-62-20-37z"/><path color="#0e9bf2" d="M3628 3272l20 56-15-52-20-46z"/><path color="#02b9cf" d="M3608 3223l20 49-15-42-20-43z"/><path color="#0fca91" d="M3588 3185l20 38-15-36-20-33z"/><path color="#3fcc60" d="M3568 3159l20 26-15-31-20-23z"/><path color="#62cc4a" d="M3548 3145l20 14-15-28-20-13z"/><path color="#6fcc42" d="M3529 3143l19 2-15-27-20-3z"/><path color="#8aca36" d="M3509 3153l20-10-16-28-20 7z"/><path color="#6fcc42" d="M3489 3175l20-22-16-31-20 17z"/><path color="#55cc51" d="M3469 3204l20-29-16-36-20 23z"/><path color="#3fcc60" d="M3449 3227l20-23-16-42-20 18zM3429 3229l20-2-16-47-20 0z"/><path color="#19cb85" d="M3943 3097l20-11-15-24-20 11z"/><path color="#23cb78" d="M3923 3084l20 13-15-24-20-10z"/><path color="#3fcc60" d="M3903 3066l20 18-15-21-20-16z"/><path color="#55cc51" d="M3883 3055l20 11-15-19-20-10z"/><path color="#62cc4a" d="M3863 3056l20-1-15-18-20 3zM3843 3071l20-15-15-16-20 15z"/><path color="#48cc59" d="M3823 3098l20-27-15-16-20 27z"/><path color="#2ccc6d" d="M3803 3137l20-39-15-16-20 38z"/><path color="#09c7a1" d="M3783 3190l20-53-15-17-20 51z"/><path color="#05afe2" d="M3763 3255l20-65-15-19-20 63z"/><path color="#1888fb" d="M3743 3328l20-73-15-21-20 68z"/><path color="#384af6" d="M3723 3395l20-67-15-26-20 61z"/><path color="#432cdd" d="M3704 3438l19-43-15-32-20 30zM3684 3407l20 31-16-45-20-18z"/><path color="#384af6" d="M3664 3354l20 53-16-32-20-47z"/><path color="#1888fb" d="M3644 3294l20 60-16-26-20-56z"/><path color="#05afe2" d="M3624 3241l20 53-16-22-20-49z"/><path color="#09c7a1" d="M3604 3202l20 39-16-18-20-38z"/><path color="#2ccc6d" d="M3584 3175l20 27-16-17-20-26z"/><path color="#48cc59" d="M3564 3161l20 14-16-16-20-14z"/><path color="#62cc4a" d="M3544 3159l20 2-16-16-19-2zM3524 3170l20-11-15-16-20 10z"/><path color="#55cc51" d="M3504 3194l20-24-15-17-20 22z"/><path color="#3fcc60" d="M3484 3226l20-32-15-19-20 29z"/><path color="#23cb78" d="M3464 3251l20-25-15-22-20 23z"/><path color="#19cb85" d="M3444 3254l20-3-15-24-20 2zM3958 3090l20-11-15 7-20 11z"/><path color="#23cb78" d="M3938 3079l20 11-15 7-20-13z"/><path color="#3fcc60" d="M3918 3063l20 16-15 5-20-18z"/><path color="#55cc51" d="M3898 3054l20 9-15 3-20-11z"/><path color="#62cc4a" d="M3878 3057l20-3-15 1-20 1zM3859 3072l19-15-15-1-20 15z"/><path color="#48cc59" d="M3839 3099l20-27-16-1-20 27z"/><path color="#2ccc6d" d="M3819 3137l20-38-16-1-20 39z"/><path color="#09c7a1" d="M3799 3188l20-51-16 0-20 53z"/><path color="#05afe2" d="M3779 3250l20-62-16 2-20 65z"/><path color="#1888fb" d="M3759 3319l20-69-16 5-20 73z"/><path color="#384af6" d="M3739 3379l20-60-16 9-20 67z"/><path color="#432cdd" d="M3719 3409l20-30-16 16-19 43zM3699 3392l20 17-15 29-20-31z"/><path color="#384af6" d="M3679 3345l20 47-15 15-20-53z"/><path color="#1888fb" d="M3659 3289l20 56-15 9-20-60z"/><path color="#05afe2" d="M3639 3239l20 50-15 5-20-53z"/><path color="#09c7a1" d="M3619 3201l20 38-15 2-20-39z"/><path color="#2ccc6d" d="M3599 3176l20 25-15 1-20-27z"/><path color="#48cc59" d="M3579 3162l20 14-15-1-20-14z"/><path color="#62cc4a" d="M3559 3160l20 2-15-1-20-2zM3539 3170l20-10-15-1-20 11z"/><path color="#55cc51" d="M3519 3192l20-22-15 0-20 24z"/><path color="#3fcc60" d="M3499 3221l20-29-15 2-20 32z"/><path color="#23cb78" d="M3479 3244l20-23-15 5-20 25z"/><path color="#19cb85" d="M3459 3246l20-2-15 7-20 3z"/><path color="#3fcc60" d="M3974 3059l20-13-16 33-20 11zM3954 3054l20 5-16 31-20-11z"/><path color="#55cc51" d="M3934 3044l20 10-16 25-20-16z"/><path color="#6fcc42" d="M3914 3040l20 4-16 19-20-9z"/><path color="#8aca36" d="M3894 3045l20-5-16 14-20 3z"/><path color="#6fcc42" d="M3874 3062l20-17-16 12-19 15z"/><path color="#62cc4a" d="M3854 3088l20-26-15 10-20 27z"/><path color="#3fcc60" d="M3834 3123l20-35-15 11-20 38z"/><path color="#0fca91" d="M3814 3169l20-46-15 14-20 51z"/><path color="#02b9cf" d="M3794 3225l20-56-15 19-20 62z"/><path color="#0e9bf2" d="M3774 3284l20-59-15 25-20 69z"/><path color="#286cfe" d="M3754 3334l20-50-15 35-20 60z"/><path color="#384af6" d="M3734 3358l20-24-15 45-20 30zM3714 3347l20 11-15 51-20-17z"/><path color="#286cfe" d="M3694 3309l20 38-15 45-20-47z"/><path color="#0e9bf2" d="M3674 3263l20 46-15 36-20-56z"/><path color="#02b9cf" d="M3654 3221l20 42-15 26-20-50z"/><path color="#0fca91" d="M3634 3188l20 33-15 18-20-38z"/><path color="#3fcc60" d="M3614 3165l20 23-15 13-20-25z"/><path color="#62cc4a" d="M3594 3152l20 13-15 11-20-14z"/><path color="#6fcc42" d="M3574 3148l20 4-15 10-20-2z"/><path color="#8aca36" d="M3555 3155l19-7-15 12-20 10z"/><path color="#6fcc42" d="M3535 3173l20-18-16 15-20 22z"/><path color="#55cc51" d="M3515 3196l20-23-16 19-20 29z"/><path color="#3fcc60" d="M3495 3214l20-18-16 25-20 23zM3475 3214l20 0-16 30-20 2z"/><path color="#8aca36" d="M3989 3022l20-16-15 40-20 13zM3969 3022l20 0-15 37-20-5z"/><path color="#acc827" d="M3949 3019l20 3-15 32-20-10z"/><path color="#cac41e" d="M3929 3020l20-1-15 25-20-4z"/><path color="#e3bf1b" d="M3909 3029l20-9-15 20-20 5z"/><path color="#cac41e" d="M3889 3047l20-18-15 16-20 17z"/><path color="#8aca36" d="M3869 3072l20-25-15 15-20 26z"/><path color="#62cc4a" d="M3849 3104l20-32-15 16-20 35z"/><path color="#36cc67" d="M3829 3144l20-40-15 19-20 46z"/><path color="#09c7a1" d="M3809 3191l20-47-15 25-20 56z"/><path color="#03b6d5" d="M3789 3239l20-48-15 34-20 59z"/><path color="#0e9bf2" d="M3769 3280l20-41-15 45-20 50z"/><path color="#1888fb" d="M3749 3300l20-20-15 54-20 24zM3729 3293l20 7-15 58-20-11z"/><path color="#0e9bf2" d="M3710 3265l19 28-15 54-20-38z"/><path color="#03b6d5" d="M3690 3229l20 36-16 44-20-46z"/><path color="#09c7a1" d="M3670 3195l20 34-16 34-20-42z"/><path color="#36cc67" d="M3650 3168l20 27-16 26-20-33z"/><path color="#62cc4a" d="M3630 3149l20 19-16 20-20-23z"/><path color="#8aca36" d="M3610 3137l20 12-16 16-20-13z"/><path color="#cac41e" d="M3590 3132l20 5-16 15-20-4z"/><path color="#e3bf1b" d="M3570 3136l20-4-16 16-19 7z"/><path color="#cac41e" d="M3550 3147l20-11-15 19-20 18z"/><path color="#acc827" d="M3530 3164l20-17-15 26-20 23z"/><path color="#8aca36" d="M3510 3176l20-12-15 32-20 18zM3490 3174l20 2-15 38-20 0z"/><path color="#fab91b" d="M4004 2989l20-17-15 34-20 16zM3984 2994l20-5-15 33-20 0zM3964 2996l20-2-15 28-20-3z"/><path color="#fcb81d" d="M3944 3002l20-6-15 23-20 1zM3924 3014l20-12-15 18-20 9z"/><path color="#fab91b" d="M3904 3032l20-18-15 15-20 18z"/><path color="#e3bf1b" d="M3884 3056l20-24-15 15-20 25z"/><path color="#acc827" d="M3865 3085l19-29-15 16-20 32z"/><path color="#55cc51" d="M3845 3119l20-34-16 19-20 40z"/><path color="#2ccc6d" d="M3825 3159l20-40-16 25-20 47z"/><path color="#09c7a1" d="M3805 3199l20-40-16 32-20 48z"/><path color="#02b9cf" d="M3785 3232l20-33-16 40-20 41z"/><path color="#05afe2" d="M3765 3249l20-17-16 48-20 20zM3745 3245l20 4-16 51-20-7z"/><path color="#02b9cf" d="M3725 3225l20 20-16 48-19-28z"/><path color="#09c7a1" d="M3705 3197l20 28-15 40-20-36z"/><path color="#2ccc6d" d="M3685 3171l20 26-15 32-20-34z"/><path color="#55cc51" d="M3665 3149l20 22-15 24-20-27z"/><path color="#acc827" d="M3645 3133l20 16-15 19-20-19z"/><path color="#e3bf1b" d="M3625 3122l20 11-15 16-20-12z"/><path color="#fab91b" d="M3605 3117l20 5-15 15-20-5z"/><path color="#fcb81d" d="M3585 3118l20-1-15 15-20 4zM3565 3125l20-7-15 18-20 11z"/><path color="#fab91b" d="M3545 3136l20-11-15 22-20 17zM3525 3143l20-7-15 28-20 12zM3505 3139l20 4-15 33-20-2z"/><path color="#ffc71a" d="M4020 2967l19-18-15 23-20 17zM4000 2975l20-8-16 22-20 5zM3980 2981l20-6-16 19-20 2zM3960 2989l20-8-16 15-20 6z"/><path color="#ffbf1c" d="M3940 3002l20-13-16 13-20 12z"/><path color="#ffb81e" d="M3920 3020l20-18-16 12-20 18z"/><path color="#fcb81d" d="M3900 3042l20-22-16 12-20 24z"/><path color="#e3bf1b" d="M3880 3069l20-27-16 14-19 29z"/><path color="#acc827" d="M3860 3100l20-31-15 16-20 34z"/><path color="#55cc51" d="M3840 3134l20-34-15 19-20 40z"/><path color="#36cc67" d="M3820 3168l20-34-15 25-20 40z"/><path color="#0fca91" d="M3800 3196l20-28-15 31-20 33z"/><path color="#09c7a1" d="M3780 3211l20-15-15 36-20 17zM3760 3209l20 2-15 38-20-4z"/><path color="#0fca91" d="M3740 3194l20 15-15 36-20-20z"/><path color="#36cc67" d="M3720 3172l20 22-15 31-20-28z"/><path color="#55cc51" d="M3700 3151l20 21-15 25-20-26z"/><path color="#acc827" d="M3680 3133l20 18-15 20-20-22z"/><path color="#e3bf1b" d="M3660 3119l20 14-15 16-20-16z"/><path color="#fcb81d" d="M3640 3110l20 9-15 14-20-11z"/><path color="#ffb81e" d="M3620 3105l20 5-15 12-20-5z"/><path color="#ffbf1c" d="M3600 3104l20 1-15 12-20 1z"/><path color="#ffc71a" d="M3581 3109l19-5-15 14-20 7zM3561 3117l20-8-16 16-20 11zM3541 3121l20-4-16 19-20 7zM3521 3116l20 5-16 22-20-4z"/><path color="#ffe010" d="M4035 2956l20-18-16 11-19 18z"/><path color="#ffd815" d="M4015 2965l20-9-15 11-20 8zM3995 2972l20-7-15 10-20 6zM3975 2981l20-9-15 9-20 8zM3955 2994l20-13-15 8-20 13z"/><path color="#ffd017" d="M3935 3011l20-17-15 8-20 18z"/><path color="#ffbf1c" d="M3915 3032l20-21-15 9-20 22z"/><path color="#fcb81d" d="M3895 3057l20-25-15 10-20 27z"/><path color="#e3bf1b" d="M3875 3085l20-28-15 12-20 31z"/><path color="#acc827" d="M3855 3116l20-31-15 15-20 34z"/><path color="#62cc4a" d="M3835 3147l20-31-15 18-20 34z"/><path color="#3fcc60" d="M3815 3173l20-26-15 21-20 28z"/><path color="#2ccc6d" d="M3795 3187l20-14-15 23-20 15zM3775 3186l20 1-15 24-20-2z"/><path color="#3fcc60" d="M3755 3173l20 13-15 23-20-15z"/><path color="#62cc4a" d="M3736 3155l19 18-15 21-20-22z"/><path color="#acc827" d="M3716 3137l20 18-16 17-20-21z"/><path color="#e3bf1b" d="M3696 3121l20 16-16 14-20-18z"/><path color="#fcb81d" d="M3676 3110l20 11-16 12-20-14z"/><path color="#ffbf1c" d="M3656 3101l20 9-16 9-20-9z"/><path color="#ffd017" d="M3636 3097l20 4-16 9-20-5z"/><path color="#ffd815" d="M3616 3096l20 1-16 8-20-1zM3596 3100l20-4-16 8-19 5zM3576 3107l20-7-15 9-20 8zM3556 3110l20-3-15 10-20 4z"/><path color="#ffe010" d="M3536 3105l20 5-15 11-20-5z"/><path color="#fff005" d="M4050 2955l20-17-15 0-20 18z"/><path color="#ffe80a" d="M4030 2964l20-9-15 1-20 9zM4010 2969l20-5-15 1-20 7zM3990 2978l20-9-15 3-20 9z"/><path color="#ffe010" d="M3970 2990l20-12-15 3-20 13z"/><path color="#ffd815" d="M3950 3006l20-16-15 4-20 17z"/><path color="#ffd017" d="M3930 3026l20-20-15 5-20 21z"/><path color="#ffbf1c" d="M3910 3049l20-23-15 6-20 25z"/><path color="#fcb81d" d="M3891 3076l19-27-15 8-20 28z"/><path color="#e3bf1b" d="M3871 3106l20-30-16 9-20 31z"/><path color="#8aca36" d="M3851 3136l20-30-16 10-20 31z"/><path color="#62cc4a" d="M3831 3161l20-25-16 11-20 26z"/><path color="#48cc59" d="M3811 3174l20-13-16 12-20 14zM3791 3174l20 0-16 13-20-1z"/><path color="#62cc4a" d="M3771 3161l20 13-16 12-20-13z"/><path color="#8aca36" d="M3751 3144l20 17-16 12-19-18z"/><path color="#e3bf1b" d="M3731 3128l20 16-15 11-20-18z"/><path color="#fcb81d" d="M3711 3114l20 14-15 9-20-16z"/><path color="#ffbf1c" d="M3691 3103l20 11-15 7-20-11z"/><path color="#ffd017" d="M3671 3096l20 7-15 7-20-9z"/><path color="#ffd815" d="M3651 3093l20 3-15 5-20-4z"/><path color="#ffe010" d="M3631 3093l20 0-15 4-20-1z"/><path color="#ffe80a" d="M3611 3098l20-5-15 3-20 4zM3591 3105l20-7-15 2-20 7zM3571 3110l20-5-15 2-20 3z"/><path color="#fff005" d="M3551 3105l20 5-15 0-20-5zM4065 2965l20-16-15-11-20 17zM4046 2971l19-6-15-10-20 9zM4026 2974l20-3-16-7-20 5zM4006 2980l20-6-16-5-20 9z"/><path color="#ffe80a" d="M3986 2990l20-10-16-2-20 12zM3966 3005l20-15-16 0-20 16z"/><path color="#ffd815" d="M3946 3023l20-18-16 1-20 20z"/><path color="#ffd017" d="M3926 3046l20-23-16 3-20 23z"/><path color="#ffb81e" d="M3906 3073l20-27-16 3-19 27z"/><path color="#fab91b" d="M3886 3103l20-30-15 3-20 30z"/><path color="#cac41e" d="M3866 3134l20-31-15 3-20 30z"/><path color="#6fcc42" d="M3846 3160l20-26-15 2-20 25z"/><path color="#62cc4a" d="M3826 3175l20-15-15 1-20 13zM3806 3173l20 2-15-1-20 0z"/><path color="#6fcc42" d="M3786 3160l20 13-15 1-20-13z"/><path color="#cac41e" d="M3766 3142l20 18-15 1-20-17z"/><path color="#fab91b" d="M3746 3124l20 18-15 2-20-16z"/><path color="#ffb81e" d="M3726 3111l20 13-15 4-20-14z"/><path color="#ffd017" d="M3706 3101l20 10-15 3-20-11z"/><path color="#ffd815" d="M3686 3095l20 6-15 2-20-7z"/><path color="#ffe80a" d="M3666 3093l20 2-15 1-20-3zM3646 3095l20-2-15 0-20 0z"/><path color="#fff005" d="M3626 3103l20-8-15-2-20 5zM3607 3113l19-10-15-5-20 7zM3587 3119l20-6-16-8-20 5zM3567 3116l20 3-16-9-20-5z"/><path color="#ffe80a" d="M4081 2986l20-14-16-23-20 16zM4061 2988l20-2-16-21-19 6zM4041 2986l20 2-15-17-20 3z"/><path color="#fff005" d="M4021 2987l20-1-15-12-20 6zM4001 2994l20-7-15-7-20 10z"/><path color="#ffe80a" d="M3981 3007l20-13-15-4-20 15z"/><path color="#ffe010" d="M3961 3025l20-18-15-2-20 18z"/><path color="#ffd815" d="M3941 3048l20-23-15-2-20 23z"/><path color="#ffbf1c" d="M3921 3076l20-28-15-2-20 27z"/><path color="#fcb81d" d="M3901 3109l20-33-15-3-20 30z"/><path color="#e3bf1b" d="M3881 3143l20-34-15-6-20 31z"/><path color="#8aca36" d="M3861 3172l20-29-15-9-20 26z"/><path color="#62cc4a" d="M3841 3188l20-16-15-12-20 15zM3821 3185l20 3-15-13-20-2z"/><path color="#8aca36" d="M3801 3169l20 16-15-12-20-13z"/><path color="#e3bf1b" d="M3781 3147l20 22-15-9-20-18z"/><path color="#fcb81d" d="M3762 3127l19 20-15-5-20-18z"/><path color="#ffbf1c" d="M3742 3112l20 15-16-3-20-13z"/><path color="#ffd815" d="M3722 3102l20 10-16-1-20-10z"/><path color="#ffe010" d="M3702 3097l20 5-16-1-20-6z"/><path color="#ffe80a" d="M3682 3097l20 0-16-2-20-2z"/><path color="#fff005" d="M3662 3103l20-6-16-4-20 2zM3642 3115l20-12-16-8-20 8z"/><path color="#ffe80a" d="M3622 3130l20-15-16-12-19 10zM3602 3141l20-11-15-17-20 6zM3582 3140l20 1-15-22-20-3z"/><path color="#ffd815" d="M4096 3019l20-11-15-36-20 14zM4076 3014l20 5-15-33-20 2z"/><path color="#ffe010" d="M4056 3006l20 8-15-26-20-2z"/><path color="#ffe80a" d="M4036 3001l20 5-15-20-20 1z"/><path color="#fff005" d="M4016 3004l20-3-15-14-20 7zM3996 3014l20-10-15-10-20 13z"/><path color="#ffe80a" d="M3976 3031l20-17-15-7-20 18z"/><path color="#ffd815" d="M3956 3055l20-24-15-6-20 23z"/><path color="#ffc71a" d="M3936 3085l20-30-15-7-20 28z"/><path color="#fcb81d" d="M3917 3123l19-38-15-9-20 33z"/><path color="#cac41e" d="M3897 3163l20-40-16-14-20 34z"/><path color="#6fcc42" d="M3877 3197l20-34-16-20-20 29z"/><path color="#55cc51" d="M3857 3214l20-17-16-25-20 16zM3837 3209l20 5-16-26-20-3z"/><path color="#6fcc42" d="M3817 3188l20 21-16-24-20-16z"/><path color="#cac41e" d="M3797 3161l20 27-16-19-20-22z"/><path color="#fcb81d" d="M3777 3137l20 24-16-14-19-20z"/><path color="#ffc71a" d="M3757 3119l20 18-15-10-20-15z"/><path color="#ffd815" d="M3737 3108l20 11-15-7-20-10z"/><path color="#ffe80a" d="M3717 3104l20 4-15-6-20-5z"/><path color="#fff005" d="M3697 3107l20-3-15-7-20 0zM3677 3117l20-10-15-10-20 6z"/><path color="#ffe80a" d="M3657 3134l20-17-15-14-20 12z"/><path color="#ffe010" d="M3637 3156l20-22-15-19-20 15z"/><path color="#ffd815" d="M3617 3173l20-17-15-26-20 11zM3597 3175l20-2-15-32-20-1z"/><path color="#ffbf1c" d="M4111 3057l20-8-15-41-20 11zM4091 3046l20 11-15-38-20-5z"/><path color="#ffd017" d="M4072 3029l19 17-15-32-20-8z"/><path color="#ffe010" d="M4052 3018l20 11-16-23-20-5z"/><path color="#ffe80a" d="M4032 3015l20 3-16-17-20 3z"/><path color="#fff005" d="M4012 3023l20-8-16-11-20 10z"/><path color="#ffe80a" d="M3992 3039l20-16-16-9-20 17z"/><path color="#ffd815" d="M3972 3064l20-25-16-8-20 24z"/><path color="#ffc71a" d="M3952 3098l20-34-16-9-20 30z"/><path color="#fab91b" d="M3932 3141l20-43-16-13-19 38z"/><path color="#acc827" d="M3912 3188l20-47-15-18-20 40z"/><path color="#55cc51" d="M3892 3228l20-40-15-25-20 34z"/><path color="#3fcc60" d="M3872 3247l20-19-15-31-20 17zM3852 3240l20 7-15-33-20-5z"/><path color="#55cc51" d="M3832 3213l20 27-15-31-20-21z"/><path color="#acc827" d="M3812 3179l20 34-15-25-20-27z"/><path color="#fab91b" d="M3792 3150l20 29-15-18-20-24z"/><path color="#ffc71a" d="M3772 3128l20 22-15-13-20-18z"/><path color="#ffd815" d="M3752 3116l20 12-15-9-20-11z"/><path color="#ffe80a" d="M3732 3113l20 3-15-8-20-4z"/><path color="#fff005" d="M3712 3118l20-5-15-9-20 3z"/><path color="#ffe80a" d="M3692 3133l20-15-15-11-20 10z"/><path color="#ffe010" d="M3672 3158l20-25-15-16-20 17z"/><path color="#ffd017" d="M3652 3187l20-29-15-24-20 22z"/><path color="#ffbf1c" d="M3632 3211l20-24-15-31-20 17zM3613 3216l19-5-15-38-20 2z"/><path color="#f8ba1a" d="M4127 3089l20-5-16-35-20 8z"/><path color="#fab91b" d="M4107 3072l20 17-16-32-20-11z"/><path color="#ffbf1c" d="M4087 3048l20 24-16-26-19-17z"/><path color="#ffd815" d="M4067 3031l20 17-15-19-20-11z"/><path color="#ffe80a" d="M4047 3024l20 7-15-13-20-3z"/><path color="#fff005" d="M4027 3029l20-5-15-9-20 8z"/><path color="#ffe80a" d="M4007 3045l20-16-15-6-20 16z"/><path color="#ffd815" d="M3987 3071l20-26-15-6-20 25z"/><path color="#ffc71a" d="M3967 3108l20-37-15-7-20 34z"/><path color="#fab91b" d="M3947 3155l20-47-15-10-20 43z"/><path color="#8aca36" d="M3927 3208l20-53-15-14-20 47z"/><path color="#3fcc60" d="M3907 3253l20-45-15-20-20 40z"/><path color="#23cb78" d="M3887 3274l20-21-15-25-20 19zM3867 3266l20 8-15-27-20-7z"/><path color="#3fcc60" d="M3847 3233l20 33-15-26-20-27z"/><path color="#8aca36" d="M3827 3194l20 39-15-20-20-34z"/><path color="#fab91b" d="M3807 3159l20 35-15-15-20-29z"/><path color="#ffc71a" d="M3787 3135l20 24-15-9-20-22z"/><path color="#ffd815" d="M3768 3122l19 13-15-7-20-12z"/><path color="#ffe80a" d="M3748 3119l20 3-16-6-20-3z"/><path color="#fff005" d="M3728 3127l20-8-16-6-20 5z"/><path color="#ffe80a" d="M3708 3146l20-19-16-9-20 15z"/><path color="#ffd815" d="M3688 3177l20-31-16-13-20 25z"/><path color="#ffbf1c" d="M3668 3213l20-36-16-19-20 29z"/><path color="#fab91b" d="M3648 3243l20-30-16-26-20 24z"/><path color="#f8ba1a" d="M3628 3251l20-8-16-32-19 5z"/><path color="#e3bf1b" d="M4142 3098l20-3-15-11-20 5z"/><path color="#f8ba1a" d="M4122 3079l20 19-15-9-20-17z"/><path color="#ffbf1c" d="M4102 3052l20 27-15-7-20-24z"/><path color="#ffd815" d="M4082 3032l20 20-15-4-20-17z"/><path color="#ffe80a" d="M4062 3023l20 9-15-1-20-7z"/><path color="#fff005" d="M4042 3027l20-4-15 1-20 5zM4022 3042l20-15-15 2-20 16z"/><path color="#ffe010" d="M4002 3068l20-26-15 3-20 26z"/><path color="#ffc71a" d="M3982 3106l20-38-15 3-20 37z"/><path color="#fab91b" d="M3962 3155l20-49-15 2-20 47z"/><path color="#8aca36" d="M3942 3209l20-54-15 0-20 53z"/><path color="#3fcc60" d="M3923 3256l19-47-15-1-20 45z"/><path color="#19cb85" d="M3903 3279l20-23-16-3-20 21zM3883 3269l20 10-16-5-20-8z"/><path color="#3fcc60" d="M3863 3235l20 34-16-3-20-33z"/><path color="#8aca36" d="M3843 3193l20 42-16-2-20-39z"/><path color="#fab91b" d="M3823 3157l20 36-16 1-20-35z"/><path color="#ffc71a" d="M3803 3132l20 25-16 2-20-24z"/><path color="#ffe010" d="M3783 3119l20 13-16 3-19-13z"/><path color="#fff005" d="M3763 3117l20 2-15 3-20-3zM3743 3126l20-9-15 2-20 8z"/><path color="#ffe80a" d="M3723 3147l20-21-15 1-20 19z"/><path color="#ffd815" d="M3703 3181l20-34-15-1-20 31z"/><path color="#ffbf1c" d="M3683 3220l20-39-15-4-20 36z"/><path color="#f8ba1a" d="M3663 3253l20-33-15-7-20 30z"/><path color="#e3bf1b" d="M3643 3262l20-9-15-10-20 8z"/></g><path d="M364.3 363.1L416.2 346.4M364.3 363.1L324.5 341.3M324.5 341.3L324.5 293.7" stroke="#6a6a6a" stroke-width="0.5"/><path d="M364.3 363.1L364.8 364M390.3 354.7L390.8 355.6M416.2 346.4L416.7 347.3M364.3 363.1L363.7 364M344.4 352.2L343.8 353.1M324.5 341.3L323.9 342.2M324.5 331.1L323.5 331.1M324.5 320.9L323.5 320.9M324.5 310.8L323.5 310.8M324.5 300.6L323.5 300.6" stroke="#6a6a6a" stroke-width="0.4"/><text transform="matrix(.90 0 0 1 366.9 369.4)" font-size="4.9" fill="#303030">-1</text><text transform="matrix(.90 0 0 1 392.9 361)" font-size="4.9" fill="#303030">0</text><text transform="matrix(.90 0 0 1 418.8 352.7)" font-size="4.9" fill="#303030">1</text><text transform="matrix(.90 0 0 1 361.1 369)" font-size="4.9" text-anchor="end" fill="#303030">-1</text><text transform="matrix(.90 0 0 1 341.2 358.1)" font-size="4.9" text-anchor="end" fill="#303030">0</text><text transform="matrix(.90 0 0 1 321.3 347.2)" font-size="4.9" text-anchor="end" fill="#303030">1</text><text transform="matrix(.90 0 0 1 321.5 332.6)" font-size="4.9" text-anchor="end" fill="#303030">1</text><text transform="matrix(.90 0 0 1 321.5 322.4)" font-size="4.9" text-anchor="end" fill="#303030">2</text><text transform="matrix(.90 0 0 1 321.5 312.3)" font-size="4.9" text-anchor="end" fill="#303030">3</text><text transform="matrix(.90 0 0 1 321.5 302.1)" font-size="4.9" text-anchor="end" fill="#303030">4</text><text transform="matrix(.90 0 0 1 389.8 372.3)" font-size="5.300000000000001" text-anchor="middle" fill="#303030">x</text><text transform="matrix(.90 0 0 1 342.6 371.4)" font-size="5.300000000000001" text-anchor="middle" fill="#303030">y</text><text font-size="5.300000000000001" fill="#303030" text-anchor="middle" transform="translate(315.8 317.5) rotate(-90) scale(1 0.9)">z</text><text transform="matrix(.90 0 0 1 370.5 275.2)" font-size="5.4" text-anchor="middle" fill="#222" font-weight="bold">F10</text><path d="M61.5 495.1L23.4 473.3M23.4 473.3L23.4 425.8M78 489.5L39.9 467.8M39.9 467.8L39.9 420.2M94.6 484L56.5 462.2M56.5 462.2L56.5 414.7M111.1 478.4L73 456.6M73 456.6L73 409.1M61.5 495.1L23.4 473.3M23.4 473.3L23.4 425.8M111.1 478.4L73 456.6M73 456.6L73 409.1M61.5 495.1L111.1 478.4M111.1 478.4L111.1 430.9M48.8 487.8L98.4 471.1M98.4 471.1L98.4 423.6M36.1 480.6L85.7 463.9M85.7 463.9L85.7 416.4M23.4 473.3L73 456.6M73 456.6L73 409.1M61.5 495.1L111.1 478.4M111.1 478.4L111.1 430.9M23.4 473.3L73 456.6M73 456.6L73 409.1M23.4 466.9L73 450.2M73 450.2L111.1 472M23.4 460.5L73 443.8M73 443.8L111.1 465.6M23.4 454.1L73 437.4M73 437.4L111.1 459.2M23.4 447.7L73 431M73 431L111.1 452.8M23.4 441.3L73 424.6M73 424.6L111.1 446.4M23.4 434.9L73 418.2M73 418.2L111.1 440M23.4 428.5L73 411.8M73 411.8L111.1 433.5M23.4 473.3L73 456.6M73 456.6L111.1 478.4M23.4 425.8L73 409.1M73 409.1L111.1 430.9" stroke="#e2e2e2" stroke-width="0.4"/><g fill="none" stroke-width="4.5" transform="scale(.1)"><path stroke="#5f4be1" d="M713 4918l-6-2-4-2-3-5 1-6 4-5 4-3 5-3 5-2 6-1 6-2 7 0 8-1 9 0 6 0 8 2 6 1 4 3M847 4873l-5-2-5-3-2-6 3-5 6-5 5-2 6-2 6-2 7-1 5 0 11 0 9 1 7 1 5 3 3 2M993 4824l-5-3 0-7 5-2 5-2 8-1 8 0 7 2 4 2M590 4937l6-2 6-1 7-1 8-1 8 0 9 1 6 2 4 2M487 4878l5-2 6-2 5-2 6-2 5-2 6-1 5-2 6-2 5-2 6-2 5-2 6-2 5-1 6-2 5-2 5-2 5-2 5-3 6-2 5-2 5-2 5-2 6-2 5-2 6-1 5-2 6-2 6-2 6-1 6-2 5-1 6-2 6-2 6-2 6-1 5-2 6-2 5-2 6-2 5-1 6-2 5-2 6-2 5-2 6-2 5-2 6-1 6-2 5-2 6-2 6-1 6-2 6-1 6-2 6-1 6-2 6-2 6-1 6-2 6-1 6-2 6-2 6-1 5-2 6-2 6-1 6-2 6-2 6-1 6-2 6-1 6-2 6-1 6-2 7-1 6-2 6-1 7-1 6-2 7-1 6-1 8-1 7-1 8 0 5 0-3 6-4 3-4 2-4 3-5 2-4 3-5 2-4 2-5 3-5 2-5 2-5 3-4 2-5 2-5 2-6 2-5 2-5 2-5 2-5 2-5 2-6 2-5 2-5 3-5 2-5 2-5 2-5 2-5 2-5 2-5 2-5 3-5 2-5 2-6 2-5 2-5 2-5 2-6 2-5 2-6 1-6 2-5 2-6 2-5 2-6 2-5 1-6 2-5 2-5 2-6 2-5 2-5 2-5 2-5 2-6 2-5 2-5 2-5 2-6 2-5 2-6 2-6 2-6 1-6 2-5 2-6 1-6 2-6 2-6 1-5 2-6 2-6 2-5 2-6 1-5 2-6 2-5 2-5 2-6 2-5 2-6 2-6 1-5 2M560 4809l-7 1-8 1-9 0-6-1-8-1-6-2-4-2-3-5-1-5 1-8 2-5 4-4 4-2 7-1 7-1 9 0 10 1 11 1 8 1 7 2 6 2 5 2 3 4-2 7-4 5-4 3-5 2-5 2-6 2-6 1M682 4764l-8 1-8 0-9-1-6-2-4-2-4-7-1-7 2-5 5-5 6-3 6-1 8 0 9 0 11 1 9 2 7 1 5 2 4 3 2 7-3 4-3 3-4 3-5 2-6 2-6 1-7 1M817 4711l-5 1-11 0-8-2-3-2-1-8 3-3 6-2 7-1 10 1 7 2 4 2 0 7-4 3-5 2M390 4822l6-1 7-1 7 0 10 1 9 0 8 2 7 1 6 2 4 2 2 7-3 5-6 5-5 2-6 2M461 4743l-6 1-8-2-6-2-5-2-4-2-5-6 1-6 9 0 10 3 6 2 4 2 4 3 4 6-4 3M589 4696l-6 0-7-1-5-2-4-3-4-4 6-4 6 1 7 2 4 3 4 2M300 4771l9 0 9 3 4 3 4 2-1 6"/><path stroke="#5a5df3" d="M957 4836l-9 0-5 2-4 3M628 4912l12-1 6-2 5-3 3-3-2-7-10 0-8 1-6 2-5 1-5 3-5 2-1 5 6 2 7 0M764 4866l8 0 7-2 5-2 4-2 3-4-2-6-9-1-8 2-6 1-5 2-5 2-5 3-1 4 5 2 9 1M1034 4740l-5 2-5 2-5 2-5 2-5 3-5 2-5 2-5 2-5 3-4 2-5 2-4 3-5 2-4 3-5 2-4 3-5 2-4 2-5 3-5 2-6 2-5 1-6 2-6 2-5 2-6 1-6 2-5 2-5 2-5 2-5 2-5 3-5 2-4 3-4 3-3 3 3 6 7 1 9 1 10 1 10 0 11 0 10 0 8-1 5-2 4-2 3-3 3-4 3-3 3-3 4-4 3-2 4-3 5-2 6-2 6-2 6-1 7-1 8-1 8 0 9 0 10 1 10 1 7 1 5 2 4 3M511 4848l8-2 6-1 5-2 5-2 5-3 2-5-6-2-9 0-8 0-6 1-6 2-4 3-3 4 2 6 9 1M649 4801l8-1 6-2 5-2 5-2 5-2 1-5-6-2-7 0-8 0-7 1-6 2-5 2-3 3 3 7 9 1M367 4809l7-1 10 1 10 1 10 1 9 0 10 1 10 0 10 1 9 0 8-1 7-1 6-1 4-3 4-3 3-3 4-7 1-5 2-8 0-6-1-9-7-5-6-2-7-2-6-1-7-2-5-1-7-2-5-2-5-3-5-2-4-2-4-3-3-3-6-5-4-7-2-7 2-4 9 0 9 2 7 1 6 2 6 1 6 2 6 2 5 2 5 3 4 2 4 3 3 2 6 6 4 6 3 7 7 5 6 2 7 1 9 2 8 1 6 0 10 1 10 1 10 0 10 1 8 0 6-1 10 0 6-2 5-2 4-3 3-3 2-4 2-4 3-8 2-9 2-8 3-4 8 0 10 1 9 0 8 1 10 1 5 0 10 1 10 1 10 1 10 0 9 0 8 0 8-1 5-2 3-3 3-3 2-7 2-6 3-7 1-4 3-5 3-3 6-2 7-1 8 0 10 0 10 1 10 1 11 1 8 2 5 1 8 2 5 2 4 6 0 8-3 5-2 3-4 3-4 3-4 3-5 2-6 1-6 2-7 1-6 1-9 0-6 1-10 0-8 1-8 0-7 1-5 2-4 3-3 3-2 6-2 4-2 7 1 5 5 2 8 1 8-1 7-1 7-1 6-1 6-1 7-2 5-2 6-1 6-2 5-2 6-2 5-2 5-2 5-2 6-2 6-2 6-1 6-2 6-1 7-1 6-2 7-1 6-1 7-1 6-2 7-1 6-1 7-2 6-1 6-2 6-1 6-2 6-1 6-2 6-2 6-1M609 4712l-10-2-7-1-7-2-6-1-6-2-5-2-5-3-4-2-4-3-3-2-4-5-3-4-3-7 2-5 9-1 11 2 7 2 6 1 6 2 5 2 5 2 5 3 4 2 4 3 3 2 5 6 3 5 1 6-9 4M728 4660l-11-1-6-2-6-2-5-2-4-2-4-3-4-2-5-6-1-6 4-3 8 0 10 2 6 1 6 2 5 3 4 2 4 2 4 3 3 4 2 6-3 3-7 1M280 4760l8-1 12 2 7 2 6 1 6 2 5 2 6 2 4 3 4 2 4 3 4 2 3 4 4 5 2 7-3 5"/><path stroke="#4e76fd" d="M1062 4756l-8 0-6 2-6 2-5 2-5 2-3 3 2 5 9 1 7-1 5-2 5-2 3-3 4-3M953 4694l-7-1-10 1-7 1-6 1-6 2-3 3 3 6 7 0 8-1 6-1 5-2 6-2 5-2 3-3M246 4729l6 6 6 6 4 2 4 2 6 3 5 1 6 2 6 2 7 2 6 1 6 2 7 2 6 2 5 2 6 2 5 2 5 2 5 2 4 3 4 2 3 3 4 3 6 5 3 3 4 2 4 3 5 2 6 2 6 2 8 1 6 1 10 1 10 0 8 0 8-1 7-1 5-2 5-2 4-2 4-3 2-4 2-7-1-7-5-6-4-3-4-3-5-2-5-2-5-2-5-2-5-2-5-2-5-3-4-2-4-3-3-2-6-6-6-6-4-6-5-6-5-6-6-6-4-2-4-3-5-2-6-2-5-2-5-2M379 4685l3 2 3 3 7 5 4 3 4 2 5 2 6 2 6 2 6 2 6 2 6 2 7 1 5 2 7 2 5 2 6 2 5 2 5 2 5 2 4 3 4 2 4 3 3 3 6 5 4 3 4 2 4 3 5 2 5 2 5 1 9 2 8 1 7 1 9 0 9 0 8 0 7-1 6-2 5-2 4-3 4-3 2-3 3-8-2-7-2-4-6-5-5-2-4-3-5-2-6-2-5-2-5-2-5-2-5-3-4-2-4-2-3-3-6-6-5-5-3-4-3-4-3-5-3-4-5-5-3-3-4-2-5-3-5-2-5-2-6-2-5-2M510 4640l6 6 6 6 4 2 5 2 5 3 5 2 7 1 6 2 6 2 5 1 7 2 7 2 6 2 5 2 6 2 5 2 5 2 4 2 5 3 3 2 4 3 3 3 7 5 3 3 3 3 5 2 4 2 6 2 6 2 6 1 9 2 9 1 9 0 11 0 11 0 7-1 6-1 5-2 4-3 4-3 3-3 2-4 2-9-1-5-2-5-4-4-5-3-7-3-6-2-6-2-5-2-6-2-5-2-5-2-4-3-4-2-4-3-3-2-6-6-4-6-4-7-3-7 2-4 9 1 7 1 7 2 6 1 7 2 6 2 6 2 6 2 6 2 5 2 4 2 5 2 4 3 3 2 6 6 6 6 6 6 3 2 5 3 5 2 7 1 7 2 7 1 8 1 10 1 9 1 10 0 10 0 9 0 8 0 6-2 6-1 4-3 4-3 3-3 3-6M638 4597l3 3 1 6-11-1-8-3"/><path stroke="#3f92fc" d="M251 4727l4 3 4 3 3 2 4 3 5 2 4 3 5 2 5 2 6 2 6 2 5 1 7 2 6 2 5 2 7 2 6 1 6 2 5 2 5 2 5 3 5 2 4 2 4 3 4 2 3 3 4 3 4 2 4 3 5 2 6 2 6 2 7 1 7 1 9 0 8 0 7-1 6-2 5-2 4-3 3-3 1-7-3-6-7-6-4-2-5-3-4-2-5-2-5-2-4-3-4-2-4-3-4-2-3-3-3-3-5-6-4-4-3-5-4-4-4-5-6-6-4-2-4-3-4-2-4-2-5-3-5-2-4-2M384 4683l4 2 4 3 3 2 4 3 5 2 4 3 5 2 5 2 6 2 6 2 6 2 6 2 6 1 6 2 6 2 6 2 5 1 6 3 5 2 5 2 5 2 4 3 4 2 4 3 3 2 4 3 4 2 5 3 4 2 6 2 6 2 7 1 9 1 6 0 8 0 7-1 7-1 5-3 4-2 3-4 1-7-3-6-7-6-4-2-5-2-4-3-5-2-5-2-4-2-4-3-4-2-4-3-3-3-6-6-5-6-5-6-4-6-6-6-3-2-4-3-4-3-4-2-4-2-5-2-5-3-5-2M516 4639l3 2 4 3 4 2 3 3 5 2 4 3 5 2 5 2 6 2 6 2 6 2 6 1 6 2 6 2 6 2 6 2 5 2 6 2 5 2 5 2 4 2 4 3 4 2 4 3 4 2 3 3 4 3 4 2 5 2 5 2 6 2 7 2 8 1 10 1 12-1 7-1 6-1 6-2 4-3 3-3 3-7-1-7-3-3-7-6-5-2-4-2-5-2-5-3-5-2-5-2-4-2-4-3-4-3-3-2-6-6-5-6-4-5-3-4-4-5-4-4-6-6-4-2-5-2-4-3-5-2-5-2-5-2M645 4595l4 3 3 2 4 3 4 2 4 3 4 2 5 2 5 3 6 1 6 2 6 2 6 2 6 2 6 2 6 1 6 2 5 2 6 2 4 2 5 3 4 2 4 3 4 2 4 3 3 3 4 2 3 3 4 2 4 3 5 2 6 2 7 2 7 1 8 1 9 1 11 0 8 0 7-1 7-2 5-1 5-3 3-3 3-3 3-5"/><path stroke="#33a9f4" d="M842 4630l-7-3-5-2-4-3-5-2-4-2-4-3-4-2-3-3M256 4726l4 2 4 3 4 3 4 2 4 2 5 3 5 2 5 2 5 2 6 2 6 1 6 2 7 2 6 2 6 2 6 1 6 2 6 2 6 2 5 2 5 2 5 2 4 3 4 2 4 3 5 2 4 2 5 3 6 2 7 1 8 1 10 0 6-2 5-2 3-4-2-7-6-6-4-2-4-3-4-2-5-2-4-3-3-2-4-3-6-6-4-5-3-4-4-4-3-5-3-4-5-5-6-6-3-2-4-3-4-2-4-3-5-2-4-2-5-3M389 4681l3 3 4 2 4 3 5 2 4 3 5 2 5 2 5 2 5 2 6 2 6 2 6 2 6 1 7 2 6 2 6 2 6 1 6 2 6 2 5 2 5 3 5 2 4 2 4 3 4 2 5 2 4 3 5 2 6 2 5 1 10 1 9 0 6-1 5-3 3-3-1-8-6-5-4-3-4-2-5-3-4-2-4-3-4-2-3-3-6-5-4-5-4-5-2-3-4-6-5-6-6-6-3-2-3-3-4-3-4-2-5-3-4-2-5-2-4-2M520 4637l4 3 4 2 4 3 4 2 4 2 5 3 5 2 5 2 6 2 5 2 6 2 6 2 6 1 7 2 6 2 6 2 6 1 5 2 6 2 5 2 5 3 4 2 5 2 4 3 4 2 4 3 4 2 5 2 5 2 7 2 7 2 9 0 9 0 7-2 5-2 4-2 2-6-3-7-7-5-5-3-4-2-5-2-4-3-4-2-4-3-4-2-3-3-6-6-5-6-4-6-5-6-5-6-6-6-4-2-4-3-4-2-4-3-5-2-4-2-5-3M650 4593l4 3 4 2 4 3 4 2 4 3 4 2 5 2 6 2 5 2 6 2 6 2 6 2 5 1 7 3 6 1 6 2 6 2 5 2 5 2 5 2 5 3 4 2 4 3 4 2 4 3 4 2 4 3 4 2 5 2 6 2 6 2 7 1 9 1 11 0 7-1 7-1 5-2 4-2 4-4 2-7-3-7-6-4"/><path stroke="#2abae8" d="M260 4725l4 2 4 3 4 2 4 2 5 3 5 2 5 2 5 2 6 2 5 2 6 2 7 2 6 1 7 2 6 1 6 2 8 2 6 1 7 2 6 2 6 1 6 2 6 2 5 2 5 2 9 1 2-4-6-6-6-6-4-6-4-6-2-4-3-6-4-6-3-4-4-5-6-6-4-3-4-2-4-3-4-2-4-3-4-2-5-2M392 4680l4 2 5 3 4 2 4 3 5 2 4 2 5 2 6 2 5 2 6 2 5 2 7 2 7 2 6 1 7 2 5 1 9 2 6 2 7 1 6 2 6 2 6 2 6 2 5 2 6 2 7 1 3-5-7-5-5-6-5-6-3-7-4-6-2-5-4-5-4-6-6-6-6-5-4-3-4-3-4-2-4-2-5-3-4-2M524 4636l4 2 4 3 4 2 4 3 5 2 5 2 5 2 5 2 6 2 5 2 6 2 7 2 6 1 6 2 7 2 6 1 7 2 6 2 6 2 6 2 6 1 5 3 5 2 4 2 5 2 5 3 5 1 7 2 11 0 5-2-1-6-4-3-3-3-4-2-4-3-4-3-5-5-4-3-4-6-4-7-4-6-4-6-5-6-6-6-4-3-4-2-4-3-4-2-4-3-5-2-4-2M654 4592l4 2 4 3 4 2 4 3 5 2 5 2 4 3 6 2 5 2 5 1 7 2 6 2 6 2 6 2 7 1 6 2 6 2 6 2 5 2 6 2 5 2 5 2 4 3 4 2 5 2 4 3 5 2 5 2 5 2 8 1 9 1 11-1 5-2 4-3-1-8-6-6-4-2-4-3-4-2-5-2-4-3-4-2-3-3-6-6-3-3-4-6"/><path stroke="#27c5d4" d="M263 4723l5 3 4 2 4 3 5 2 4 2 5 2 5 3 6 2 5 2 6 1 7 2 6 2 7 1 7 2 8 1 8 1 9 1 12-1 4-3 1-6-2-7-3-6-4-7-5-6-6-5-4-3-4-2-4-3-4-2-4-3-4-2M396 4679l4 2 4 3 5 2 4 2 5 3 5 2 5 2 5 2 6 2 6 2 6 1 7 2 7 2 7 1 7 1 8 1 9 1 12 0 4-3 1-6-1-7-3-7-4-6-5-6-3-3-4-3-3-3-4-2-4-3-4-2-5-2-4-3M528 4634l4 3 4 2 4 3 5 2 4 2 5 3 5 2 6 2 5 2 6 2 6 1 7 2 7 2 5 1 9 1 5 2 10 1 8 1 12 0 4-3 1-6-2-7-3-7-4-7-3-4-4-5-7-5-3-3-4-2-4-3-4-2-5-3-4-2M658 4591l4 2 4 2 4 3 5 2 4 3 5 2 5 2 5 2 6 2 6 2 6 2 6 1 7 2 6 2 7 1 7 2 6 1 7 2 7 2 5 1 8 2 6 2 4 2 8 1 6 2 3-4-4-3-4-6-5-7-3-6-4-7-3-6-4-5"/><path stroke="#2fd0ac" d="M267 4722l4 3 5 2 4 2 5 3 4 2 5 2 6 2 5 2 6 2 7 2 6 1 7 2 7 1 10 1 10 0 6-1 5-3 2-4-1-7-3-7-3-5-4-4-7-6-4-2-4-3-4-2-4-3-4-2M400 4678l4 2 4 2 5 3 4 2 5 2 5 2 5 2 6 2 6 2 6 2 7 2 7 1 6 1 10 1 10 0 7-1 4-2 2-5 0-7-3-7-3-4-5-5-6-5-4-3-4-2-4-3-4-2-4-3M531 4633l4 3 5 2 4 2 5 3 4 2 5 2 6 2 5 2 6 2 6 2 7 1 7 2 7 1 8 2 6 0 9 0 7-1 5-2 2-7-1-7-4-7-5-6-6-6-3-2-4-3-4-2-4-3-4-2-5-3M662 4589l4 3 4 2 4 3 5 2 4 2 5 2 6 3 5 2 6 1 6 2 6 2 7 2 6 1 8 2 5 1 10 1 10 1 9-1 4-2 2-6-1-8-3-6-4-7-4-4"/><path stroke="#4cd483" d="M271 4721l4 2 5 3 4 2 5 2 5 2 5 3 5 1 6 2 6 2 7 2 6 1 10 1 10 0 7-1 4-3 2-4-1-7-2-4-4-5-6-6-4-3-4-2-4-3-4-2-4-3M403 4676l5 3 4 2 5 2 4 3 5 2 5 2 6 2 6 2 6 1 7 2 5 1 11 1 9 0 7-1 4-2 3-4-1-8-4-6-5-6-7-5-4-3-4-2-4-3-4-2M535 4632l4 2 4 3 5 2 5 2 5 3 5 2 5 2 6 2 6 1 7 2 7 1 8 2 9 0 12-1 4-2 3-4 0-7-3-6-5-6-7-6-3-2-4-3-4-3-4-2-4-2M665 4588l4 3 5 2 4 2 5 3 5 2 5 2 5 2 5 2 7 2 6 2 7 1 7 2 8 1 7 1 9 0 6-1 5-3 3-3 0-8-3-7-5-6-6-6-3-2-4-3"/><path stroke="#6cd46d" d="M274 4720l5 2 5 2 4 3 5 2 5 2 5 2 7 2 6 1 7 2 8 1 10 0 7-1 4-2 2-5-1-5-3-5-4-4-5-4-4-3-4-3-3-2-4-3M407 4675l4 2 5 3 5 2 5 2 5 2 5 2 6 2 6 2 7 1 8 1 10 1 7-1 4-3 2-4-2-7-4-6-7-6-3-3-4-2-4-3-4-2M538 4631l5 2 4 2 5 3 5 2 5 2 5 2 6 2 6 2 7 1 7 2 6 0 9 1 7-2 4-2 3-4-1-6-4-6-3-4-7-5-3-3-4-2-4-3-4-2M669 4587l4 2 4 3 5 2 5 2 5 2 5 3 5 1 6 2 7 2 7 2 7 1 7 1 9 0 7-1 5-3 2-3 0-8-4-6-5-6-4-3-3-3-4-2-4-3-4-2-4-3"/><path stroke="#abd14d" d="M278 4718l5 3 5 2 5 2 5 2 5 2 6 2 7 2 7 1 10 1 6-2 4-2 1-8-5-6-6-5-4-3-3-3-4-2M411 4674l5 2 4 2 5 2 5 3 6 2 5 1 7 2 7 1 10 1 7-1 3-2 2-5-3-7-5-5-4-3-3-3-4-2-4-3M542 4630l5 2 4 2 5 2 5 2 6 2 5 2 7 2 7 2 8 1 13-1 4-3 1-6-3-7-6-5-4-3-3-3-4-2-4-3M672 4586l5 2 4 2 5 3 5 2 5 2 6 2 6 2 6 1 7 2 7 1 9 0 7-1 5-2 2-4-2-7-4-6-3-3-4-3-3-3-4-2-4-3-4-2"/><path stroke="#f9c43d" d="M283 4717l5 2 5 2 5 2 6 2 6 2 7 1 6 1 6-1 5-3-1-6-6-6-6-5-4-3M415 4672l5 2 5 3 6 2 5 2 6 1 8 2 11 0 5-3-1-6-5-6-6-5-4-3M546 4628l5 2 5 3 5 2 6 2 6 2 6 1 8 1 11 0 4-3-2-9-4-4-5-4-4-3-3-2M676 4584l5 3 5 2 5 2 5 2 5 2 6 2 7 2 8 1 7 0 7-1 4-2 1-7-5-7-6-5-3-3-4-2-4-3"/><path stroke="#ffc93e" d="M288 4715l6 2 6 2 6 2 10 0 4-4-3-4-4-4M421 4670l5 2 6 2 7 2 9 1 5-4-3-5-4-4M552 4626l5 2 5 3 6 1 7 2 9 1 6-4-2-5-6-6-3-3M681 4583l5 2 5 2 5 2 6 2 4 2 9 1 11 0 4-3 0-5-5-6-5-5-5-3"/><path stroke="#ffe434" d="M560 4624l9 0 2-4M686 4581l6 2 6 2 6 2 10 0 3-3-3-5-3-4"/></g><g class="sf" filter="url(#bl)" transform="scale(.1)"><path color="#62cc4a" d="M736 4212l12 78-18-15-11-89z"/><path color="#ffb81e" d="M725 4157l11 55-17-26-11-64z"/><path color="#ffe010" d="M714 4140l11 17-17-35-11-20zM703 4168l11-28-17-38-11 31z"/><path color="#fcb81d" d="M692 4235l11-67-17-35-11 76z"/><path color="#55cc51" d="M681 4325l11-90-17-26-11 101z"/><path color="#01bcc8" d="M670 4414l11-89-17-15-11 100z"/><path color="#1195f6" d="M659 4481l11-67-17-4-11 75z"/><path color="#2d63fe" d="M648 4509l11-28-17 4-11 31zM637 4492l11 17-17 7-11-20z"/><path color="#1490f9" d="M626 4436l11 56-17 4-11-64z"/><path color="#02b9cf" d="M615 4357l11 79-17-4-11-90z"/><path color="#48cc59" d="M604 4279l11 78-17-15-11-90z"/><path color="#fab91b" d="M593 4222l11 57-17-27-11-65z"/><path color="#ffd017" d="M582 4205l11 17-17-35-11-20z"/><path color="#ffc71a" d="M571 4232l11-27-17-38-11 30z"/><path color="#f8ba1a" d="M560 4298l11-66-17-35-11 75z"/><path color="#3fcc60" d="M549 4387l11-89-17-26-11 100z"/><path color="#03b6d5" d="M538 4475l11-88-17-15-11 100z"/><path color="#1888fb" d="M527 4541l11-66-17-3-11 74z"/><path color="#315bfc" d="M516 4568l11-27-17 5-11 30z"/><path color="#3452f9" d="M505 4550l11 18-17 8-11-21z"/><path color="#1888fb" d="M494 4494l11 56-17 5-11-65z"/><path color="#03b6d5" d="M483 4414l11 80-17-4-11-91z"/><path color="#36cc67" d="M472 4335l11 79-17-15-11-91z"/><path color="#e3bf1b" d="M461 4278l11 57-17-27-11-65z"/><path color="#ffbf1c" d="M450 4260l11 18-17-35-12-22zM439 4286l11-26-18-39-11 30z"/><path color="#e3bf1b" d="M428 4351l11-65-18-35-11 74z"/><path color="#36cc67" d="M417 4439l11-88-18-26-11 99z"/><path color="#04b2db" d="M406 4527l11-88-18-15-11 99z"/><path color="#1e7efc" d="M395 4592l11-65-18-4-11 73z"/><path color="#3452f9" d="M384 4618l11-26-18 4-11 30zM373 4599l11 19-18 8-11-22z"/><path color="#1e7efc" d="M362 4541l11 58-18 5-11-66z"/><path color="#04b2db" d="M351 4461l11 80-18-3-11-92z"/><path color="#36cc67" d="M340 4381l11 80-18-15-11-92z"/><path color="#e3bf1b" d="M328 4323l12 58-18-27-11-66z"/><path color="#ffbf1c" d="M317 4304l11 19-17-35-11-22zM306 4330l11-26-17-38-11 29z"/><path color="#e3bf1b" d="M295 4394l11-64-17-35-11 73z"/><path color="#36cc67" d="M284 4481l11-87-17-26-11 98z"/><path color="#03b6d5" d="M273 4568l11-87-17-15-11 98z"/><path color="#1888fb" d="M262 4632l11-64-17-4-11 73z"/><path color="#3452f9" d="M251 4657l11-25-17 5-11 28z"/><path color="#48cc59" d="M754 4259l11 67-17-36-12-78z"/><path color="#e3bf1b" d="M743 4212l11 47-18-47-11-55z"/><path color="#ffbf1c" d="M732 4198l11 14-18-55-11-17z"/><path color="#ffb81e" d="M721 4223l11-25-18-58-11 28z"/><path color="#e3bf1b" d="M710 4283l11-60-18-55-11 67z"/><path color="#36cc67" d="M699 4361l11-78-18-48-11 90z"/><path color="#02b9cf" d="M688 4440l11-79-18-36-11 89z"/><path color="#1195f6" d="M677 4499l11-59-18-26-11 67z"/><path color="#286cfe" d="M666 4524l11-25-18-18-11 28zM655 4510l11 14-18-15-11-17z"/><path color="#1490f9" d="M644 4461l11 49-18-18-11-56z"/><path color="#03b6d5" d="M633 4394l11 67-18-25-11-79z"/><path color="#2ccc6d" d="M621 4326l12 68-18-37-11-78z"/><path color="#acc827" d="M610 4277l11 49-17-47-11-57z"/><path color="#fab91b" d="M599 4263l11 14-17-55-11-17zM588 4287l11-24-17-58-11 27z"/><path color="#8aca36" d="M577 4346l11-59-17-55-11 66z"/><path color="#23cb78" d="M566 4423l11-77-17-48-11 89z"/><path color="#04b2db" d="M555 4501l11-78-17-36-11 88z"/><path color="#1888fb" d="M544 4559l11-58-17-26-11 66z"/><path color="#315bfc" d="M533 4583l11-24-17-18-11 27zM522 4568l11 15-17-15-11-18z"/><path color="#1888fb" d="M511 4519l11 49-17-18-11-56z"/><path color="#05afe2" d="M500 4451l11 68-17-25-11-80z"/><path color="#23cb78" d="M489 4382l11 69-17-37-11-79z"/><path color="#8aca36" d="M478 4333l11 49-17-47-11-57z"/><path color="#f8ba1a" d="M467 4317l11 16-17-55-11-18zM456 4341l11-24-17-57-11 26z"/><path color="#6fcc42" d="M445 4399l11-58-17-55-11 65z"/><path color="#19cb85" d="M434 4476l11-77-17-48-11 88z"/><path color="#05afe2" d="M423 4552l11-76-17-37-11 88z"/><path color="#1e7efc" d="M412 4610l11-58-17-25-11 65z"/><path color="#3452f9" d="M401 4633l11-23-17-18-11 26zM390 4617l11 16-17-15-11-19z"/><path color="#1e7efc" d="M379 4567l11 50-17-18-11-58z"/><path color="#05afe2" d="M368 4498l11 69-17-26-11-80z"/><path color="#19cb85" d="M357 4428l11 70-17-37-11-80z"/><path color="#6fcc42" d="M346 4378l11 50-17-47-12-58z"/><path color="#f8ba1a" d="M335 4362l11 16-18-55-11-19zM324 4385l11-23-18-58-11 26z"/><path color="#8aca36" d="M313 4441l11-56-18-55-11 64z"/><path color="#23cb78" d="M302 4518l11-77-18-47-11 87z"/><path color="#05afe2" d="M291 4594l11-76-18-37-11 87z"/><path color="#1888fb" d="M280 4650l11-56-18-26-11 64z"/><path color="#315bfc" d="M269 4673l11-23-18-18-11 25z"/><path color="#19cb85" d="M771 4326l11 57-17-57-11-67z"/><path color="#55cc51" d="M760 4286l11 40-17-67-11-47z"/><path color="#acc827" d="M749 4275l11 11-17-74-11-14zM738 4298l11-23-17-77-11 25z"/><path color="#55cc51" d="M727 4349l11-51-17-75-11 60z"/><path color="#09c7a1" d="M716 4418l11-69-17-66-11 78z"/><path color="#06abe7" d="M705 4487l11-69-17-57-11 79z"/><path color="#1e7efc" d="M694 4538l11-51-17-47-11 59z"/><path color="#315bfc" d="M683 4561l11-23-17-39-11 25zM672 4549l11 12-17-37-11-14z"/><path color="#2375fd" d="M661 4508l11 41-17-39-11-49z"/><path color="#09a6eb" d="M650 4450l11 58-17-47-11-67z"/><path color="#05c3b1" d="M639 4392l11 58-17-56-12-68z"/><path color="#3fcc60" d="M628 4351l11 41-18-66-11-49z"/><path color="#6fcc42" d="M617 4340l11 11-18-74-11-14zM606 4361l11-21-18-77-11 24z"/><path color="#36cc67" d="M595 4412l11-51-18-74-11 59z"/><path color="#00bfc2" d="M584 4480l11-68-18-66-11 77z"/><path color="#0ca0ee" d="M573 4548l11-68-18-57-11 78z"/><path color="#286cfe" d="M562 4599l11-51-18-47-11 58z"/><path color="#384af6" d="M551 4620l11-21-18-40-11 24zM540 4608l11 12-18-37-11-15z"/><path color="#286cfe" d="M529 4566l11 42-18-40-11-49z"/><path color="#0ca0ee" d="M517 4508l12 58-18-47-11-68z"/><path color="#00bfc2" d="M506 4449l11 59-17-57-11-69z"/><path color="#36cc67" d="M495 4407l11 42-17-67-11-49z"/><path color="#55cc51" d="M484 4394l11 13-17-74-11-16zM473 4415l11-21-17-77-11 24z"/><path color="#2ccc6d" d="M462 4465l11-50-17-74-11 58z"/><path color="#01bcc8" d="M451 4532l11-67-17-66-11 77z"/><path color="#0e9bf2" d="M440 4599l11-67-17-56-11 76z"/><path color="#2d63fe" d="M429 4649l11-50-17-47-11 58z"/><path color="#3b43f3" d="M418 4670l11-21-17-39-11 23zM407 4657l11 13-17-37-11-16z"/><path color="#2d63fe" d="M396 4614l11 43-17-40-11-50z"/><path color="#0e9bf2" d="M385 4555l11 59-17-47-11-69z"/><path color="#01bcc8" d="M374 4495l11 60-17-57-11-70z"/><path color="#2ccc6d" d="M363 4452l11 43-17-67-11-50z"/><path color="#55cc51" d="M352 4439l11 13-17-74-11-16zM341 4459l11-20-17-77-11 23z"/><path color="#36cc67" d="M330 4508l11-49-17-74-11 56z"/><path color="#00bfc2" d="M319 4574l11-66-17-67-11 77z"/><path color="#0ca0ee" d="M308 4640l11-66-17-56-11 76z"/><path color="#286cfe" d="M297 4690l11-50-17-46-11 56z"/><path color="#384af6" d="M286 4709l11-19-17-40-11 23z"/><path color="#02b9cf" d="M788 4389l11 47-17-53-11-57z"/><path color="#19cb85" d="M777 4355l11 34-17-63-11-40z"/><path color="#36cc67" d="M766 4346l11 9-17-69-11-11z"/><path color="#2ccc6d" d="M755 4367l11-21-17-71-11 23z"/><path color="#0fca91" d="M744 4412l11-45-17-69-11 51z"/><path color="#03b6d5" d="M733 4471l11-59-17-63-11 69z"/><path color="#1490f9" d="M722 4531l11-60-17-53-11 69z"/><path color="#315bfc" d="M711 4575l11-44-17-44-11 51z"/><path color="#3b43f3" d="M700 4595l11-20-17-37-11 23z"/><path color="#3d3dee" d="M689 4586l11 9-17-34-11-12z"/><path color="#315bfc" d="M678 4552l11 34-17-37-11-41z"/><path color="#1888fb" d="M667 4504l11 48-17-44-11-58z"/><path color="#05afe2" d="M656 4455l11 49-17-54-11-58z"/><path color="#05c3b1" d="M645 4421l11 34-17-63-11-41z"/><path color="#19cb85" d="M634 4411l11 10-17-70-11-11zM623 4430l11-19-17-71-11 21z"/><path color="#05c3b1" d="M612 4475l11-45-17-69-11 51z"/><path color="#06abe7" d="M601 4533l11-58-17-63-11 68z"/><path color="#1e7efc" d="M590 4592l11-59-17-53-11 68z"/><path color="#384af6" d="M579 4636l11-44-17-44-11 51z"/><path color="#3f37e8" d="M568 4655l11-19-17-37-11 21zM557 4645l11 10-17-35-11-12z"/><path color="#384af6" d="M546 4610l11 35-17-37-11-42z"/><path color="#1e7efc" d="M535 4561l11 49-17-44-12-58z"/><path color="#06abe7" d="M524 4511l11 50-18-53-11-59z"/><path color="#00bfc2" d="M513 4476l11 35-18-62-11-42z"/><path color="#0fca91" d="M502 4466l11 10-18-69-11-13zM491 4484l11-18-18-72-11 21z"/><path color="#00bfc2" d="M480 4528l11-44-18-69-11 50z"/><path color="#06abe7" d="M469 4585l11-57-18-63-11 67z"/><path color="#1e7efc" d="M458 4643l11-58-18-53-11 67z"/><path color="#384af6" d="M447 4686l11-43-18-44-11 50z"/><path color="#4131e3" d="M436 4705l11-19-18-37-11 21zM425 4694l11 11-18-35-11-13z"/><path color="#384af6" d="M414 4658l11 36-18-37-11-43z"/><path color="#1e7efc" d="M402 4608l12 50-18-44-11-59z"/><path color="#06abe7" d="M391 4557l11 51-17-53-11-60z"/><path color="#00bfc2" d="M380 4521l11 36-17-62-11-43z"/><path color="#0fca91" d="M369 4510l11 11-17-69-11-13zM358 4528l11-18-17-71-11 20z"/><path color="#00bfc2" d="M347 4571l11-43-17-69-11 49z"/><path color="#06abe7" d="M336 4627l11-56-17-63-11 66z"/><path color="#1e7efc" d="M325 4684l11-57-17-53-11 66z"/><path color="#384af6" d="M314 4727l11-43-17-44-11 50z"/><path color="#3f37e8" d="M303 4744l11-17-17-37-11 19z"/><path color="#06abe7" d="M806 4425l11 39-18-28-11-47z"/><path color="#01bcc8" d="M795 4397l11 28-18-36-11-34z"/><path color="#05c3b1" d="M784 4391l11 6-18-42-11-9zM773 4409l11-18-18-45-11 21z"/><path color="#02b9cf" d="M762 4448l11-39-18-42-11 45z"/><path color="#0ca0ee" d="M751 4499l11-51-18-36-11 59z"/><path color="#2375fd" d="M740 4550l11-51-18-28-11 60z"/><path color="#384af6" d="M729 4588l11-38-18-19-11 44z"/><path color="#3f37e8" d="M718 4606l11-18-18-13-11 20zM706 4599l12 7-18-11-11-9z"/><path color="#384af6" d="M695 4571l11 28-17-13-11-34z"/><path color="#286cfe" d="M684 4531l11 40-17-19-11-48z"/><path color="#0e9bf2" d="M673 4491l11 40-17-27-11-49z"/><path color="#04b2db" d="M662 4463l11 28-17-36-11-34z"/><path color="#01bcc8" d="M651 4456l11 7-17-42-11-10zM640 4473l11-17-17-45-11 19z"/><path color="#04b2db" d="M629 4511l11-38-17-43-11 45z"/><path color="#1195f6" d="M618 4561l11-50-17-36-11 58z"/><path color="#2d63fe" d="M607 4611l11-50-17-28-11 59z"/><path color="#3d3dee" d="M596 4649l11-38-17-19-11 44z"/><path color="#432cdd" d="M585 4666l11-17-17-13-11 19zM574 4658l11 8-17-11-11-10z"/><path color="#3d3dee" d="M563 4629l11 29-17-13-11-35z"/><path color="#2d63fe" d="M552 4588l11 41-17-19-11-49z"/><path color="#1195f6" d="M541 4547l11 41-17-27-11-50z"/><path color="#05afe2" d="M530 4518l11 29-17-36-11-35z"/><path color="#02b9cf" d="M519 4510l11 8-17-42-11-10z"/><path color="#03b6d5" d="M508 4527l11-17-17-44-11 18z"/><path color="#05afe2" d="M497 4564l11-37-17-43-11 44z"/><path color="#1490f9" d="M486 4613l11-49-17-36-11 57z"/><path color="#2d63fe" d="M475 4662l11-49-17-28-11 58z"/><path color="#3f37e8" d="M464 4699l11-37-17-19-11 43z"/><path color="#432cdd" d="M453 4715l11-16-17-13-11 19zM442 4707l11 8-17-10-11-11z"/><path color="#3f37e8" d="M431 4677l11 30-17-13-11-36z"/><path color="#2d63fe" d="M420 4635l11 42-17-19-12-50z"/><path color="#1490f9" d="M409 4593l11 42-18-27-11-51z"/><path color="#05afe2" d="M398 4564l11 29-18-36-11-36z"/><path color="#03b6d5" d="M387 4555l11 9-18-43-11-11z"/><path color="#02b9cf" d="M376 4570l11-15-18-45-11 18z"/><path color="#05afe2" d="M365 4607l11-37-18-42-11 43z"/><path color="#1195f6" d="M354 4655l11-48-18-36-11 56z"/><path color="#2d63fe" d="M343 4703l11-48-18-28-11 57z"/><path color="#3d3dee" d="M332 4740l11-37-18-19-11 43z"/><path color="#432cdd" d="M321 4755l11-15-18-13-11 17z"/><path color="#0ca0ee" d="M823 4437l11 32-17-5-11-39z"/><path color="#04b2db" d="M812 4416l11 21-17-12-11-28z"/><path color="#01bcc8" d="M801 4411l11 5-17-19-11-6z"/><path color="#02b9cf" d="M790 4427l11-16-17-20-11 18z"/><path color="#04b2db" d="M779 4460l11-33-17-18-11 39z"/><path color="#0e9bf2" d="M768 4504l11-44-17-12-11 51z"/><path color="#2375fd" d="M757 4547l11-43-17-5-11 51z"/><path color="#3452f9" d="M746 4580l11-33-17 3-11 38z"/><path color="#3d3dee" d="M735 4595l11-15-17 8-11 18zM724 4590l11 5-17 11-12-7z"/><path color="#384af6" d="M713 4568l11 22-18 9-11-28z"/><path color="#286cfe" d="M702 4536l11 32-18 3-11-40z"/><path color="#1195f6" d="M691 4504l11 32-18-5-11-40z"/><path color="#06abe7" d="M680 4481l11 23-18-13-11-28z"/><path color="#04b2db" d="M669 4476l11 5-18-18-11-7zM658 4491l11-15-18-20-11 17z"/><path color="#09a6eb" d="M647 4523l11-32-18-18-11 38z"/><path color="#1490f9" d="M636 4566l11-43-18-12-11 50z"/><path color="#2d63fe" d="M625 4608l11-42-18-5-11 50z"/><path color="#3b43f3" d="M614 4640l11-32-18 3-11 38z"/><path color="#4131e3" d="M602 4655l12-15-18 9-11 17zM591 4649l11 6-17 11-11-8z"/><path color="#3d3dee" d="M580 4626l11 23-17 9-11-29z"/><path color="#2d63fe" d="M569 4593l11 33-17 3-11-41z"/><path color="#1888fb" d="M558 4560l11 33-17-5-11-41z"/><path color="#09a6eb" d="M547 4537l11 23-17-13-11-29z"/><path color="#05afe2" d="M536 4531l11 6-17-19-11-8zM525 4545l11-14-17-21-11 17z"/><path color="#0ca0ee" d="M514 4576l11-31-17-18-11 37z"/><path color="#1888fb" d="M503 4618l11-42-17-12-11 49z"/><path color="#315bfc" d="M492 4659l11-41-17-5-11 49z"/><path color="#3d3dee" d="M481 4691l11-32-17 3-11 37z"/><path color="#4131e3" d="M470 4704l11-13-17 8-11 16zM459 4698l11 6-17 11-11-8z"/><path color="#3d3dee" d="M448 4674l11 24-17 9-11-30z"/><path color="#315bfc" d="M437 4640l11 34-17 3-11-42z"/><path color="#1888fb" d="M426 4606l11 34-17-5-11-42z"/><path color="#0ca0ee" d="M415 4582l11 24-17-13-11-29z"/><path color="#05afe2" d="M404 4575l11 7-17-18-11-9zM393 4589l11-14-17-20-11 15z"/><path color="#09a6eb" d="M382 4619l11-30-17-19-11 37z"/><path color="#1888fb" d="M371 4660l11-41-17-12-11 48z"/><path color="#2d63fe" d="M360 4700l11-40-17-5-11 48z"/><path color="#3d3dee" d="M349 4731l11-31-17 3-11 37z"/><path color="#4131e3" d="M338 4744l11-13-17 9-11 15z"/><path color="#09a6eb" d="M840 4451l11 25-17-7-11-32z"/><path color="#04b2db" d="M829 4435l11 16-17-14-11-21z"/><path color="#03b6d5" d="M818 4432l11 3-17-19-11-5zM807 4446l11-14-17-21-11 16z"/><path color="#05afe2" d="M796 4474l11-28-17-19-11 33z"/><path color="#0e9bf2" d="M785 4510l11-36-17-14-11 44z"/><path color="#1e7efc" d="M774 4546l11-36-17-6-11 43z"/><path color="#315bfc" d="M763 4574l11-28-17 1-11 33z"/><path color="#384af6" d="M752 4588l11-14-17 6-11 15zM741 4585l11 3-17 7-11-5z"/><path color="#315bfc" d="M730 4568l11 17-17 5-11-22z"/><path color="#2375fd" d="M719 4543l11 25-17 0-11-32z"/><path color="#1195f6" d="M708 4517l11 26-17-7-11-32z"/><path color="#09a6eb" d="M697 4500l11 17-17-13-11-23z"/><path color="#05afe2" d="M686 4497l11 3-17-19-11-5zM675 4510l11-13-17-21-11 15z"/><path color="#09a6eb" d="M664 4537l11-27-17-19-11 32z"/><path color="#1490f9" d="M653 4573l11-36-17-14-11 43z"/><path color="#286cfe" d="M642 4608l11-35-17-7-11 42z"/><path color="#384af6" d="M631 4635l11-27-17 0-11 32z"/><path color="#3d3dee" d="M620 4648l11-13-17 5-12 15zM609 4644l11 4-18 7-11-6z"/><path color="#384af6" d="M598 4626l11 18-18 5-11-23z"/><path color="#286cfe" d="M587 4600l11 26-18 0-11-33z"/><path color="#1888fb" d="M576 4574l11 26-18-7-11-33z"/><path color="#0ca0ee" d="M565 4556l11 18-18-14-11-23z"/><path color="#06abe7" d="M554 4552l11 4-18-19-11-6zM543 4564l11-12-18-21-11 14z"/><path color="#0ca0ee" d="M532 4590l11-26-18-19-11 31z"/><path color="#1888fb" d="M521 4625l11-35-18-14-11 42z"/><path color="#2d63fe" d="M510 4659l11-34-18-7-11 41z"/><path color="#384af6" d="M499 4685l11-26-18 0-11 32z"/><path color="#3d3dee" d="M487 4697l12-12-18 6-11 13zM476 4693l11 4-17 7-11-6z"/><path color="#384af6" d="M465 4674l11 19-17 5-11-24z"/><path color="#2d63fe" d="M454 4647l11 27-17 0-11-34z"/><path color="#1888fb" d="M443 4620l11 27-17-7-11-34z"/><path color="#0ca0ee" d="M432 4601l11 19-17-14-11-24z"/><path color="#06abe7" d="M421 4596l11 5-17-19-11-7zM410 4608l11-12-17-21-11 14z"/><path color="#0ca0ee" d="M399 4633l11-25-17-19-11 30z"/><path color="#1888fb" d="M388 4667l11-34-17-14-11 41z"/><path color="#286cfe" d="M377 4700l11-33-17-7-11 40z"/><path color="#384af6" d="M366 4726l11-26-17 0-11 31z"/><path color="#3d3dee" d="M355 4737l11-11-17 5-11 13z"/><path color="#0e9bf2" d="M858 4487l11 18-18-29-11-25z"/><path color="#06abe7" d="M847 4475l11 12-18-36-11-16z"/><path color="#05afe2" d="M836 4475l11 0-18-40-11-3zM825 4487l11-12-18-43-11 14z"/><path color="#09a6eb" d="M814 4510l11-23-18-41-11 28z"/><path color="#1195f6" d="M803 4540l11-30-18-36-11 36z"/><path color="#2375fd" d="M791 4570l12-30-18-30-11 36z"/><path color="#315bfc" d="M780 4593l11-23-17-24-11 28z"/><path color="#3452f9" d="M769 4605l11-12-17-19-11 14z"/><path color="#384af6" d="M758 4604l11 1-17-17-11-3z"/><path color="#315bfc" d="M747 4591l11 13-17-19-11-17z"/><path color="#286cfe" d="M736 4572l11 19-17-23-11-25z"/><path color="#1490f9" d="M725 4553l11 19-17-29-11-26z"/><path color="#0e9bf2" d="M714 4541l11 12-17-36-11-17z"/><path color="#09a6eb" d="M703 4539l11 2-17-41-11-3z"/><path color="#0ca0ee" d="M692 4551l11-12-17-42-11 13z"/><path color="#0e9bf2" d="M681 4573l11-22-17-41-11 27z"/><path color="#1888fb" d="M670 4602l11-29-17-36-11 36z"/><path color="#2d63fe" d="M659 4631l11-29-17-29-11 35z"/><path color="#3452f9" d="M648 4653l11-22-17-23-11 27z"/><path color="#3b43f3" d="M637 4664l11-11-17-18-11 13zM626 4663l11 1-17-16-11-4z"/><path color="#384af6" d="M615 4649l11 14-17-19-11-18z"/><path color="#2d63fe" d="M604 4629l11 20-17-23-11-26z"/><path color="#1e7efc" d="M593 4610l11 19-17-29-11-26z"/><path color="#1195f6" d="M582 4596l11 14-17-36-11-18z"/><path color="#0e9bf2" d="M571 4594l11 2-17-40-11-4zM560 4604l11-10-17-42-11 12z"/><path color="#1195f6" d="M549 4626l11-22-17-40-11 26z"/><path color="#1e7efc" d="M538 4654l11-28-17-36-11 35z"/><path color="#2d63fe" d="M527 4682l11-28-17-29-11 34z"/><path color="#384af6" d="M516 4704l11-22-17-23-11 26z"/><path color="#3d3dee" d="M505 4714l11-10-17-19-12 12zM494 4711l11 3-18-17-11-4z"/><path color="#384af6" d="M483 4697l11 14-18-18-11-19z"/><path color="#2d63fe" d="M472 4677l11 20-18-23-11-27z"/><path color="#1e7efc" d="M461 4656l11 21-18-30-11-27z"/><path color="#1195f6" d="M450 4642l11 14-18-36-11-19z"/><path color="#0e9bf2" d="M439 4638l11 4-18-41-11-5zM428 4648l11-10-18-42-11 12z"/><path color="#1195f6" d="M417 4669l11-21-18-40-11 25z"/><path color="#1e7efc" d="M406 4696l11-27-18-36-11 34z"/><path color="#2d63fe" d="M395 4724l11-28-18-29-11 33z"/><path color="#384af6" d="M383 4744l12-20-18-24-11 26z"/><path color="#3b43f3" d="M372 4754l11-10-17-18-11 11z"/><path color="#1e7efc" d="M875 4540l11 13-17-48-11-18z"/><path color="#1490f9" d="M864 4532l11 8-17-53-11-12z"/><path color="#1195f6" d="M853 4533l11-1-17-57-11 0zM842 4544l11-11-17-58-11 12z"/><path color="#1490f9" d="M831 4563l11-19-17-57-11 23z"/><path color="#2375fd" d="M820 4588l11-25-17-53-11 30z"/><path color="#315bfc" d="M809 4612l11-24-17-48-12 30z"/><path color="#384af6" d="M798 4631l11-19-18-42-11 23z"/><path color="#3b43f3" d="M787 4641l11-10-18-38-11 12z"/><path color="#3d3dee" d="M776 4642l11-1-18-36-11-1z"/><path color="#3b43f3" d="M765 4633l11 9-18-38-11-13z"/><path color="#3452f9" d="M754 4620l11 13-18-42-11-19z"/><path color="#286cfe" d="M743 4607l11 13-18-48-11-19z"/><path color="#1e7efc" d="M732 4598l11 9-18-54-11-12z"/><path color="#1888fb" d="M721 4598l11 0-18-57-11-2zM710 4608l11-10-18-59-11 12z"/><path color="#2375fd" d="M699 4626l11-18-18-57-11 22z"/><path color="#2d63fe" d="M688 4650l11-24-18-53-11 29z"/><path color="#384af6" d="M676 4673l12-23-18-48-11 29z"/><path color="#3d3dee" d="M665 4691l11-18-17-42-11 22z"/><path color="#3f37e8" d="M654 4701l11-10-17-38-11 11zM643 4701l11 0-17-37-11-1z"/><path color="#3d3dee" d="M632 4691l11 10-17-38-11-14z"/><path color="#384af6" d="M621 4677l11 14-17-42-11-20z"/><path color="#315bfc" d="M610 4663l11 14-17-48-11-19z"/><path color="#286cfe" d="M599 4653l11 10-17-53-11-14z"/><path color="#1e7efc" d="M588 4653l11 0-17-57-11-2zM577 4662l11-9-17-59-11 10z"/><path color="#286cfe" d="M566 4679l11-17-17-58-11 22z"/><path color="#315bfc" d="M555 4702l11-23-17-53-11 28z"/><path color="#384af6" d="M544 4724l11-22-17-48-11 28z"/><path color="#3f37e8" d="M533 4742l11-18-17-42-11 22z"/><path color="#4131e3" d="M522 4751l11-9-17-38-11 10zM511 4749l11 2-17-37-11-3z"/><path color="#3f37e8" d="M500 4739l11 10-17-38-11-14z"/><path color="#384af6" d="M489 4724l11 15-17-42-11-20z"/><path color="#315bfc" d="M478 4709l11 15-17-47-11-21z"/><path color="#286cfe" d="M467 4699l11 10-17-53-11-14z"/><path color="#1e7efc" d="M456 4697l11 2-17-57-11-4zM445 4705l11-8-17-59-11 10z"/><path color="#286cfe" d="M434 4722l11-17-17-57-11 21z"/><path color="#315bfc" d="M423 4744l11-22-17-53-11 27z"/><path color="#384af6" d="M412 4766l11-22-17-48-11 28z"/><path color="#3d3dee" d="M401 4782l11-16-17-42-12 20z"/><path color="#3f37e8" d="M390 4790l11-8-18-38-11 10z"/><path color="#315bfc" d="M892 4585l11 8-17-40-11-13z"/><path color="#2d63fe" d="M881 4581l11 4-17-45-11-8z"/><path color="#286cfe" d="M870 4583l11-2-17-49-11 1zM859 4593l11-10-17-50-11 11z"/><path color="#2d63fe" d="M848 4609l11-16-17-49-11 19z"/><path color="#3452f9" d="M837 4628l11-19-17-46-11 25z"/><path color="#3b43f3" d="M826 4647l11-19-17-40-11 24z"/><path color="#3f37e8" d="M815 4663l11-16-17-35-11 19z"/><path color="#4131e3" d="M804 4672l11-9-17-32-11 10zM793 4674l11-2-17-31-11 1zM782 4669l11 5-17-32-11-9z"/><path color="#3d3dee" d="M771 4660l11 9-17-36-11-13z"/><path color="#3b43f3" d="M760 4652l11 8-17-40-11-13z"/><path color="#3452f9" d="M749 4647l11 5-17-45-11-9z"/><path color="#315bfc" d="M738 4648l11-1-17-49-11 0zM727 4657l11-9-17-50-11 10z"/><path color="#3452f9" d="M716 4672l11-15-17-49-11 18z"/><path color="#3b43f3" d="M705 4690l11-18-17-46-11 24z"/><path color="#3f37e8" d="M694 4709l11-19-17-40-12 23z"/><path color="#432cdd" d="M683 4723l11-14-18-36-11 18z"/><path color="#4327d5" d="M672 4732l11-9-18-32-11 10zM661 4732l11 0-18-31-11 0z"/><path color="#432cdd" d="M650 4727l11 5-18-31-11-10z"/><path color="#4131e3" d="M639 4717l11 10-18-36-11-14z"/><path color="#3d3dee" d="M628 4708l11 9-18-40-11-14z"/><path color="#384af6" d="M617 4702l11 6-18-45-11-10z"/><path color="#3452f9" d="M606 4703l11-1-18-49-11 0z"/><path color="#384af6" d="M595 4710l11-7-18-50-11 9z"/><path color="#3b43f3" d="M584 4725l11-15-18-48-11 17z"/><path color="#3d3dee" d="M572 4742l12-17-18-46-11 23z"/><path color="#4131e3" d="M561 4760l11-18-17-40-11 22z"/><path color="#4327d5" d="M550 4774l11-14-17-36-11 18z"/><path color="#4423ce" d="M539 4781l11-7-17-32-11 9zM528 4781l11 0-17-30-11-2z"/><path color="#4327d5" d="M517 4775l11 6-17-32-11-10z"/><path color="#4131e3" d="M506 4765l11 10-17-36-11-15z"/><path color="#3d3dee" d="M495 4754l11 11-17-41-11-15z"/><path color="#3b43f3" d="M484 4748l11 6-17-45-11-10z"/><path color="#384af6" d="M473 4747l11 1-17-49-11-2z"/><path color="#3452f9" d="M462 4754l11-7-17-50-11 8z"/><path color="#384af6" d="M451 4767l11-13-17-49-11 17z"/><path color="#3d3dee" d="M440 4784l11-17-17-45-11 22z"/><path color="#4131e3" d="M429 4801l11-17-17-40-11 22z"/><path color="#432cdd" d="M418 4814l11-13-17-35-11 16z"/><path color="#4327d5" d="M407 4821l11-7-17-32-11 8z"/><path color="#384af6" d="M910 4603l11 4-18-14-11-8z"/><path color="#3452f9" d="M899 4602l11 1-18-18-11-4zM888 4605l11-3-18-21-11 2zM876 4613l12-8-18-22-11 10z"/><path color="#384af6" d="M865 4626l11-13-17-20-11 16z"/><path color="#3b43f3" d="M854 4641l11-15-17-17-11 19z"/><path color="#3f37e8" d="M843 4657l11-16-17-13-11 19z"/><path color="#4131e3" d="M832 4669l11-12-17-10-11 16z"/><path color="#432cdd" d="M821 4677l11-8-17-6-11 9zM810 4680l11-3-17-5-11 2zM799 4678l11 2-17-6-11-5z"/><path color="#4131e3" d="M788 4674l11 4-17-9-11-9z"/><path color="#3f37e8" d="M777 4669l11 5-17-14-11-8z"/><path color="#3d3dee" d="M766 4667l11 2-17-17-11-5z"/><path color="#3b43f3" d="M755 4670l11-3-17-20-11 1zM744 4677l11-7-17-22-11 9z"/><path color="#3d3dee" d="M733 4689l11-12-17-20-11 15z"/><path color="#4131e3" d="M722 4704l11-15-17-17-11 18z"/><path color="#432cdd" d="M711 4718l11-14-17-14-11 19z"/><path color="#4327d5" d="M700 4730l11-12-17-9-11 14z"/><path color="#4423ce" d="M689 4737l11-7-17-7-11 9zM678 4739l11-2-17-5-11 0zM667 4736l11 3-17-7-11-5z"/><path color="#4327d5" d="M656 4731l11 5-17-9-11-10z"/><path color="#4131e3" d="M645 4726l11 5-17-14-11-9z"/><path color="#3f37e8" d="M634 4723l11 3-17-18-11-6z"/><path color="#3d3dee" d="M623 4724l11-1-17-21-11 1z"/><path color="#3f37e8" d="M612 4731l11-7-17-21-11 7zM601 4742l11-11-17-21-11 15z"/><path color="#4131e3" d="M590 4756l11-14-17-17-12 17z"/><path color="#4327d5" d="M579 4769l11-13-18-14-11 18z"/><path color="#4423ce" d="M568 4780l11-11-18-9-11 14z"/><path color="#441ec7" d="M557 4786l11-6-18-6-11 7zM546 4787l11-1-18-5-11 0z"/><path color="#4423ce" d="M535 4784l11 3-18-6-11-6z"/><path color="#4327d5" d="M524 4778l11 6-18-9-11-10z"/><path color="#4131e3" d="M513 4772l11 6-18-13-11-11z"/><path color="#3f37e8" d="M502 4768l11 4-18-18-11-6zM491 4769l11-1-18-20-11-1z"/><path color="#3d3dee" d="M480 4775l11-6-18-22-11 7z"/><path color="#3f37e8" d="M469 4785l11-10-18-21-11 13z"/><path color="#4131e3" d="M457 4798l12-13-18-18-11 17z"/><path color="#4327d5" d="M446 4810l11-12-17-14-11 17z"/><path color="#4423ce" d="M435 4820l11-10-17-9-11 13zM424 4826l11-6-17-6-11 7z"/><path color="#384af6" d="M927 4599l11 1-17 7-11-4z"/><path color="#3452f9" d="M916 4601l11-2-17 4-11-1zM905 4605l11-4-17 1-11 3zM894 4612l11-7-17 0-12 8z"/><path color="#384af6" d="M883 4623l11-11-18 1-11 13z"/><path color="#3b43f3" d="M872 4635l11-12-18 3-11 15z"/><path color="#3d3dee" d="M861 4646l11-11-18 6-11 16z"/><path color="#3f37e8" d="M850 4656l11-10-18 11-11 12z"/><path color="#4131e3" d="M839 4664l11-8-18 13-11 8zM828 4667l11-3-18 13-11 3zM817 4668l11-1-18 13-11-2z"/><path color="#3f37e8" d="M806 4667l11 1-18 10-11-4z"/><path color="#3d3dee" d="M795 4666l11 1-18 7-11-5zM784 4666l11 0-18 3-11-2z"/><path color="#3b43f3" d="M773 4670l11-4-18 1-11 3zM761 4676l12-6-18 0-11 7z"/><path color="#3d3dee" d="M750 4686l11-10-17 1-11 12z"/><path color="#3f37e8" d="M739 4697l11-11-17 3-11 15z"/><path color="#4131e3" d="M728 4708l11-11-17 7-11 14z"/><path color="#432cdd" d="M717 4717l11-9-17 10-11 12z"/><path color="#4327d5" d="M706 4723l11-6-17 13-11 7zM695 4726l11-3-17 14-11 2z"/><path color="#432cdd" d="M684 4726l11 0-17 13-11-3zM673 4724l11 2-17 10-11-5z"/><path color="#4131e3" d="M662 4722l11 2-17 7-11-5z"/><path color="#3f37e8" d="M651 4722l11 0-17 4-11-3zM640 4724l11-2-17 1-11 1zM629 4730l11-6-17 0-11 7zM618 4739l11-9-17 1-11 11z"/><path color="#4131e3" d="M607 4749l11-10-17 3-11 14z"/><path color="#432cdd" d="M596 4759l11-10-17 7-11 13z"/><path color="#4327d5" d="M585 4767l11-8-17 10-11 11zM574 4773l11-6-17 13-11 6zM563 4775l11-2-17 13-11 1zM552 4774l11 1-17 12-11-3z"/><path color="#432cdd" d="M541 4771l11 3-17 10-11-6z"/><path color="#4131e3" d="M530 4768l11 3-17 7-11-6z"/><path color="#3f37e8" d="M519 4767l11 1-17 4-11-4zM508 4769l11-2-17 1-11 1zM497 4774l11-5-17 0-11 6zM486 4781l11-7-17 1-11 10z"/><path color="#4131e3" d="M475 4791l11-10-17 4-12 13z"/><path color="#432cdd" d="M464 4800l11-9-18 7-11 12zM453 4808l11-8-18 10-11 10z"/><path color="#4327d5" d="M442 4812l11-4-18 12-11 6z"/><path color="#315bfc" d="M944 4601l11-3-17 2-11-1zM933 4604l11-3-17-2-11 2zM922 4609l11-5-17-3-11 4zM911 4616l11-7-17-4-11 7z"/><path color="#3452f9" d="M900 4624l11-8-17-4-11 11zM889 4633l11-9-17-1-11 12z"/><path color="#384af6" d="M878 4642l11-9-17 2-11 11z"/><path color="#3b43f3" d="M867 4651l11-9-17 4-11 10zM856 4657l11-6-17 5-11 8z"/><path color="#3d3dee" d="M845 4661l11-4-17 7-11 3z"/><path color="#3b43f3" d="M834 4664l11-3-17 6-11 1zM823 4666l11-2-17 4-11-1zM812 4667l11-1-17 1-11-1z"/><path color="#384af6" d="M801 4670l11-3-17-1-11 0zM790 4674l11-4-17-4-11 4zM779 4680l11-6-17-4-12 6z"/><path color="#3b43f3" d="M768 4687l11-7-18-4-11 10zM757 4695l11-8-18-1-11 11z"/><path color="#3d3dee" d="M746 4704l11-9-18 2-11 11z"/><path color="#3f37e8" d="M735 4711l11-7-18 4-11 9zM724 4717l11-6-18 6-11 6zM713 4720l11-3-18 6-11 3zM702 4722l11-2-18 6-11 0zM691 4723l11-1-18 4-11-2z"/><path color="#3d3dee" d="M680 4724l11-1-18 1-11-2zM669 4725l11-1-18-2-11 0zM657 4728l12-3-18-3-11 2zM646 4733l11-5-17-4-11 6zM635 4740l11-7-17-3-11 9zM624 4748l11-8-17-1-11 10z"/><path color="#3f37e8" d="M613 4755l11-7-17 1-11 10z"/><path color="#4131e3" d="M602 4761l11-6-17 4-11 8zM591 4766l11-5-17 6-11 6zM580 4769l11-3-17 7-11 2zM569 4770l11-1-17 6-11-1z"/><path color="#3f37e8" d="M558 4770l11 0-17 4-11-3z"/><path color="#3d3dee" d="M547 4770l11 0-17 1-11-3zM536 4771l11-1-17-2-11-1zM525 4773l11-2-17-4-11 2zM514 4777l11-4-17-4-11 5zM503 4783l11-6-17-3-11 7zM492 4790l11-7-17-2-11 10z"/><path color="#3f37e8" d="M481 4796l11-6-17 1-11 9zM470 4802l11-6-17 4-11 8zM459 4806l11-4-17 6-11 4z"/><path color="#315bfc" d="M962 4625l11-4-18-23-11 3zM950 4630l12-5-18-24-11 3zM939 4636l11-6-17-26-11 5z"/><path color="#3452f9" d="M928 4642l11-6-17-27-11 7zM917 4649l11-7-17-26-11 8z"/><path color="#384af6" d="M906 4656l11-7-17-25-11 9zM895 4663l11-7-17-23-11 9z"/><path color="#3b43f3" d="M884 4670l11-7-17-21-11 9zM873 4676l11-6-17-19-11 6zM862 4681l11-5-17-19-11 4zM851 4685l11-4-17-20-11 3zM840 4688l11-3-17-21-11 2zM829 4692l11-4-17-22-11 1zM818 4696l11-4-17-25-11 3zM807 4700l11-4-17-26-11 4zM796 4706l11-6-17-26-11 6zM785 4712l11-6-17-26-11 7z"/><path color="#3d3dee" d="M774 4718l11-6-17-25-11 8zM763 4724l11-6-17-23-11 9z"/><path color="#3f37e8" d="M752 4730l11-6-17-20-11 7zM741 4735l11-5-17-19-11 6zM730 4739l11-4-17-18-11 3zM719 4743l11-4-17-19-11 2zM708 4745l11-2-17-21-11 1z"/><path color="#3d3dee" d="M697 4748l11-3-17-22-11 1zM686 4751l11-3-17-24-11 1zM675 4755l11-4-17-26-12 3zM664 4759l11-4-18-27-11 5zM653 4765l11-6-18-26-11 7z"/><path color="#3f37e8" d="M642 4770l11-5-18-25-11 8zM631 4776l11-6-18-22-11 7zM620 4781l11-5-18-21-11 6zM609 4785l11-4-18-20-11 5zM598 4788l11-3-18-19-11 3zM587 4791l11-3-18-19-11 1zM576 4792l11-1-18-21-11 0zM565 4794l11-2-18-22-11 0z"/><path color="#3d3dee" d="M554 4796l11-2-18-24-11 1zM542 4799l12-3-18-25-11 2zM531 4803l11-4-17-26-11 4zM520 4807l11-4-17-26-11 6zM509 4812l11-5-17-24-11 7z"/><path color="#3f37e8" d="M498 4817l11-5-17-22-11 6zM487 4821l11-4-17-21-11 6zM476 4824l11-3-17-19-11 4z"/><path color="#3b43f3" d="M979 4665l11-6-17-38-11 4zM968 4670l11-5-17-40-12 5zM957 4676l11-6-18-40-11 6zM946 4682l11-6-18-40-11 6z"/><path color="#3d3dee" d="M935 4688l11-6-18-40-11 7zM924 4694l11-6-18-39-11 7zM913 4700l11-6-18-38-11 7z"/><path color="#3f37e8" d="M902 4706l11-6-18-37-11 7zM891 4711l11-5-18-36-11 6zM880 4717l11-6-18-35-11 5zM869 4722l11-5-18-36-11 4zM858 4726l11-4-18-37-11 3zM846 4731l12-5-18-38-11 4z"/><path color="#4131e3" d="M835 4736l11-5-17-39-11 4zM824 4741l11-5-17-40-11 4zM813 4746l11-5-17-41-11 6zM802 4751l11-5-17-40-11 6zM791 4756l11-5-17-39-11 6zM780 4761l11-5-17-38-11 6z"/><path color="#432cdd" d="M769 4766l11-5-17-37-11 6zM758 4771l11-5-17-36-11 5zM747 4775l11-4-17-36-11 4zM736 4780l11-5-17-36-11 4zM725 4783l11-3-17-37-11 2zM714 4787l11-4-17-38-11 3zM703 4791l11-4-17-39-11 3zM692 4795l11-4-17-40-11 4zM681 4799l11-4-17-40-11 4zM670 4804l11-5-17-40-11 6zM659 4808l11-4-17-39-11 5zM648 4813l11-5-17-38-11 6zM637 4817l11-4-17-37-11 5z"/><path color="#4327d5" d="M626 4821l11-4-17-36-11 4zM615 4824l11-3-17-36-11 3z"/><path color="#432cdd" d="M604 4827l11-3-17-36-11 3zM593 4831l11-4-17-36-11 1zM582 4834l11-3-17-39-11 2zM571 4837l11-3-17-40-11 2zM560 4840l11-3-17-41-12 3zM549 4843l11-3-18-41-11 4zM538 4847l11-4-18-40-11 4zM527 4850l11-3-18-40-11 5zM516 4854l11-4-18-38-11 5zM505 4857l11-3-18-37-11 4zM494 4860l11-3-18-36-11 3z"/><path color="#4131e3" d="M996 4692l11-6-17-27-11 6zM985 4698l11-6-17-27-11 5zM974 4704l11-6-17-28-11 6zM963 4710l11-6-17-28-11 6z"/><path color="#432cdd" d="M952 4715l11-5-17-28-11 6zM941 4721l11-6-17-27-11 6zM930 4727l11-6-17-27-11 6zM919 4732l11-5-17-27-11 6z"/><path color="#4327d5" d="M908 4738l11-6-17-26-11 5zM897 4743l11-5-17-27-11 6zM886 4748l11-5-17-26-11 5zM875 4753l11-5-17-26-11 4zM864 4759l11-6-17-27-12 5zM853 4764l11-5-18-28-11 5zM842 4769l11-5-18-28-11 5z"/><path color="#4423ce" d="M831 4774l11-5-18-28-11 5zM820 4778l11-4-18-28-11 5zM809 4783l11-5-18-27-11 5zM798 4788l11-5-18-27-11 5zM787 4793l11-5-18-27-11 5zM776 4797l11-4-18-27-11 5zM765 4802l11-5-18-26-11 4z"/><path color="#441ec7" d="M754 4806l11-4-18-27-11 5zM743 4811l11-5-18-26-11 3zM731 4815l12-4-18-28-11 4zM720 4819l11-4-17-28-11 4zM709 4823l11-4-17-28-11 4zM698 4827l11-4-17-28-11 4zM687 4831l11-4-17-28-11 5zM676 4835l11-4-17-27-11 4zM665 4839l11-4-17-27-11 5zM654 4843l11-4-17-26-11 4zM643 4847l11-4-17-26-11 4zM632 4850l11-3-17-26-11 3zM621 4854l11-4-17-26-11 3zM610 4858l11-4-17-27-11 4zM599 4861l11-3-17-27-11 3zM588 4864l11-3-17-27-11 3zM577 4868l11-4-17-27-11 3zM566 4871l11-3-17-28-11 3zM555 4874l11-3-17-28-11 4zM544 4877l11-3-17-27-11 3zM533 4880l11-3-17-27-11 4zM522 4883l11-3-17-26-11 3z"/><path color="#4423ce" d="M511 4886l11-3-17-26-11 3z"/><path color="#4131e3" d="M1013 4691l11-5-17 0-11 6zM1002 4697l11-6-17 1-11 6zM991 4703l11-6-17 1-11 6z"/><path color="#432cdd" d="M980 4709l11-6-17 1-11 6zM969 4715l11-6-17 1-11 5zM958 4721l11-6-17 0-11 6zM947 4726l11-5-17 0-11 6z"/><path color="#4327d5" d="M936 4732l11-6-17 1-11 5zM925 4738l11-6-17 0-11 6zM914 4743l11-5-17 0-11 5zM903 4748l11-5-17 0-11 5zM892 4753l11-5-17 0-11 5z"/><path color="#4423ce" d="M881 4758l11-5-17 0-11 6zM870 4763l11-5-17 1-11 5zM859 4768l11-5-17 1-11 5zM848 4773l11-5-17 1-11 5zM837 4778l11-5-17 1-11 4zM826 4783l11-5-17 0-11 5zM815 4788l11-5-17 0-11 5z"/><path color="#441ec7" d="M804 4793l11-5-17 0-11 5zM793 4797l11-4-17 0-11 4zM782 4802l11-5-17 0-11 5zM771 4806l11-4-17 0-11 4zM760 4810l11-4-17 0-11 5zM749 4814l11-4-17 1-12 4zM738 4818l11-4-18 1-11 4zM727 4822l11-4-18 1-11 4zM716 4826l11-4-18 1-11 4zM705 4831l11-5-18 1-11 4zM694 4835l11-4-18 0-11 4zM683 4839l11-4-18 0-11 4zM672 4843l11-4-18 0-11 4zM661 4847l11-4-18 0-11 4zM650 4850l11-3-18 0-11 3zM639 4854l11-4-18 0-11 4zM627 4857l12-3-18 0-11 4zM616 4860l11-3-17 1-11 3zM605 4863l11-3-17 1-11 3zM594 4867l11-4-17 1-11 4zM583 4870l11-3-17 1-11 3zM572 4873l11-3-17 1-11 3zM561 4877l11-4-17 1-11 3zM550 4880l11-3-17 0-11 3zM539 4883l11-3-17 0-11 3zM528 4886l11-3-17 0-11 3z"/><path color="#3d3dee" d="M1031 4672l11-4-18 18-11 5zM1020 4677l11-5-18 19-11 6zM1009 4683l11-6-18 20-11 6zM998 4689l11-6-18 20-11 6z"/><path color="#3f37e8" d="M987 4696l11-7-18 20-11 6zM976 4702l11-6-18 19-11 6zM965 4709l11-7-18 19-11 5z"/><path color="#4131e3" d="M954 4716l11-7-18 17-11 6zM943 4722l11-6-18 16-11 6zM931 4727l12-5-18 16-11 5zM920 4731l11-4-17 16-11 5zM909 4735l11-4-17 17-11 5zM898 4739l11-4-17 18-11 5zM887 4743l11-4-17 19-11 5z"/><path color="#432cdd" d="M876 4748l11-5-17 20-11 5zM865 4753l11-5-17 20-11 5zM854 4759l11-6-17 20-11 5zM843 4765l11-6-17 19-11 5zM832 4771l11-6-17 18-11 5zM821 4776l11-5-17 17-11 5z"/><path color="#4327d5" d="M810 4781l11-5-17 17-11 4zM799 4785l11-4-17 16-11 5zM788 4789l11-4-17 17-11 4zM777 4792l11-3-17 17-11 4zM766 4795l11-3-17 18-11 4zM755 4798l11-3-17 19-11 4zM744 4802l11-4-17 20-11 4zM733 4807l11-5-17 20-11 4zM722 4812l11-5-17 19-11 5zM711 4817l11-5-17 19-11 4zM700 4822l11-5-17 18-11 4zM689 4827l11-5-17 17-11 4zM678 4831l11-4-17 16-11 4zM667 4834l11-3-17 16-11 3zM656 4837l11-3-17 16-11 4zM645 4839l11-2-17 17-12 3zM634 4841l11-2-18 18-11 3zM623 4844l11-3-18 19-11 3zM612 4847l11-3-18 19-11 4zM601 4850l11-3-18 20-11 3zM590 4854l11-4-18 20-11 3zM579 4859l11-5-18 19-11 4zM568 4863l11-4-18 18-11 3zM557 4867l11-4-18 17-11 3zM546 4870l11-3-18 16-11 3z"/><path color="#3452f9" d="M1048 4662l11-3-17 9-11 4zM1037 4665l11-3-17 10-11 5zM1026 4670l11-5-17 12-11 6zM1015 4677l11-7-17 13-11 6z"/><path color="#384af6" d="M1004 4685l11-8-17 12-11 7zM993 4694l11-9-17 11-11 6z"/><path color="#3b43f3" d="M982 4702l11-8-17 8-11 7zM971 4710l11-8-17 7-11 7zM960 4716l11-6-17 6-11 6z"/><path color="#3d3dee" d="M949 4721l11-5-17 6-12 5zM938 4724l11-3-18 6-11 4zM927 4726l11-2-18 7-11 4z"/><path color="#3b43f3" d="M916 4728l11-2-18 9-11 4zM905 4731l11-3-18 11-11 4zM894 4735l11-4-18 12-11 5z"/><path color="#3d3dee" d="M883 4741l11-6-18 13-11 5zM872 4748l11-7-18 12-11 6zM861 4756l11-8-18 11-11 6z"/><path color="#3f37e8" d="M850 4763l11-7-18 9-11 6zM839 4770l11-7-18 8-11 5zM828 4776l11-6-18 6-11 5zM816 4779l12-3-18 5-11 4zM805 4782l11-3-17 6-11 4zM794 4783l11-1-17 7-11 3zM783 4784l11-1-17 9-11 3zM772 4786l11-2-17 11-11 3zM761 4790l11-4-17 12-11 4zM750 4795l11-5-17 12-11 5zM739 4801l11-6-17 12-11 5zM728 4808l11-7-17 11-11 5zM717 4815l11-7-17 9-11 5z"/><path color="#4131e3" d="M706 4821l11-6-17 7-11 5zM695 4825l11-4-17 6-11 4zM684 4828l11-3-17 6-11 3zM673 4830l11-2-17 6-11 3z"/><path color="#3f37e8" d="M662 4830l11 0-17 7-11 2zM651 4831l11-1-17 9-11 2zM640 4832l11-1-17 10-11 3zM629 4834l11-2-17 12-11 3zM618 4838l11-4-17 13-11 3zM607 4844l11-6-17 12-11 4zM596 4850l11-6-17 10-11 5zM585 4856l11-6-17 9-11 4zM574 4861l11-5-17 7-11 4zM563 4865l11-4-17 6-11 3z"/><path color="#315bfc" d="M1065 4675l11-1-17-15-11 3zM1054 4677l11-2-17-13-11 3zM1043 4681l11-4-17-12-11 5zM1032 4688l11-7-17-11-11 7z"/><path color="#3452f9" d="M1021 4698l11-10-17-11-11 8zM1010 4709l11-11-17-13-11 9z"/><path color="#384af6" d="M999 4720l11-11-17-15-11 8z"/><path color="#3b43f3" d="M988 4730l11-10-17-18-11 8zM977 4736l11-6-17-20-11 6zM966 4740l11-4-17-20-11 5zM955 4742l11-2-17-19-11 3zM944 4741l11 1-17-18-11 2zM933 4741l11 0-17-15-11 2z"/><path color="#384af6" d="M922 4742l11-1-17-13-11 3zM911 4746l11-4-17-11-11 4zM900 4752l11-6-17-11-11 6z"/><path color="#3b43f3" d="M889 4761l11-9-17-11-11 7zM878 4771l11-10-17-13-11 8z"/><path color="#3d3dee" d="M867 4781l11-10-17-15-11 7zM856 4790l11-9-17-18-11 7z"/><path color="#3f37e8" d="M845 4796l11-6-17-20-11 6zM834 4799l11-3-17-20-12 3zM823 4800l11-1-18-20-11 3z"/><path color="#3d3dee" d="M812 4799l11 1-18-18-11 1zM801 4797l11 2-18-16-11 1zM790 4798l11-1-18-13-11 2z"/><path color="#3b43f3" d="M779 4800l11-2-18-12-11 4z"/><path color="#3d3dee" d="M768 4806l11-6-18-10-11 5zM757 4814l11-8-18-11-11 6zM746 4823l11-9-18-13-11 7z"/><path color="#3f37e8" d="M735 4833l11-10-18-15-11 7zM724 4840l11-7-18-18-11 6zM712 4846l12-6-18-19-11 4zM701 4848l11-2-17-21-11 3zM690 4848l11 0-17-20-11 2zM679 4846l11 2-17-18-11 0z"/><path color="#3d3dee" d="M668 4844l11 2-17-16-11 1zM657 4843l11 1-17-13-11 1zM646 4845l11-2-17-11-11 2z"/><path color="#3b43f3" d="M635 4850l11-5-17-11-11 4z"/><path color="#3d3dee" d="M624 4857l11-7-17-12-11 6zM613 4865l11-8-17-13-11 6zM602 4874l11-9-17-15-11 6z"/><path color="#3f37e8" d="M591 4881l11-7-17-18-11 5zM580 4885l11-4-17-20-11 4z"/><path color="#3452f9" d="M1083 4699l11 3-18-28-11 1zM1072 4699l11 0-18-24-11 2zM1061 4703l11-4-18-22-11 4zM1050 4711l11-8-18-22-11 7zM1039 4723l11-12-18-23-11 10z"/><path color="#384af6" d="M1028 4737l11-14-18-25-11 11z"/><path color="#3b43f3" d="M1017 4751l11-14-18-28-11 11z"/><path color="#3d3dee" d="M1005 4763l12-12-18-31-11 10z"/><path color="#3f37e8" d="M994 4771l11-8-17-33-11 6zM983 4774l11-3-17-35-11 4zM972 4773l11 1-17-34-11 2z"/><path color="#3d3dee" d="M961 4769l11 4-17-31-11-1zM950 4766l11 3-17-28-11 0z"/><path color="#3b43f3" d="M939 4765l11 1-17-25-11 1zM928 4767l11-2-17-23-11 4zM917 4774l11-7-17-21-11 6z"/><path color="#3d3dee" d="M906 4786l11-12-17-22-11 9z"/><path color="#3f37e8" d="M895 4799l11-13-17-25-11 10zM884 4813l11-14-17-28-11 10z"/><path color="#4131e3" d="M873 4824l11-11-17-32-11 9z"/><path color="#432cdd" d="M862 4830l11-6-17-34-11 6zM851 4833l11-3-17-34-11 3zM840 4831l11 2-17-34-11 1z"/><path color="#4131e3" d="M829 4826l11 5-17-31-11-1z"/><path color="#3f37e8" d="M818 4822l11 4-17-27-11-2zM807 4820l11 2-17-25-11 1z"/><path color="#3d3dee" d="M796 4822l11-2-17-22-11 2zM785 4828l11-6-17-22-11 6z"/><path color="#3f37e8" d="M774 4839l11-11-17-22-11 8zM763 4851l11-12-17-25-11 9z"/><path color="#4131e3" d="M752 4864l11-13-17-28-11 10z"/><path color="#432cdd" d="M741 4874l11-10-17-31-11 7zM730 4880l11-6-17-34-12 6zM719 4881l11-1-18-34-11 2zM708 4879l11 2-18-33-11 0z"/><path color="#4131e3" d="M697 4873l11 6-18-31-11-2z"/><path color="#3f37e8" d="M686 4868l11 5-18-27-11-2zM675 4865l11 3-18-24-11-1z"/><path color="#3d3dee" d="M664 4866l11-1-18-22-11 2zM653 4872l11-6-18-21-11 5z"/><path color="#3f37e8" d="M642 4881l11-9-18-22-11 7zM631 4893l11-12-18-24-11 8z"/><path color="#4131e3" d="M620 4905l11-12-18-28-11 9z"/><path color="#432cdd" d="M609 4914l11-9-18-31-11 7zM597 4920l12-6-18-33-11 4z"/><path color="#384af6" d="M1100 4709l11 7-17-14-11-3z"/><path color="#3452f9" d="M1089 4706l11 3-17-10-11 0zM1078 4708l11-2-17-7-11 4zM1067 4717l11-9-17-5-11 8z"/><path color="#384af6" d="M1056 4732l11-15-17-6-11 12z"/><path color="#3b43f3" d="M1045 4751l11-19-17-9-11 14z"/><path color="#3f37e8" d="M1034 4769l11-18-17-14-11 14z"/><path color="#4131e3" d="M1023 4783l11-14-17-18-12 12z"/><path color="#432cdd" d="M1012 4792l11-9-18-20-11 8zM1001 4794l11-2-18-21-11 3zM990 4790l11 4-18-20-11-1z"/><path color="#4131e3" d="M979 4783l11 7-18-17-11-4z"/><path color="#3f37e8" d="M968 4775l11 8-18-14-11-3z"/><path color="#3d3dee" d="M957 4771l11 4-18-9-11-1z"/><path color="#3b43f3" d="M946 4773l11-2-18-6-11 2z"/><path color="#3d3dee" d="M935 4781l11-8-18-6-11 7zM924 4795l11-14-18-7-11 12z"/><path color="#4131e3" d="M913 4813l11-18-18-9-11 13z"/><path color="#432cdd" d="M901 4830l12-17-18-14-11 14z"/><path color="#4327d5" d="M890 4844l11-14-17-17-11 11z"/><path color="#4423ce" d="M879 4852l11-8-17-20-11 6zM868 4853l11-1-17-22-11 3z"/><path color="#4327d5" d="M857 4848l11 5-17-20-11-2z"/><path color="#432cdd" d="M846 4840l11 8-17-17-11-5z"/><path color="#4131e3" d="M835 4832l11 8-17-14-11-4z"/><path color="#3f37e8" d="M824 4827l11 5-17-10-11-2zM813 4828l11-1-17-7-11 2zM802 4835l11-7-17-6-11 6zM791 4848l11-13-17-7-11 11z"/><path color="#432cdd" d="M780 4865l11-17-17-9-11 12z"/><path color="#4327d5" d="M769 4881l11-16-17-14-11 13z"/><path color="#4423ce" d="M758 4894l11-13-17-17-11 10z"/><path color="#441ec7" d="M747 4901l11-7-17-20-11 6zM736 4902l11-1-17-21-11 1z"/><path color="#4423ce" d="M725 4896l11 6-17-21-11-2z"/><path color="#4327d5" d="M714 4887l11 9-17-17-11-6z"/><path color="#432cdd" d="M703 4878l11 9-17-14-11-5z"/><path color="#3f37e8" d="M692 4872l11 6-17-10-11-3zM681 4872l11 0-17-7-11 1zM670 4879l11-7-17-6-11 6zM659 4891l11-12-17-7-11 9z"/><path color="#4131e3" d="M648 4907l11-16-17-10-11 12z"/><path color="#432cdd" d="M637 4922l11-15-17-14-11 12z"/><path color="#4327d5" d="M626 4935l11-13-17-17-11 9z"/><path color="#4423ce" d="M615 4941l11-6-17-21-12 6z"/></g><path d="M61.5 495.1L111.1 478.4M61.5 495.1L23.4 473.3M23.4 473.3L23.4 425.8" stroke="#6a6a6a" stroke-width="0.5"/><path d="M61.5 495.1L62 496M78 489.5L78.5 490.4M94.6 484L95.1 484.9M111.1 478.4L111.6 479.3M61.5 495.1L60.9 496M48.8 487.8L48.2 488.7M36.1 480.6L35.5 481.5M23.4 473.3L22.8 474.2M23.4 466.9L22.4 466.9M23.4 460.5L22.4 460.5M23.4 454.1L22.4 454.1M23.4 447.7L22.4 447.7M23.4 441.3L22.4 441.3M23.4 434.9L22.4 434.9M23.4 428.5L22.4 428.5" stroke="#6a6a6a" stroke-width="0.4"/><text transform="matrix(.90 0 0 1 64.1 501.4)" font-size="4.9" fill="#303030">-5</text><text transform="matrix(.90 0 0 1 80.6 495.8)" font-size="4.9" fill="#303030">0</text><text transform="matrix(.90 0 0 1 97.2 490.3)" font-size="4.9" fill="#303030">5</text><text transform="matrix(.90 0 0 1 113.7 484.7)" font-size="4.9" fill="#303030">10</text><text transform="matrix(.90 0 0 1 58.3 501)" font-size="4.9" text-anchor="end" fill="#303030">-5</text><text transform="matrix(.90 0 0 1 45.6 493.7)" font-size="4.9" text-anchor="end" fill="#303030">0</text><text transform="matrix(.90 0 0 1 32.9 486.5)" font-size="4.9" text-anchor="end" fill="#303030">5</text><text transform="matrix(.90 0 0 1 20.2 479.2)" font-size="4.9" text-anchor="end" fill="#303030">10</text><text transform="matrix(.90 0 0 1 20.4 468.4)" font-size="4.9" text-anchor="end" fill="#303030">20</text><text transform="matrix(.90 0 0 1 20.4 462)" font-size="4.9" text-anchor="end" fill="#303030">40</text><text transform="matrix(.90 0 0 1 20.4 455.6)" font-size="4.9" text-anchor="end" fill="#303030">60</text><text transform="matrix(.90 0 0 1 20.4 449.2)" font-size="4.9" text-anchor="end" fill="#303030">80</text><text transform="matrix(.90 0 0 1 20.4 442.8)" font-size="4.9" text-anchor="end" fill="#303030">100</text><text transform="matrix(.90 0 0 1 20.4 436.4)" font-size="4.9" text-anchor="end" fill="#303030">120</text><text transform="matrix(.90 0 0 1 20.4 430)" font-size="4.9" text-anchor="end" fill="#303030">140</text><text transform="matrix(.90 0 0 1 86.8 503.6)" font-size="5.300000000000001" text-anchor="middle" fill="#303030">x</text><text transform="matrix(.90 0 0 1 39.3 502.7)" font-size="5.300000000000001" text-anchor="middle" fill="#303030">y</text><text font-size="5.300000000000001" fill="#303030" text-anchor="middle" transform="translate(10.7 449.6) rotate(-90) scale(1 0.9)">z</text><text transform="matrix(.90 0 0 1 66.8 408.2)" font-size="5.4" text-anchor="middle" fill="#222" font-weight="bold">F12</text><path d="M368.4 493.7L327.4 472M327.4 472L327.4 424.6M379.1 490.4L338.1 468.7M338.1 468.7L338.1 421.3M389.8 487.1L348.8 465.3M348.8 465.3L348.8 417.9M400.5 483.7L359.5 462M359.5 462L359.5 414.6M411.2 480.4L370.2 458.7M370.2 458.7L370.2 411.3M363.1 495.4L322 473.7M322 473.7L322 426.3M416.6 478.7L375.5 457M375.5 457L375.5 409.6M359 493.2L412.5 476.6M412.5 476.6L412.5 429.1M350.8 488.9L404.3 472.2M404.3 472.2L404.3 424.8M342.5 484.5L396.1 467.9M396.1 467.9L396.1 420.5M334.3 480.2L387.8 463.5M387.8 463.5L387.8 416.1M326.1 475.9L379.6 459.2M379.6 459.2L379.6 411.8M363.1 495.4L416.6 478.7M416.6 478.7L416.6 431.3M322 473.7L375.5 457M375.5 457L375.5 409.6M322 465L375.5 448.4M375.5 448.4L416.6 470.1M322 455.1L375.5 438.5M375.5 438.5L416.6 460.2M322 445.2L375.5 428.6M375.5 428.6L416.6 450.3M322 435.3L375.5 418.7M375.5 418.7L416.6 440.4M322 473.7L375.5 457M375.5 457L416.6 478.7M322 426.3L375.5 409.6M375.5 409.6L416.6 431.3" stroke="#e2e2e2" stroke-width="0.4"/><g fill="none" stroke-width="4.5" transform="scale(.1)"><path stroke="#5f4de4" d="M3683 4824l-19-1-26-9-21-11-21-11-20-11-20-11-16-12 3-8 23-10 26-9 27-8 27-9 27-8 30-6 19 1 26 9 21 11 21 11 20 11 20 11 16 12-3 8-23 10-26 9-27 8-27 9-27 8-30 6"/><path stroke="#526efa" d="M3700 4833l-24 3-14 0-21-6-22-10-21-11-21-11-20-11-21-11-18-11-8-10 1-5 14-9 26-9 26-9 27-8 27-8 27-8 28-8 24-3 14 0 21 6 22 10 21 11 21 11 20 11 21 11 18 11 8 10-1 6-14 8-26 9-26 9-27 8-27 8-27 9-28 7"/><path stroke="#3b9afb" d="M3678 4844l-22-1-29-9-21-10-21-11-21-11-20-11-21-11-19-11-13-13 3-9 21-12 26-8 26-9 27-8 27-8 27-9 28-8 32-5 22 1 29 9 21 10 21 11 21 11 20 11 21 11 19 11 13 13-3 9-21 12-26 9-26 8-27 8-27 9-27 8-28 8-32 5"/><path stroke="#2cb7eb" d="M3689 4850l-46-2-28-10-21-11-21-10-20-11-21-11-20-11-20-11-16-12 5-19 25-11 26-9 27-8 26-9 27-8 27-8 27-8 31-7 46 2 28 10 21 11 21 11 20 10 21 11 20 11 20 11 16 13-5 18-25 12-26 8-27 9-26 8-27 8-27 9-27 8-31 6"/><path stroke="#26c8cc" d="M3699 4855l-37 3-34-7-23-10-21-10-21-11-20-11-21-11-20-11-20-11-18-12-7-15 16-13 25-10 26-8 27-9 27-8 26-8 27-9 27-8 29-7 37-3 34 7 23 10 21 11 21 10 20 11 21 11 20 11 20 11 18 12 7 15-16 13-25 10-26 8-27 9-27 8-26 8-27 9-27 8-29 7"/><path stroke="#49d486" d="M3763 4844l-19 6-8 2-28 8-34 5-28-2-29-8-23-10-6-4-15-7-20-11-21-11-20-11-21-11-14-7-6-4-19-11-12-13 4-12 20-12 26-9 7-3 19-6 27-8 26-8 27-9 27-8 19-6 8-2 28-8 34-5 28 2 29 8 23 11 6 3 15 7 20 11 21 11 20 11 21 11 14 7 6 4 19 11 12 14-4 11-20 12-26 9-7 3-19 6-27 8-26 8-27 9-27 8"/><path stroke="#7ed462" d="M3688 4872l-17 1-27-2-16-3-26-9-22-10-21-11-21-11-20-10-21-11-20-11-20-11-19-11-15-13-2-7 3-11 7-6 22-11 26-9 26-8 27-9 27-8 26-8 27-9 27-8 28-8 31-6 17 0 27 1 16 3 26 9 22 10 21 11 21 11 20 11 21 10 20 11 20 11 19 12 15 12 2 7-3 11-7 6-22 11-26 9-26 8-27 9-27 8-26 8-27 9-27 8-28 8-31 6"/><path stroke="#f9c43d" d="M3731 4872l-15 4-14 3-34 5-28-2-30-8-12-5-12-5-22-10-21-11-20-11-21-11-20-10-21-11-20-11-19-11-9-6-9-6-11-14 4-11 19-13 13-4 12-5 26-9 26-9 27-8 27-8 26-9 27-8 27-8 28-8 15-3 14-4 34-4 28 1 30 8 12 5 12 5 22 10 21 11 20 11 21 11 20 11 21 10 20 11 19 12 9 6 9 5 11 14-4 12-19 12-13 5-12 5-26 8-26 9-27 8-27 8-26 9-27 8-27 8-28 8"/><path stroke="#ffd83a" d="M3725 4891l-11 3-19 4-36 4-22-2-33-7-15-6-9-3-23-11-21-10-21-11-20-11-21-11-20-11-21-11-20-10-20-12-19-11-5-4-11-8-9-15 3-9 18-13 15-6 8-4 26-9 26-9 27-8 26-8 27-9 27-8 27-8 27-9 27-8 28-7 11-2 19-5 36-3 22 1 33 7 15 6 9 4 23 10 21 10 21 11 20 11 21 11 20 11 21 11 20 11 20 11 19 11 5 5 11 7 9 15-3 9-18 13-15 6-8 4-26 9-26 9-27 8-26 8-27 9-27 8-27 8-27 9-27 8-28 7"/></g><g class="sf" filter="url(#bl)" transform="scale(.1)"><path color="#fff005" d="M3749 4122l27-13-21-13-27 11zM3722 4135l27-13-21-15-26 10z"/><path color="#ffe80a" d="M3695 4147l27-12-20-18-27 10zM3669 4158l26-11-20-20-27 9zM3642 4168l27-10-21-22-27 9zM3615 4177l27-9-21-23-26 8zM3588 4185l27-8-20-24-27 9zM3562 4194l26-9-20-23-27 8zM3535 4202l27-8-21-24-27 8zM3508 4210l27-8-21-24-26 9zM3481 4219l27-9-20-23-27 8zM3455 4227l26-8-20-24-27 8zM3428 4235l27-8-21-24-27 9zM3401 4243l27-8-21-23-26 8zM3374 4251l27-8-20-23-27 8zM3348 4258l26-7-20-23-27 8zM3321 4264l27-6-21-22-27 8z"/><path color="#fff005" d="M3294 4268l27-4-21-20-26 6zM3267 4272l27-4-20-18-27 7z"/><path color="#fff700" d="M3241 4276l26-4-20-15-27 6z"/><path color="#fff005" d="M3770 4137l26-15-20-13-27 13z"/><path color="#ffe80a" d="M3743 4155l27-18-21-15-27 13z"/><path color="#ffd815" d="M3716 4173l27-18-21-20-27 12z"/><path color="#ffd017" d="M3689 4189l27-16-21-26-26 11zM3663 4202l26-13-20-31-27 10zM3636 4213l27-11-21-34-27 9zM3609 4222l27-9-21-36-27 8zM3582 4230l27-8-21-37-26 9zM3555 4238l27-8-20-36-27 8zM3529 4247l26-9-20-36-27 8zM3502 4255l27-8-21-37-27 9zM3475 4263l27-8-21-36-26 8zM3448 4272l27-9-20-36-27 8zM3422 4279l26-7-20-37-27 8zM3395 4286l27-7-21-36-27 8zM3368 4289l27-3-21-35-26 7z"/><path color="#ffd815" d="M3341 4290l27-1-20-31-27 6z"/><path color="#ffe80a" d="M3315 4288l26 2-20-26-27 4z"/><path color="#fff005" d="M3288 4287l27 1-21-20-27 4zM3261 4289l27-2-21-15-26 4z"/><path color="#ffe80a" d="M3790 4152l27-18-21-12-26 15z"/><path color="#ffd815" d="M3763 4176l27-24-20-15-27 18z"/><path color="#ffc71a" d="M3737 4205l26-29-20-21-27 18z"/><path color="#fcb81d" d="M3710 4234l27-29-21-32-27 16z"/><path color="#fab91b" d="M3683 4258l27-24-21-45-26 13z"/><path color="#f8ba1a" d="M3656 4273l27-15-20-56-27 11zM3630 4284l26-11-20-60-27 9zM3603 4292l27-8-21-62-27 8zM3576 4301l27-9-21-62-27 8zM3549 4309l27-8-21-63-26 9zM3522 4317l27-8-20-62-27 8zM3496 4326l26-9-20-62-27 8zM3469 4334l27-8-21-63-27 9zM3442 4340l27-6-21-62-26 7z"/><path color="#fab91b" d="M3415 4341l27-1-20-61-27 7z"/><path color="#fcb81d" d="M3389 4334l26 7-20-55-27 3z"/><path color="#ffc71a" d="M3362 4321l27 13-21-45-27 1z"/><path color="#ffd815" d="M3335 4309l27 12-21-31-26-2z"/><path color="#ffe80a" d="M3308 4302l27 7-20-21-27-1z"/><path color="#fff005" d="M3282 4301l26 1-20-15-27 2z"/><path color="#ffe80a" d="M3811 4166l26-20-20-12-27 18z"/><path color="#ffd017" d="M3784 4194l27-28-21-14-27 24z"/><path color="#fcb81d" d="M3757 4237l27-43-21-18-26 29z"/><path color="#acc827" d="M3730 4290l27-53-20-32-27 29z"/><path color="#23cb78" d="M3704 4340l26-50-20-56-27 24z"/><path color="#00bfc2" d="M3677 4371l27-31-21-82-27 15z"/><path color="#02b9cf" d="M3650 4387l27-16-21-98-26 11zM3623 4397l27-10-20-103-27 8zM3597 4406l26-9-20-105-27 9zM3570 4414l27-8-21-105-27 8zM3543 4422l27-8-21-105-27 8zM3516 4430l27-8-21-105-26 9zM3489 4437l27-7-20-104-27 8z"/><path color="#00bfc2" d="M3463 4437l26 0-20-103-27 6z"/><path color="#23cb78" d="M3436 4423l27 14-21-97-27 1z"/><path color="#acc827" d="M3409 4390l27 33-21-82-26-7z"/><path color="#fcb81d" d="M3382 4353l27 37-20-56-27-13z"/><path color="#ffd017" d="M3356 4328l26 25-20-32-27-12z"/><path color="#ffe80a" d="M3329 4316l27 12-21-19-27-7z"/><path color="#fff005" d="M3302 4313l27 3-21-14-26-1z"/><path color="#ffe80a" d="M3831 4178l27-21-21-11-26 20z"/><path color="#ffd017" d="M3804 4210l27-32-20-12-27 28z"/><path color="#fab91b" d="M3778 4263l26-53-20-16-27 43z"/><path color="#23cb78" d="M3751 4342l27-79-21-26-27 53z"/><path color="#03b6d5" d="M3724 4431l27-89-21-52-26 50z"/><path color="#1888fb" d="M3697 4493l27-62-20-91-27 31z"/><path color="#286cfe" d="M3671 4522l26-29-20-122-27 16z"/><path color="#2d63fe" d="M3644 4535l27-13-21-135-27 10zM3617 4544l27-9-21-138-26 9zM3590 4552l27-8-20-138-27 8zM3564 4561l26-9-20-138-27 8zM3537 4569l27-8-21-139-27 8z"/><path color="#286cfe" d="M3510 4572l27-3-21-139-27 7z"/><path color="#1888fb" d="M3483 4560l27 12-21-135-26 0z"/><path color="#03b6d5" d="M3456 4514l27 46-20-123-27-14z"/><path color="#48cc59" d="M3430 4442l26 72-20-91-27-33z"/><path color="#fab91b" d="M3403 4379l27 63-21-52-27-37z"/><path color="#ffd017" d="M3376 4343l27 36-21-26-26-25z"/><path color="#ffe80a" d="M3349 4328l27 15-20-15-27-12z"/><path color="#fff005" d="M3323 4324l26 4-20-12-27-3z"/><path color="#ffe80a" d="M3852 4189l26-21-20-11-27 21z"/><path color="#ffd017" d="M3825 4223l27-34-21-11-27 32z"/><path color="#f8ba1a" d="M3798 4281l27-58-21-13-26 53z"/><path color="#00bfc2" d="M3771 4376l27-95-20-18-27 79z"/><path color="#1888fb" d="M3745 4496l26-120-20-34-27 89z"/><path color="#384af6" d="M3718 4589l27-93-21-65-27 62z"/><path color="#4131e3" d="M3691 4632l27-43-21-96-26 29z"/><path color="#432cdd" d="M3664 4648l27-16-20-110-27 13zM3638 4657l26-9-20-113-27 9zM3611 4665l27-8-21-113-27 8zM3584 4673l27-8-21-113-26 9zM3557 4681l27-8-20-112-27 8z"/><path color="#4131e3" d="M3531 4682l26-1-20-112-27 3z"/><path color="#384af6" d="M3504 4656l27 26-21-110-27-12z"/><path color="#09a6eb" d="M3477 4579l27 77-21-96-27-46z"/><path color="#36cc67" d="M3450 4476l27 103-21-65-26-72z"/><path color="#f8ba1a" d="M3424 4397l26 79-20-34-27-63z"/><path color="#ffd017" d="M3397 4356l27 41-21-18-27-36z"/><path color="#ffe80a" d="M3370 4339l27 17-21-13-27-15z"/><path color="#fff005" d="M3343 4335l27 4-21-11-26-4z"/><path color="#ffe80a" d="M3872 4200l27-21-21-11-26 21z"/><path color="#ffd017" d="M3845 4234l27-34-20-11-27 34z"/><path color="#f8ba1a" d="M3819 4294l26-60-20-11-27 58z"/><path color="#02b9cf" d="M3792 4395l27-101-21-13-27 95z"/><path color="#286cfe" d="M3765 4527l27-132-21-19-26 120z"/><path color="#4131e3" d="M3738 4634l27-107-20-31-27 93z"/><path color="#4423ce" d="M3712 4684l26-50-20-45-27 43z"/><path color="#441ec7" d="M3685 4701l27-17-21-52-27 16zM3658 4711l27-10-21-53-26 9zM3631 4719l27-8-20-54-27 8zM3605 4727l26-8-20-54-27 8zM3578 4735l27-8-21-54-27 8z"/><path color="#4423ce" d="M3551 4734l27 1-21-54-26 1z"/><path color="#3d3dee" d="M3524 4701l27 33-20-52-27-26z"/><path color="#0e9bf2" d="M3498 4611l26 90-20-45-27-77z"/><path color="#2ccc6d" d="M3471 4495l27 116-21-32-27-103z"/><path color="#f8ba1a" d="M3444 4410l27 85-21-19-26-79z"/><path color="#ffd017" d="M3417 4368l27 42-20-13-27-41z"/><path color="#ffe80a" d="M3391 4350l26 18-20-12-27-17z"/><path color="#fff005" d="M3364 4346l27 4-21-11-27-4z"/><path color="#ffe80a" d="M3893 4211l27-21-21-11-27 21z"/><path color="#ffd017" d="M3866 4245l27-34-21-11-27 34z"/><path color="#f8ba1a" d="M3839 4305l27-60-21-11-26 60z"/><path color="#02b9cf" d="M3812 4407l27-102-20-11-27 101z"/><path color="#2d63fe" d="M3786 4543l26-136-20-12-27 132z"/><path color="#432cdd" d="M3759 4653l27-110-21-16-27 107z"/><path color="#441ec7" d="M3732 4704l27-51-21-19-26 50z"/><path color="#451abf" d="M3705 4722l27-18-20-20-27 17zM3679 4731l26-9-20-21-27 10zM3652 4739l27-8-21-20-27 8zM3625 4748l27-9-21-20-26 8zM3598 4755l27-7-20-21-27 8z"/><path color="#441ec7" d="M3572 4754l26 1-20-20-27-1z"/><path color="#3f37e8" d="M3545 4719l27 35-21-20-27-33z"/><path color="#1195f6" d="M3518 4626l27 93-21-18-26-90z"/><path color="#23cb78" d="M3491 4507l27 119-20-15-27-116z"/><path color="#f8ba1a" d="M3465 4422l26 85-20-12-27-85z"/><path color="#ffd017" d="M3438 4379l27 43-21-12-27-42z"/><path color="#ffe80a" d="M3411 4361l27 18-21-11-26-18z"/><path color="#fff005" d="M3384 4357l27 4-20-11-27-4z"/><path color="#ffe80a" d="M3913 4222l27-21-20-11-27 21z"/><path color="#ffd017" d="M3887 4256l26-34-20-11-27 34z"/><path color="#f8ba1a" d="M3860 4316l27-60-21-11-27 60z"/><path color="#02b9cf" d="M3833 4418l27-102-21-11-27 102z"/><path color="#2d63fe" d="M3806 4554l27-136-21-11-26 136z"/><path color="#432cdd" d="M3780 4664l26-110-20-11-27 110z"/><path color="#441ec7" d="M3753 4716l27-52-21-11-27 51z"/><path color="#451abf" d="M3726 4734l27-18-21-12-27 18zM3699 4743l27-9-21-12-26 9zM3672 4751l27-8-20-12-27 8zM3646 4760l26-9-20-12-27 9zM3619 4767l27-7-21-12-27 7z"/><path color="#441ec7" d="M3592 4766l27 1-21-12-26-1z"/><path color="#3f37e8" d="M3565 4731l27 35-20-12-27-35z"/><path color="#1195f6" d="M3539 4637l26 94-20-12-27-93z"/><path color="#23cb78" d="M3512 4518l27 119-21-11-27-119z"/><path color="#f8ba1a" d="M3485 4433l27 85-21-11-26-85z"/><path color="#ffd017" d="M3458 4389l27 44-20-11-27-43z"/><path color="#ffe80a" d="M3432 4372l26 17-20-10-27-18z"/><path color="#fff005" d="M3405 4368l27 4-21-11-27-4z"/><path color="#ffe80a" d="M3934 4233l27-21-21-11-27 21z"/><path color="#ffd017" d="M3907 4267l27-34-21-11-26 34z"/><path color="#f8ba1a" d="M3880 4327l27-60-20-11-27 60z"/><path color="#02b9cf" d="M3854 4429l26-102-20-11-27 102z"/><path color="#2d63fe" d="M3827 4565l27-136-21-11-27 136z"/><path color="#432cdd" d="M3800 4675l27-110-21-11-26 110z"/><path color="#441ec7" d="M3773 4727l27-52-20-11-27 52z"/><path color="#451abf" d="M3747 4744l26-17-20-11-27 18zM3720 4754l27-10-21-10-27 9zM3693 4762l27-8-21-11-27 8zM3666 4770l27-8-21-11-26 9zM3639 4778l27-8-20-10-27 7z"/><path color="#441ec7" d="M3613 4777l26 1-20-11-27-1z"/><path color="#3f37e8" d="M3586 4742l27 35-21-11-27-35z"/><path color="#1195f6" d="M3559 4648l27 94-21-11-26-94z"/><path color="#23cb78" d="M3532 4529l27 119-20-11-27-119z"/><path color="#f8ba1a" d="M3506 4443l26 86-20-11-27-85z"/><path color="#ffd017" d="M3479 4400l27 43-21-10-27-44z"/><path color="#ffe80a" d="M3452 4383l27 17-21-11-26-17z"/><path color="#fff005" d="M3425 4379l27 4-20-11-27-4z"/><path color="#ffe80a" d="M3954 4244l27-21-20-11-27 21z"/><path color="#ffd017" d="M3928 4278l26-34-20-11-27 34z"/><path color="#f8ba1a" d="M3901 4338l27-60-21-11-27 60z"/><path color="#02b9cf" d="M3874 4440l27-102-21-11-26 102z"/><path color="#2d63fe" d="M3847 4576l27-136-20-11-27 136z"/><path color="#432cdd" d="M3821 4686l26-110-20-11-27 110z"/><path color="#441ec7" d="M3794 4737l27-51-21-11-27 52z"/><path color="#451abf" d="M3767 4755l27-18-21-10-26 17zM3740 4765l27-10-20-11-27 10zM3714 4773l26-8-20-11-27 8zM3687 4781l27-8-21-11-27 8zM3660 4789l27-8-21-11-27 8z"/><path color="#441ec7" d="M3633 4787l27 2-21-11-26-1z"/><path color="#3f37e8" d="M3606 4753l27 34-20-10-27-35z"/><path color="#1195f6" d="M3580 4659l26 94-20-11-27-94z"/><path color="#23cb78" d="M3553 4540l27 119-21-11-27-119z"/><path color="#f8ba1a" d="M3526 4454l27 86-21-11-26-86z"/><path color="#ffd017" d="M3499 4411l27 43-20-11-27-43z"/><path color="#ffe80a" d="M3473 4394l26 17-20-11-27-17z"/><path color="#fff005" d="M3446 4390l27 4-21-11-27-4z"/><path color="#ffe80a" d="M3975 4255l27-21-21-11-27 21z"/><path color="#ffd017" d="M3948 4289l27-34-21-11-26 34z"/><path color="#f8ba1a" d="M3921 4348l27-59-20-11-27 60z"/><path color="#02b9cf" d="M3895 4451l26-103-20-10-27 102z"/><path color="#2d63fe" d="M3868 4586l27-135-21-11-27 136z"/><path color="#432cdd" d="M3841 4696l27-110-21-10-26 110z"/><path color="#441ec7" d="M3814 4747l27-51-20-10-27 51z"/><path color="#451abf" d="M3788 4765l26-18-20-10-27 18zM3761 4775l27-10-21-10-27 10zM3734 4783l27-8-21-10-26 8zM3707 4791l27-8-20-10-27 8zM3681 4799l26-8-20-10-27 8z"/><path color="#441ec7" d="M3654 4797l27 2-21-10-27-2z"/><path color="#3f37e8" d="M3627 4763l27 34-21-10-27-34z"/><path color="#1195f6" d="M3600 4670l27 93-21-10-26-94z"/><path color="#23cb78" d="M3574 4551l26 119-20-11-27-119z"/><path color="#f8ba1a" d="M3547 4465l27 86-21-11-27-86z"/><path color="#ffd017" d="M3520 4422l27 43-21-11-27-43z"/><path color="#ffe80a" d="M3493 4405l27 17-21-11-26-17z"/><path color="#fff005" d="M3466 4400l27 5-20-11-27-4z"/><path color="#ffe80a" d="M3995 4266l27-21-20-11-27 21z"/><path color="#ffd017" d="M3969 4299l26-33-20-11-27 34z"/><path color="#f8ba1a" d="M3942 4359l27-60-21-10-27 59z"/><path color="#02b9cf" d="M3915 4460l27-101-21-11-26 103z"/><path color="#286cfe" d="M3888 4593l27-133-20-9-27 135z"/><path color="#4131e3" d="M3862 4700l26-107-20-7-27 110z"/><path color="#4423ce" d="M3835 4749l27-49-21-4-27 51z"/><path color="#441ec7" d="M3808 4767l27-18-21-2-26 18zM3781 4776l27-9-20-2-27 10zM3755 4784l26-8-20-1-27 8zM3728 4792l27-8-21-1-27 8zM3701 4800l27-8-21-1-26 8z"/><path color="#4423ce" d="M3674 4799l27 1-20-1-27-2z"/><path color="#3d3dee" d="M3648 4766l26 33-20-2-27-34z"/><path color="#0e9bf2" d="M3621 4676l27 90-21-3-27-93z"/><path color="#2ccc6d" d="M3594 4560l27 116-21-6-26-119z"/><path color="#f8ba1a" d="M3567 4476l27 84-20-9-27-86z"/><path color="#ffd017" d="M3541 4433l26 43-20-11-27-43z"/><path color="#ffe80a" d="M3514 4416l27 17-21-11-27-17z"/><path color="#fff005" d="M3487 4411l27 5-21-11-27-5z"/><path color="#ffe80a" d="M4016 4276l27-21-21-10-27 21z"/><path color="#ffd017" d="M3989 4310l27-34-21-10-26 33z"/><path color="#f8ba1a" d="M3962 4367l27-57-20-11-27 60z"/><path color="#00bfc2" d="M3936 4463l26-96-20-8-27 101z"/><path color="#1888fb" d="M3909 4583l27-120-21-3-27 133z"/><path color="#384af6" d="M3882 4676l27-93-21 10-26 107z"/><path color="#3d3dee" d="M3855 4719l27-43-20 24-27 49z"/><path color="#3f37e8" d="M3829 4735l26-16-20 30-27 18zM3802 4744l27-9-21 32-27 9zM3775 4752l27-8-21 32-26 8zM3748 4760l27-8-20 32-27 8zM3722 4768l26-8-20 32-27 8z"/><path color="#3d3dee" d="M3695 4769l27-1-21 32-27-1z"/><path color="#315bfc" d="M3668 4743l27 26-21 30-26-33z"/><path color="#09a6eb" d="M3641 4666l27 77-20 23-27-90z"/><path color="#36cc67" d="M3615 4563l26 103-20 10-27-116z"/><path color="#f8ba1a" d="M3588 4484l27 79-21-3-27-84z"/><path color="#ffd017" d="M3561 4443l27 41-21-8-26-43z"/><path color="#ffe80a" d="M3534 4426l27 17-20-10-27-17z"/><path color="#fff005" d="M3508 4422l26 4-20-10-27-5z"/><path color="#ffe80a" d="M4037 4287l26-21-20-11-27 21z"/><path color="#ffd017" d="M4010 4319l27-32-21-11-27 34z"/><path color="#fab91b" d="M3983 4371l27-52-21-9-27 57z"/><path color="#23cb78" d="M3956 4451l27-80-21-4-26 96z"/><path color="#03b6d5" d="M3930 4540l26-89-20 12-27 120z"/><path color="#09a6eb" d="M3903 4602l27-62-21 43-27 93z"/><path color="#0e9bf2" d="M3876 4631l27-29-21 74-27 43z"/><path color="#1195f6" d="M3849 4644l27-13-21 88-26 16zM3822 4653l27-9-20 91-27 9zM3796 4661l26-8-20 91-27 8zM3769 4669l27-8-21 91-27 8zM3742 4677l27-8-21 91-26 8z"/><path color="#0e9bf2" d="M3715 4681l27-4-20 91-27 1z"/><path color="#09a6eb" d="M3689 4669l26 12-20 88-27-26z"/><path color="#00bfc2" d="M3662 4623l27 46-21 74-27-77z"/><path color="#48cc59" d="M3635 4551l27 72-21 43-26-103z"/><path color="#fab91b" d="M3608 4488l27 63-20 12-27-79z"/><path color="#ffd017" d="M3582 4452l26 36-20-4-27-41z"/><path color="#ffe80a" d="M3555 4437l27 15-21-9-27-17z"/><path color="#fff005" d="M3528 4433l27 4-21-11-26-4z"/><path color="#ffe80a" d="M4057 4296l27-19-21-11-26 21z"/><path color="#ffd017" d="M4030 4325l27-29-20-9-27 32z"/><path color="#fcb81d" d="M4004 4367l26-42-20-6-27 52z"/><path color="#acc827" d="M3977 4421l27-54-21 4-27 80z"/><path color="#48cc59" d="M3950 4470l27-49-21 30-26 89z"/><path color="#36cc67" d="M3923 4501l27-31-20 70-27 62z"/><path color="#2ccc6d" d="M3897 4517l26-16-20 101-27 29z"/><path color="#23cb78" d="M3870 4527l27-10-21 114-27 13zM3843 4536l27-9-21 117-27 9zM3816 4544l27-8-21 117-26 8zM3789 4553l27-9-20 117-27 8zM3763 4561l26-8-20 116-27 8z"/><path color="#2ccc6d" d="M3736 4567l27-6-21 116-27 4z"/><path color="#36cc67" d="M3709 4568l27-1-21 114-26-12z"/><path color="#48cc59" d="M3682 4553l27 15-20 101-27-46z"/><path color="#acc827" d="M3656 4521l26 32-20 70-27-72z"/><path color="#fcb81d" d="M3629 4484l27 37-21 30-27-63z"/><path color="#ffd017" d="M3602 4458l27 26-21 4-26-36z"/><path color="#ffe80a" d="M3575 4446l27 12-20-6-27-15z"/><path color="#fff005" d="M3549 4443l26 3-20-9-27-4z"/><path color="#ffe80a" d="M4078 4304l26-18-20-9-27 19z"/><path color="#ffd815" d="M4051 4328l27-24-21-8-27 29z"/><path color="#ffc71a" d="M4024 4357l27-29-21-3-26 42z"/><path color="#fcb81d" d="M3997 4386l27-29-20 10-27 54z"/><path color="#fab91b" d="M3971 4410l26-24-20 35-27 49z"/><path color="#f8ba1a" d="M3944 4425l27-15-21 60-27 31zM3917 4436l27-11-21 76-26 16zM3890 4444l27-8-20 81-27 10zM3864 4453l26-9-20 83-27 9zM3837 4461l27-8-21 83-27 8zM3810 4469l27-8-21 83-27 9zM3783 4478l27-9-21 84-26 8zM3756 4486l27-8-20 83-27 6zM3730 4492l26-6-20 81-27 1z"/><path color="#fab91b" d="M3703 4493l27-1-21 76-27-15z"/><path color="#fcb81d" d="M3676 4486l27 7-21 60-26-32z"/><path color="#ffc71a" d="M3649 4473l27 13-20 35-27-37z"/><path color="#ffd815" d="M3623 4461l26 12-20 11-27-26z"/><path color="#ffe80a" d="M3596 4454l27 7-21-3-27-12z"/><path color="#fff005" d="M3569 4453l27 1-21-8-26-3zM4098 4311l27-15-21-10-26 18z"/><path color="#ffe80a" d="M4071 4329l27-18-20-7-27 24z"/><path color="#ffd815" d="M4045 4347l26-18-20-1-27 29z"/><path color="#ffd017" d="M4018 4363l27-16-21 10-27 29zM3991 4376l27-13-21 23-26 24zM3964 4386l27-10-20 34-27 15zM3938 4395l26-9-20 39-27 11zM3911 4404l27-9-21 41-27 8zM3884 4412l27-8-21 40-26 9zM3857 4420l27-8-20 41-27 8zM3831 4429l26-9-20 41-27 8zM3804 4437l27-8-21 40-27 9zM3777 4445l27-8-21 41-27 8zM3750 4453l27-8-21 41-26 6zM3723 4459l27-6-20 39-27 1zM3697 4463l26-4-20 34-27-7z"/><path color="#ffd815" d="M3670 4464l27-1-21 23-27-13z"/><path color="#ffe80a" d="M3643 4462l27 2-21 9-26-12z"/><path color="#fff005" d="M3616 4461l27 1-20-1-27-7zM3590 4463l26-2-20-7-27-1zM4119 4317l26-12-20-9-27 15zM4092 4330l27-13-21-6-27 18z"/><path color="#ffe80a" d="M4065 4343l27-13-21-1-26 18zM4038 4354l27-11-20 4-27 16zM4012 4363l26-9-20 9-27 13zM3985 4372l27-9-21 13-27 10zM3958 4381l27-9-21 14-26 9zM3931 4389l27-8-20 14-27 9zM3905 4397l26-8-20 15-27 8zM3878 4406l27-9-21 15-27 8zM3851 4414l27-8-21 14-26 9zM3824 4422l27-8-20 15-27 8zM3798 4431l26-9-20 15-27 8zM3771 4439l27-8-21 14-27 8zM3744 4447l27-8-21 14-27 6zM3717 4454l27-7-21 12-26 4zM3691 4459l26-5-20 9-27 1z"/><path color="#fff005" d="M3664 4464l27-5-21 5-27-2zM3637 4467l27-3-21-2-27-1z"/><path color="#fff700" d="M3610 4471l27-4-21-6-26 2zM4139 4324l27-11-21-8-26 12z"/><path color="#fff005" d="M4112 4334l27-10-20-7-27 13zM4086 4344l26-10-20-4-27 13zM4059 4353l27-9-21-1-27 11zM4032 4362l27-9-21 1-26 9zM4005 4371l27-9-20 1-27 9zM3979 4379l26-8-20 1-27 9zM3952 4387l27-8-21 2-27 8zM3925 4396l27-9-21 2-26 8zM3898 4404l27-8-20 1-27 9zM3872 4412l26-8-20 2-27 8zM3845 4421l27-9-21 2-27 8zM3818 4429l27-8-21 1-26 9zM3791 4437l27-8-20 2-27 8zM3765 4445l26-8-20 2-27 8zM3738 4453l27-8-21 2-27 7zM3711 4461l27-8-21 1-26 5zM3684 4468l27-7-20-2-27 5z"/><path color="#fff700" d="M3658 4474l26-6-20-4-27 3zM3631 4480l27-6-21-7-27 4z"/></g><path d="M363.1 495.4L416.6 478.7M363.1 495.4L322 473.7M322 473.7L322 426.3" stroke="#6a6a6a" stroke-width="0.5"/><path d="M368.4 493.7L368.9 494.6M379.1 490.4L379.6 491.3M389.8 487.1L390.3 488M400.5 483.7L401 484.6M411.2 480.4L411.7 481.3M359 493.2L358.4 494.1M350.8 488.9L350.2 489.8M342.5 484.5L341.9 485.4M334.3 480.2L333.7 481.1M326.1 475.9L325.5 476.8M322 465L321 465M322 455.1L321 455.1M322 445.2L321 445.2M322 435.3L321 435.3" stroke="#6a6a6a" stroke-width="0.4"/><text transform="matrix(.90 0 0 1 371 500)" font-size="4.9" fill="#303030">-4</text><text transform="matrix(.90 0 0 1 381.7 496.7)" font-size="4.9" fill="#303030">-2</text><text transform="matrix(.90 0 0 1 392.4 493.4)" font-size="4.9" fill="#303030">0</text><text transform="matrix(.90 0 0 1 403.1 490)" font-size="4.9" fill="#303030">2</text><text transform="matrix(.90 0 0 1 413.8 486.7)" font-size="4.9" fill="#303030">4</text><text transform="matrix(.90 0 0 1 355.8 499.1)" font-size="4.9" text-anchor="end" fill="#303030">-4</text><text transform="matrix(.90 0 0 1 347.6 494.8)" font-size="4.9" text-anchor="end" fill="#303030">-2</text><text transform="matrix(.90 0 0 1 339.3 490.4)" font-size="4.9" text-anchor="end" fill="#303030">0</text><text transform="matrix(.90 0 0 1 331.1 486.1)" font-size="4.9" text-anchor="end" fill="#303030">2</text><text transform="matrix(.90 0 0 1 322.9 481.8)" font-size="4.9" text-anchor="end" fill="#303030">4</text><text transform="matrix(.90 0 0 1 319 466.5)" font-size="4.9" text-anchor="end" fill="#303030">100</text><text transform="matrix(.90 0 0 1 319 456.6)" font-size="4.9" text-anchor="end" fill="#303030">200</text><text transform="matrix(.90 0 0 1 319 446.7)" font-size="4.9" text-anchor="end" fill="#303030">300</text><text transform="matrix(.90 0 0 1 319 436.8)" font-size="4.9" text-anchor="end" fill="#303030">400</text><text transform="matrix(.90 0 0 1 389.3 505)" font-size="5.300000000000001" text-anchor="middle" fill="#303030">x</text><text transform="matrix(.90 0 0 1 340.7 504)" font-size="5.300000000000001" text-anchor="middle" fill="#303030">y</text><text font-size="5.300000000000001" fill="#303030" text-anchor="middle" transform="translate(307.9 450) rotate(-90) scale(1 0.9)">z</text><text transform="matrix(.90 0 0 1 369.5 405.8)" font-size="5.4" text-anchor="middle" fill="#222" font-weight="bold">F14</text><path d="M160.4 9.7L160.4 95.4M177.5 9.7L177.5 95.4M194.6 9.7L194.6 95.4M211.7 9.7L211.7 95.4" stroke="#e4e4e4" stroke-width="0.4"/><path d="M143.3 13.2L228.8 13.2M143.3 15.9L228.8 15.9M143.3 18.5L228.8 18.5M143.3 21.1L228.8 21.1M143.3 23.8L228.8 23.8M143.3 26.4L228.8 26.4M143.3 29L228.8 29M143.3 31.6L228.8 31.6M143.3 34.3L228.8 34.3M143.3 39.5L228.8 39.5M143.3 42.2L228.8 42.2M143.3 44.8L228.8 44.8M143.3 47.4L228.8 47.4M143.3 50L228.8 50M143.3 52.7L228.8 52.7M143.3 55.3L228.8 55.3M143.3 57.9L228.8 57.9M143.3 60.6L228.8 60.6M143.3 65.8L228.8 65.8M143.3 68.5L228.8 68.5M143.3 71.1L228.8 71.1M143.3 73.7L228.8 73.7M143.3 76.3L228.8 76.3M143.3 79L228.8 79M143.3 81.6L228.8 81.6M143.3 84.2L228.8 84.2M143.3 86.9L228.8 86.9M143.3 92.1L228.8 92.1M143.3 94.8L228.8 94.8" stroke="#f1f1f1" stroke-width="0.35"/><path d="M143.3 36.9L228.8 36.9M143.3 63.3L228.8 63.3M143.3 89.6L228.8 89.6M143.3 10.6L228.8 10.6" stroke="#e0e0e0" stroke-width="0.4"/><clipPath id="cF1"><rect x="142.7" y="9.1" width="86.7" height="86.9"/></clipPath><rect x="143.3" y="9.7" width="85.5" height="85.7" fill="none" stroke="#777" stroke-width="0.5"/><g clip-path="url(#cF1)"><path d="M220.2 10.2L228.8 10.4" stroke="#f535f0" stroke-width="0.8" fill="none" stroke-linejoin="round"/><path d="M143.3 10L228.8 10" stroke="#12e6ee" stroke-width="1.7" fill="none" stroke-linejoin="round"/><path d="M143.3 9.9L155.6 14L165.9 17.9L176.1 21.1L186.4 23.2L196.7 24.6L206.8 25.4L217.7 25.9L228.8 26.1" stroke="#2e2e2e" stroke-width="1.1" fill="none" stroke-linejoin="round"/><path d="M143.3 9.9L228.8 67.3" stroke="#22ee70" stroke-width="1.15" fill="none" stroke-linejoin="round"/><path d="M143.3 9.9L207.9 95.4" stroke="#ff3b4e" stroke-width="1.2" fill="none" stroke-linejoin="round" stroke-dasharray="3 2.2"/></g><rect x="197.6" y="12.7" width="27.1" height="27.7" fill="#fff" stroke="#777" stroke-width="0.45"/><path d="M199 16.4h12.3" stroke="#ff3b4e" stroke-width="1.1" stroke-dasharray="2.6 1.9"/><text transform="matrix(.86 0 0 1 213.2 18)" font-size="4.5" fill="#333">IPOA</text><path d="M199 21.8h12.3" stroke="#22ee70" stroke-width="1.1"/><text transform="matrix(.86 0 0 1 213.2 23.4)" font-size="4.5" fill="#333">POA</text><path d="M199 27.3h12.3" stroke="#2e2e2e" stroke-width="1.1"/><text transform="matrix(.86 0 0 1 213.2 28.9)" font-size="4.5" fill="#333">GWO</text><path d="M199 32.8h12.3" stroke="#f535f0" stroke-width="1.1"/><text transform="matrix(.86 0 0 1 213.2 34.4)" font-size="4.5" fill="#333">PSO</text><path d="M199 38.2h12.3" stroke="#12e6ee" stroke-width="1.1"/><text transform="matrix(.86 0 0 1 213.2 39.8)" font-size="4.5" fill="#333">WSO</text><text transform="matrix(.83 0 0 1 143.3 102.4)" font-size="5.1" text-anchor="middle" fill="#303030">0</text><path d="M143.3 95.4L143.3 94.5M143.3 9.7L143.3 10.6" stroke="#777" stroke-width="0.4"/><text transform="matrix(.83 0 0 1 160.4 102.4)" font-size="5.1" text-anchor="middle" fill="#303030">200</text><path d="M160.4 95.4L160.4 94.5M160.4 9.7L160.4 10.6" stroke="#777" stroke-width="0.4"/><text transform="matrix(.83 0 0 1 177.5 102.4)" font-size="5.1" text-anchor="middle" fill="#303030">400</text><path d="M177.5 95.4L177.5 94.5M177.5 9.7L177.5 10.6" stroke="#777" stroke-width="0.4"/><text transform="matrix(.83 0 0 1 194.6 102.4)" font-size="5.1" text-anchor="middle" fill="#303030">600</text><path d="M194.6 95.4L194.6 94.5M194.6 9.7L194.6 10.6" stroke="#777" stroke-width="0.4"/><text transform="matrix(.83 0 0 1 211.7 102.4)" font-size="5.1" text-anchor="middle" fill="#303030">800</text><path d="M211.7 95.4L211.7 94.5M211.7 9.7L211.7 10.6" stroke="#777" stroke-width="0.4"/><text transform="matrix(.83 0 0 1 228.8 102.4)" font-size="5.1" text-anchor="middle" fill="#303030">1000</text><path d="M228.8 95.4L228.8 94.5M228.8 9.7L228.8 10.6" stroke="#777" stroke-width="0.4"/><text transform="matrix(.87 0 0 1 186.1 108.7)" font-size="5.3" text-anchor="middle" fill="#303030">Iteration</text><text transform="matrix(.86 0 0 1 142.3 13)" font-size="5.1" text-anchor="end" fill="#303030">10<tspan dy="-1.9" font-size="4">0</tspan></text><path d="M143.3 10.9L144.2 10.9M228.8 10.9L227.9 10.9" stroke="#777" stroke-width="0.4"/><text transform="matrix(.86 0 0 1 142.3 39)" font-size="5.1" text-anchor="end" fill="#303030">10<tspan dy="-1.9" font-size="4">-100</tspan></text><path d="M143.3 36.9L144.2 36.9M228.8 36.9L227.9 36.9" stroke="#777" stroke-width="0.4"/><text transform="matrix(.86 0 0 1 142.3 65.4)" font-size="5.1" text-anchor="end" fill="#303030">10<tspan dy="-1.9" font-size="4">-200</tspan></text><path d="M143.3 63.3L144.2 63.3M228.8 63.3L227.9 63.3" stroke="#777" stroke-width="0.4"/><text transform="matrix(.86 0 0 1 142.3 91.7)" font-size="5.1" text-anchor="end" fill="#303030">10<tspan dy="-1.9" font-size="4">-300</tspan></text><path d="M143.3 89.6L144.2 89.6M228.8 89.6L227.9 89.6" stroke="#777" stroke-width="0.4"/><text font-size="5.1" fill="#303030" text-anchor="middle" transform="translate(125.3 52.6) rotate(-90) scale(1 .85)">log(Fitness value)</text><text transform="matrix(1.00 0 0 1 185.7 7.9)" font-size="5.0" text-anchor="middle" fill="#222" font-weight="bold">F1</text><path d="M463.1 8.3L463.1 95.8M480.9 8.3L480.9 95.8M498.8 8.3L498.8 95.8M516.6 8.3L516.6 95.8" stroke="#e4e4e4" stroke-width="0.4"/><path d="M445.2 10.4L534.5 10.4M445.2 17.8L534.5 17.8M445.2 21.5L534.5 21.5M445.2 25.2L534.5 25.2M445.2 28.9L534.5 28.9M445.2 32.6L534.5 32.6M445.2 36.3L534.5 36.3M445.2 40L534.5 40M445.2 43.7L534.5 43.7M445.2 47.4L534.5 47.4M445.2 54.7L534.5 54.7M445.2 58.4L534.5 58.4M445.2 62.1L534.5 62.1M445.2 65.8L534.5 65.8M445.2 69.5L534.5 69.5M445.2 73.2L534.5 73.2M445.2 76.9L534.5 76.9M445.2 80.6L534.5 80.6M445.2 84.3L534.5 84.3M445.2 91.7L534.5 91.7M445.2 95.4L534.5 95.4" stroke="#f1f1f1" stroke-width="0.35"/><path d="M445.2 14.1L534.5 14.1M445.2 51L534.5 51M445.2 88L534.5 88" stroke="#e0e0e0" stroke-width="0.4"/><clipPath id="cF2"><rect x="444.6" y="7.7" width="90.5" height="88.7"/></clipPath><rect x="445.2" y="8.3" width="89.3" height="87.5" fill="none" stroke="#777" stroke-width="0.5"/><g clip-path="url(#cF2)"><path d="M445.2 8.3L445.6 12.5L446.3 13.7L534.5 13.7" stroke="#f535f0" stroke-width="0.9" fill="none" stroke-linejoin="round"/><path d="M445.9 13.9L533.6 13.9" stroke="#12e6ee" stroke-width="1.6" fill="none" stroke-linejoin="round"/><path d="M445.2 13.9L454.1 16.4L463.5 19L474.8 21.7L485.9 23.7L497.1 25.1L508.3 26L519.5 26.4L534.5 26.4" stroke="#2e2e2e" stroke-width="1.1" fill="none" stroke-linejoin="round"/><path d="M445.2 13.9L534.5 52.6" stroke="#22ee70" stroke-width="1.15" fill="none" stroke-linejoin="round"/><path d="M445.2 13.9L534.5 95.1" stroke="#ff3b4e" stroke-width="1.2" fill="none" stroke-linejoin="round" stroke-dasharray="3 2.2"/></g><rect x="503.9" y="11.6" width="26.2" height="29.1" fill="#fff" stroke="#777" stroke-width="0.45"/><path d="M505.3 15.7h12.3" stroke="#ff3b4e" stroke-width="1.1" stroke-dasharray="2.6 1.9"/><text transform="matrix(.86 0 0 1 519.5 17.3)" font-size="4.5" fill="#333">IPOA</text><path d="M505.3 21.5h12.3" stroke="#22ee70" stroke-width="1.1"/><text transform="matrix(.86 0 0 1 519.5 23.1)" font-size="4.5" fill="#333">POA</text><path d="M505.3 26.9h12.3" stroke="#2e2e2e" stroke-width="1.1"/><text transform="matrix(.86 0 0 1 519.5 28.5)" font-size="4.5" fill="#333">GWO</text><path d="M505.3 32h12.3" stroke="#f535f0" stroke-width="1.1"/><text transform="matrix(.86 0 0 1 519.5 33.6)" font-size="4.5" fill="#333">PSO</text><path d="M505.3 37.4h12.3" stroke="#12e6ee" stroke-width="1.1"/><text transform="matrix(.86 0 0 1 519.5 39)" font-size="4.5" fill="#333">WSO</text><text transform="matrix(.83 0 0 1 445.2 103)" font-size="5.1" text-anchor="middle" fill="#303030">0</text><path d="M445.2 95.8L445.2 94.9M445.2 8.3L445.2 9.2" stroke="#777" stroke-width="0.4"/><text transform="matrix(.83 0 0 1 463.1 103)" font-size="5.1" text-anchor="middle" fill="#303030">200</text><path d="M463.1 95.8L463.1 94.9M463.1 8.3L463.1 9.2" stroke="#777" stroke-width="0.4"/><text transform="matrix(.83 0 0 1 480.9 103)" font-size="5.1" text-anchor="middle" fill="#303030">400</text><path d="M480.9 95.8L480.9 94.9M480.9 8.3L480.9 9.2" stroke="#777" stroke-width="0.4"/><text transform="matrix(.83 0 0 1 498.8 103)" font-size="5.1" text-anchor="middle" fill="#303030">600</text><path d="M498.8 95.8L498.8 94.9M498.8 8.3L498.8 9.2" stroke="#777" stroke-width="0.4"/><text transform="matrix(.83 0 0 1 516.6 103)" font-size="5.1" text-anchor="middle" fill="#303030">800</text><path d="M516.6 95.8L516.6 94.9M516.6 8.3L516.6 9.2" stroke="#777" stroke-width="0.4"/><text transform="matrix(.83 0 0 1 534.5 103)" font-size="5.1" text-anchor="middle" fill="#303030">1000</text><path d="M534.5 95.8L534.5 94.9M534.5 8.3L534.5 9.2" stroke="#777" stroke-width="0.4"/><text transform="matrix(.87 0 0 1 489.9 109.1)" font-size="5.3" text-anchor="middle" fill="#303030">Iteration</text><text transform="matrix(.86 0 0 1 444.2 16.2)" font-size="5.1" text-anchor="end" fill="#303030">10<tspan dy="-1.9" font-size="4">0</tspan></text><path d="M445.2 14.1L446.1 14.1M534.5 14.1L533.6 14.1" stroke="#777" stroke-width="0.4"/><text transform="matrix(.86 0 0 1 444.2 53.1)" font-size="5.1" text-anchor="end" fill="#303030">10<tspan dy="-1.9" font-size="4">-100</tspan></text><path d="M445.2 51L446.1 51M534.5 51L533.6 51" stroke="#777" stroke-width="0.4"/><text transform="matrix(.86 0 0 1 444.2 90.1)" font-size="5.1" text-anchor="end" fill="#303030">10<tspan dy="-1.9" font-size="4">-200</tspan></text><path d="M445.2 88L446.1 88M534.5 88L533.6 88" stroke="#777" stroke-width="0.4"/><text font-size="5.1" fill="#303030" text-anchor="middle" transform="translate(427.3 52) rotate(-90) scale(1 .85)">log(Fitness value)</text><text transform="matrix(1.00 0 0 1 489.5 6.7)" font-size="5.0" text-anchor="middle" fill="#222" font-weight="bold">F2</text><path d="M160.8 145.3L160.8 233.5M178 145.3L178 233.5M195.1 145.3L195.1 233.5M212.3 145.3L212.3 233.5" stroke="#e4e4e4" stroke-width="0.4"/><path d="M143.6 151.6L229.5 151.6M143.6 155.5L229.5 155.5M143.6 159.3L229.5 159.3M143.6 163.2L229.5 163.2M143.6 167L229.5 167M143.6 170.8L229.5 170.8M143.6 174.7L229.5 174.7M143.6 178.5L229.5 178.5M143.6 182.4L229.5 182.4M143.6 190L229.5 190M143.6 193.9L229.5 193.9M143.6 197.7L229.5 197.7M143.6 201.6L229.5 201.6M143.6 205.4L229.5 205.4M143.6 209.2L229.5 209.2M143.6 213.1L229.5 213.1M143.6 216.9L229.5 216.9M143.6 220.8L229.5 220.8M143.6 228.4L229.5 228.4M143.6 232.3L229.5 232.3" stroke="#f1f1f1" stroke-width="0.35"/><path d="M143.6 147.8L229.5 147.8M143.6 186.5L229.5 186.5M143.6 224.5L229.5 224.5" stroke="#e0e0e0" stroke-width="0.4"/><clipPath id="cF4"><rect x="143" y="144.7" width="87.1" height="89.4"/></clipPath><rect x="143.6" y="145.3" width="85.9" height="88.2" fill="none" stroke="#777" stroke-width="0.5"/><g clip-path="url(#cF4)"><path d="M220.9 146.8L229.5 147" stroke="#f535f0" stroke-width="0.8" fill="none" stroke-linejoin="round"/><path d="M143.6 146.6L229.5 146.6" stroke="#12e6ee" stroke-width="1.8" fill="none" stroke-linejoin="round"/><path d="M143.6 146.6L150.5 147.8L158.5 149.1L169.8 150.2L181 151.1L192.1 151.8L214.6 152.2L229.5 152.2" stroke="#2e2e2e" stroke-width="1.1" fill="none" stroke-linejoin="round"/><path d="M143.6 146.6L229.5 186.9" stroke="#22ee70" stroke-width="1.15" fill="none" stroke-linejoin="round"/><path d="M143.6 146.6L229.5 232.4" stroke="#ff3b4e" stroke-width="1.2" fill="none" stroke-linejoin="round" stroke-dasharray="3 2.2"/></g><rect x="198.9" y="150.2" width="26.2" height="28.5" fill="#fff" stroke="#777" stroke-width="0.45"/><path d="M200.3 153.6h12.3" stroke="#ff3b4e" stroke-width="1.1" stroke-dasharray="2.6 1.9"/><text transform="matrix(.86 0 0 1 214.5 155.2)" font-size="4.5" fill="#333">IPOA</text><path d="M200.3 159h12.3" stroke="#22ee70" stroke-width="1.1"/><text transform="matrix(.86 0 0 1 214.5 160.6)" font-size="4.5" fill="#333">POA</text><path d="M200.3 164.6h12.3" stroke="#2e2e2e" stroke-width="1.1"/><text transform="matrix(.86 0 0 1 214.5 166.2)" font-size="4.5" fill="#333">GWO</text><path d="M200.3 170.1h12.3" stroke="#f535f0" stroke-width="1.1"/><text transform="matrix(.86 0 0 1 214.5 171.7)" font-size="4.5" fill="#333">PSO</text><path d="M200.3 175.5h12.3" stroke="#12e6ee" stroke-width="1.1"/><text transform="matrix(.86 0 0 1 214.5 177.1)" font-size="4.5" fill="#333">WSO</text><text transform="matrix(.83 0 0 1 143.6 240.2)" font-size="5.1" text-anchor="middle" fill="#303030">0</text><path d="M143.6 233.5L143.6 232.6M143.6 145.3L143.6 146.2" stroke="#777" stroke-width="0.4"/><text transform="matrix(.83 0 0 1 160.8 240.2)" font-size="5.1" text-anchor="middle" fill="#303030">200</text><path d="M160.8 233.5L160.8 232.6M160.8 145.3L160.8 146.2" stroke="#777" stroke-width="0.4"/><text transform="matrix(.83 0 0 1 178 240.2)" font-size="5.1" text-anchor="middle" fill="#303030">400</text><path d="M178 233.5L178 232.6M178 145.3L178 146.2" stroke="#777" stroke-width="0.4"/><text transform="matrix(.83 0 0 1 195.1 240.2)" font-size="5.1" text-anchor="middle" fill="#303030">600</text><path d="M195.1 233.5L195.1 232.6M195.1 145.3L195.1 146.2" stroke="#777" stroke-width="0.4"/><text transform="matrix(.83 0 0 1 212.3 240.2)" font-size="5.1" text-anchor="middle" fill="#303030">800</text><path d="M212.3 233.5L212.3 232.6M212.3 145.3L212.3 146.2" stroke="#777" stroke-width="0.4"/><text transform="matrix(.83 0 0 1 229.5 240.2)" font-size="5.1" text-anchor="middle" fill="#303030">1000</text><path d="M229.5 233.5L229.5 232.6M229.5 145.3L229.5 146.2" stroke="#777" stroke-width="0.4"/><text transform="matrix(.87 0 0 1 186.6 246.7)" font-size="5.3" text-anchor="middle" fill="#303030">Iteration</text><text transform="matrix(.86 0 0 1 142.6 149.9)" font-size="5.1" text-anchor="end" fill="#303030">10<tspan dy="-1.9" font-size="4">0</tspan></text><path d="M143.6 147.8L144.5 147.8M229.5 147.8L228.6 147.8" stroke="#777" stroke-width="0.4"/><text transform="matrix(.86 0 0 1 142.6 188.6)" font-size="5.1" text-anchor="end" fill="#303030">10<tspan dy="-1.9" font-size="4">-100</tspan></text><path d="M143.6 186.5L144.5 186.5M229.5 186.5L228.6 186.5" stroke="#777" stroke-width="0.4"/><text transform="matrix(.86 0 0 1 142.6 226.6)" font-size="5.1" text-anchor="end" fill="#303030">10<tspan dy="-1.9" font-size="4">-200</tspan></text><path d="M143.6 224.5L144.5 224.5M229.5 224.5L228.6 224.5" stroke="#777" stroke-width="0.4"/><text font-size="5.1" fill="#303030" text-anchor="middle" transform="translate(125.8 189.4) rotate(-90) scale(1 .85)">log(Fitness value)</text><text transform="matrix(1.00 0 0 1 186.6 144.6)" font-size="5.0" text-anchor="middle" fill="#222" font-weight="bold">F4</text><path d="M463.3 146.2L463.3 231.7M481.4 146.2L481.4 231.7M499.5 146.2L499.5 231.7M517.6 146.2L517.6 231.7" stroke="#e4e4e4" stroke-width="0.4"/><path d="M445.2 163.5L535.7 163.5M445.2 190.1L535.7 190.1M445.2 216.5L535.7 216.5M445.2 231.2L535.7 231.2M445.2 230.5L535.7 230.5M445.2 225.9L535.7 225.9M445.2 223.6L535.7 223.6M445.2 221.9L535.7 221.9M445.2 220.6L535.7 220.6M445.2 219.6L535.7 219.6M445.2 218.7L535.7 218.7M445.2 217.9L535.7 217.9M445.2 217.3L535.7 217.3M445.2 212.7L535.7 212.7M445.2 210.3L535.7 210.3M445.2 208.7L535.7 208.7M445.2 207.4L535.7 207.4M445.2 206.3L535.7 206.3M445.2 205.5L535.7 205.5M445.2 204.7L535.7 204.7M445.2 204L535.7 204M445.2 199.4L535.7 199.4M445.2 197.1L535.7 197.1M445.2 195.4L535.7 195.4M445.2 194.1L535.7 194.1M445.2 193.1L535.7 193.1M445.2 192.2L535.7 192.2M445.2 191.4L535.7 191.4M445.2 190.8L535.7 190.8M445.2 186.2L535.7 186.2M445.2 183.8L535.7 183.8M445.2 182.2L535.7 182.2M445.2 180.9L535.7 180.9M445.2 179.8L535.7 179.8M445.2 179L535.7 179M445.2 178.2L535.7 178.2M445.2 177.5L535.7 177.5M445.2 172.9L535.7 172.9M445.2 170.6L535.7 170.6M445.2 168.9L535.7 168.9M445.2 167.6L535.7 167.6M445.2 166.6L535.7 166.6M445.2 165.7L535.7 165.7M445.2 164.9L535.7 164.9M445.2 164.3L535.7 164.3M445.2 159.7L535.7 159.7M445.2 157.3L535.7 157.3M445.2 155.7L535.7 155.7M445.2 154.4L535.7 154.4M445.2 153.3L535.7 153.3M445.2 152.5L535.7 152.5M445.2 151.7L535.7 151.7M445.2 151L535.7 151" stroke="#f1f1f1" stroke-width="0.35"/><path d="M445.2 150.2L535.7 150.2M445.2 176.9L535.7 176.9M445.2 203.3L535.7 203.3M445.2 229.7L535.7 229.7" stroke="#e0e0e0" stroke-width="0.4"/><clipPath id="cF7"><rect x="444.6" y="145.6" width="91.7" height="86.7"/></clipPath><rect x="445.2" y="146.2" width="90.5" height="85.5" fill="none" stroke="#777" stroke-width="0.5"/><g clip-path="url(#cF7)"><path d="M445.2 146.2L446.7 168.6L449 174.2L452.3 176.9L459 178L481.4 178.3L535.7 178.4" stroke="#f535f0" stroke-width="1.1" fill="none" stroke-linejoin="round"/><path d="M445.2 155.1L446.7 175.3L449 180.9L452.3 184.7L459 186.5L474.8 187.2L497.1 187.6L519.6 188.3L535.7 189" stroke="#12e6ee" stroke-width="1.2" fill="none" stroke-linejoin="round"/><path d="M445.2 164.1L446.7 186.5L449 195.4L452.3 200.6L459 204.4L463.6 207.1L466.9 208.9L469.2 212.2L474.8 213.8L485.9 215.1L497.1 216L508.4 216.9L519.6 217.6L535.7 218.1" stroke="#2e2e2e" stroke-width="1.1" fill="none" stroke-linejoin="round"/><path d="M445.2 168.6L446.7 202.2L449 211.1L452.3 214.5L459 216L463.6 218.3L468 219.6L477 220.1L479.2 222.8L490.5 223.4L492.7 225.7L508.4 226.8L519.6 227.9L535.7 230.1" stroke="#22ee70" stroke-width="1.05" fill="none" stroke-linejoin="round"/><path d="M445.2 168.6L446.7 204.4L449 212.2L452.3 216L459 218.9L463.6 220.7L474.8 223.4L485.9 225L497.1 226.3L519.6 229L535.7 231.3" stroke="#ff3b4e" stroke-width="1.2" fill="none" stroke-linejoin="round" stroke-dasharray="3 2.2"/></g><rect x="504.5" y="149.8" width="30" height="27.5" fill="#fff" stroke="#777" stroke-width="0.45"/><path d="M505.9 153.3h12.3" stroke="#ff3b4e" stroke-width="1.1" stroke-dasharray="2.6 1.9"/><text transform="matrix(.86 0 0 1 520.1 154.9)" font-size="4.5" fill="#333">IPOA</text><path d="M505.9 158.7h12.3" stroke="#22ee70" stroke-width="1.1"/><text transform="matrix(.86 0 0 1 520.1 160.3)" font-size="4.5" fill="#333">POA</text><path d="M505.9 164.3h12.3" stroke="#2e2e2e" stroke-width="1.1"/><text transform="matrix(.86 0 0 1 520.1 165.9)" font-size="4.5" fill="#333">GWO</text><path d="M505.9 169.5h12.3" stroke="#f535f0" stroke-width="1.1"/><text transform="matrix(.86 0 0 1 520.1 171.1)" font-size="4.5" fill="#333">PSO</text><path d="M505.9 174.8h12.3" stroke="#12e6ee" stroke-width="1.1"/><text transform="matrix(.86 0 0 1 520.1 176.4)" font-size="4.5" fill="#333">WSO</text><text transform="matrix(.83 0 0 1 445.2 238.8)" font-size="5.1" text-anchor="middle" fill="#303030">0</text><path d="M445.2 231.7L445.2 230.8M445.2 146.2L445.2 147.1" stroke="#777" stroke-width="0.4"/><text transform="matrix(.83 0 0 1 463.3 238.8)" font-size="5.1" text-anchor="middle" fill="#303030">200</text><path d="M463.3 231.7L463.3 230.8M463.3 146.2L463.3 147.1" stroke="#777" stroke-width="0.4"/><text transform="matrix(.83 0 0 1 481.4 238.8)" font-size="5.1" text-anchor="middle" fill="#303030">400</text><path d="M481.4 231.7L481.4 230.8M481.4 146.2L481.4 147.1" stroke="#777" stroke-width="0.4"/><text transform="matrix(.83 0 0 1 499.5 238.8)" font-size="5.1" text-anchor="middle" fill="#303030">600</text><path d="M499.5 231.7L499.5 230.8M499.5 146.2L499.5 147.1" stroke="#777" stroke-width="0.4"/><text transform="matrix(.83 0 0 1 517.6 238.8)" font-size="5.1" text-anchor="middle" fill="#303030">800</text><path d="M517.6 231.7L517.6 230.8M517.6 146.2L517.6 147.1" stroke="#777" stroke-width="0.4"/><text transform="matrix(.83 0 0 1 535.7 238.8)" font-size="5.1" text-anchor="middle" fill="#303030">1000</text><path d="M535.7 231.7L535.7 230.8M535.7 146.2L535.7 147.1" stroke="#777" stroke-width="0.4"/><text transform="matrix(.87 0 0 1 490.5 245.6)" font-size="5.3" text-anchor="middle" fill="#303030">Iteration</text><text transform="matrix(.86 0 0 1 444.2 152.3)" font-size="5.1" text-anchor="end" fill="#303030">10<tspan dy="-1.9" font-size="4">2</tspan></text><path d="M445.2 150.2L446.1 150.2M535.7 150.2L534.8 150.2" stroke="#777" stroke-width="0.4"/><text transform="matrix(.86 0 0 1 444.2 179)" font-size="5.1" text-anchor="end" fill="#303030">10<tspan dy="-1.9" font-size="4">0</tspan></text><path d="M445.2 176.9L446.1 176.9M535.7 176.9L534.8 176.9" stroke="#777" stroke-width="0.4"/><text transform="matrix(.86 0 0 1 444.2 205.4)" font-size="5.1" text-anchor="end" fill="#303030">10<tspan dy="-1.9" font-size="4">-2</tspan></text><path d="M445.2 203.3L446.1 203.3M535.7 203.3L534.8 203.3" stroke="#777" stroke-width="0.4"/><text transform="matrix(.86 0 0 1 444.2 231.8)" font-size="5.1" text-anchor="end" fill="#303030">10<tspan dy="-1.9" font-size="4">-4</tspan></text><path d="M445.2 229.7L446.1 229.7M535.7 229.7L534.8 229.7" stroke="#777" stroke-width="0.4"/><text font-size="5.1" fill="#303030" text-anchor="middle" transform="translate(431.9 188.9) rotate(-90) scale(1 .85)">log(Fitness value)</text><text transform="matrix(1.00 0 0 1 491.1 145)" font-size="5.0" text-anchor="middle" fill="#222" font-weight="bold">F7</text><path d="M160 278.9L160 363.5M177.6 278.9L177.6 363.5M195.1 278.9L195.1 363.5M212.7 278.9L212.7 363.5" stroke="#e4e4e4" stroke-width="0.4"/><path d="M142.5 291.6L230.2 291.6M142.5 299L230.2 299M142.5 304.2L230.2 304.2M142.5 308.3L230.2 308.3M142.5 311.7L230.2 311.7M142.5 314.5L230.2 314.5M142.5 316.9L230.2 316.9M142.5 319.1L230.2 319.1M142.5 333.8L230.2 333.8M142.5 341.2L230.2 341.2M142.5 346.5L230.2 346.5M142.5 350.6L230.2 350.6M142.5 354L230.2 354M142.5 356.8L230.2 356.8M142.5 359.3L230.2 359.3M142.5 361.5L230.2 361.5" stroke="#f1f1f1" stroke-width="0.35"/><path d="M142.5 321L230.2 321" stroke="#e0e0e0" stroke-width="0.4"/><clipPath id="cF8"><rect x="141.9" y="278.3" width="88.9" height="85.8"/></clipPath><rect x="142.5" y="278.9" width="87.7" height="84.6" fill="none" stroke="#777" stroke-width="0.5"/><g clip-path="url(#cF8)"><path d="M142.5 297L147.4 298.6L154.2 300.1L165.3 301.3L169.8 302.4L181 303.1L192.1 304.2L196.6 306.4L205.6 307.1L210 309.8L219 310.9L230.2 312.7" stroke="#2e2e2e" stroke-width="1.1" fill="none" stroke-linejoin="round"/><path d="M142.5 297L147.4 298.1L154.2 299.7L160.8 300.4L165.3 301.9L169.8 305.3L176.5 307.5L183.2 309.3L192.1 310.4L203.4 311.3L214.5 312.2L230.2 312.9" stroke="#12e6ee" stroke-width="1.1" fill="none" stroke-linejoin="round"/><path d="M142.5 298.6L144.1 304.2L147.4 307.5L154.2 309.8L160.8 311.3L169.8 312.2L192.1 313.4L214.5 314.3L230.2 314.9" stroke="#22ee70" stroke-width="1.05" fill="none" stroke-linejoin="round"/><path d="M142.5 291.4L144.1 300.8L147.4 305.3L154.2 308.7L160.8 310.4L169.8 311.3L192.1 311.6L214.5 312L230.2 312.2" stroke="#f535f0" stroke-width="1.2" fill="none" stroke-linejoin="round"/><path d="M142.5 300.8L144.1 308.7L147.4 313.1L154.2 317.6L160.8 320.3L167.6 322.3L181 323.2L192.1 323.7L230.2 323.7" stroke="#ff3b4e" stroke-width="1.2" fill="none" stroke-linejoin="round" stroke-dasharray="3 2.2"/></g><rect x="198.9" y="281.8" width="26.2" height="28" fill="#fff" stroke="#777" stroke-width="0.45"/><path d="M200.3 285.1h12.3" stroke="#ff3b4e" stroke-width="1.1" stroke-dasharray="2.6 1.9"/><text transform="matrix(.86 0 0 1 214.5 286.7)" font-size="4.5" fill="#333">IPOA</text><path d="M200.3 290.3h12.3" stroke="#22ee70" stroke-width="1.1"/><text transform="matrix(.86 0 0 1 214.5 291.9)" font-size="4.5" fill="#333">POA</text><path d="M200.3 295.9h12.3" stroke="#2e2e2e" stroke-width="1.1"/><text transform="matrix(.86 0 0 1 214.5 297.5)" font-size="4.5" fill="#333">GWO</text><path d="M200.3 301.3h12.3" stroke="#f535f0" stroke-width="1.1"/><text transform="matrix(.86 0 0 1 214.5 302.9)" font-size="4.5" fill="#333">PSO</text><path d="M200.3 306.6h12.3" stroke="#12e6ee" stroke-width="1.1"/><text transform="matrix(.86 0 0 1 214.5 308.2)" font-size="4.5" fill="#333">WSO</text><text transform="matrix(.83 0 0 1 142.5 370.5)" font-size="5.1" text-anchor="middle" fill="#303030">0</text><path d="M142.5 363.5L142.5 362.6M142.5 278.9L142.5 279.8" stroke="#777" stroke-width="0.4"/><text transform="matrix(.83 0 0 1 160 370.5)" font-size="5.1" text-anchor="middle" fill="#303030">200</text><path d="M160 363.5L160 362.6M160 278.9L160 279.8" stroke="#777" stroke-width="0.4"/><text transform="matrix(.83 0 0 1 177.6 370.5)" font-size="5.1" text-anchor="middle" fill="#303030">400</text><path d="M177.6 363.5L177.6 362.6M177.6 278.9L177.6 279.8" stroke="#777" stroke-width="0.4"/><text transform="matrix(.83 0 0 1 195.1 370.5)" font-size="5.1" text-anchor="middle" fill="#303030">600</text><path d="M195.1 363.5L195.1 362.6M195.1 278.9L195.1 279.8" stroke="#777" stroke-width="0.4"/><text transform="matrix(.83 0 0 1 212.7 370.5)" font-size="5.1" text-anchor="middle" fill="#303030">800</text><path d="M212.7 363.5L212.7 362.6M212.7 278.9L212.7 279.8" stroke="#777" stroke-width="0.4"/><text transform="matrix(.83 0 0 1 230.2 370.5)" font-size="5.1" text-anchor="middle" fill="#303030">1000</text><path d="M230.2 363.5L230.2 362.6M230.2 278.9L230.2 279.8" stroke="#777" stroke-width="0.4"/><text transform="matrix(.87 0 0 1 186.3 377)" font-size="5.3" text-anchor="middle" fill="#303030">Iteration</text><text transform="matrix(.86 0 0 1 141.5 281.4)" font-size="5.1" text-anchor="end" fill="#303030">-10<tspan dy="-1.9" font-size="4">3</tspan></text><path d="M142.5 279.3L143.4 279.3M230.2 279.3L229.3 279.3" stroke="#777" stroke-width="0.4"/><text transform="matrix(.86 0 0 1 141.5 323.1)" font-size="5.1" text-anchor="end" fill="#303030">-10<tspan dy="-1.9" font-size="4">4</tspan></text><path d="M142.5 321L143.4 321M230.2 321L229.3 321" stroke="#777" stroke-width="0.4"/><text transform="matrix(.86 0 0 1 141.5 365.4)" font-size="5.1" text-anchor="end" fill="#303030">-10<tspan dy="-1.9" font-size="4">5</tspan></text><path d="M142.5 363.3L143.4 363.3M230.2 363.3L229.3 363.3" stroke="#777" stroke-width="0.4"/><text font-size="5.1" fill="#303030" text-anchor="middle" transform="translate(128.9 321.2) rotate(-90) scale(1 .85)">log(Fitness value)</text><text transform="matrix(1.00 0 0 1 185.4 276.6)" font-size="5.0" text-anchor="middle" fill="#222" font-weight="bold">F8</text><path d="M463.3 278L463.3 362.8M481.4 278L481.4 362.8M499.5 278L499.5 362.8M517.6 278L517.6 362.8" stroke="#e4e4e4" stroke-width="0.4"/><path d="M445.2 282.2L535.7 282.2M445.2 286.5L535.7 286.5M445.2 290.7L535.7 290.7M445.2 295L535.7 295M445.2 303.4L535.7 303.4M445.2 307.7L535.7 307.7M445.2 311.9L535.7 311.9M445.2 316.2L535.7 316.2M445.2 324.6L535.7 324.6M445.2 328.9L535.7 328.9M445.2 333.1L535.7 333.1M445.2 337.4L535.7 337.4M445.2 345.8L535.7 345.8M445.2 350.1L535.7 350.1M445.2 354.3L535.7 354.3M445.2 358.6L535.7 358.6" stroke="#f1f1f1" stroke-width="0.35"/><path d="M445.2 299L535.7 299M445.2 320.3L535.7 320.3M445.2 341.8L535.7 341.8" stroke="#e0e0e0" stroke-width="0.4"/><clipPath id="cF10"><rect x="444.6" y="277.4" width="91.7" height="86"/></clipPath><rect x="445.2" y="278" width="90.5" height="84.8" fill="none" stroke="#777" stroke-width="0.5"/><g clip-path="url(#cF10)"><path d="M445.2 293.7L452.3 294.6L472.4 295.3L535.7 295.7" stroke="#12e6ee" stroke-width="1.1" fill="none" stroke-linejoin="round"/><path d="M445.2 293.7L535.7 293.9" stroke="#f535f0" stroke-width="1.3" fill="none" stroke-linejoin="round"/><path d="M445.2 293.7L449 296.3L452.3 304.2L459 325.4L465.8 347.8L468.3 354.5L469.8 356.6L472.5 357.5L485.9 358.1L535.7 358.4" stroke="#2e2e2e" stroke-width="1.1" fill="none" stroke-linejoin="round"/><path d="M445.2 293.7L447.9 300.8L452.3 323.2L456.9 347.8L459.5 358.6L460.8 360.4L462.5 360.8L535.7 360.8" stroke="#22ee70" stroke-width="1.05" fill="none" stroke-linejoin="round"/><path d="M445.2 293.7L446.7 305.3L450.1 338.9L452.3 359L453.5 361.2L454.6 361.5L535.7 361.5" stroke="#ff3b4e" stroke-width="1.2" fill="none" stroke-linejoin="round" stroke-dasharray="3 2.2"/></g><rect x="503.9" y="281.1" width="30.2" height="28" fill="#fff" stroke="#777" stroke-width="0.45"/><path d="M505.3 284h12.3" stroke="#ff3b4e" stroke-width="1.1" stroke-dasharray="2.6 1.9"/><text transform="matrix(.86 0 0 1 519.5 285.6)" font-size="4.5" fill="#333">IPOA</text><path d="M505.3 289.2h12.3" stroke="#22ee70" stroke-width="1.1"/><text transform="matrix(.86 0 0 1 519.5 290.8)" font-size="4.5" fill="#333">POA</text><path d="M505.3 294.8h12.3" stroke="#2e2e2e" stroke-width="1.1"/><text transform="matrix(.86 0 0 1 519.5 296.4)" font-size="4.5" fill="#333">GWO</text><path d="M505.3 300.4h12.3" stroke="#f535f0" stroke-width="1.1"/><text transform="matrix(.86 0 0 1 519.5 302)" font-size="4.5" fill="#333">PSO</text><path d="M505.3 305.5h12.3" stroke="#12e6ee" stroke-width="1.1"/><text transform="matrix(.86 0 0 1 519.5 307.1)" font-size="4.5" fill="#333">WSO</text><text transform="matrix(.83 0 0 1 445.2 370.2)" font-size="5.1" text-anchor="middle" fill="#303030">0</text><path d="M445.2 362.8L445.2 361.9M445.2 278L445.2 278.9" stroke="#777" stroke-width="0.4"/><text transform="matrix(.83 0 0 1 463.3 370.2)" font-size="5.1" text-anchor="middle" fill="#303030">200</text><path d="M463.3 362.8L463.3 361.9M463.3 278L463.3 278.9" stroke="#777" stroke-width="0.4"/><text transform="matrix(.83 0 0 1 481.4 370.2)" font-size="5.1" text-anchor="middle" fill="#303030">400</text><path d="M481.4 362.8L481.4 361.9M481.4 278L481.4 278.9" stroke="#777" stroke-width="0.4"/><text transform="matrix(.83 0 0 1 499.5 370.2)" font-size="5.1" text-anchor="middle" fill="#303030">600</text><path d="M499.5 362.8L499.5 361.9M499.5 278L499.5 278.9" stroke="#777" stroke-width="0.4"/><text transform="matrix(.83 0 0 1 517.6 370.2)" font-size="5.1" text-anchor="middle" fill="#303030">800</text><path d="M517.6 362.8L517.6 361.9M517.6 278L517.6 278.9" stroke="#777" stroke-width="0.4"/><text transform="matrix(.83 0 0 1 535.7 370.2)" font-size="5.1" text-anchor="middle" fill="#303030">1000</text><path d="M535.7 362.8L535.7 361.9M535.7 278L535.7 278.9" stroke="#777" stroke-width="0.4"/><text transform="matrix(.87 0 0 1 490.5 376.7)" font-size="5.3" text-anchor="middle" fill="#303030">Iteration</text><text transform="matrix(.86 0 0 1 444.2 280.5)" font-size="5.1" text-anchor="end" fill="#303030">10<tspan dy="-1.9" font-size="4">5</tspan></text><path d="M445.2 278.4L446.1 278.4M535.7 278.4L534.8 278.4" stroke="#777" stroke-width="0.4"/><text transform="matrix(.86 0 0 1 444.2 301.1)" font-size="5.1" text-anchor="end" fill="#303030">10<tspan dy="-1.9" font-size="4">0</tspan></text><path d="M445.2 299L446.1 299M535.7 299L534.8 299" stroke="#777" stroke-width="0.4"/><text transform="matrix(.86 0 0 1 444.2 322.4)" font-size="5.1" text-anchor="end" fill="#303030">10<tspan dy="-1.9" font-size="4">-5</tspan></text><path d="M445.2 320.3L446.1 320.3M535.7 320.3L534.8 320.3" stroke="#777" stroke-width="0.4"/><text transform="matrix(.86 0 0 1 444.2 343.9)" font-size="5.1" text-anchor="end" fill="#303030">10<tspan dy="-1.9" font-size="4">-10</tspan></text><path d="M445.2 341.8L446.1 341.8M535.7 341.8L534.8 341.8" stroke="#777" stroke-width="0.4"/><text transform="matrix(.86 0 0 1 444.2 364.7)" font-size="5.1" text-anchor="end" fill="#303030">10<tspan dy="-1.9" font-size="4">-15</tspan></text><path d="M445.2 362.6L446.1 362.6M535.7 362.6L534.8 362.6" stroke="#777" stroke-width="0.4"/><text font-size="5.1" fill="#303030" text-anchor="middle" transform="translate(429.5 320.4) rotate(-90) scale(1 .85)">log(Fitness value)</text><text transform="matrix(1.00 0 0 1 491.1 275.7)" font-size="5.0" text-anchor="middle" fill="#222" font-weight="bold">F10</text><path d="M160 409.9L160 495.6M177.6 409.9L177.6 495.6M195.1 409.9L195.1 495.6M212.7 409.9L212.7 495.6" stroke="#e4e4e4" stroke-width="0.4"/><path d="M142.5 415.2L230.2 415.2M142.5 420.6L230.2 420.6M142.5 425.9L230.2 425.9M142.5 431.2L230.2 431.2M142.5 441.9L230.2 441.9M142.5 447.2L230.2 447.2M142.5 452.5L230.2 452.5M142.5 457.9L230.2 457.9M142.5 468.5L230.2 468.5M142.5 473.9L230.2 473.9M142.5 479.2L230.2 479.2M142.5 484.5L230.2 484.5" stroke="#f1f1f1" stroke-width="0.35"/><path d="M142.5 436.7L230.2 436.7M142.5 463.2L230.2 463.2M142.5 490L230.2 490" stroke="#e0e0e0" stroke-width="0.4"/><clipPath id="cF12"><rect x="141.9" y="409.3" width="88.9" height="86.9"/></clipPath><rect x="142.5" y="409.9" width="87.7" height="85.7" fill="none" stroke="#777" stroke-width="0.5"/><g clip-path="url(#cF12)"><path d="M142.5 415.7L144.1 425.1L146.3 434.1L148.6 439.7L150.7 441.9L151.9 445.7L158.6 447L160.8 448.4L230.2 448.6" stroke="#f535f0" stroke-width="1.2" fill="none" stroke-linejoin="round"/><path d="M142.5 418.4L144.1 440.8L146.3 454.2L149.7 456.4L158.6 457.6L169.8 458.2L192.1 459.1L214.5 460.9L230.2 462.7" stroke="#12e6ee" stroke-width="1.2" fill="none" stroke-linejoin="round"/><path d="M142.5 422.9L144.1 452L145.7 462L147.4 464.9L154.2 466.1L169.8 466.5L230.2 467.4" stroke="#22ee70" stroke-width="1.05" fill="none" stroke-linejoin="round"/><path d="M142.5 425.1L144.1 456.4L145.7 464.3L147.4 466.5L154.2 468.3L169.8 469.2L192.1 469.9L230.2 470.3" stroke="#2e2e2e" stroke-width="1.1" fill="none" stroke-linejoin="round"/><path d="M142.5 430L144.1 463.2L147.4 467.2L154.2 471L160.8 475.5L169.8 480.6L181 483.3L192.1 485.5L203.4 487.1L214.5 488.2L221.3 489.4L225.7 492.7L230.2 495.2" stroke="#ff3b4e" stroke-width="1.2" fill="none" stroke-linejoin="round" stroke-dasharray="3 2.2"/></g><rect x="198.9" y="412.8" width="27.3" height="28.6" fill="#fff" stroke="#777" stroke-width="0.45"/><path d="M200.3 416.6h12.3" stroke="#ff3b4e" stroke-width="1.1" stroke-dasharray="2.6 1.9"/><text transform="matrix(.86 0 0 1 214.5 418.2)" font-size="4.5" fill="#333">IPOA</text><path d="M200.3 422.2h12.3" stroke="#22ee70" stroke-width="1.1"/><text transform="matrix(.86 0 0 1 214.5 423.8)" font-size="4.5" fill="#333">POA</text><path d="M200.3 427.8h12.3" stroke="#2e2e2e" stroke-width="1.1"/><text transform="matrix(.86 0 0 1 214.5 429.4)" font-size="4.5" fill="#333">GWO</text><path d="M200.3 432.9h12.3" stroke="#f535f0" stroke-width="1.1"/><text transform="matrix(.86 0 0 1 214.5 434.5)" font-size="4.5" fill="#333">PSO</text><path d="M200.3 438.5h12.3" stroke="#12e6ee" stroke-width="1.1"/><text transform="matrix(.86 0 0 1 214.5 440.1)" font-size="4.5" fill="#333">WSO</text><text transform="matrix(.83 0 0 1 142.5 502.4)" font-size="5.1" text-anchor="middle" fill="#303030">0</text><path d="M142.5 495.6L142.5 494.7M142.5 409.9L142.5 410.8" stroke="#777" stroke-width="0.4"/><text transform="matrix(.83 0 0 1 160 502.4)" font-size="5.1" text-anchor="middle" fill="#303030">200</text><path d="M160 495.6L160 494.7M160 409.9L160 410.8" stroke="#777" stroke-width="0.4"/><text transform="matrix(.83 0 0 1 177.6 502.4)" font-size="5.1" text-anchor="middle" fill="#303030">400</text><path d="M177.6 495.6L177.6 494.7M177.6 409.9L177.6 410.8" stroke="#777" stroke-width="0.4"/><text transform="matrix(.83 0 0 1 195.1 502.4)" font-size="5.1" text-anchor="middle" fill="#303030">600</text><path d="M195.1 495.6L195.1 494.7M195.1 409.9L195.1 410.8" stroke="#777" stroke-width="0.4"/><text transform="matrix(.83 0 0 1 212.7 502.4)" font-size="5.1" text-anchor="middle" fill="#303030">800</text><path d="M212.7 495.6L212.7 494.7M212.7 409.9L212.7 410.8" stroke="#777" stroke-width="0.4"/><text transform="matrix(.83 0 0 1 230.2 502.4)" font-size="5.1" text-anchor="middle" fill="#303030">1000</text><path d="M230.2 495.6L230.2 494.7M230.2 409.9L230.2 410.8" stroke="#777" stroke-width="0.4"/><text transform="matrix(.87 0 0 1 186.3 508.9)" font-size="5.3" text-anchor="middle" fill="#303030">Iteration</text><text transform="matrix(.86 0 0 1 141.5 412.4)" font-size="5.1" text-anchor="end" fill="#303030">10<tspan dy="-1.9" font-size="4">10</tspan></text><path d="M142.5 410.3L143.4 410.3M230.2 410.3L229.3 410.3" stroke="#777" stroke-width="0.4"/><text transform="matrix(.86 0 0 1 141.5 438.8)" font-size="5.1" text-anchor="end" fill="#303030">10<tspan dy="-1.9" font-size="4">5</tspan></text><path d="M142.5 436.7L143.4 436.7M230.2 436.7L229.3 436.7" stroke="#777" stroke-width="0.4"/><text transform="matrix(.86 0 0 1 141.5 465.3)" font-size="5.1" text-anchor="end" fill="#303030">10<tspan dy="-1.9" font-size="4">0</tspan></text><path d="M142.5 463.2L143.4 463.2M230.2 463.2L229.3 463.2" stroke="#777" stroke-width="0.4"/><text transform="matrix(.86 0 0 1 141.5 492.1)" font-size="5.1" text-anchor="end" fill="#303030">10<tspan dy="-1.9" font-size="4">-5</tspan></text><path d="M142.5 490L143.4 490M230.2 490L229.3 490" stroke="#777" stroke-width="0.4"/><text font-size="5.1" fill="#303030" text-anchor="middle" transform="translate(128.2 452.8) rotate(-90) scale(1 .85)">log(Fitness value)</text><text transform="matrix(1.00 0 0 1 185.9 408.3)" font-size="5.0" text-anchor="middle" fill="#222" font-weight="bold">F12</text><path d="M465 407.2L465 496.7M484 407.2L484 496.7M502.9 407.2L502.9 496.7M521.9 407.2L521.9 496.7" stroke="#e4e4e4" stroke-width="0.4"/><path d="M446.1 484.3L540.8 484.3M446.1 476.8L540.8 476.8M446.1 471.5L540.8 471.5M446.1 467.4L540.8 467.4M446.1 464.1L540.8 464.1M446.1 461.3L540.8 461.3M446.1 458.8L540.8 458.8M446.1 456.6L540.8 456.6M446.1 441.7L540.8 441.7M446.1 434.2L540.8 434.2M446.1 428.9L540.8 428.9M446.1 424.8L540.8 424.8M446.1 421.5L540.8 421.5M446.1 418.7L540.8 418.7M446.1 416.2L540.8 416.2M446.1 414L540.8 414" stroke="#f1f1f1" stroke-width="0.35"/><path d="M446.1 412.1L540.8 412.1M446.1 454.7L540.8 454.7" stroke="#e0e0e0" stroke-width="0.4"/><clipPath id="cF14"><rect x="445.5" y="406.6" width="95.9" height="90.7"/></clipPath><rect x="446.1" y="407.2" width="94.7" height="89.5" fill="none" stroke="#777" stroke-width="0.5"/><g clip-path="url(#cF14)"><path d="M446.1 458.7L447.9 469.9L450.2 480L452.4 483.3L454.6 484.2L540.8 484.2" stroke="#2e2e2e" stroke-width="1.5" fill="none" stroke-linejoin="round"/><path d="M446.1 452L447.9 469.9L449 475.5L451.8 480.5L454.6 484.4L460.8 484.6L461.3 486.7L467.4 486.9L468.1 489.5L469.8 489.7L470.4 491.3L474.1 491.5L474.8 493L477.5 493.2L478.1 494.8L483 495L483.7 496.4L540.8 496.4" stroke="#12e6ee" stroke-width="1.3" fill="none" stroke-linejoin="round"/><path d="M446.1 407.2L446.8 452L449 481.1L451.2 491.1L452.4 493.4L459.1 493.4L459.5 496.5L484 496.5" stroke="#f535f0" stroke-width="1.1" fill="none" stroke-linejoin="round"/><path d="M446.1 463.2L447.9 485.5L450.2 492.3L452.4 495.6L457.9 496.5" stroke="#22ee70" stroke-width="1.05" fill="none" stroke-linejoin="round"/><path d="M446.1 463.2L446.6 496.3L449 496.3" stroke="#ff3b4e" stroke-width="1.2" fill="none" stroke-linejoin="round" stroke-dasharray="3 2.2"/></g><rect x="508.4" y="411.2" width="29.5" height="29.1" fill="#fff" stroke="#777" stroke-width="0.45"/><path d="M509.8 414.6h12.3" stroke="#ff3b4e" stroke-width="1.1" stroke-dasharray="2.6 1.9"/><text transform="matrix(.86 0 0 1 524 416.2)" font-size="4.5" fill="#333">IPOA</text><path d="M509.8 420.2h12.3" stroke="#22ee70" stroke-width="1.1"/><text transform="matrix(.86 0 0 1 524 421.8)" font-size="4.5" fill="#333">POA</text><path d="M509.8 426.2h12.3" stroke="#2e2e2e" stroke-width="1.1"/><text transform="matrix(.86 0 0 1 524 427.8)" font-size="4.5" fill="#333">GWO</text><path d="M509.8 431.8h12.3" stroke="#f535f0" stroke-width="1.1"/><text transform="matrix(.86 0 0 1 524 433.4)" font-size="4.5" fill="#333">PSO</text><path d="M509.8 437.4h12.3" stroke="#12e6ee" stroke-width="1.1"/><text transform="matrix(.86 0 0 1 524 439)" font-size="4.5" fill="#333">WSO</text><text transform="matrix(.83 0 0 1 446.1 503.8)" font-size="5.1" text-anchor="middle" fill="#303030">0</text><path d="M446.1 496.7L446.1 495.8M446.1 407.2L446.1 408.1" stroke="#777" stroke-width="0.4"/><text transform="matrix(.83 0 0 1 465 503.8)" font-size="5.1" text-anchor="middle" fill="#303030">200</text><path d="M465 496.7L465 495.8M465 407.2L465 408.1" stroke="#777" stroke-width="0.4"/><text transform="matrix(.83 0 0 1 484 503.8)" font-size="5.1" text-anchor="middle" fill="#303030">400</text><path d="M484 496.7L484 495.8M484 407.2L484 408.1" stroke="#777" stroke-width="0.4"/><text transform="matrix(.83 0 0 1 502.9 503.8)" font-size="5.1" text-anchor="middle" fill="#303030">600</text><path d="M502.9 496.7L502.9 495.8M502.9 407.2L502.9 408.1" stroke="#777" stroke-width="0.4"/><text transform="matrix(.83 0 0 1 521.9 503.8)" font-size="5.1" text-anchor="middle" fill="#303030">800</text><path d="M521.9 496.7L521.9 495.8M521.9 407.2L521.9 408.1" stroke="#777" stroke-width="0.4"/><text transform="matrix(.83 0 0 1 540.8 503.8)" font-size="5.1" text-anchor="middle" fill="#303030">1000</text><path d="M540.8 496.7L540.8 495.8M540.8 407.2L540.8 408.1" stroke="#777" stroke-width="0.4"/><text transform="matrix(.87 0 0 1 493.4 510.7)" font-size="5.3" text-anchor="middle" fill="#303030">Iteration</text><text transform="matrix(.86 0 0 1 445.1 414.2)" font-size="5.1" text-anchor="end" fill="#303030">10<tspan dy="-1.9" font-size="4">2</tspan></text><path d="M446.1 412.1L447 412.1M540.8 412.1L539.9 412.1" stroke="#777" stroke-width="0.4"/><text transform="matrix(.86 0 0 1 445.1 456.8)" font-size="5.1" text-anchor="end" fill="#303030">10<tspan dy="-1.9" font-size="4">1</tspan></text><path d="M446.1 454.7L447 454.7M540.8 454.7L539.9 454.7" stroke="#777" stroke-width="0.4"/><text transform="matrix(.86 0 0 1 445.1 498.6)" font-size="5.1" text-anchor="end" fill="#303030">10<tspan dy="-1.9" font-size="4">0</tspan></text><path d="M446.1 496.5L447 496.5M540.8 496.5L539.9 496.5" stroke="#777" stroke-width="0.4"/><text font-size="5.1" fill="#303030" text-anchor="middle" transform="translate(434.2 451.9) rotate(-90) scale(1 .85)">log(Fitness value)</text><text transform="matrix(1.00 0 0 1 492.7 405.4)" font-size="5.0" text-anchor="middle" fill="#222" font-weight="bold">F14</text></g><text x="124.3" y="134.2" font-size="13.6" text-anchor="middle" fill="#111" font-family="Liberation Serif, Times New Roman, serif">(<tspan font-weight="bold">a</tspan>)</text><text x="427.3" y="134.2" font-size="13.6" text-anchor="middle" fill="#111" font-family="Liberation Serif, Times New Roman, serif">(<tspan font-weight="bold">b</tspan>)</text><text x="124.4" y="264.2" font-size="13.6" text-anchor="middle" fill="#111" font-family="Liberation Serif, Times New Roman, serif">(<tspan font-weight="bold">c</tspan>)</text><text x="427.3" y="264.2" font-size="13.6" text-anchor="middle" fill="#111" font-family="Liberation Serif, Times New Roman, serif">(<tspan font-weight="bold">d</tspan>)</text><text x="124.4" y="395.3" font-size="13.6" text-anchor="middle" fill="#111" font-family="Liberation Serif, Times New Roman, serif">(<tspan font-weight="bold">e</tspan>)</text><text x="427.3" y="395.3" font-size="13.6" text-anchor="middle" fill="#111" font-family="Liberation Serif, Times New Roman, serif">(<tspan font-weight="bold">f</tspan>)</text><text x="124.4" y="527.7" font-size="13.6" text-anchor="middle" fill="#111" font-family="Liberation Serif, Times New Roman, serif">(<tspan font-weight="bold">g</tspan>)</text><text x="427.3" y="527.7" font-size="13.6" text-anchor="middle" fill="#111" font-family="Liberation Serif, Times New Roman, serif">(<tspan font-weight="bold">h</tspan>)</text></svg></body></html>
